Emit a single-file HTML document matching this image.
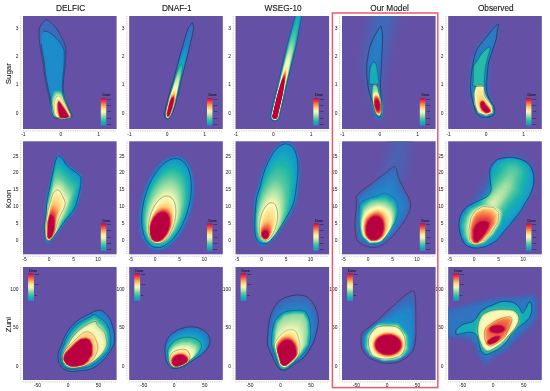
<!DOCTYPE html><html><head><meta charset="utf-8"><style>html,body{margin:0;padding:0;background:#fff;width:550px;height:391px;overflow:hidden}svg{display:block}.ax{stroke:#b4b4b4;stroke-width:0.8;stroke-dasharray:0.9 0.9}.tl{font-family:'Liberation Sans', Arial, Helvetica, sans-serif;font-size:4.9px;fill:#111}.lt{font-family:'Liberation Sans', Arial, Helvetica, sans-serif;font-size:2.5px;font-weight:bold;fill:#2a1a4a}.dose{font-family:'Liberation Sans', Arial, Helvetica, sans-serif;font-size:3.5px;fill:#000}.ti{font-family:'Liberation Sans', Arial, Helvetica, sans-serif;font-size:8.25px;fill:#111;stroke:#111;stroke-width:0.1px}.rl{font-family:'Liberation Sans', Arial, Helvetica, sans-serif;font-size:8.0px;fill:#111;stroke:#111;stroke-width:0.05px}</style></head><body><svg width="550" height="391" viewBox="0 0 550 391"><defs><linearGradient id="cb" x1="0" y1="0" x2="0" y2="1"><stop offset="0.00" stop-color="#be0a41"/><stop offset="0.10" stop-color="#de3646"/><stop offset="0.20" stop-color="#f57346"/><stop offset="0.30" stop-color="#fcb362"/><stop offset="0.40" stop-color="#fee594"/><stop offset="0.50" stop-color="#f3f8b9"/><stop offset="0.60" stop-color="#bde8a9"/><stop offset="0.70" stop-color="#73d2a2"/><stop offset="0.80" stop-color="#39bfa4"/><stop offset="0.90" stop-color="#18abb8"/><stop offset="1.00" stop-color="#1993ca"/></linearGradient><clipPath id="pc"><rect x="0" y="0" width="93.6" height="113.0"/></clipPath><filter id="bl" x="-5%" y="-5%" width="110%" height="110%"><feGaussianBlur stdDeviation="0.70"/></filter></defs><rect width="550" height="391" fill="#fff"/><text x="70.6" y="10.8" class="ti" text-anchor="middle">DELFIC</text><text x="176.8" y="10.8" class="ti" text-anchor="middle">DNAF-1</text><text x="283.1" y="10.8" class="ti" text-anchor="middle">WSEG-10</text><text x="389.6" y="10.8" class="ti" text-anchor="middle">Our Model</text><text x="495.8" y="10.8" class="ti" text-anchor="middle">Observed</text><text class="rl" text-anchor="middle" transform="translate(11.2,73.7) rotate(-90)">Sugar</text><text class="rl" text-anchor="middle" transform="translate(11.2,199.0) rotate(-90)">Koon</text><text class="rl" text-anchor="middle" transform="translate(11.2,324.7) rotate(-90)">Zuni</text><g transform="translate(23.0,16.0)"><rect width="93.6" height="113.0" fill="#6450a5"/><g clip-path="url(#pc)"><g filter="url(#bl)"><path fill="#5d55a9" d="M23.6,3.4 21.4,4.4 17.9,8.1 15.9,12.9 15.6,21.4 17.4,35.4 19.9,47.6 21.1,60.1 22.9,69.9 26.6,85.1 26.6,90.4 27.4,95.1 29.6,100.4 34.6,103.4 39.4,104.1 46.6,102.9 48.1,102.1 49.6,99.4 43.6,85.4 40.9,71.4 43.6,42.1 43.4,32.1 41.4,25.4 34.4,12.6 29.1,6.9 24.9,3.6Z"/><path fill="#5958ac" d="M23.6,3.6 21.4,4.6 19.4,6.6 16.9,10.9 16.1,12.9 15.9,21.9 17.9,37.1 20.1,47.9 21.1,58.9 23.4,71.1 26.9,85.4 26.6,88.9 27.6,95.4 29.9,100.4 34.6,103.1 37.4,103.9 40.1,103.9 45.9,102.9 48.1,101.9 49.4,99.1 43.6,86.1 40.6,70.9 43.4,42.6 43.1,31.9 41.4,25.9 34.1,12.6 29.1,7.1 24.9,3.9Z"/><path fill="#555bae" d="M23.4,3.9 21.6,4.6 19.1,7.1 16.6,11.9 16.1,13.9 16.1,22.9 17.6,34.6 20.1,46.9 21.6,60.9 26.9,84.6 26.9,89.9 27.6,94.9 29.6,99.9 30.9,101.1 33.9,102.6 37.6,103.9 46.6,102.6 48.4,101.4 49.1,98.9 43.4,85.6 40.6,72.9 41.1,61.6 43.4,41.1 42.9,31.6 41.1,25.6 34.1,12.9 28.9,7.1 24.6,3.9Z"/><path fill="#505eb1" d="M23.9,3.9 21.9,4.6 18.9,7.6 16.4,12.9 16.1,21.4 16.9,29.1 20.4,47.6 21.4,58.6 23.4,69.9 27.1,85.1 26.9,88.9 27.9,95.6 29.9,100.1 34.9,102.9 39.1,103.9 47.6,102.1 48.6,100.9 48.9,98.6 43.4,85.9 40.4,71.4 43.1,42.1 42.9,32.1 40.9,25.4 34.1,13.1 28.6,7.1Z"/><path fill="#4b62b3" d="M23.6,4.1 21.4,5.1 18.9,7.9 16.6,12.6 16.4,22.6 17.6,32.9 20.4,46.6 21.4,57.9 23.6,70.4 27.1,84.4 27.1,90.4 27.9,95.4 30.1,100.4 35.1,102.9 38.9,103.9 46.1,102.6 48.4,101.1 48.9,99.1 43.4,86.1 40.4,72.9 40.9,61.4 43.1,40.6 42.6,31.6 40.4,24.6 33.6,12.6 28.1,6.9 24.9,4.4Z"/><path fill="#4665b6" d="M23.4,4.4 21.6,5.1 18.9,8.1 16.9,12.4 16.4,20.9 17.1,28.9 20.6,47.4 22.1,61.4 27.1,83.9 27.1,89.6 27.9,95.1 29.9,99.9 33.6,102.1 37.4,103.6 45.9,102.6 48.4,101.1 48.6,98.6 43.4,86.4 40.4,74.1 40.1,71.1 42.9,41.9 42.6,32.4 40.6,25.6 33.6,12.9 27.9,6.9 24.6,4.4Z"/><path fill="#4168b8" d="M23.9,4.4 22.4,4.9 18.9,8.4 16.9,12.9 16.6,21.6 18.1,34.1 20.9,48.4 21.9,59.1 23.9,70.1 27.4,84.4 27.1,89.1 28.1,95.9 30.6,100.6 36.1,103.1 39.6,103.6 45.6,102.6 48.1,101.4 48.6,98.9 43.6,87.4 40.1,72.9 40.1,67.6 42.6,42.6 42.4,32.1 40.4,25.4 34.4,14.4 29.4,8.4Z"/><path fill="#3c6bba" d="M23.4,4.9 22.1,5.4 19.6,7.9 17.4,12.4 16.9,21.4 18.6,36.1 20.9,47.1 22.4,61.1 24.1,70.6 27.4,83.6 27.4,90.9 28.1,95.6 30.6,100.6 36.9,103.4 39.4,103.6 46.6,102.4 48.4,100.9 48.6,99.1 43.1,85.9 40.9,75.6 40.1,74.1 39.9,71.1 42.4,42.9 42.1,32.4 40.1,25.6 33.4,13.4 28.4,7.9 24.9,5.1Z"/><path fill="#376ebd" d="M21.1,14.6 19.9,15.6 17.6,19.4 17.6,27.4 21.1,47.9 22.9,63.1 27.4,83.1 27.4,90.4 28.1,95.4 30.4,100.4 36.4,103.1 39.1,103.6 46.4,102.4 48.4,100.9 48.6,99.1 43.4,86.9 39.9,72.9 39.9,67.9 42.1,42.6 41.6,33.4 38.9,27.6 32.9,20.6 26.1,15.6Z"/><path fill="#3272bf" d="M20.9,15.1 17.9,19.6 17.9,28.1 21.1,46.9 22.4,59.4 24.4,70.4 27.6,83.6 27.4,89.9 28.4,96.1 30.9,100.6 37.1,103.4 39.1,103.6 46.4,102.4 48.1,101.1 48.6,99.4 43.1,86.1 40.9,76.1 39.9,74.4 39.6,71.1 41.6,49.6 41.9,37.4 41.4,33.6 38.1,27.1 32.4,20.6 25.4,15.6Z"/><path fill="#2f76c1" d="M21.1,15.1 18.1,19.4 18.1,28.9 21.4,47.4 23.1,62.9 27.6,82.9 27.4,89.1 28.1,95.1 30.1,99.9 34.1,102.1 38.1,103.6 46.1,102.4 48.1,101.1 48.6,99.6 43.4,87.1 39.6,72.6 39.6,67.9 41.6,46.4 41.6,36.9 41.1,33.4 38.6,28.1 32.4,20.9 25.6,15.9Z"/><path fill="#2c79c3" d="M21.1,15.4 18.4,19.1 18.4,29.6 21.4,46.6 22.9,60.6 27.6,82.4 27.6,91.1 28.4,95.9 30.9,100.6 36.6,103.1 38.6,103.6 46.1,102.4 47.9,101.4 48.6,99.6 43.4,87.1 40.9,76.6 39.6,74.4 39.4,69.4 41.4,49.9 41.6,38.1 41.1,33.9 38.6,28.4 33.1,21.6 26.1,16.4Z"/><path fill="#297dc4" d="M21.4,15.4 18.4,19.6 18.4,28.6 21.6,47.4 22.9,59.9 24.6,69.6 27.9,82.9 27.6,90.6 28.4,95.6 30.6,100.4 36.6,103.1 39.9,103.4 46.9,102.1 48.4,100.6 48.4,98.9 43.6,87.9 39.4,72.6 39.4,67.9 41.4,45.9 40.9,33.4 38.1,27.9 32.6,21.4 25.9,16.4Z"/><path fill="#2681c6" d="M21.1,15.6 18.6,19.4 18.6,29.4 21.6,46.6 22.9,59.1 24.9,70.1 27.9,82.4 27.6,90.4 28.4,95.6 30.6,100.4 36.1,102.9 39.9,103.4 45.9,102.4 47.6,101.6 48.4,100.4 48.4,98.9 43.4,87.4 40.9,77.1 39.4,74.6 39.1,69.4 41.1,49.6 41.4,38.4 40.6,33.1 38.1,28.1 32.4,21.4 25.6,16.4Z"/><path fill="#2384c8" d="M21.1,15.9 18.6,19.9 18.6,28.1 21.9,47.1 23.1,59.6 27.9,81.6 27.6,89.6 28.6,96.4 30.1,99.6 31.1,100.6 37.6,103.4 46.6,102.1 48.4,100.4 48.1,98.1 43.4,87.4 40.9,77.4 39.4,74.9 39.1,73.1 39.4,64.4 40.9,50.9 41.1,37.6 40.6,33.6 38.1,28.4 32.1,21.4 26.1,16.9 24.4,16.1Z"/><path fill="#2088ca" d="M21.1,16.1 18.9,19.6 18.9,28.4 22.1,47.1 23.1,58.4 25.1,69.6 28.1,81.6 27.6,88.9 28.4,95.4 31.1,100.6 36.9,103.1 39.6,103.4 46.6,102.1 48.1,100.9 48.4,99.1 43.1,86.9 40.4,76.1 39.1,74.9 38.9,72.6 40.9,45.4 40.4,33.6 37.9,28.4 32.1,21.6 25.4,16.6Z"/><path fill="#1d8ccb" d="M22.4,17.9 20.4,20.9 20.4,27.6 23.4,44.9 24.6,57.4 26.6,68.4 28.9,77.1 27.9,84.4 27.9,91.4 28.6,96.1 30.9,100.4 36.4,102.9 39.4,103.4 46.4,102.1 47.9,101.1 48.4,99.1 43.4,87.6 40.4,76.4 37.6,74.1 37.4,67.6 39.4,48.4 39.4,37.9 38.9,34.9 36.4,29.9 31.4,23.6 23.6,17.9Z"/><path fill="#1b8fca" d="M30.6,74.6 28.9,78.6 27.9,85.1 28.4,94.9 30.4,99.9 37.9,103.4 47.1,101.9 48.4,100.1 48.1,98.4 43.4,87.6 40.1,76.1 37.1,74.1 31.6,74.1Z"/><path fill="#1a92ca" d="M30.1,75.4 28.9,78.9 27.9,86.1 28.4,94.9 30.1,99.4 30.9,100.4 37.9,103.4 47.4,101.6 48.4,99.4 43.1,87.1 40.1,76.4 36.9,74.1 31.9,74.1Z"/><path fill="#1796c9" d="M31.1,74.6 30.1,75.6 29.1,78.4 27.9,86.9 28.6,95.9 30.6,100.1 38.1,103.4 47.4,101.6 48.4,100.1 48.1,98.6 43.4,87.9 40.1,76.6 36.4,74.1 32.6,74.1Z"/><path fill="#159bc9" d="M31.1,74.9 29.1,78.9 28.1,84.9 28.4,94.1 30.4,99.6 33.6,101.6 38.1,103.4 46.9,101.9 48.1,100.6 48.1,98.9 43.1,87.4 40.1,76.9 36.9,74.4 32.1,74.4Z"/><path fill="#12a1c7" d="M31.9,74.6 30.6,75.6 29.1,79.4 28.1,86.1 28.6,95.4 30.4,99.6 33.1,101.4 38.4,103.4 47.1,101.6 48.1,100.4 48.1,98.9 43.1,87.4 39.9,76.9 37.1,74.6Z"/><path fill="#15a6c0" d="M31.9,74.9 30.4,76.4 29.1,79.9 28.1,87.4 28.6,95.1 30.6,99.9 37.6,103.1 41.9,102.9 47.1,101.6 48.1,100.4 48.1,99.1 43.1,87.6 40.1,77.6 37.1,74.9Z"/><path fill="#18acb8" d="M31.9,75.1 29.9,78.1 28.4,85.4 28.6,94.6 30.9,100.1 37.6,103.1 41.6,102.9 47.1,101.6 48.1,100.4 48.1,99.1 43.1,87.6 40.4,78.4 36.9,74.9Z"/><path fill="#1bb1b0" d="M32.1,75.1 30.9,76.4 29.1,80.9 28.4,86.6 28.9,95.6 30.6,99.6 37.6,103.1 47.1,101.6 48.1,99.4 42.9,87.1 39.9,77.9 37.1,75.1Z"/><path fill="#1eb6a9" d="M32.1,75.4 31.1,76.4 29.6,79.6 28.4,87.9 28.9,95.4 30.6,99.6 32.4,100.9 37.9,103.1 44.1,102.4 47.4,101.4 48.1,99.4 42.9,87.4 40.1,78.6 37.1,75.4Z"/><path fill="#28baa7" d="M32.1,75.6 31.1,76.6 29.6,80.1 28.6,86.4 28.9,95.1 30.4,99.1 31.1,100.1 37.9,103.1 46.9,101.6 47.9,100.6 47.9,98.6 42.9,87.4 39.9,78.6 36.9,75.4Z"/><path fill="#33bea5" d="M32.4,75.6 31.4,76.6 29.6,80.6 28.6,87.4 28.9,94.6 30.6,99.4 31.6,100.4 38.1,103.1 46.9,101.6 47.9,100.4 47.9,98.9 42.9,87.6 39.9,78.9 37.1,75.6Z"/><path fill="#3ec1a4" d="M32.4,75.9 29.9,80.4 28.9,86.1 28.9,93.9 30.6,99.4 38.1,103.1 47.1,101.4 47.9,100.4 47.9,98.9 42.6,87.1 40.1,79.6 37.1,75.9Z"/><path fill="#49c5a2" d="M32.4,76.1 29.9,80.9 28.9,87.4 29.1,95.1 30.9,99.6 38.4,103.1 47.1,101.4 47.9,100.4 47.4,97.6 42.9,87.9 39.6,79.1 37.1,76.1Z"/><path fill="#54c8a1" d="M32.4,76.4 29.9,81.6 29.1,86.4 29.1,94.4 30.6,99.1 31.9,100.4 37.4,102.9 42.1,102.6 47.1,101.4 47.9,100.1 47.6,98.4 42.6,87.4 40.1,80.4 37.6,76.6 36.4,76.1Z"/><path fill="#62cca1" d="M32.6,76.6 30.1,81.4 29.1,87.6 29.4,95.6 30.9,99.4 37.6,102.9 46.6,101.6 47.6,100.6 47.9,99.4 39.6,79.9 37.1,76.6Z"/><path fill="#73d2a2" d="M32.9,76.9 30.6,80.6 29.4,87.1 29.4,94.6 31.1,99.6 37.6,102.9 41.9,102.6 46.9,101.4 47.9,100.1 47.6,98.6 39.4,79.9 36.9,76.9Z"/><path fill="#84d6a3" d="M32.6,77.4 30.4,82.1 29.4,89.1 29.6,95.4 30.9,99.1 32.6,100.6 37.9,102.9 41.6,102.6 46.9,101.4 47.6,100.4 47.4,98.1 39.9,81.1 37.1,77.4Z"/><path fill="#94dca4" d="M33.1,77.6 30.6,82.1 29.6,88.4 29.9,96.1 31.1,99.4 37.9,102.9 46.9,101.4 47.6,100.4 47.1,97.6 39.6,81.1 37.1,77.9Z"/><path fill="#a5e0a5" d="M33.4,77.9 31.1,81.6 29.9,88.4 30.1,96.6 31.1,99.1 32.4,100.4 38.1,102.9 44.1,102.1 47.1,101.1 47.6,100.4 47.4,98.4 39.4,81.1 36.9,78.1Z"/><path fill="#b5e5a8" d="M33.4,78.4 31.1,82.4 30.1,88.1 30.4,96.9 31.4,99.4 38.1,102.9 46.6,101.4 47.6,100.1 47.1,97.9 39.1,81.1 37.9,79.4 36.4,78.4Z"/><path fill="#c4eaab" d="M33.4,78.9 31.1,83.4 30.4,88.1 30.4,94.6 31.4,99.1 32.6,100.4 38.4,102.9 46.6,101.4 47.6,100.1 47.1,98.1 39.9,82.9 37.1,79.1 35.4,78.6Z"/><path fill="#d4efaf" d="M33.6,79.1 31.6,82.6 30.6,88.1 30.6,94.9 31.9,99.6 37.4,102.6 42.4,102.4 46.9,101.1 47.4,98.9 39.6,82.9 36.9,79.4Z"/><path fill="#e3f4b2" d="M33.6,79.6 31.6,83.6 30.9,88.1 30.9,94.9 32.1,99.6 37.6,102.6 42.1,102.4 46.9,101.1 47.4,100.4 47.1,98.4 38.9,82.1 36.4,79.6Z"/><path fill="#eef7b6" d="M33.6,80.1 31.9,83.9 31.1,88.4 31.1,94.9 32.4,99.6 37.6,102.6 42.1,102.4 46.4,101.4 47.4,100.1 47.1,98.6 39.4,83.4 36.6,80.1Z"/><path fill="#f3f8b9" d="M34.1,80.4 32.1,84.1 31.4,88.9 31.6,96.6 32.6,99.6 37.9,102.6 41.9,102.4 46.6,101.1 47.4,99.9 46.6,97.6 39.6,84.4 36.9,80.9Z"/><path fill="#f9f9bc" d="M34.4,80.9 32.4,84.6 31.6,90.4 32.1,97.4 33.1,99.9 37.9,102.6 43.1,102.1 46.6,101.1 47.1,99.4 46.4,97.4 39.9,85.4 36.9,81.6Z"/><path fill="#fcf7b7" d="M34.4,81.6 32.9,84.6 32.1,89.6 32.4,96.4 33.6,100.1 38.1,102.6 46.1,101.4 47.1,99.6 43.4,91.6 38.1,83.6 36.4,82.1Z"/><path fill="#fdf0a9" d="M34.4,82.4 33.1,85.4 32.6,88.9 32.6,94.9 33.9,99.9 35.9,101.6 38.1,102.6 42.9,102.1 46.4,101.1 46.9,99.4 42.6,90.9 38.1,84.4 35.6,82.4Z"/><path fill="#fde99b" d="M34.6,82.9 33.6,85.1 33.1,88.4 33.1,95.1 34.6,100.4 36.4,101.9 38.6,102.6 46.4,101.1 46.9,99.9 43.1,92.1 37.9,84.9 35.9,83.1Z"/><path fill="#fee28d" d="M34.6,83.6 33.4,88.9 33.4,94.4 34.1,98.4 35.1,100.6 37.6,102.4 42.6,102.1 46.1,101.1 46.6,99.6 43.1,92.6 37.1,84.6 35.4,83.4Z"/><path fill="#fed682" d="M34.9,83.9 33.6,88.9 33.6,94.1 35.4,100.6 37.6,102.4 42.4,102.1 46.1,101.1 46.6,100.1 43.4,93.4 37.6,85.6 35.9,83.9Z"/><path fill="#fdca78" d="M35.1,84.1 34.4,85.4 33.9,88.4 33.9,94.1 34.6,98.1 35.9,101.1 37.9,102.4 45.6,101.4 46.4,100.9 46.4,99.9 42.9,92.9 35.9,84.1Z"/><path fill="#fdbe6d" d="M35.1,84.4 34.1,87.6 34.1,94.6 35.9,100.9 38.1,102.4 42.1,102.1 45.9,101.1 46.4,100.1 43.1,93.6 36.9,85.1Z"/><path fill="#fcb362" d="M35.4,84.4 34.4,86.9 34.1,93.1 34.9,97.9 36.1,101.1 38.4,102.4 45.9,101.1 46.1,99.9 43.1,93.9 37.1,85.6Z"/><path fill="#fba55b" d="M35.4,84.6 34.4,87.6 34.4,94.4 36.4,101.4 37.4,102.1 41.6,102.1 45.6,101.1 46.1,100.6 45.9,99.4 42.4,92.9 37.4,86.1Z"/><path fill="#f99755" d="M35.1,84.9 34.4,88.1 34.4,93.1 34.9,96.6 36.4,101.1 37.6,102.1 41.1,102.1 45.6,101.1 45.9,99.6 42.4,93.1 36.1,84.9Z"/><path fill="#f8884f" d="M35.4,84.9 34.4,89.1 34.6,94.4 36.6,101.4 37.9,102.1 40.1,102.1 45.4,101.1 45.9,99.9 42.4,93.4 37.1,86.1Z"/><path fill="#f67a49" d="M35.4,85.1 34.6,87.6 34.6,93.6 35.4,97.9 36.9,101.6 39.4,102.1 45.4,101.1 45.9,100.4 42.9,94.4 36.9,85.9Z"/><path fill="#f26c46" d="M35.4,85.1 34.6,88.4 34.6,92.1 35.4,97.4 36.6,101.1 37.6,101.9 42.1,101.9 45.1,101.1 45.6,99.6 42.1,93.4 36.6,85.6Z"/><path fill="#ed5f46" d="M35.4,85.4 34.6,89.1 34.9,94.1 36.9,101.4 37.9,101.9 41.9,101.9 45.1,101.1 45.6,99.9 42.6,94.4 36.9,86.1Z"/><path fill="#e85146" d="M35.6,85.4 34.9,87.6 34.9,93.1 35.6,97.6 36.9,101.1 38.4,101.9 44.9,101.1 45.4,99.6 43.1,95.4 37.4,86.9Z"/><path fill="#e34446" d="M35.6,85.4 34.9,88.1 34.9,91.9 35.6,97.1 37.1,101.4 42.9,101.6 45.1,100.9 45.4,99.6 42.9,95.1 37.6,87.4Z"/><path fill="#de3646" d="M35.6,85.6 34.9,90.6 35.4,95.1 36.9,100.9 37.9,101.6 42.6,101.6 44.6,101.1 45.4,99.9 43.4,96.1 37.4,87.1Z"/><path fill="#d72b45" d="M35.9,85.6 35.1,87.4 35.1,92.6 35.9,97.4 37.1,101.1 42.1,101.6 44.9,100.9 45.1,99.6 43.9,97.1Z"/><path fill="#d02244" d="M35.6,85.9 35.1,91.6 37.1,100.9 37.9,101.4 43.1,101.4 44.6,100.9 45.1,99.6 36.6,86.4Z"/><path fill="#c91843" d="M35.9,85.9 35.1,89.1 35.4,93.4 37.1,100.6 38.6,101.4 42.9,101.4 44.9,100.6 44.9,99.4 42.9,95.9Z"/><path fill="#c20f42" d="M35.9,86.1 35.4,87.6 35.4,92.1 36.4,98.1 37.4,100.9 40.4,101.4 44.4,100.9 44.9,99.6Z"/><path fill="#bd0841" d="M35.9,86.4 35.4,88.9 35.6,93.4 37.4,100.6 38.6,101.1 42.9,101.1 44.4,100.6 44.6,99.4 37.9,88.6Z"/><path fill="#bc0541" d="M35.9,86.6 35.6,91.9 37.4,100.4 41.1,101.1 44.1,100.6 44.6,100.1 44.1,98.6 37.4,88.1Z"/><path fill="#ba0241" d="M36.1,86.9 35.9,92.1 37.6,100.1 38.1,100.6 40.9,100.9 44.1,100.4 44.4,99.6Z"/><path fill="#b90041" d="M38.4,94.6 39.4,98.9 41.1,98.9Z"/></g></g><path fill="none" stroke="#1c1c30" stroke-width="0.55" stroke-opacity="0.75" stroke-linejoin="round" d="M24.10,3.80C25.38,4.28 27.60,6.20 29.20,7.70C30.80,9.20 32.32,10.88 33.70,12.80C35.08,14.72 36.33,17.07 37.50,19.20C38.67,21.33 39.85,23.47 40.70,25.60C41.55,27.73 42.22,29.60 42.60,32.00C42.98,34.40 43.10,37.00 43.00,40.00C42.90,43.00 42.33,46.67 42.00,50.00C41.67,53.33 41.30,56.67 41.00,60.00C40.70,63.33 40.25,67.17 40.20,70.00C40.15,72.83 40.43,74.83 40.70,77.00C40.97,79.17 41.25,81.17 41.80,83.00C42.35,84.83 43.22,86.17 44.00,88.00C44.78,89.83 45.67,92.08 46.50,94.00C47.33,95.92 49.00,98.25 49.00,99.50C49.00,100.75 48.00,100.92 46.50,101.50C45.00,102.08 41.92,102.78 40.00,103.00C38.08,103.22 36.58,103.22 35.00,102.80C33.42,102.38 31.53,101.97 30.50,100.50C29.47,99.03 29.47,97.02 28.80,94.00C28.13,90.98 27.13,85.40 26.50,82.40C25.87,79.40 25.52,78.13 25.00,76.00C24.48,73.87 24.03,72.77 23.40,69.60C22.77,66.43 21.73,60.77 21.20,57.00C20.67,53.23 20.65,50.10 20.20,47.00C19.75,43.90 19.07,41.57 18.50,38.40C17.93,35.23 17.20,31.07 16.80,28.00C16.40,24.93 16.17,22.53 16.10,20.00C16.03,17.47 16.00,14.80 16.40,12.80C16.80,10.80 17.65,9.33 18.50,8.00C19.35,6.67 20.57,5.50 21.50,4.80C22.43,4.10 22.82,3.32 24.10,3.80Z"/><path fill="none" stroke="#1c1c30" stroke-width="0.55" stroke-opacity="0.75" stroke-linejoin="round" d="M20.90,15.30C21.63,15.42 23.28,14.93 25.30,16.00C27.32,17.07 30.87,19.68 33.00,21.70C35.13,23.72 36.82,26.18 38.10,28.10C39.38,30.02 40.17,31.48 40.70,33.20C41.23,34.92 41.25,35.60 41.30,38.40C41.35,41.20 41.22,46.40 41.00,50.00C40.78,53.60 40.30,56.67 40.00,60.00C39.70,63.33 39.25,67.17 39.20,70.00C39.15,72.83 39.43,74.83 39.70,77.00C39.97,79.17 40.25,81.17 40.80,83.00C41.35,84.83 42.22,86.17 43.00,88.00C43.78,89.83 44.70,92.12 45.50,94.00C46.30,95.88 47.80,98.22 47.80,99.30C47.80,100.38 46.80,100.08 45.50,100.50C44.20,100.92 41.75,101.62 40.00,101.80C38.25,101.98 36.40,101.98 35.00,101.60C33.60,101.22 32.43,100.77 31.60,99.50C30.77,98.23 30.67,96.85 30.00,94.00C29.33,91.15 28.23,85.40 27.60,82.40C26.97,79.40 26.70,78.13 26.20,76.00C25.70,73.87 25.23,72.77 24.60,69.60C23.97,66.43 22.93,60.77 22.40,57.00C21.87,53.23 21.83,50.10 21.40,47.00C20.97,43.90 20.32,41.57 19.80,38.40C19.28,35.23 18.55,29.73 18.30,28.00"/><path fill="none" stroke="#6a6a50" stroke-width="0.50" stroke-opacity="0.70" stroke-linejoin="round" d="M44.8,93.3 45.0,93.7 45.2,94.1 45.4,94.5 45.6,94.9 45.8,95.4 46.0,95.9 46.3,96.5 46.6,97.1 46.9,97.9 47.3,98.7 47.8,99.6 47.8,100.4 47.4,100.9 47.0,101.4 46.6,101.9 45.9,102.1 45.2,102.2 44.6,102.3 43.9,102.4 43.3,102.6 42.8,102.7 42.2,102.8 41.7,102.9 41.1,103.0 40.6,103.0 40.1,103.1 39.6,103.2 39.1,103.3 38.5,103.4 38.0,103.3 37.5,103.3 37.0,103.2 36.5,103.1 35.9,103.1 35.4,103.0 34.9,102.9 34.4,102.8 33.8,102.8 33.5,102.2 33.3,101.6 33.0,101.0 32.8,100.5 32.6,100.0 32.4,99.5 32.2,99.1 32.0,98.7 31.9,98.3 31.7,97.9 31.6,97.5 31.5,97.1 31.4,96.7 31.4,96.3 31.4,95.9 31.3,95.5 31.3,95.1 31.3,94.7 31.3,94.4 31.2,94.0 31.2,93.7 31.2,93.3 31.2,93.0 31.2,92.6 31.1,92.2 31.1,91.9 31.1,91.5 31.1,91.1 31.1,90.7 31.1,90.2 31.1,89.8 31.1,89.3 31.2,88.9 31.3,88.4 31.3,87.9 31.4,87.4 31.5,86.8 31.6,86.2 31.7,85.5 31.8,84.8 31.9,83.9 32.2,83.2 32.5,82.5 32.9,81.8 33.3,81.0 33.7,80.1 34.4,80.0 35.2,80.1 35.9,80.2 36.6,80.4 37.4,81.0 38.0,81.9 38.6,82.7 39.1,83.4 39.5,84.1 39.8,84.7 40.2,85.3 40.4,85.8 40.7,86.3 41.0,86.7 41.2,87.1 41.4,87.5 41.6,87.8 41.8,88.1 41.9,88.5 42.1,88.8 42.3,89.0 42.5,89.3 42.6,89.6 42.8,89.8 43.0,90.1 43.1,90.4 43.3,90.6 43.4,90.9 43.6,91.2 43.8,91.5 43.9,91.7 44.1,92.0 44.2,92.3 44.4,92.6 44.6,93.0Z"/><rect x="77.8" y="82.0" width="5.4" height="27.5" fill="url(#cb)"/><text x="79.4" y="80.4" class="dose">Dose</text><text x="84.0" y="83.9" class="lt">600</text><text x="84.0" y="90.1" class="lt">500</text><text x="84.0" y="96.3" class="lt">400</text><text x="84.0" y="102.5" class="lt">300</text><text x="84.0" y="108.7" class="lt">200</text><line x1="-2.3" y1="0" x2="-2.3" y2="113.0" class="ax"/><line x1="0" y1="114.9" x2="93.6" y2="114.9" class="ax"/><text x="0.3" y="120.0" class="tl" text-anchor="middle">-1</text><text x="37.9" y="120.0" class="tl" text-anchor="middle">0</text><text x="75.5" y="120.0" class="tl" text-anchor="middle">1</text><text x="-4.6" y="13.6" class="tl" text-anchor="end">3</text><text x="-4.6" y="42.0" class="tl" text-anchor="end">2</text><text x="-4.6" y="70.4" class="tl" text-anchor="end">1</text><text x="-4.6" y="98.9" class="tl" text-anchor="end">0</text></g><g transform="translate(129.2,16.0)"><rect width="93.6" height="113.0" fill="#6450a5"/><g clip-path="url(#pc)"><g filter="url(#bl)"><path fill="#5d55a9" d="M63.6,5.9 62.4,6.4 60.6,8.4 57.1,15.4 49.1,41.9 43.9,62.6 38.1,81.9 34.9,96.9 35.1,101.9 37.4,104.1 38.6,104.1 40.9,102.9 43.1,99.9 45.6,93.9 48.1,85.4 60.6,35.1 64.6,16.9 65.1,9.4 64.4,6.4Z"/><path fill="#5958ac" d="M63.9,6.4 62.9,6.4 61.1,8.1 57.4,15.4 49.6,40.9 44.4,61.6 38.6,80.9 35.1,96.6 35.4,101.9 37.4,103.9 40.1,103.1 42.9,99.9 44.9,95.4 48.4,83.6 63.9,19.4 64.9,13.9 64.9,9.4Z"/><path fill="#555bae" d="M63.9,6.6 62.9,6.6 61.1,8.4 57.6,15.1 53.1,29.4 44.4,62.1 38.4,82.4 35.1,97.9 35.4,101.4 37.6,103.9 39.9,103.1 42.1,100.9 44.6,95.6 46.9,88.6 63.6,19.9 64.9,12.4 64.6,8.9Z"/><path fill="#505eb1" d="M63.4,6.6 61.1,8.6 59.9,10.6 55.9,20.9 38.6,81.9 35.4,96.6 35.4,100.9 37.4,103.6 38.6,103.6 40.4,102.6 42.9,99.4 44.9,94.6 48.1,83.6 52.4,64.9 60.4,33.9 64.1,16.6 64.6,9.9 64.1,7.4Z"/><path fill="#4b62b3" d="M63.4,6.9 61.9,7.9 59.9,10.9 57.1,17.4 38.9,81.4 35.4,97.6 35.6,101.4 36.1,102.4 37.9,103.6 40.6,102.4 42.6,99.6 44.9,94.4 47.9,84.1 63.9,17.4 64.4,9.1Z"/><path fill="#4665b6" d="M63.4,7.1 61.9,8.1 59.6,11.6 56.4,20.1 38.6,82.6 35.4,98.4 35.9,101.9 37.4,103.4 38.9,103.4 40.1,102.6 42.4,99.9 44.9,94.1 47.4,85.6 63.4,19.1 64.4,13.4 64.4,9.9Z"/><path fill="#4168b8" d="M63.4,7.4 61.9,8.4 59.6,11.9 55.6,22.9 39.1,81.1 35.6,96.6 35.6,100.9 36.1,102.1 37.6,103.4 40.4,102.4 42.1,100.1 43.9,96.6 46.6,88.1 62.1,24.6 64.1,14.1 64.1,9.4Z"/><path fill="#3c6bba" d="M63.4,7.6 62.9,7.6 60.9,10.1 57.6,17.1 50.1,41.9 44.4,63.9 39.1,81.4 35.6,97.4 35.9,101.4 37.9,103.4 39.9,102.6 42.4,99.6 44.6,94.4 47.6,84.1 61.9,25.1 64.1,13.1Z"/><path fill="#376ebd" d="M63.4,8.1 62.6,8.1 58.9,14.4 55.1,25.4 39.9,78.9 36.9,90.6 35.6,97.9 35.9,101.1 37.4,103.1 39.4,102.9 41.9,100.4 43.6,96.9 46.1,89.4 61.4,26.9 63.9,13.4Z"/><path fill="#3272bf" d="M62.6,10.4 60.9,11.6 58.9,15.1 55.1,25.9 39.1,81.9 36.9,90.9 35.6,98.6 35.9,101.1 37.6,103.1 40.4,102.1 42.1,99.9 44.1,95.4 47.6,83.6 61.6,24.9 63.4,14.6 63.4,12.1Z"/><path fill="#2f76c1" d="M61.6,14.4 60.4,14.9 59.1,16.4 54.6,28.1 39.1,82.1 35.9,96.6 35.9,100.9 37.9,103.1 39.6,102.6 41.4,100.9 43.4,97.1 47.6,83.4 60.4,29.9 62.4,18.6Z"/><path fill="#2c79c3" d="M60.4,18.6 57.9,20.9 55.1,27.4 39.4,81.4 35.9,97.1 35.9,100.6 36.4,101.9 37.9,103.1 39.9,102.4 42.1,99.6 44.4,94.4 47.4,84.1 60.4,28.6 61.1,24.1 61.1,20.1Z"/><path fill="#297dc4" d="M59.4,22.6 57.4,24.1 53.9,32.1 39.4,81.6 35.9,97.4 36.1,101.1 37.6,102.9 38.9,102.9 40.1,102.1 42.6,98.6 47.4,83.9 59.4,32.1 60.1,26.9 59.9,23.4Z"/><path fill="#2681c6" d="M58.1,26.9 56.6,27.9 55.4,29.9 52.6,36.4 39.6,80.9 35.9,97.9 36.1,101.1 37.6,102.9 38.9,102.9 40.1,102.1 41.9,99.9 44.6,93.4 47.1,84.6 58.1,37.6 58.9,32.9 58.9,28.1Z"/><path fill="#2384c8" d="M57.6,29.1 55.9,30.4 53.1,35.6 38.9,83.9 35.9,98.6 36.4,101.6 37.9,102.9 39.6,102.4 42.1,99.4 46.1,88.1 57.6,39.4 58.4,34.4 58.4,30.9Z"/><path fill="#2088ca" d="M57.4,30.6 56.6,30.6 54.9,32.6 52.6,37.6 39.4,82.1 36.1,96.4 36.1,100.9 37.9,102.9 39.6,102.4 41.6,100.1 43.6,95.9 45.9,88.9 57.4,39.9 57.9,36.1 57.9,31.6Z"/><path fill="#1d8ccb" d="M56.9,31.9 54.6,33.9 51.6,40.9 39.4,82.4 36.1,96.6 36.1,100.6 36.9,102.1 38.1,102.9 41.1,100.9 43.1,97.1 47.4,83.1 57.1,40.4 57.6,33.9Z"/><path fill="#1b8fca" d="M56.4,33.1 53.9,35.9 51.9,40.6 39.6,81.6 36.1,97.1 36.1,100.4 37.6,102.6 39.9,102.1 42.1,99.1 45.1,91.1 47.1,83.9 56.4,43.6 57.1,39.1 57.1,34.1Z"/><path fill="#1a92ca" d="M56.4,34.6 55.6,34.6 54.4,35.9 51.9,41.1 40.6,78.1 36.1,97.4 36.4,101.1 37.6,102.6 39.4,102.4 41.4,100.4 43.1,96.9 45.9,88.4 55.9,45.6 56.9,39.4Z"/><path fill="#1796c9" d="M55.9,35.9 54.9,36.1 53.6,37.9 51.4,42.9 39.6,81.9 36.1,97.9 36.4,101.1 37.9,102.6 39.4,102.4 41.6,99.9 45.6,89.1 55.4,47.6 56.6,39.1Z"/><path fill="#159bc9" d="M55.4,38.1 54.6,38.1 52.9,40.4 50.9,45.1 39.6,82.1 36.1,98.6 36.4,100.9 37.9,102.6 39.6,102.1 42.1,98.9 45.6,88.9 55.1,47.9 55.9,43.1 55.9,39.1Z"/><path fill="#12a1c7" d="M54.6,40.1 52.4,42.4 50.1,47.9 39.6,82.4 36.4,96.6 36.4,100.6 38.1,102.6 40.6,101.1 42.9,97.1 47.4,82.1 54.9,48.1 55.4,41.4Z"/><path fill="#15a6c0" d="M54.1,42.4 52.6,43.4 50.4,47.9 40.4,79.9 36.4,96.9 36.4,100.4 37.6,102.4 38.9,102.4 40.1,101.6 41.9,99.1 45.6,88.4 53.6,53.9 54.9,45.6Z"/><path fill="#18acb8" d="M53.6,44.6 51.4,46.6 48.4,53.9 39.9,81.9 36.4,97.4 36.6,101.1 37.9,102.4 39.4,102.1 41.4,99.9 44.9,90.9 48.9,75.4 54.1,49.6 54.1,45.4Z"/><path fill="#1bb1b0" d="M53.1,46.9 52.4,46.9 51.4,47.9 49.1,52.4 40.6,79.4 36.4,97.9 36.6,100.9 37.9,102.4 39.6,101.9 41.6,99.4 45.4,88.9 52.9,56.4 53.6,51.4 53.6,47.9Z"/><path fill="#1eb6a9" d="M52.6,48.6 51.9,48.6 50.9,49.6 48.6,54.1 40.1,81.4 36.6,96.4 36.6,100.6 38.1,102.4 39.9,101.6 42.1,98.4 45.1,89.6 53.1,54.1 53.1,49.4Z"/><path fill="#28baa7" d="M52.4,49.9 51.6,49.9 50.4,51.1 48.1,55.9 40.1,81.6 36.6,96.6 36.6,100.6 37.9,102.1 39.1,102.1 41.4,99.6 45.1,89.4 52.1,59.1 52.9,54.4 52.9,50.9Z"/><path fill="#33bea5" d="M51.9,50.9 49.9,52.6 47.6,57.6 40.4,80.9 36.6,96.9 36.6,100.4 37.9,102.1 39.4,101.9 41.6,99.1 44.9,90.1 48.1,77.6 52.1,58.6 52.6,52.4Z"/><path fill="#3ec1a4" d="M51.6,51.9 50.4,52.6 47.9,57.4 40.4,81.1 36.6,97.4 36.6,100.1 37.9,102.1 39.4,101.9 41.1,99.9 42.6,96.9 45.4,88.1 51.9,59.4 52.4,53.6Z"/><path fill="#49c5a2" d="M51.4,53.1 49.6,54.4 47.4,59.1 39.9,83.1 36.6,97.6 36.9,100.9 38.1,102.1 39.6,101.6 41.4,99.4 45.1,88.9 51.6,60.1 51.9,53.6Z"/><path fill="#54c8a1" d="M51.1,54.1 49.4,55.4 47.1,60.1 40.1,82.4 36.6,98.1 36.9,100.6 37.4,101.6 38.4,102.1 40.1,101.1 42.1,97.9 46.9,82.1 51.6,59.1 51.6,55.1Z"/><path fill="#62cca1" d="M50.6,55.1 49.1,56.4 47.4,59.9 40.9,79.9 36.9,96.6 36.9,100.6 37.9,101.9 39.1,101.9 41.1,99.6 44.9,89.4 50.9,63.1 51.4,56.1Z"/><path fill="#73d2a2" d="M50.6,56.4 49.1,57.1 47.4,60.4 40.4,81.9 36.9,96.9 36.9,100.4 37.9,101.9 39.4,101.6 41.4,99.1 44.6,90.1 50.6,63.9 51.1,57.4Z"/><path fill="#84d6a3" d="M50.1,57.4 49.1,57.9 47.1,61.4 40.6,81.1 36.9,97.1 36.9,100.1 38.1,101.9 39.4,101.6 41.6,98.6 45.1,88.1 50.6,63.1 50.9,58.9Z"/><path fill="#94dca4" d="M50.1,58.6 49.4,58.6 48.1,59.9 46.9,62.4 40.6,81.4 36.9,97.4 37.1,100.9 38.1,101.9 39.6,101.4 40.9,99.9 42.4,96.9 44.9,88.9 49.9,66.9 50.6,61.1Z"/><path fill="#a5e0a5" d="M49.6,59.6 48.1,60.6 46.6,63.4 40.1,83.4 36.9,97.6 37.1,100.6 38.4,101.9 39.9,101.1 42.1,97.4 45.4,86.9 49.9,66.1 50.1,60.4Z"/><path fill="#b5e5a8" d="M49.4,60.6 47.9,61.6 46.1,65.1 40.4,82.6 36.9,98.1 37.1,100.6 37.9,101.6 39.1,101.6 41.4,98.9 44.4,90.4 49.4,68.4 49.9,61.6Z"/><path fill="#c4eaab" d="M49.1,62.1 47.6,62.9 46.1,65.6 40.4,82.9 37.1,96.6 37.1,100.4 38.1,101.6 39.4,101.4 40.9,99.6 44.1,91.1 48.6,71.9 49.6,64.4Z"/><path fill="#d4efaf" d="M48.6,63.9 47.4,64.4 45.9,66.9 40.6,82.1 37.1,96.9 37.1,100.4 38.1,101.6 39.4,101.4 41.1,99.1 44.6,89.1 48.4,72.6 49.1,67.1Z"/><path fill="#e3f4b2" d="M48.1,65.9 46.6,66.6 45.1,69.4 40.1,84.1 37.1,97.1 37.1,100.1 38.4,101.6 39.6,101.1 41.4,98.6 44.4,89.9 48.1,73.4 48.6,69.1Z"/><path fill="#eef7b6" d="M47.4,67.6 45.9,68.9 44.4,71.6 39.1,88.1 37.1,97.1 37.1,99.9 38.4,101.6 40.4,100.1 42.1,96.9 45.1,86.9 48.1,72.1 48.1,68.9Z"/><path fill="#f3f8b9" d="M46.9,69.4 45.1,70.9 43.6,73.9 40.4,83.6 37.1,97.6 37.4,100.6 38.1,101.4 39.1,101.4 40.9,99.4 43.9,91.4 47.6,74.9 47.9,71.9Z"/><path fill="#f9f9bc" d="M46.9,70.6 46.1,70.6 45.1,71.6 43.4,74.9 40.4,83.9 37.1,97.9 37.4,100.4 38.1,101.4 39.4,101.1 41.1,98.9 43.6,92.1 47.4,75.6 47.4,71.6Z"/><path fill="#fcf7b7" d="M46.4,71.6 45.4,72.1 43.1,75.9 39.9,85.9 37.4,96.6 37.4,100.4 38.1,101.4 39.4,101.1 40.6,99.6 44.1,90.1 47.1,76.4 47.1,72.9Z"/><path fill="#fdf0a9" d="M46.4,72.9 45.6,72.9 43.9,74.9 40.1,85.1 37.4,96.9 37.4,100.1 38.4,101.4 39.6,100.9 40.9,99.1 43.9,90.9 46.9,77.1 46.9,74.1Z"/><path fill="#fde99b" d="M45.9,73.9 44.1,75.1 42.9,77.4 39.6,87.1 37.4,96.9 37.4,100.1 38.1,101.1 39.1,101.1 41.1,98.6 43.6,91.6 46.4,79.9 46.6,75.1Z"/><path fill="#fee28d" d="M45.6,74.9 43.4,76.9 40.4,84.6 37.4,97.1 37.4,99.9 38.1,101.1 39.1,101.1 40.6,99.4 43.4,92.4 46.1,80.9 46.4,76.4Z"/><path fill="#fed682" d="M45.6,76.1 44.6,76.1 43.6,77.1 41.1,82.4 37.4,97.4 37.4,99.6 38.1,101.1 39.4,100.9 40.6,99.4 43.4,92.1 45.9,81.9 46.1,77.6Z"/><path fill="#fdca78" d="M45.4,77.1 44.4,77.1 43.1,78.4 40.6,84.1 37.4,97.9 37.6,100.4 38.4,101.1 39.4,100.9 40.9,98.9 43.1,92.9 45.9,81.4 45.9,78.1Z"/><path fill="#fdbe6d" d="M44.9,77.6 43.6,78.1 42.6,79.4 39.6,87.9 37.6,96.6 37.6,100.1 38.4,101.1 40.4,99.6 43.4,91.9 45.6,82.4 45.6,78.6Z"/><path fill="#fcb362" d="M44.9,78.1 43.9,78.4 42.4,80.1 40.4,85.4 37.6,96.9 37.6,100.1 38.1,100.9 39.1,100.9 40.6,99.1 42.9,93.4 45.6,81.9 45.6,79.4Z"/><path fill="#fba55b" d="M44.6,78.4 42.4,80.4 40.4,85.6 37.6,97.1 37.6,99.9 38.1,100.9 39.1,100.9 40.9,98.6 43.1,92.4 45.4,83.1 45.4,79.4Z"/><path fill="#f99755" d="M44.9,78.9 43.9,78.9 42.9,79.9 40.6,84.9 37.6,97.4 37.6,99.6 38.4,100.9 39.4,100.6 40.4,99.4 43.4,91.4 45.4,82.6 45.4,79.9Z"/><path fill="#f8884f" d="M44.6,79.1 43.9,79.1 42.9,80.1 40.6,85.1 37.6,97.6 37.6,99.4 38.4,100.9 39.6,100.4 40.6,98.9 42.9,92.9 45.1,83.9 45.4,81.1Z"/><path fill="#f67a49" d="M44.4,79.4 42.6,80.6 40.4,86.1 37.9,96.4 37.6,98.9 38.1,100.6 39.1,100.6 40.9,98.4 43.1,91.9 45.1,83.4 45.1,80.4Z"/><path fill="#f26c46" d="M44.4,79.6 42.6,80.9 40.9,84.6 37.9,96.6 37.9,100.1 38.4,100.6 39.1,100.6 40.4,99.1 42.9,92.6 45.1,82.9 45.1,81.1Z"/><path fill="#ed5f46" d="M44.1,79.9 42.1,81.9 40.6,85.6 37.9,96.9 37.9,99.9 38.4,100.6 39.4,100.4 40.6,98.6 42.9,92.4 44.9,84.1 44.9,80.9Z"/><path fill="#e85146" d="M44.4,80.4 43.6,80.4 42.4,81.6 40.1,87.6 37.9,97.1 37.9,99.6 38.6,100.6 40.1,99.4 42.9,92.1 44.9,83.6Z"/><path fill="#e34446" d="M44.4,80.6 42.9,81.1 40.6,86.1 37.9,97.6 38.4,100.4 39.1,100.4 40.4,98.9 42.6,92.9 44.6,84.9 44.9,82.1Z"/><path fill="#de3646" d="M44.1,80.9 43.4,80.9 42.1,82.4 40.6,86.4 37.9,98.6 38.4,100.4 39.9,99.6 42.6,92.6 44.6,84.4 44.6,81.4Z"/><path fill="#d72b45" d="M43.9,80.9 42.1,82.6 40.1,88.4 38.1,96.9 38.1,99.9 38.6,100.4 39.6,99.9 40.9,97.6 43.4,89.6 44.6,83.9 44.6,81.9Z"/><path fill="#d02244" d="M43.9,81.1 42.4,82.4 40.9,85.9 38.1,97.1 38.4,100.1 39.9,99.4 42.6,92.1 44.6,83.1Z"/><path fill="#c91843" d="M43.9,81.4 42.4,82.6 40.6,87.1 38.1,97.6 38.6,100.1 39.6,99.6 40.9,97.4 44.4,84.6 44.4,81.9Z"/><path fill="#c20f42" d="M43.9,81.6 42.6,82.4 40.6,87.4 38.4,96.6 38.6,100.1 39.9,99.1 42.4,92.4 44.4,83.9Z"/><path fill="#bd0841" d="M43.9,81.9 42.6,82.6 40.9,86.9 38.4,97.1 38.6,99.9 39.9,98.9 42.1,92.9 44.1,84.9Z"/><path fill="#bc0541" d="M43.9,82.1 42.6,82.9 41.4,85.6 38.6,96.6 38.6,99.6 39.6,99.1 41.6,94.1 43.9,85.6Z"/><path fill="#ba0241" d="M43.6,82.4 42.9,82.9 41.1,87.1 38.6,97.6 38.9,99.4 40.6,96.6 43.6,85.9Z"/></g></g><path fill="none" stroke="#1c1c30" stroke-width="0.60" stroke-opacity="0.85" stroke-linejoin="round" d="M63.31,7.20C63.54,7.67 63.94,8.87 64.08,10.00C64.22,11.13 64.58,11.20 64.13,14.00C63.68,16.80 62.35,22.53 61.38,26.80C60.41,31.07 59.39,35.33 58.32,39.60C57.26,43.87 56.02,48.35 54.97,52.40C53.93,56.45 53.19,59.18 52.06,63.90C50.92,68.62 49.32,76.02 48.16,80.70C47.00,85.38 45.98,89.12 45.10,92.00C44.21,94.88 43.56,96.42 42.82,98.00C42.09,99.58 41.48,100.67 40.71,101.50C39.94,102.33 38.73,102.75 38.21,103.00C37.70,103.25 38.00,103.25 37.61,103.00C37.23,102.75 36.24,102.33 35.91,101.50C35.58,100.67 35.53,99.58 35.62,98.00C35.72,96.42 35.87,94.88 36.50,92.00C37.12,89.12 38.06,85.38 39.36,80.70C40.65,76.02 42.92,68.62 44.26,63.90C45.59,59.18 46.29,56.45 47.37,52.40C48.45,48.35 49.56,43.87 50.72,39.60C51.89,35.33 53.11,31.07 54.38,26.80C55.65,22.53 57.32,16.80 58.33,14.00C59.35,11.20 59.75,11.13 60.48,10.00C61.21,8.87 62.24,7.67 62.71,7.20C63.19,6.73 63.09,6.73 63.31,7.20Z"/><path fill="none" stroke="#3a4a48" stroke-width="0.50" stroke-opacity="0.70" stroke-linejoin="round" d="M52.65,47.90C52.88,48.25 53.39,48.65 53.40,50.00C53.41,51.35 53.12,53.68 52.73,56.00C52.34,58.32 51.99,59.78 51.06,63.90C50.13,68.02 48.32,76.02 47.16,80.70C46.00,85.38 44.95,89.12 44.10,92.00C43.24,94.88 42.67,96.50 42.02,98.00C41.38,99.50 40.84,100.30 40.24,101.00C39.64,101.70 38.83,102.00 38.42,102.20C38.02,102.40 38.12,102.40 37.82,102.20C37.53,102.00 36.87,101.70 36.64,101.00C36.40,100.30 36.28,99.50 36.42,98.00C36.57,96.50 36.84,94.88 37.50,92.00C38.15,89.12 39.06,85.38 40.36,80.70C41.65,76.02 44.03,68.02 45.26,63.90C46.49,59.78 46.90,58.32 47.73,56.00C48.55,53.68 49.48,51.35 50.20,50.00C50.92,48.65 51.64,48.25 52.05,47.90C52.46,47.55 52.43,47.55 52.65,47.90Z"/><rect x="77.8" y="82.0" width="5.4" height="27.5" fill="url(#cb)"/><text x="79.4" y="80.4" class="dose">Dose</text><text x="84.0" y="83.9" class="lt">600</text><text x="84.0" y="90.1" class="lt">500</text><text x="84.0" y="96.3" class="lt">400</text><text x="84.0" y="102.5" class="lt">300</text><text x="84.0" y="108.7" class="lt">200</text><line x1="-2.3" y1="0" x2="-2.3" y2="113.0" class="ax"/><line x1="0" y1="114.9" x2="93.6" y2="114.9" class="ax"/><text x="0.3" y="120.0" class="tl" text-anchor="middle">-1</text><text x="37.9" y="120.0" class="tl" text-anchor="middle">0</text><text x="75.5" y="120.0" class="tl" text-anchor="middle">1</text><text x="-4.6" y="13.6" class="tl" text-anchor="end">3</text><text x="-4.6" y="42.0" class="tl" text-anchor="end">2</text><text x="-4.6" y="70.4" class="tl" text-anchor="end">1</text><text x="-4.6" y="98.9" class="tl" text-anchor="end">0</text></g><g transform="translate(235.5,16.0)"><rect width="93.6" height="113.0" fill="#6450a5"/><g clip-path="url(#pc)"><g filter="url(#bl)"><path fill="#5d55a9" d="M67.1,0.1 58.6,0.1 54.4,14.1 50.4,29.4 46.1,49.9 44.4,53.9 33.6,98.9 33.6,102.1 34.1,103.4 35.9,105.4 38.1,106.4 40.6,106.4 42.9,105.4 44.4,103.9 45.4,101.4 55.9,55.9 55.6,53.4 61.6,30.6Z"/><path fill="#5958ac" d="M66.9,0.1 58.9,0.1 54.4,15.1 50.4,30.6 46.1,50.9 44.9,53.9 33.9,99.6 34.6,103.4 35.6,104.6 37.9,105.9 40.9,105.9 42.1,105.4 43.9,103.9 44.9,101.6 55.4,55.9 55.4,53.4 61.1,31.6Z"/><path fill="#555bae" d="M66.6,0.1 59.1,0.1 54.6,14.9 50.6,30.4 46.1,51.6 43.4,60.9 34.1,99.6 34.9,103.4 37.9,105.6 41.6,105.4 43.9,103.4 44.6,101.6 55.9,50.6 61.1,30.6Z"/><path fill="#505eb1" d="M66.6,0.1 59.1,0.4 55.1,13.6 34.4,99.4 34.4,101.6 35.1,103.4 37.9,105.4 39.9,105.6 42.1,104.9 44.4,101.9 55.6,51.1 61.4,28.9Z"/><path fill="#4b62b3" d="M66.4,0.1 59.4,0.1 54.4,16.9 50.9,30.4 46.1,52.6 34.6,98.9 34.6,101.9 35.1,103.1 36.6,104.6 38.4,105.4 40.4,105.4 42.1,104.6 44.1,102.1 54.9,53.9 60.9,30.6Z"/><path fill="#4665b6" d="M66.4,0.1 59.4,0.4 54.6,16.4 34.6,99.6 35.1,102.9 37.9,105.1 39.9,105.4 42.4,104.4 44.1,101.6 53.9,57.6 60.9,30.1Z"/><path fill="#4168b8" d="M66.1,0.1 59.6,0.1 54.1,18.6 34.6,100.1 35.6,103.4 38.4,105.1 40.6,105.1 42.1,104.4 43.9,102.1 53.1,60.4 60.6,30.9Z"/><path fill="#3c6bba" d="M66.1,0.1 59.6,0.1 52.4,25.6 45.1,58.1 34.9,99.4 35.4,102.9 36.9,104.4 38.6,105.1 41.6,104.6 43.9,101.9 52.9,60.9 60.6,30.4Z"/><path fill="#376ebd" d="M66.1,0.1 59.6,0.4 55.4,14.6 34.9,99.9 35.6,103.1 38.1,104.9 41.9,104.4 43.9,101.4 52.6,61.6 60.4,31.1Z"/><path fill="#3272bf" d="M65.9,0.1 59.9,0.1 51.9,28.1 44.6,60.9 39.9,78.6 34.9,100.4 36.1,103.6 38.4,104.9 41.6,104.4 43.6,102.1 52.1,63.4 60.4,30.9Z"/><path fill="#2f76c1" d="M65.9,0.1 59.9,0.1 51.6,29.4 44.6,61.1 35.1,99.4 35.4,102.4 36.9,104.1 38.6,104.9 41.9,104.1 43.6,101.9 51.9,64.1 60.1,31.6Z"/><path fill="#2c79c3" d="M65.9,0.1 59.9,0.4 52.6,25.9 44.6,61.4 35.1,99.6 35.6,102.6 36.6,103.9 39.6,104.9 41.4,104.4 42.9,103.1 43.6,101.6 51.9,63.9 60.1,31.4Z"/><path fill="#297dc4" d="M65.9,0.1 60.1,0.1 52.6,26.1 44.4,62.6 35.1,99.9 35.9,102.9 38.1,104.6 40.6,104.6 42.6,103.4 43.6,101.4 51.4,65.9 60.4,29.9Z"/><path fill="#2681c6" d="M65.6,0.1 60.1,0.1 52.6,26.4 44.4,62.9 35.4,99.1 35.4,101.9 35.9,102.9 38.4,104.6 41.6,104.1 43.6,101.1 51.1,66.6 60.1,30.6Z"/><path fill="#2384c8" d="M65.6,0.1 60.1,0.4 52.6,26.6 44.1,64.1 35.4,99.4 35.4,101.6 36.1,103.1 38.6,104.6 41.9,103.9 43.4,101.9 50.6,68.6 60.1,30.4Z"/><path fill="#2088ca" d="M65.6,0.1 60.4,0.1 52.6,26.9 44.1,64.4 35.4,99.6 35.9,102.6 38.1,104.4 39.9,104.6 41.4,104.1 43.4,101.6 50.6,68.4 60.1,30.1Z"/><path fill="#1d8ccb" d="M65.4,0.1 60.4,0.1 52.6,27.1 43.9,65.6 35.4,99.9 36.1,102.9 38.1,104.4 40.6,104.4 41.6,103.9 43.4,101.4 50.9,67.1 59.9,30.9Z"/><path fill="#1b8fca" d="M65.4,0.1 60.4,0.4 52.6,27.4 35.4,100.1 36.1,102.9 38.4,104.4 41.6,103.9 43.4,101.1 48.4,79.9 50.1,70.1 59.9,30.6Z"/><path fill="#1a92ca" d="M65.4,0.1 60.6,0.1 52.9,26.6 35.6,99.1 35.9,102.4 38.4,104.4 40.4,104.4 41.9,103.6 43.4,101.1 50.6,67.9 59.9,30.4Z"/><path fill="#1796c9" d="M65.1,0.1 60.6,0.1 52.9,26.9 35.6,99.4 36.1,102.6 38.6,104.4 40.1,104.4 42.1,103.4 43.4,100.9 48.1,80.6 49.9,70.9 59.9,30.1Z"/><path fill="#159bc9" d="M65.1,0.1 60.9,0.1 52.4,29.1 35.6,99.6 35.9,102.1 38.1,104.1 40.6,104.1 41.6,103.6 43.1,101.6 49.9,70.6 59.6,30.9Z"/><path fill="#12a1c7" d="M64.9,0.1 61.1,0.1 52.6,28.6 35.6,99.9 36.1,102.4 38.4,104.1 41.1,103.9 42.4,102.9 43.1,101.4 47.9,81.1 49.6,71.4 59.6,30.4Z"/><path fill="#15a6c0" d="M64.4,0.1 61.4,0.1 53.1,27.1 35.9,99.1 35.9,101.6 36.4,102.6 38.4,104.1 41.4,103.6 43.1,101.1 49.6,71.1 59.6,29.9 62.9,11.9Z"/><path fill="#18acb8" d="M63.9,0.1 61.9,0.1 60.4,3.6 51.1,35.4 35.9,99.4 36.4,102.6 38.6,104.1 41.4,103.6 43.1,100.9 49.6,70.9 59.4,30.6 62.9,10.6Z"/><path fill="#1bb1b0" d="M62.4,2.9 61.1,3.4 59.9,6.1 53.6,26.1 35.9,99.6 35.9,101.4 36.6,102.9 39.1,104.1 41.6,103.4 42.9,101.6 47.6,81.4 49.4,71.6 59.9,27.4 63.1,6.6 63.1,3.6Z"/><path fill="#1eb6a9" d="M61.1,6.4 60.1,7.1 58.6,10.6 53.1,28.4 36.4,97.6 35.9,101.1 36.4,102.4 38.4,103.9 41.1,103.6 42.9,101.4 46.9,84.4 49.4,71.4 59.6,28.1 62.4,9.9 62.4,7.4Z"/><path fill="#28baa7" d="M60.9,10.1 59.9,10.1 59.1,10.9 53.4,27.9 35.9,100.1 36.6,102.6 38.4,103.9 41.4,103.4 42.4,102.4 49.4,71.1 59.1,30.1 61.6,13.1 61.6,11.1Z"/><path fill="#33bea5" d="M59.9,13.6 58.9,13.6 57.4,16.1 53.9,26.6 36.1,99.4 36.6,102.6 38.6,103.9 40.9,103.6 42.1,102.6 43.4,98.9 59.1,29.4 60.9,17.6 60.9,14.6Z"/><path fill="#3ec1a4" d="M59.1,16.4 57.9,16.6 56.9,18.4 52.9,30.6 36.1,99.4 36.4,102.1 38.9,103.9 41.6,103.1 42.6,101.6 47.1,82.6 49.1,71.6 53.6,54.1 58.9,30.1 60.4,19.4 60.1,16.9Z"/><path fill="#49c5a2" d="M58.4,18.6 57.1,19.1 56.1,21.1 52.9,31.1 36.1,99.6 36.6,102.4 39.1,103.9 41.1,103.4 42.6,101.4 47.4,81.4 49.1,71.6 53.4,54.9 59.4,25.9 59.6,19.4Z"/><path fill="#54c8a1" d="M57.9,20.9 56.6,21.4 53.4,29.9 36.1,99.9 36.6,102.4 38.4,103.6 41.1,103.4 42.1,102.4 42.9,100.4 58.4,31.1 59.1,21.6Z"/><path fill="#62cca1" d="M57.1,23.1 56.1,23.6 54.9,26.1 52.4,33.9 36.4,98.9 36.4,101.6 36.9,102.6 38.4,103.6 40.4,103.6 42.4,101.9 46.9,83.1 48.9,72.1 53.4,54.4 57.9,32.9 58.6,23.9Z"/><path fill="#73d2a2" d="M56.6,25.4 55.6,25.9 54.4,28.4 51.1,38.9 36.4,99.1 36.4,101.6 38.6,103.6 40.9,103.4 42.4,101.6 47.1,81.9 48.9,71.9 53.1,55.1 57.6,33.4 58.1,26.4Z"/><path fill="#84d6a3" d="M55.9,27.6 54.6,28.9 53.4,31.9 50.6,41.1 36.9,97.1 36.4,101.6 38.6,103.6 40.9,103.4 42.4,101.6 47.1,81.6 48.9,71.6 53.1,54.9 57.4,33.6 57.6,28.6Z"/><path fill="#94dca4" d="M56.4,30.1 54.9,30.1 54.4,30.6 52.4,35.6 40.4,82.4 36.4,99.6 36.9,102.4 38.9,103.6 41.1,103.1 42.1,102.1 56.4,38.4 57.1,31.1Z"/><path fill="#a5e0a5" d="M55.6,32.1 54.6,32.1 53.9,32.9 51.6,38.6 37.1,96.4 36.4,101.4 37.4,102.9 39.1,103.6 41.1,103.1 42.4,101.4 46.9,82.4 48.9,71.4 52.9,55.4 56.6,35.1 56.6,33.4Z"/><path fill="#b5e5a8" d="M54.6,34.1 53.4,34.9 51.1,40.9 36.4,99.9 36.6,101.9 38.4,103.4 40.4,103.4 41.9,102.4 43.6,96.1 55.4,42.1 56.1,35.6 55.9,34.6Z"/><path fill="#c4eaab" d="M54.9,36.4 53.1,36.6 50.6,43.1 41.1,79.6 36.4,100.1 36.9,102.1 38.4,103.4 40.4,103.4 41.6,102.6 42.9,99.1 53.4,52.1 55.4,40.9 55.4,36.9Z"/><path fill="#d4efaf" d="M54.1,38.4 53.1,38.4 52.4,39.1 49.9,46.1 40.9,80.9 36.4,100.4 36.9,102.1 38.6,103.4 40.9,103.1 42.4,101.1 53.9,48.9 54.9,42.6 54.9,38.9Z"/><path fill="#e3f4b2" d="M53.1,40.4 52.1,40.9 48.4,51.9 36.9,98.1 36.6,101.6 38.6,103.4 40.1,103.4 42.1,101.6 47.1,80.6 54.1,46.4 54.4,41.1Z"/><path fill="#eef7b6" d="M53.4,42.6 51.6,43.1 49.4,48.9 41.1,80.1 36.6,99.4 37.1,102.4 38.9,103.4 40.1,103.4 41.9,102.1 52.6,54.4 53.9,46.6 53.9,43.1Z"/><path fill="#f3f8b9" d="M52.9,44.1 51.6,44.4 49.6,48.6 40.9,81.4 36.6,99.6 36.9,101.9 38.9,103.4 41.1,102.9 42.4,100.6 52.4,55.1 53.4,48.9 53.4,44.9Z"/><path fill="#f9f9bc" d="M52.4,46.6 50.6,47.1 48.6,52.4 41.4,79.4 36.6,99.6 36.9,101.9 39.1,103.4 40.6,103.1 42.1,101.4 46.6,82.4 52.6,52.9 52.9,47.1Z"/><path fill="#fcf7b7" d="M51.6,48.4 50.1,49.1 47.9,55.4 40.9,81.6 36.6,99.9 37.1,102.1 38.4,103.1 40.9,102.9 42.4,100.4 52.1,55.1 52.6,49.4Z"/><path fill="#fdf0a9" d="M50.9,50.1 49.6,51.1 47.9,55.9 41.4,79.6 36.6,100.1 37.1,102.1 38.4,103.1 40.9,102.9 41.9,101.9 46.9,80.9 51.9,55.6 52.1,50.9Z"/><path fill="#fde99b" d="M51.1,52.1 49.9,52.1 48.6,54.4 41.1,80.9 36.6,100.1 37.1,102.1 38.6,103.1 40.9,102.9 42.1,101.1 46.9,80.9 51.6,55.9 51.6,52.6Z"/><path fill="#fee28d" d="M50.6,53.9 49.6,53.9 48.9,54.6 47.9,57.1 40.6,83.1 36.9,99.1 36.9,101.6 38.6,103.1 40.1,103.1 41.6,102.1 46.9,80.6 50.6,60.9 51.4,55.1Z"/><path fill="#fed682" d="M50.4,54.4 49.4,54.9 47.9,57.9 41.1,81.1 36.9,99.4 36.9,101.4 38.6,103.1 41.1,102.6 42.1,100.9 46.6,81.6 50.4,61.4Z"/><path fill="#fdca78" d="M50.1,54.4 48.6,56.6 45.1,66.9 37.9,95.1 36.9,101.4 38.9,103.1 40.6,102.9 41.9,101.4 46.1,83.6 50.4,59.9 50.6,54.6Z"/><path fill="#fdbe6d" d="M50.4,54.6 49.4,55.4 47.6,59.4 41.1,81.4 36.9,99.6 37.1,101.9 38.9,103.1 40.6,102.9 41.6,101.9 47.9,74.9 50.4,59.4Z"/><path fill="#fcb362" d="M50.1,54.9 48.4,57.6 45.1,67.1 41.6,79.4 37.1,98.6 36.9,101.1 37.9,102.6 39.1,103.1 40.9,102.6 41.9,101.4 46.1,83.4 50.1,60.6Z"/><path fill="#fba55b" d="M49.9,55.4 46.6,62.6 41.4,80.6 36.9,99.9 36.9,101.1 38.4,102.9 40.4,102.9 41.6,101.9 46.6,81.1 48.9,68.6 50.4,57.4Z"/><path fill="#f99755" d="M49.9,55.9 47.1,61.4 40.9,82.9 36.9,100.1 37.1,101.6 38.4,102.9 40.9,102.6 42.4,99.1 47.4,77.1 50.1,59.6Z"/><path fill="#f8884f" d="M49.9,56.4 49.1,56.9 47.4,60.9 41.4,80.9 36.9,100.1 37.1,101.6 38.6,102.9 41.1,102.4 41.9,101.1 47.9,74.1 49.9,61.1Z"/><path fill="#f67a49" d="M49.6,56.9 48.1,59.1 46.6,63.1 40.9,83.1 36.9,100.4 37.4,101.9 38.6,102.9 40.1,102.9 41.6,101.6 47.6,75.4 49.9,60.6Z"/><path fill="#f26c46" d="M49.6,57.4 48.9,57.9 46.9,62.6 41.4,81.1 37.1,99.4 37.1,101.4 38.6,102.9 40.6,102.6 41.9,100.9 47.6,75.1 49.6,62.1Z"/><path fill="#ed5f46" d="M49.4,57.6 46.4,64.1 43.1,74.6 37.1,99.4 37.1,101.4 38.9,102.9 40.6,102.6 41.6,101.4 46.1,82.6 49.6,61.4Z"/><path fill="#e85146" d="M49.4,58.1 47.9,60.4 45.1,68.1 37.1,99.6 37.4,101.9 38.9,102.9 40.9,102.4 41.6,101.4 43.9,92.1 48.6,68.6 49.6,60.6Z"/><path fill="#e34446" d="M49.4,58.6 48.6,59.1 46.9,63.1 43.1,74.9 37.1,99.6 37.6,102.1 39.1,102.9 40.9,102.4 41.6,101.4 46.1,82.4 49.1,64.9Z"/><path fill="#de3646" d="M49.1,59.1 47.1,62.6 43.4,74.1 37.6,97.6 37.1,101.1 39.1,102.9 40.9,102.4 41.6,101.4 46.4,81.1 48.9,66.4Z"/><path fill="#d72b45" d="M49.1,59.6 48.4,60.1 46.6,64.1 41.9,79.6 37.1,99.9 37.1,101.1 38.4,102.6 40.4,102.6 41.6,101.1 47.1,77.1 49.1,63.9Z"/><path fill="#d02244" d="M48.9,59.9 46.1,65.6 41.4,81.9 37.1,100.1 37.4,101.6 38.6,102.6 40.6,102.4 41.9,100.1 46.9,78.4 48.9,65.6Z"/><path fill="#c91843" d="M48.9,60.4 46.4,65.1 41.6,80.9 37.1,100.1 37.6,101.9 38.6,102.6 40.1,102.6 41.4,101.6 46.9,78.1 48.9,65.1Z"/><path fill="#c20f42" d="M48.6,60.9 46.6,64.6 41.1,83.1 37.1,100.4 37.6,101.9 38.6,102.6 40.1,102.6 41.4,101.6 47.1,76.6 48.9,64.6Z"/><path fill="#bd0841" d="M48.6,61.4 46.1,66.1 41.6,81.1 37.4,99.4 37.4,101.4 38.9,102.6 40.6,102.4 41.6,100.9 46.9,77.9 48.6,66.4Z"/><path fill="#bc0541" d="M48.6,61.9 47.6,62.6 46.4,65.6 41.1,83.4 37.4,99.4 37.4,101.4 38.9,102.6 41.1,101.9 46.6,79.1 48.6,65.9Z"/><path fill="#ba0241" d="M48.4,62.1 47.1,63.9 44.4,71.6 37.4,99.6 37.4,101.1 38.9,102.6 39.9,102.6 41.4,101.4 47.6,72.9 48.6,65.4Z"/><path fill="#b90041" d="M48.4,62.6 47.6,63.1 46.4,65.9 43.1,75.9 37.4,99.6 37.6,101.6 39.1,102.6 40.4,102.4 41.4,101.4 45.9,82.4 48.4,67.1Z"/></g></g><path fill="none" stroke="#1c1c30" stroke-width="0.50" stroke-opacity="0.60" d="M66.1,0.1 60.4,30.9 52.4,63.3 43.8,101.6 42.1,104.1 39.4,105.0 37.4,104.6 35.9,103.4 35.0,101.6 34.9,99.6 51.7,28.9 59.7,0.1"/><rect x="77.8" y="82.0" width="5.4" height="27.5" fill="url(#cb)"/><text x="79.4" y="80.4" class="dose">Dose</text><text x="84.0" y="83.9" class="lt">600</text><text x="84.0" y="90.1" class="lt">500</text><text x="84.0" y="96.3" class="lt">400</text><text x="84.0" y="102.5" class="lt">300</text><text x="84.0" y="108.7" class="lt">200</text><line x1="-2.3" y1="0" x2="-2.3" y2="113.0" class="ax"/><line x1="0" y1="114.9" x2="93.6" y2="114.9" class="ax"/><text x="0.3" y="120.0" class="tl" text-anchor="middle">-1</text><text x="37.9" y="120.0" class="tl" text-anchor="middle">0</text><text x="75.5" y="120.0" class="tl" text-anchor="middle">1</text><text x="-4.6" y="13.6" class="tl" text-anchor="end">3</text><text x="-4.6" y="42.0" class="tl" text-anchor="end">2</text><text x="-4.6" y="70.4" class="tl" text-anchor="end">1</text><text x="-4.6" y="98.9" class="tl" text-anchor="end">0</text></g><g transform="translate(342.0,16.0)"><rect width="93.6" height="113.0" fill="#6450a5"/><g clip-path="url(#pc)"><g filter="url(#bl)"><path fill="#5d55a9" d="M60.4,0.1 23.4,0.1 17.9,20.9 14.9,47.4 15.1,53.9 16.6,57.6 21.6,79.6 23.4,82.6 31.4,103.6 33.1,105.6 35.9,107.1 37.4,107.4 40.4,106.4 42.6,103.9 43.6,101.1 44.4,80.9 47.1,61.4 53.6,30.4 58.9,9.1Z"/><path fill="#5958ac" d="M56.9,0.1 26.9,0.1 20.9,22.9 17.9,49.1 18.1,52.6 19.6,57.4 23.6,77.1 26.6,84.4 30.4,98.1 32.6,103.1 35.4,105.6 37.4,106.1 39.6,105.4 41.1,103.9 42.4,100.9 42.9,91.1 42.1,83.9 42.1,77.4 45.1,54.9 50.6,28.6 55.6,8.1Z"/><path fill="#555bae" d="M54.4,0.1 29.4,0.1 23.1,23.4 20.1,49.4 20.4,52.4 21.9,57.6 25.6,76.9 27.4,81.6 29.9,95.1 32.6,101.9 36.1,105.1 39.4,104.6 40.9,102.9 41.9,100.1 42.4,91.1 40.4,77.1 43.1,53.6 48.4,28.1 53.4,7.4Z"/><path fill="#505eb1" d="M52.4,0.1 31.4,0.1 25.1,23.1 22.1,51.6 23.6,57.4 26.4,75.9 28.1,81.9 28.6,87.9 30.1,94.9 33.1,101.9 34.6,103.6 36.6,104.6 38.1,104.6 40.1,103.1 41.4,100.4 41.9,97.6 41.9,88.9 39.6,76.4 40.4,61.1 41.4,52.9 46.6,27.1 51.4,7.1Z"/><path fill="#4b62b3" d="M50.4,0.1 33.4,0.1 26.9,23.4 23.6,49.1 24.6,63.1 26.6,75.1 28.4,81.4 29.1,89.4 30.4,94.9 33.4,101.6 36.4,104.1 38.1,104.1 39.4,103.4 40.9,100.9 41.6,97.4 41.6,88.6 39.6,79.1 39.1,72.4 40.1,53.1 41.4,44.1 49.1,8.6Z"/><path fill="#4665b6" d="M48.4,0.1 35.4,0.1 28.6,23.6 24.4,47.9 24.9,62.9 26.9,75.1 28.6,81.4 29.4,89.6 32.1,98.9 34.1,102.1 36.1,103.6 38.1,103.6 39.9,102.1 41.4,97.6 41.4,88.4 39.6,80.4 38.9,73.9 39.9,50.6 41.9,32.9 47.6,6.6Z"/><path fill="#4168b8" d="M45.9,0.1 37.9,0.1 33.6,14.1 27.6,30.6 24.6,48.6 25.1,62.6 26.9,73.6 28.9,81.9 29.9,91.4 32.9,99.9 33.9,101.4 36.4,103.4 37.9,103.4 39.4,102.4 40.4,100.6 41.4,96.4 41.4,89.6 38.6,73.9 38.9,61.6 41.6,25.6 45.6,5.4Z"/><path fill="#3c6bba" d="M41.1,5.1 40.1,5.9 38.6,9.1 35.4,13.6 30.4,23.6 27.6,31.9 24.9,48.9 25.4,62.6 28.9,80.9 30.1,91.9 31.6,96.9 33.1,99.9 35.1,102.4 36.9,103.1 38.6,102.6 40.4,100.1 41.4,94.6 40.9,86.9 38.4,74.4 38.9,57.1 41.4,23.6Z"/><path fill="#376ebd" d="M39.4,10.6 38.1,10.9 35.6,14.1 30.1,25.1 27.9,31.9 25.1,49.1 25.6,61.9 28.9,79.6 30.1,91.4 31.4,95.9 33.1,99.6 34.9,101.9 36.9,102.9 38.6,102.4 39.6,101.1 41.1,96.1 40.9,87.6 38.1,74.6 38.4,60.6 41.1,20.6 40.1,11.6Z"/><path fill="#3272bf" d="M39.4,11.1 38.1,11.4 36.9,12.9 30.9,23.9 28.1,32.1 25.4,49.6 26.6,67.9 28.1,70.1 28.6,72.6 28.6,77.9 30.1,90.9 32.9,98.9 34.9,101.6 36.9,102.6 38.1,102.4 39.4,101.1 40.6,98.1 41.1,95.1 40.9,88.4 37.4,71.4 40.6,26.6 40.6,18.1Z"/><path fill="#2f76c1" d="M38.9,11.4 37.6,12.4 35.1,16.1 30.4,26.1 28.4,32.9 26.1,47.9 26.9,68.1 29.4,69.6 28.9,79.1 30.1,90.4 32.9,98.6 34.9,101.4 36.9,102.4 38.1,102.1 39.4,100.9 40.9,96.4 40.4,85.9 37.1,71.1 36.4,69.6 37.6,67.6 37.4,56.4 39.1,43.1 40.4,25.9 40.4,18.4 39.6,12.6Z"/><path fill="#2c79c3" d="M38.9,11.9 37.6,12.9 33.9,19.1 30.4,27.9 28.1,47.1 26.9,52.4 26.6,59.9 27.1,68.1 27.9,68.9 29.9,69.4 29.4,71.4 29.1,80.9 30.4,91.1 32.9,98.4 34.4,100.6 36.6,102.1 37.6,102.1 39.1,100.9 40.9,95.9 40.4,86.4 36.9,71.1 35.9,69.4 37.4,67.9 36.4,49.6 38.9,37.9 39.9,28.1 40.1,19.1Z"/><path fill="#297dc4" d="M38.6,13.1 36.9,15.1 33.1,23.9 31.6,44.1 29.1,47.1 27.6,50.6 26.9,58.1 27.1,67.9 27.9,68.6 30.1,69.1 29.1,79.4 30.6,91.9 33.1,98.6 34.1,100.1 36.4,101.9 37.9,101.9 39.1,100.6 40.9,95.1 40.1,85.4 36.9,71.6 35.6,69.4 37.1,68.1 37.1,60.9 35.6,49.4 34.1,45.9 39.1,24.6 39.4,17.9Z"/><path fill="#2681c6" d="M31.6,45.4 29.1,47.6 27.4,52.1 26.9,60.9 27.1,67.4 27.6,68.4 29.9,68.6 30.4,69.1 29.6,71.6 29.4,82.1 30.1,89.1 31.4,94.4 34.1,99.9 35.6,101.4 37.4,101.9 39.1,100.4 40.6,96.6 40.6,89.1 36.9,71.9 35.4,69.4 37.1,67.6 36.9,59.9 35.4,49.4 34.6,47.4 32.9,45.6Z"/><path fill="#2384c8" d="M31.6,45.6 29.4,47.6 27.6,51.9 27.1,66.6 27.9,68.4 30.1,68.6 30.6,69.1 29.9,70.6 29.4,80.9 30.1,88.6 31.4,94.1 32.9,97.9 34.6,100.4 36.6,101.6 37.6,101.6 38.9,100.6 40.4,97.1 40.6,89.6 36.6,71.4 35.1,69.1 36.9,67.9 36.9,61.1 35.1,49.1 34.4,47.4 32.9,45.9Z"/><path fill="#2088ca" d="M31.4,45.9 29.4,47.9 27.6,52.4 27.1,60.1 27.4,67.6 28.1,68.4 30.6,68.9 29.9,71.1 29.4,79.6 30.1,88.4 31.4,93.9 34.4,99.9 36.4,101.4 37.9,101.4 39.4,99.6 40.6,95.9 40.6,90.1 36.6,71.6 35.1,68.9 36.9,67.6 36.9,62.4 34.9,48.6 32.6,45.9Z"/><path fill="#1d8ccb" d="M31.9,45.9 29.9,47.4 27.9,51.6 27.4,67.1 27.9,68.1 30.4,68.4 30.9,68.9 29.9,71.6 29.6,82.9 30.1,88.1 32.4,96.6 34.1,99.4 35.6,100.9 37.6,101.4 39.1,99.9 40.4,96.9 40.4,88.6 36.6,71.9 34.9,69.1 36.4,68.1 36.9,67.1 35.9,54.1 34.6,48.4Z"/><path fill="#1b8fca" d="M31.6,46.1 29.6,47.9 27.9,52.1 27.4,66.1 28.1,68.1 30.9,68.6 29.9,72.4 29.6,82.1 30.1,87.6 32.4,96.4 34.4,99.6 36.4,101.1 37.9,101.1 38.9,100.1 40.4,96.6 40.4,88.9 36.6,72.1 34.9,69.4 34.9,68.6 36.6,67.6 36.6,61.6 34.9,49.6 34.1,47.6 32.9,46.4Z"/><path fill="#1a92ca" d="M31.9,46.1 29.9,47.6 27.9,52.6 27.4,60.6 27.6,67.4 28.4,68.1 30.4,68.1 30.9,68.6 30.1,70.9 29.6,81.1 30.1,87.4 31.6,94.1 34.1,99.1 35.6,100.6 37.6,101.1 39.4,99.1 40.4,96.4 40.4,89.4 36.4,71.4 34.6,68.9 36.6,67.4 35.6,53.9 34.4,48.4Z"/><path fill="#1796c9" d="M31.6,46.4 29.9,47.9 28.1,51.9 27.6,67.1 28.1,67.9 30.6,68.1 31.1,68.6 30.1,71.1 29.6,77.1 30.1,87.1 31.1,92.1 33.4,98.1 35.4,100.4 37.1,101.1 38.9,99.9 40.1,97.1 40.4,89.6 36.4,71.6 34.6,69.1 34.9,68.1 36.4,67.6 36.4,60.9 34.6,49.4 33.9,47.6 32.9,46.6Z"/><path fill="#159bc9" d="M31.4,46.6 29.9,48.1 28.1,52.6 27.6,60.9 27.9,67.4 31.1,68.4 30.1,71.9 29.9,83.4 31.6,93.6 32.6,96.6 35.6,100.4 37.6,100.9 38.9,99.6 40.1,96.9 40.1,88.4 36.1,71.1 34.4,68.9 34.6,68.1 36.4,67.4 35.9,57.6 34.6,50.1 33.9,47.9 32.6,46.6Z"/><path fill="#12a1c7" d="M31.9,46.6 30.1,48.1 28.4,52.1 27.9,65.4 28.4,67.6 30.1,67.6 31.4,68.4 30.1,72.9 29.9,82.4 30.4,87.9 31.6,93.4 33.6,98.1 35.9,100.4 37.6,100.6 38.6,99.9 40.1,96.6 40.1,88.9 36.1,71.4 34.1,68.6 34.6,67.9 36.1,67.4 35.6,56.9 34.1,48.9 33.6,47.9Z"/><path fill="#15a6c0" d="M31.6,46.9 30.1,48.4 28.6,52.1 28.1,59.1 28.4,67.1 31.4,68.1 30.4,71.1 29.9,76.9 30.4,87.6 33.1,97.4 35.4,99.9 37.4,100.6 38.9,99.4 40.1,96.4 40.1,89.4 36.1,71.6 34.1,68.9 34.1,68.1 35.9,67.1 35.1,54.6 33.9,48.6 32.6,47.1Z"/><path fill="#18acb8" d="M31.6,47.1 30.6,48.1 29.1,51.4 28.6,54.9 29.1,66.9 30.9,67.1 31.6,68.1 30.4,71.6 29.9,77.9 30.4,87.1 31.6,92.9 33.4,97.6 35.6,99.9 37.6,100.4 38.6,99.6 40.1,96.1 40.1,89.9 36.1,71.9 33.9,68.6 33.9,67.9 35.4,66.9 35.1,56.9 33.6,48.6 32.6,47.4Z"/><path fill="#1bb1b0" d="M32.4,66.6 31.6,67.4 31.6,69.1 30.9,70.1 30.4,72.6 30.1,83.6 30.6,88.4 33.1,97.1 35.1,99.4 37.4,100.4 39.1,98.6 40.1,95.9 39.9,88.4 35.9,71.4 33.9,68.9 33.6,67.1ZM31.6,47.6 30.1,50.1 29.6,53.6 30.9,56.9 31.9,58.1 32.6,58.1 33.9,56.1 33.9,52.4 33.4,49.1Z"/><path fill="#1eb6a9" d="M32.4,67.1 30.6,71.1 30.1,76.6 30.6,88.1 33.4,97.4 35.6,99.6 37.9,100.1 39.6,97.4 40.1,95.4 39.9,88.6 35.9,71.6 33.9,69.1 33.6,67.6Z"/><path fill="#28baa7" d="M32.4,67.4 30.6,71.6 30.1,77.4 30.6,87.9 33.1,96.9 35.4,99.4 37.6,100.1 39.9,96.4 39.6,87.4 35.9,71.9 33.6,68.9 33.4,67.6Z"/><path fill="#33bea5" d="M32.4,67.6 30.9,70.9 30.4,75.4 30.6,87.6 33.4,97.1 34.6,98.6 37.4,100.1 38.6,99.1 39.9,96.4 39.6,87.6 35.6,71.6 33.4,67.9Z"/><path fill="#3ec1a4" d="M32.6,67.6 30.9,71.1 30.4,76.1 30.9,88.9 33.4,97.1 36.1,99.6 37.9,99.9 39.9,96.1 39.6,88.1 35.4,71.1Z"/><path fill="#49c5a2" d="M32.4,67.9 31.1,70.6 30.4,77.1 30.9,88.6 33.6,97.4 35.9,99.4 37.6,99.9 38.6,98.9 39.9,95.9 39.6,88.4 35.4,71.4 33.1,68.1Z"/><path fill="#54c8a1" d="M32.4,68.1 31.1,71.1 30.4,77.9 30.9,88.4 33.4,96.9 34.9,98.6 37.4,99.9 38.4,99.1 39.6,96.6 39.6,88.6 35.4,71.6 33.1,68.4Z"/><path fill="#62cca1" d="M32.6,68.4 31.4,70.9 30.6,76.4 30.9,88.1 33.6,97.1 36.1,99.4 37.9,99.6 39.6,96.4 39.9,92.1 39.4,87.4 35.4,72.1Z"/><path fill="#73d2a2" d="M32.6,68.6 31.4,71.6 30.6,77.1 30.9,87.9 33.6,97.1 35.9,99.1 37.6,99.6 39.6,96.4 39.6,89.1 38.1,81.9 35.1,72.1Z"/><path fill="#84d6a3" d="M32.6,70.1 31.9,71.4 30.6,77.9 31.1,88.9 33.4,96.6 35.9,99.1 37.6,99.6 39.6,96.1 39.1,86.4 35.6,74.4 34.4,71.6Z"/><path fill="#94dca4" d="M33.4,73.1 31.9,73.9 30.9,77.1 30.9,87.1 33.6,96.9 35.6,98.9 37.4,99.6 38.6,98.4 39.6,95.9 39.4,88.1 36.1,76.1 35.1,74.1Z"/><path fill="#a5e0a5" d="M32.9,74.4 31.6,75.4 30.9,77.9 31.1,88.4 33.6,96.9 36.1,99.1 37.6,99.4 39.6,95.6 39.1,86.9 36.4,77.1 34.6,74.6Z"/><path fill="#b5e5a8" d="M32.9,75.1 31.6,76.1 30.9,78.6 31.1,88.4 33.9,97.1 35.9,98.9 37.6,99.4 39.1,97.1 39.6,94.9 39.1,87.1 36.1,76.9 34.9,75.4Z"/><path fill="#c4eaab" d="M33.1,75.6 31.6,76.9 30.9,79.6 31.1,88.1 33.9,97.1 37.4,99.4 39.4,96.4 39.6,92.4 39.1,87.4 37.9,81.9 35.9,76.9 34.4,75.6Z"/><path fill="#d4efaf" d="M33.1,76.1 31.6,77.4 31.1,78.9 30.9,84.6 31.4,89.1 33.6,96.6 35.6,98.6 37.6,99.1 39.4,96.1 39.1,87.6 37.9,82.1 36.1,77.6 35.4,76.6Z"/><path fill="#e3f4b2" d="M32.9,76.6 31.1,79.4 31.4,88.9 33.9,96.9 35.4,98.4 37.6,99.1 39.4,95.9 39.4,89.6 38.6,85.4 36.1,77.9 34.6,76.6Z"/><path fill="#eef7b6" d="M33.4,76.9 31.9,78.1 31.1,80.1 31.4,88.6 33.9,96.9 35.9,98.6 37.4,99.1 38.4,98.1 39.4,95.6 39.1,88.1 37.6,81.6 36.1,78.1 34.4,76.9Z"/><path fill="#f3f8b9" d="M33.6,77.1 32.1,78.1 31.4,79.6 31.4,88.4 34.1,97.1 37.1,99.1 38.1,98.4 39.4,95.1 39.1,88.4 37.1,80.4 35.6,77.9Z"/><path fill="#f9f9bc" d="M33.1,77.6 31.6,79.4 31.1,81.9 31.6,89.4 33.9,96.6 36.1,98.6 37.6,98.9 38.9,96.9 39.4,94.1 38.6,85.9 36.4,79.1 34.6,77.6Z"/><path fill="#fcf7b7" d="M33.4,77.9 32.1,78.9 31.4,80.9 31.4,87.9 34.1,96.9 35.9,98.4 37.4,98.9 39.1,95.9 38.9,87.4 36.4,79.4 35.1,78.1Z"/><path fill="#fdf0a9" d="M33.4,78.1 32.1,79.4 31.4,81.4 31.6,89.1 33.9,96.4 36.4,98.6 37.6,98.6 39.1,95.6 38.6,86.4 36.4,79.6 35.1,78.4Z"/><path fill="#fde99b" d="M33.6,78.4 31.9,80.1 31.4,82.1 31.6,88.9 34.1,96.6 36.1,98.4 37.4,98.6 39.1,95.4 38.9,87.9 37.6,82.6 36.4,79.9 35.1,78.6Z"/><path fill="#fee28d" d="M33.6,78.6 32.4,79.6 31.6,81.4 31.6,88.6 34.1,96.6 37.1,98.6 38.9,96.1 38.9,88.1 37.9,83.6 36.4,80.1 35.1,78.9Z"/><path fill="#fed682" d="M33.9,78.9 32.6,79.6 31.6,81.9 31.6,88.4 34.1,96.4 35.6,97.9 37.4,98.4 38.6,96.6 39.1,93.9 38.6,87.1 36.9,81.1 35.1,79.1Z"/><path fill="#fdca78" d="M33.9,79.1 32.4,80.4 31.9,81.6 31.6,87.9 33.9,95.9 35.4,97.6 36.9,98.4 38.1,97.4 38.9,95.4 38.9,88.9 36.9,81.4 35.1,79.4Z"/><path fill="#fdbe6d" d="M33.9,79.4 32.6,80.4 31.9,82.1 31.9,89.1 34.1,96.1 35.1,97.4 37.1,98.1 38.1,97.1 38.9,95.1 38.6,87.6 36.9,81.6 35.1,79.6Z"/><path fill="#fcb362" d="M33.9,79.6 32.6,80.6 31.9,82.6 31.9,88.6 34.4,96.4 36.1,97.9 37.1,97.9 38.1,96.9 38.9,94.4 38.6,87.9 36.9,81.9 35.1,79.9Z"/><path fill="#fba55b" d="M34.1,79.9 32.9,80.6 32.1,82.1 31.9,88.4 32.9,92.6 34.6,96.6 36.1,97.6 37.4,97.6 38.4,96.1 38.9,93.6 38.4,86.9 36.6,81.6 35.1,80.1Z"/><path fill="#f99755" d="M34.1,80.1 33.1,80.6 32.1,82.6 31.9,87.9 34.1,95.6 35.4,97.1 36.9,97.6 38.1,96.4 38.6,94.9 38.6,88.6 36.6,81.9 35.1,80.4Z"/><path fill="#f8884f" d="M34.1,80.4 32.9,81.4 32.1,83.1 32.1,89.1 34.4,95.9 35.6,97.1 36.9,97.4 37.9,96.4 38.6,94.4 38.6,89.1 36.6,82.1 35.1,80.6Z"/><path fill="#f67a49" d="M34.1,80.6 32.9,81.6 32.1,83.6 32.1,88.6 34.4,95.6 35.6,96.9 36.9,97.1 37.9,96.1 38.6,93.6 38.4,87.9 36.6,82.4 35.1,80.9Z"/><path fill="#f26c46" d="M34.1,80.9 33.1,81.6 32.4,83.4 32.1,88.1 34.4,95.4 36.6,96.9 37.9,95.9 38.4,94.4 38.4,88.4 36.6,82.6 35.1,81.1Z"/><path fill="#ed5f46" d="M34.4,81.1 33.6,81.4 32.6,82.9 32.1,85.6 32.4,89.1 34.4,95.1 35.1,96.1 36.6,96.6 37.6,95.9 38.4,93.9 38.4,88.9 36.9,83.4Z"/><path fill="#e85146" d="M33.9,81.6 32.4,84.6 32.6,90.1 34.4,94.9 35.1,95.9 36.6,96.4 37.4,95.9 38.4,93.1 38.1,87.9 36.4,82.9 35.1,81.6Z"/><path fill="#e34446" d="M33.9,81.9 33.1,82.6 32.4,85.6 32.6,89.6 34.4,94.6 36.4,96.1 37.6,95.1 38.1,93.6 38.1,88.4 36.4,83.1 35.1,81.9Z"/><path fill="#de3646" d="M34.1,82.1 33.4,82.6 32.6,84.6 32.9,90.4 34.4,94.4 35.6,95.6 36.9,95.6 38.1,93.1 37.9,87.4 36.4,83.4 35.1,82.1Z"/><path fill="#d72b45" d="M34.1,82.4 33.1,83.6 32.6,85.6 32.9,89.9 34.6,94.4 35.6,95.4 36.6,95.4 37.9,93.4 37.9,88.1 36.6,84.1 35.4,82.6Z"/><path fill="#d02244" d="M34.4,82.6 33.6,83.1 32.9,85.1 32.9,89.1 34.6,94.1 36.6,95.1 37.9,92.6 37.9,88.6 36.1,83.6Z"/><path fill="#c91843" d="M34.1,83.1 32.9,86.4 33.1,89.9 34.4,93.4 36.1,94.9 37.1,94.1 37.6,92.9 37.6,88.1 36.4,84.4 35.6,83.4Z"/><path fill="#c20f42" d="M34.4,83.4 33.1,85.6 33.1,88.9 34.6,93.4 35.6,94.4 36.4,94.4 37.6,92.1 37.6,88.9 36.1,84.4Z"/><path fill="#bd0841" d="M34.4,83.9 33.4,85.6 33.4,89.4 35.1,93.6 36.4,93.9 37.4,92.1 37.4,88.4 36.1,84.9 35.1,83.9Z"/><path fill="#bc0541" d="M34.4,84.4 33.6,85.6 33.6,89.6 34.9,92.9 36.4,93.4 37.1,92.1 37.1,88.1 35.6,84.6Z"/><path fill="#ba0241" d="M34.6,84.9 33.9,85.9 33.9,89.6 34.6,91.9 36.1,92.9 36.9,91.9 36.9,88.1 36.1,85.9Z"/><path fill="#b90041" d="M34.9,85.6 34.1,86.6 34.1,89.4 34.9,91.4 35.9,92.1 36.6,90.9 36.6,88.4 35.9,86.4Z"/></g></g><path fill="none" stroke="#1c1c30" stroke-width="0.60" stroke-opacity="0.85" stroke-linejoin="round" d="M39.20,10.70C39.62,12.12 40.32,16.67 40.50,20.00C40.68,23.33 40.47,26.37 40.30,30.70C40.13,35.03 39.75,41.15 39.50,46.00C39.25,50.85 38.97,55.80 38.80,59.80C38.63,63.80 38.47,66.63 38.50,70.00C38.53,73.37 38.83,76.67 39.00,80.00C39.17,83.33 39.50,87.00 39.50,90.00C39.50,93.00 39.33,96.10 39.00,98.00C38.67,99.90 38.17,101.07 37.50,101.40C36.83,101.73 35.75,101.07 35.00,100.00C34.25,98.93 33.83,97.50 33.00,95.00C32.17,92.50 31.00,88.33 30.00,85.00C29.00,81.67 27.83,78.83 27.00,75.00C26.17,71.17 25.37,66.17 25.00,62.00C24.63,57.83 24.68,53.33 24.80,50.00C24.92,46.67 25.17,45.22 25.70,42.00C26.23,38.78 27.03,34.03 28.00,30.70C28.97,27.37 30.25,24.62 31.50,22.00C32.75,19.38 34.42,16.75 35.50,15.00C36.58,13.25 37.38,12.22 38.00,11.50C38.62,10.78 38.78,9.28 39.20,10.70Z"/><path fill="none" stroke="#1c1c30" stroke-width="0.50" stroke-opacity="0.70" stroke-linejoin="round" d="M31.90,46.00C32.57,46.08 33.40,46.50 34.00,48.00C34.60,49.50 35.12,52.67 35.50,55.00C35.88,57.33 36.13,59.83 36.30,62.00C36.47,64.17 37.97,67.00 36.50,68.00C35.03,69.00 29.03,69.00 27.50,68.00C25.97,67.00 27.22,64.67 27.30,62.00C27.38,59.33 27.55,54.42 28.00,52.00C28.45,49.58 29.35,48.50 30.00,47.50C30.65,46.50 31.23,45.92 31.90,46.00Z"/><path fill="none" stroke="#4a4a30" stroke-width="0.55" stroke-opacity="0.80" stroke-linejoin="round" d="M32.50,67.50C33.37,67.58 34.87,68.92 35.70,71.00C36.53,73.08 36.90,76.83 37.50,80.00C38.10,83.17 38.95,87.33 39.30,90.00C39.65,92.67 39.90,94.37 39.60,96.00C39.30,97.63 38.52,99.63 37.50,99.80C36.48,99.97 34.58,98.97 33.50,97.00C32.42,95.03 31.58,91.17 31.00,88.00C30.42,84.83 30.08,80.92 30.00,78.00C29.92,75.08 30.08,72.25 30.50,70.50C30.92,68.75 31.63,67.42 32.50,67.50Z"/><rect x="77.8" y="82.0" width="5.4" height="27.5" fill="url(#cb)"/><text x="79.4" y="80.4" class="dose">Dose</text><text x="84.0" y="83.9" class="lt">600</text><text x="84.0" y="90.1" class="lt">500</text><text x="84.0" y="96.3" class="lt">400</text><text x="84.0" y="102.5" class="lt">300</text><text x="84.0" y="108.7" class="lt">200</text><line x1="-2.3" y1="0" x2="-2.3" y2="113.0" class="ax"/><line x1="0" y1="114.9" x2="93.6" y2="114.9" class="ax"/><text x="0.3" y="120.0" class="tl" text-anchor="middle">-1</text><text x="37.9" y="120.0" class="tl" text-anchor="middle">0</text><text x="75.5" y="120.0" class="tl" text-anchor="middle">1</text><text x="-4.6" y="13.6" class="tl" text-anchor="end">3</text><text x="-4.6" y="42.0" class="tl" text-anchor="end">2</text><text x="-4.6" y="70.4" class="tl" text-anchor="end">1</text><text x="-4.6" y="98.9" class="tl" text-anchor="end">0</text></g><g transform="translate(448.2,16.0)"><rect width="93.6" height="113.0" fill="#6450a5"/><g clip-path="url(#pc)"><g filter="url(#bl)"><path fill="#5d55a9" d="M50.4,5.1 46.9,5.9 42.4,9.9 30.9,23.4 27.1,28.6 22.6,38.4 18.4,56.4 17.9,63.1 18.1,74.6 22.4,92.1 26.9,101.4 29.6,103.9 36.4,106.1 40.6,105.9 46.4,103.6 48.6,100.6 49.4,97.1 48.9,91.9 42.6,72.9 42.6,69.6 44.1,61.4 43.9,50.4 44.4,44.9 51.4,22.9 53.1,11.6 52.9,7.4 51.6,5.6Z"/><path fill="#5958ac" d="M50.1,6.4 48.6,6.4 46.1,7.6 41.9,11.9 28.9,27.6 24.9,34.9 23.6,38.4 19.4,56.4 18.9,62.1 19.1,74.9 23.1,91.4 28.1,101.4 31.9,103.9 36.4,105.1 40.6,104.9 44.9,103.4 47.1,101.4 48.4,97.4 48.1,92.9 41.9,74.1 41.6,69.9 43.1,61.6 42.9,51.6 43.4,44.9 50.4,22.9 51.4,17.4 52.1,8.9 51.4,7.1Z"/><path fill="#555bae" d="M49.9,7.4 47.1,7.9 42.4,12.4 28.6,29.4 25.9,34.4 24.4,38.4 20.1,55.9 19.6,72.4 20.4,77.9 23.1,89.1 25.6,95.4 28.6,100.9 31.9,103.1 36.1,104.4 40.9,104.1 45.1,102.4 46.4,101.1 47.6,97.6 47.4,92.6 41.4,74.9 40.9,70.4 42.4,62.1 42.6,45.1 50.4,19.6 51.4,8.9 50.9,7.9Z"/><path fill="#505eb1" d="M50.1,8.1 47.6,8.4 43.6,11.9 29.6,28.9 25.1,37.9 20.6,56.6 20.1,63.9 20.4,74.4 24.6,91.6 28.6,99.9 31.6,102.4 36.9,103.9 40.4,103.6 44.4,102.1 46.1,100.4 47.1,96.6 46.6,91.1 44.9,87.4 40.6,74.4 40.4,69.4 41.9,60.9 41.9,46.4 43.4,40.1 49.1,23.1 50.9,11.6 50.9,8.6Z"/><path fill="#4b62b3" d="M50.4,8.6 47.1,9.4 44.1,12.1 30.1,29.1 25.9,37.4 21.4,55.4 20.9,59.6 20.9,73.9 24.4,89.4 29.1,99.6 31.4,101.6 35.9,103.1 39.9,103.1 43.6,101.9 46.1,99.4 46.6,97.1 46.4,91.4 44.1,86.6 40.4,75.6 39.9,69.1 41.4,59.9 41.1,49.9 41.6,45.1 48.9,22.9 50.6,10.9Z"/><path fill="#4665b6" d="M50.1,8.9 47.4,9.6 42.9,14.1 30.4,29.6 25.9,38.9 21.9,55.9 21.4,60.4 21.4,73.6 24.6,88.6 29.6,99.6 32.1,101.4 36.1,102.6 39.6,102.6 42.9,101.6 45.1,100.1 46.1,98.4 46.4,92.4 41.1,79.6 39.4,73.4 39.4,69.6 40.6,62.4 41.1,46.1 48.6,22.9 50.4,10.9Z"/><path fill="#4168b8" d="M49.9,9.1 47.9,9.6 44.6,12.6 30.1,30.6 26.1,39.1 22.4,56.1 21.9,61.1 21.9,74.6 24.9,88.4 29.6,99.1 32.9,101.1 37.4,102.4 42.6,101.1 44.9,99.9 45.9,98.4 46.1,92.1 40.9,80.1 39.1,73.6 39.1,68.9 40.1,62.1 40.9,46.1 48.4,22.9 50.1,11.1Z"/><path fill="#3c6bba" d="M49.9,9.6 48.6,9.6 46.4,11.1 30.9,29.9 26.4,39.1 22.9,55.4 22.1,65.1 22.1,74.4 25.1,88.4 30.1,99.4 36.6,101.9 41.6,101.1 45.1,99.4 45.6,98.4 45.9,91.9 40.9,81.1 38.9,73.6 38.9,68.9 40.6,46.4 48.1,23.1Z"/><path fill="#376ebd" d="M49.4,9.9 47.6,10.4 43.9,14.1 30.4,31.1 26.6,39.1 23.4,53.9 22.6,60.4 22.4,74.4 25.1,87.6 29.9,98.6 32.6,100.4 36.6,101.6 38.9,101.6 43.4,100.1 45.4,98.6 45.6,91.9 40.6,81.1 38.6,73.6 38.6,69.4 40.4,46.6 48.1,22.1 49.6,11.1Z"/><path fill="#3272bf" d="M48.6,10.4 47.1,11.1 44.4,13.9 30.6,31.1 26.9,38.9 23.6,53.9 22.9,60.4 22.6,74.4 25.6,88.6 30.1,98.6 32.6,100.1 36.6,101.4 38.9,101.4 43.4,99.9 44.9,98.9 45.6,96.9 45.4,92.4 44.6,89.6 40.9,82.6 38.9,75.6 38.4,69.9 40.4,45.4 47.9,21.9 49.1,10.9Z"/><path fill="#2f76c1" d="M48.1,11.4 46.9,11.9 43.6,15.1 31.4,30.4 27.1,39.1 23.9,53.6 22.9,65.1 22.9,74.6 25.6,88.4 28.9,96.4 30.1,98.1 32.1,99.6 36.6,101.1 38.9,101.1 43.4,99.6 45.6,96.9 44.6,89.9 42.4,86.4 40.1,81.1 38.1,73.4 39.9,46.6 41.4,40.4 47.6,21.1 48.6,12.9Z"/><path fill="#2c79c3" d="M47.1,12.9 45.4,13.9 33.6,27.9 30.6,32.4 27.4,39.4 24.1,53.4 23.4,60.6 23.1,74.1 25.4,83.9 25.6,88.4 29.4,97.1 31.4,98.9 36.6,100.9 38.9,100.9 42.6,99.6 45.6,96.6 44.6,89.9 40.4,82.9 37.9,74.1 37.9,68.4 38.6,63.1 39.4,47.9 43.4,31.9 46.9,21.6 47.6,17.1 47.6,13.4Z"/><path fill="#297dc4" d="M46.1,15.4 43.4,17.4 34.1,28.4 31.6,32.1 28.6,38.1 26.6,46.1 24.9,49.6 24.4,52.9 23.6,72.1 25.4,80.9 25.9,89.1 29.4,97.1 33.6,99.4 37.1,100.4 41.1,99.6 45.6,96.6 44.4,89.4 39.6,82.4 37.1,74.4 36.9,71.1 38.1,63.1 38.6,50.4 40.6,41.1 42.9,33.9 42.9,30.4 46.1,20.4Z"/><path fill="#2681c6" d="M41.6,29.9 40.1,29.9 37.1,31.6 31.9,37.4 24.9,49.9 24.4,55.1 24.1,69.9 24.9,71.1 26.9,71.9 25.1,76.9 25.9,88.9 29.6,97.4 37.6,100.4 44.6,97.6 45.6,96.4 44.4,89.4 38.4,80.6 36.6,76.4 36.1,72.6 37.1,67.6 38.4,50.1 42.6,34.4 42.6,31.6Z"/><path fill="#2384c8" d="M41.6,30.4 40.6,30.4 37.6,32.4 32.4,37.6 24.9,50.1 24.4,69.9 25.1,70.9 27.1,71.1 25.1,77.1 25.9,88.9 28.4,94.9 30.1,97.6 37.6,100.4 44.9,97.4 45.6,96.4 44.4,89.6 37.9,79.6 36.6,76.6 36.1,72.9 38.1,50.6 42.6,33.9 42.6,32.4Z"/><path fill="#2088ca" d="M41.6,30.6 40.6,30.6 37.6,32.6 32.6,37.6 24.9,50.6 24.6,70.1 27.1,71.1 25.1,77.4 25.9,88.6 28.9,95.9 30.1,97.6 37.9,100.4 45.4,96.9 44.4,89.6 37.4,78.6 36.6,76.6 35.9,70.9 36.6,69.6 38.1,50.1 42.6,33.1Z"/><path fill="#1d8ccb" d="M41.4,30.6 38.1,32.4 32.6,37.9 28.4,45.4 25.4,49.4 24.9,51.6 24.6,69.9 25.4,70.6 27.4,70.9 25.4,76.4 25.9,88.6 29.4,96.9 31.4,98.1 37.1,100.1 38.9,100.1 45.4,96.9 44.4,89.6 38.4,80.9 36.6,76.6 35.9,71.1 36.6,68.6 37.9,50.9 42.4,34.1 42.4,32.4Z"/><path fill="#1b8fca" d="M41.6,30.9 40.6,30.9 38.6,32.1 32.4,38.4 28.6,45.1 25.6,49.1 24.9,53.4 24.6,69.4 25.1,70.4 27.4,70.9 25.4,76.4 25.9,88.6 29.4,96.9 37.1,100.1 39.4,99.9 45.4,96.9 44.4,89.6 38.1,80.4 36.6,76.9 35.9,71.1 36.6,67.1 37.9,50.4 42.4,33.6Z"/><path fill="#1a92ca" d="M41.4,30.9 40.6,30.9 38.1,32.6 32.9,37.9 25.1,50.4 24.9,69.9 27.4,70.6 25.4,76.6 25.9,88.4 29.6,97.1 37.4,100.1 38.6,100.1 41.6,98.9 45.4,96.6 44.4,89.9 37.6,79.4 36.4,75.9 35.9,71.4 37.9,49.9 42.4,33.4Z"/><path fill="#1796c9" d="M41.1,30.9 38.6,32.4 33.6,37.1 28.4,45.9 25.6,49.4 25.1,50.9 24.9,69.6 25.6,70.4 27.4,70.6 25.4,76.6 25.9,88.4 29.6,97.1 37.4,100.1 38.6,100.1 42.1,98.6 45.4,96.6 44.4,89.9 37.4,78.9 36.4,75.9 35.9,71.6 37.6,50.9 42.1,34.1 42.1,32.4Z"/><path fill="#159bc9" d="M41.4,31.1 40.6,31.1 38.1,32.9 33.1,37.9 28.6,45.6 25.6,49.6 25.1,53.9 25.1,69.9 27.6,70.6 25.4,76.9 25.9,88.1 29.4,96.6 31.1,97.9 37.6,100.1 42.6,98.4 45.4,96.6 44.1,89.4 38.6,81.6 36.6,77.1 35.6,70.4 36.1,69.6 37.6,50.4 42.1,33.6Z"/><path fill="#12a1c7" d="M41.4,31.4 38.6,32.6 32.9,38.4 25.4,50.6 25.1,69.6 27.6,70.4 25.4,77.1 25.9,87.9 29.6,96.9 37.6,100.1 44.9,97.1 45.4,96.4 44.4,90.1 38.6,81.6 36.9,77.9 35.6,70.4 36.1,68.9 37.4,51.1 41.9,34.1Z"/><path fill="#15a6c0" d="M41.1,31.4 38.9,32.6 32.9,38.6 28.6,46.1 25.9,49.6 25.4,53.1 25.1,69.1 25.4,69.9 27.6,70.4 25.4,77.4 26.1,88.6 29.6,96.9 37.1,99.9 38.9,99.9 45.1,96.9 44.1,89.6 38.4,81.4 36.4,76.6 35.6,70.6 36.9,53.9 37.6,49.1 41.9,33.6Z"/><path fill="#18acb8" d="M41.1,31.6 38.1,33.4 33.4,38.1 25.6,50.6 25.4,69.6 27.9,70.1 25.6,76.4 26.1,88.6 29.4,96.4 30.9,97.6 37.1,99.9 39.4,99.6 45.1,96.6 44.1,89.6 37.9,80.4 36.4,76.6 35.6,70.9 36.9,52.9 39.1,42.4 41.6,34.1Z"/><path fill="#1bb1b0" d="M41.1,31.9 38.6,33.1 33.4,38.4 25.9,50.4 25.6,69.6 28.1,69.9 25.6,76.6 26.1,88.4 29.6,96.6 30.4,97.4 37.4,99.9 38.6,99.9 45.1,96.6 44.1,89.9 38.6,81.9 36.4,76.9 35.4,69.6 37.1,50.1 41.6,33.6Z"/><path fill="#1eb6a9" d="M41.1,32.1 38.4,33.6 33.6,38.4 28.9,46.6 26.4,49.9 25.9,52.9 25.6,69.1 28.1,69.9 25.6,76.6 26.1,88.1 29.6,96.6 37.4,99.9 39.1,99.6 45.1,96.6 44.1,89.9 38.4,81.6 36.6,77.6 35.4,69.9 36.9,50.4 41.4,33.6Z"/><path fill="#28baa7" d="M40.6,32.9 39.1,33.6 33.6,39.1 26.9,50.4 26.4,53.9 26.1,68.9 28.4,69.4 25.6,76.9 26.1,87.9 29.9,96.9 37.6,99.9 41.9,98.4 45.1,96.4 43.9,89.4 37.6,80.1 36.1,76.1 35.6,70.4 34.6,69.1 36.4,50.1 37.9,42.1Z"/><path fill="#33bea5" d="M28.6,69.4 27.6,70.9 25.6,77.1 26.4,88.6 29.1,95.4 30.4,97.1 38.1,99.9 44.9,96.6 44.1,90.4 37.1,79.1 36.1,76.4 35.4,69.6Z"/><path fill="#3ec1a4" d="M28.6,69.4 25.9,76.4 25.6,78.9 26.4,88.6 29.6,96.4 30.9,97.4 37.1,99.6 39.4,99.4 44.9,96.6 44.1,90.4 37.6,80.4 36.1,76.4 35.1,69.4Z"/><path fill="#49c5a2" d="M28.9,69.4 28.1,69.9 25.9,76.4 26.4,88.4 30.4,97.1 37.1,99.6 38.6,99.6 44.9,96.6 44.1,90.6 38.4,81.9 36.6,78.1 35.4,69.9 34.9,69.4Z"/><path fill="#54c8a1" d="M28.9,69.4 27.9,70.6 25.9,76.6 26.4,88.1 30.1,96.9 38.4,99.6 44.9,96.4 43.9,89.9 38.1,81.6 36.1,76.9 35.1,69.6Z"/><path fill="#62cca1" d="M29.4,69.4 28.1,70.1 25.9,76.9 26.6,88.9 29.6,96.1 30.6,97.1 38.1,99.6 44.9,96.4 43.9,90.1 38.4,82.1 36.6,78.4 35.1,69.6Z"/><path fill="#73d2a2" d="M28.6,69.6 26.1,76.1 25.9,80.1 26.6,88.6 29.9,96.4 37.9,99.6 44.4,96.9 44.9,95.9 43.9,90.1 37.6,80.9 36.1,77.1 35.1,69.9Z"/><path fill="#84d6a3" d="M28.9,69.6 27.6,71.6 25.9,77.4 26.6,88.4 30.1,96.6 37.1,99.4 38.6,99.4 44.6,96.6 43.9,90.4 38.4,82.4 36.6,78.6 35.1,69.9Z"/><path fill="#94dca4" d="M28.9,69.6 27.9,71.1 26.1,76.6 26.6,88.1 29.4,95.1 30.6,96.9 38.4,99.4 44.6,96.4 43.9,90.6 42.1,87.4 38.1,82.1 35.9,76.4 35.1,70.1 34.6,69.6Z"/><path fill="#a5e0a5" d="M29.4,69.6 28.1,70.6 26.1,76.9 26.9,88.9 30.4,96.6 38.1,99.4 44.6,96.4 43.6,89.9 37.1,80.1 35.9,76.6 35.1,70.1 34.4,69.6Z"/><path fill="#b5e5a8" d="M28.9,69.9 26.1,77.1 26.9,88.6 30.1,96.4 36.9,99.1 38.6,99.1 44.6,96.1 43.6,90.1 37.4,80.9 35.9,76.9 34.9,69.9Z"/><path fill="#c4eaab" d="M28.9,69.9 26.4,76.4 26.1,78.9 26.9,88.1 30.1,96.1 37.1,99.1 39.1,98.9 44.1,96.6 44.4,94.6 43.4,89.6 37.4,81.1 35.9,77.1 35.1,70.4 34.6,69.9Z"/><path fill="#d4efaf" d="M29.6,69.9 28.1,71.1 26.4,76.6 26.9,87.9 30.1,96.1 38.1,99.1 44.4,96.1 43.4,89.9 37.6,81.9 35.9,77.1 34.9,70.1Z"/><path fill="#e3f4b2" d="M28.9,70.1 26.4,77.1 26.9,86.9 27.6,89.9 30.6,96.4 37.1,98.9 38.6,98.9 44.1,96.4 44.4,95.4 43.4,90.1 37.6,82.1 35.6,76.4 34.9,70.4Z"/><path fill="#eef7b6" d="M29.4,70.1 28.4,71.1 26.4,77.6 27.1,87.9 30.1,95.6 31.4,96.6 38.1,98.9 44.1,96.1 43.4,90.6 42.1,88.1 37.4,81.9 35.6,76.6 34.9,70.6 34.1,70.1Z"/><path fill="#f3f8b9" d="M29.1,70.4 28.4,71.4 26.6,77.1 27.4,88.1 30.1,95.4 31.9,96.6 36.9,98.6 38.4,98.6 43.6,96.4 44.1,94.9 43.1,90.1 37.1,81.6 35.6,77.1 34.9,70.9 34.4,70.4Z"/><path fill="#f9f9bc" d="M29.1,70.6 26.9,76.9 27.9,89.1 29.9,94.4 31.1,96.1 37.4,98.6 39.4,98.1 43.9,95.9 42.9,89.9 37.1,81.9 35.6,77.4 34.9,71.1 34.4,70.6Z"/><path fill="#fcf7b7" d="M29.4,70.9 28.6,71.9 27.1,77.1 27.9,88.1 30.9,95.6 37.1,98.4 38.4,98.4 43.6,95.9 43.9,95.1 42.9,90.6 41.6,88.1 36.9,81.9 35.4,76.9 34.6,71.1Z"/><path fill="#fdf0a9" d="M29.6,71.6 28.4,74.4 27.4,79.9 28.4,88.1 30.4,94.1 31.6,95.6 36.9,98.1 39.4,97.9 43.1,96.1 43.6,95.4 42.4,89.9 37.1,83.1 34.4,71.9Z"/><path fill="#fde99b" d="M30.4,74.4 28.4,78.9 28.1,81.6 28.9,87.9 31.4,94.9 37.4,98.1 42.9,96.1 43.4,94.1 42.1,90.1 37.6,84.6 36.6,82.6 34.6,74.9Z"/><path fill="#fee28d" d="M31.1,77.1 29.1,81.1 29.1,85.1 29.9,89.6 31.9,94.6 33.1,95.9 37.1,97.9 38.6,97.9 41.9,96.6 43.1,95.6 42.4,91.6 37.4,84.9 34.9,77.9 33.6,77.1Z"/><path fill="#fed682" d="M31.6,79.9 29.9,83.4 29.9,86.4 30.6,90.9 32.4,94.6 34.4,96.4 37.4,97.9 42.1,96.4 43.1,95.4 42.6,92.9 41.1,90.1 37.4,85.6 35.4,80.9 33.4,79.6Z"/><path fill="#fdca78" d="M32.6,82.4 30.6,85.4 30.6,89.4 32.9,94.9 37.1,97.6 38.9,97.6 42.9,95.6 42.9,94.1 41.6,91.4 37.4,86.4 35.9,83.6 34.9,82.6Z"/><path fill="#fdbe6d" d="M32.6,83.9 30.9,86.4 31.4,91.6 33.4,95.1 37.4,97.6 41.9,96.4 42.9,95.4 42.9,94.6 41.4,91.4 37.4,86.9 35.9,84.4 33.9,83.6Z"/><path fill="#fcb362" d="M32.9,84.1 31.1,86.6 31.4,91.1 33.4,94.9 37.6,97.6 42.1,96.1 42.6,95.6 42.6,94.1 40.4,90.4 35.4,84.4Z"/><path fill="#fba55b" d="M32.9,84.4 31.4,86.4 31.4,90.4 33.6,94.9 37.4,97.4 41.6,96.4 42.6,95.4 42.6,94.4 41.1,91.6 35.4,84.6Z"/><path fill="#f99755" d="M33.1,84.4 31.4,86.9 31.9,91.6 33.6,94.6 37.4,97.4 41.9,96.1 42.6,94.9 40.6,91.1 38.1,88.6 35.9,85.1Z"/><path fill="#f8884f" d="M33.1,84.6 31.6,86.6 31.6,90.1 34.1,95.1 37.9,97.4 41.4,96.4 42.4,95.4 42.4,94.4 40.9,91.6 37.4,87.9 35.6,85.1Z"/><path fill="#f67a49" d="M32.9,84.9 31.6,86.9 32.1,91.6 34.1,94.9 37.4,97.1 39.1,97.1 41.6,96.1 42.4,94.6 40.1,90.9 37.4,88.1 35.4,85.1 34.1,84.6Z"/><path fill="#f26c46" d="M33.1,84.9 31.9,86.6 31.9,90.4 33.9,94.4 37.6,97.1 38.9,97.1 41.9,95.9 42.1,94.4 41.1,92.4 37.6,88.6 36.1,85.9 34.6,84.9Z"/><path fill="#ed5f46" d="M33.4,84.9 31.9,86.9 31.9,89.4 32.4,91.6 34.4,94.9 37.9,97.1 41.4,96.1 42.1,95.4 42.1,94.4 40.6,91.9 35.4,85.4Z"/><path fill="#e85146" d="M33.1,85.1 31.9,87.4 32.1,90.4 34.4,94.6 37.6,96.9 39.1,96.9 41.6,95.9 42.1,95.1 41.6,93.6 37.4,88.6 35.9,85.9 34.6,85.1Z"/><path fill="#e34446" d="M33.4,85.1 32.1,86.9 32.1,89.6 32.6,91.6 34.1,94.1 37.6,96.9 41.1,96.1 41.9,95.4 41.9,94.4 40.4,91.9 37.6,89.1 35.1,85.4Z"/><path fill="#de3646" d="M32.1,87.1 32.4,90.6 34.6,94.6 38.1,96.9 41.4,95.9 41.9,94.6 39.9,91.4 37.1,88.6 35.6,85.9 33.9,85.1Z"/><path fill="#d72b45" d="M33.6,85.4 32.4,86.9 32.4,89.9 34.6,94.4 37.6,96.6 40.9,96.1 41.6,95.4 41.6,94.1 40.4,92.1 37.4,89.1 36.1,86.6 35.1,85.6Z"/><path fill="#d02244" d="M33.4,85.6 32.4,87.1 32.9,91.4 34.6,94.1 37.9,96.6 41.1,95.9 41.6,95.1 41.4,93.9 37.6,89.6 35.9,86.4 34.1,85.4Z"/><path fill="#c91843" d="M33.6,85.6 32.4,88.1 32.9,91.1 34.4,93.6 37.6,96.4 40.9,95.9 41.4,94.1 40.6,92.9 37.9,90.1 35.9,86.6 34.6,85.6Z"/><path fill="#c20f42" d="M33.6,85.9 32.6,87.4 32.9,90.6 34.9,94.1 37.9,96.4 40.9,95.9 41.4,94.4 40.1,92.4 37.1,89.4 35.6,86.4Z"/><path fill="#bd0841" d="M33.9,85.9 32.6,88.1 33.1,90.9 34.9,93.9 37.6,96.1 40.6,95.9 41.1,94.1 40.1,92.6 37.1,89.6 35.6,86.6Z"/><path fill="#bc0541" d="M33.9,86.1 32.9,87.6 33.4,90.9 35.1,93.9 38.4,96.1 40.6,95.6 41.1,94.6 40.1,92.9 36.9,89.6 35.6,86.9Z"/><path fill="#ba0241" d="M33.9,86.4 33.1,87.6 33.4,90.1 35.1,93.4 37.6,95.6 40.6,95.4 40.9,94.6 39.9,92.9 37.1,90.4 35.4,86.9Z"/></g></g><path fill="none" stroke="#1c1c30" stroke-width="0.60" stroke-opacity="0.85" stroke-linejoin="round" d="M50.40,8.40C50.65,9.23 49.38,12.57 49.00,15.00C48.62,17.43 48.68,20.33 48.10,23.00C47.52,25.67 46.35,28.45 45.50,31.00C44.65,33.55 43.83,35.80 43.00,38.30C42.17,40.80 41.15,42.77 40.50,46.00C39.85,49.23 39.45,53.20 39.10,57.70C38.75,62.20 38.13,68.92 38.40,73.00C38.67,77.08 39.43,79.13 40.70,82.20C41.97,85.27 45.23,88.60 46.00,91.40C46.77,94.20 46.70,97.33 45.30,99.00C43.90,100.67 40.15,101.40 37.60,101.40C35.05,101.40 32.05,101.18 30.00,99.00C27.95,96.82 26.58,92.63 25.30,88.30C24.02,83.97 22.68,77.72 22.30,73.00C21.92,68.28 22.77,63.22 23.00,60.00C23.23,56.78 23.07,57.32 23.70,53.70C24.33,50.08 25.58,42.25 26.80,38.30C28.02,34.35 29.37,32.55 31.00,30.00C32.63,27.45 34.60,25.50 36.60,23.00C38.60,20.50 41.18,17.17 43.00,15.00C44.82,12.83 46.27,11.10 47.50,10.00C48.73,8.90 50.15,7.57 50.40,8.40Z"/><path fill="none" stroke="#1c1c30" stroke-width="0.50" stroke-opacity="0.70" stroke-linejoin="round" d="M41.20,30.70C41.87,30.70 42.28,31.12 42.00,33.00C41.72,34.88 40.25,39.17 39.50,42.00C38.75,44.83 37.95,47.83 37.50,50.00C37.05,52.17 37.03,52.45 36.80,55.00C36.57,57.55 36.27,62.80 36.10,65.30C35.93,67.80 37.65,69.22 35.80,70.00C33.95,70.78 26.80,70.78 25.00,70.00C23.20,69.22 24.95,68.63 25.00,65.30C25.05,61.97 24.75,53.22 25.30,50.00C25.85,46.78 27.02,48.00 28.30,46.00C29.58,44.00 31.38,40.17 33.00,38.00C34.62,35.83 36.63,34.22 38.00,33.00C39.37,31.78 40.53,30.70 41.20,30.70Z"/><path fill="none" stroke="#4a4a30" stroke-width="0.55" stroke-opacity="0.80" stroke-linejoin="round" d="M28.40,70.00C29.93,68.73 34.03,68.73 35.30,70.00C36.57,71.27 35.62,75.57 36.00,77.60C36.38,79.63 36.43,80.30 37.60,82.20C38.77,84.10 41.85,86.70 43.00,89.00C44.15,91.30 45.40,94.33 44.50,96.00C43.60,97.67 40.02,99.00 37.60,99.00C35.18,99.00 31.77,97.83 30.00,96.00C28.23,94.17 27.65,91.07 27.00,88.00C26.35,84.93 25.87,80.60 26.10,77.60C26.33,74.60 26.87,71.27 28.40,70.00Z"/><rect x="77.8" y="82.0" width="5.4" height="27.5" fill="url(#cb)"/><text x="79.4" y="80.4" class="dose">Dose</text><text x="84.0" y="83.9" class="lt">600</text><text x="84.0" y="90.1" class="lt">500</text><text x="84.0" y="96.3" class="lt">400</text><text x="84.0" y="102.5" class="lt">300</text><text x="84.0" y="108.7" class="lt">200</text><line x1="-2.3" y1="0" x2="-2.3" y2="113.0" class="ax"/><line x1="0" y1="114.9" x2="93.6" y2="114.9" class="ax"/><text x="0.3" y="120.0" class="tl" text-anchor="middle">-1</text><text x="37.9" y="120.0" class="tl" text-anchor="middle">0</text><text x="75.5" y="120.0" class="tl" text-anchor="middle">1</text><text x="-4.6" y="13.6" class="tl" text-anchor="end">3</text><text x="-4.6" y="42.0" class="tl" text-anchor="end">2</text><text x="-4.6" y="70.4" class="tl" text-anchor="end">1</text><text x="-4.6" y="98.9" class="tl" text-anchor="end">0</text></g><g transform="translate(23.0,141.3)"><rect width="93.6" height="113.0" fill="#6450a5"/><g clip-path="url(#pc)"><g filter="url(#bl)"><path fill="#5d55a9" d="M35.4,11.1 34.1,11.6 31.6,16.4 27.6,33.4 22.9,50.4 20.9,62.9 21.1,73.1 19.6,84.4 19.6,89.4 20.6,98.6 22.1,101.4 24.1,103.4 27.1,102.4 29.6,100.1 41.9,83.6 52.6,71.4 56.6,62.9 60.4,44.4 60.4,34.6 59.4,32.9 55.4,29.1 48.6,24.9 43.4,19.9 41.1,15.6Z"/><path fill="#5958ac" d="M35.9,11.6 34.1,12.1 31.9,16.4 28.4,31.6 23.1,50.6 21.1,63.1 21.4,73.4 19.9,84.4 20.1,92.4 20.9,98.6 22.9,101.9 24.6,103.1 27.4,101.9 29.1,100.4 42.9,81.9 52.4,71.1 56.4,62.6 60.1,44.1 60.1,34.9 59.6,33.6 55.9,29.9 49.1,25.6 43.1,19.9 41.1,16.1Z"/><path fill="#555bae" d="M35.9,11.9 34.4,12.1 31.6,17.9 28.6,31.4 23.9,48.4 21.6,60.9 21.6,72.6 19.9,87.6 20.9,97.9 22.4,100.9 24.4,102.9 26.6,102.1 28.9,100.4 42.6,81.9 52.1,71.1 56.4,61.9 59.9,44.4 59.9,34.6 59.1,33.4 55.1,29.6 48.4,25.4 43.4,20.6 40.9,16.1Z"/><path fill="#505eb1" d="M35.4,11.9 33.9,13.1 31.6,18.4 28.1,33.9 24.1,48.1 21.6,62.4 21.9,71.9 20.1,84.6 20.1,88.9 21.1,98.1 23.1,101.6 24.4,102.6 27.1,101.6 29.1,99.9 42.6,81.6 52.4,70.4 56.4,61.1 59.9,43.1 59.9,35.6 58.6,33.1 55.1,29.9 48.1,25.4 43.4,20.9 40.9,16.4Z"/><path fill="#4b62b3" d="M35.6,12.1 34.9,12.1 33.9,13.4 31.9,17.9 29.1,30.4 24.1,48.9 21.9,61.6 21.9,72.9 20.1,87.6 21.1,97.6 22.1,99.9 24.1,102.4 26.9,101.6 29.4,99.4 42.6,81.4 51.9,70.9 55.9,62.4 59.6,43.9 59.6,35.1 58.6,33.4 54.9,29.9 48.9,26.1 42.9,20.4 41.1,16.9Z"/><path fill="#4665b6" d="M35.6,12.4 34.1,13.1 32.1,17.4 23.9,50.6 21.9,62.6 22.1,71.9 20.4,84.1 20.4,89.1 21.4,98.1 23.1,101.1 24.6,102.4 28.6,100.1 41.9,82.1 51.9,70.6 55.6,62.6 59.4,44.6 59.6,40.1 59.4,34.9 58.9,33.9 54.6,29.9 47.6,25.4 42.9,20.6 40.1,15.9Z"/><path fill="#4168b8" d="M35.4,12.4 34.1,13.4 31.9,18.6 28.9,32.4 24.4,49.1 22.1,61.9 22.1,72.6 20.4,84.9 20.4,88.1 21.4,97.9 24.4,102.1 26.4,101.6 29.1,99.4 42.1,81.6 51.9,70.4 55.6,62.1 59.4,43.9 59.4,35.1 58.9,34.1 55.4,30.6 47.1,25.1 42.9,20.9 40.6,16.6Z"/><path fill="#3c6bba" d="M35.6,12.6 34.6,12.9 32.4,17.1 24.6,48.6 22.1,62.9 22.4,71.4 20.4,86.9 21.4,97.4 24.1,101.9 26.6,101.4 29.6,98.6 42.4,81.1 51.4,70.9 55.4,62.4 59.1,44.6 59.4,36.4 58.9,34.4 55.1,30.6 48.1,26.1 43.1,21.4 40.9,17.1Z"/><path fill="#376ebd" d="M35.9,12.9 34.4,13.4 32.1,18.4 24.4,50.4 22.4,61.9 22.4,72.1 20.6,84.1 20.6,89.1 21.4,97.1 23.4,100.9 24.6,101.9 26.4,101.4 29.1,99.1 42.6,80.6 51.4,70.6 55.4,61.9 59.1,43.9 58.9,34.6 54.9,30.6 47.9,26.1 44.1,22.6 39.9,16.1Z"/><path fill="#3272bf" d="M35.4,12.9 33.9,14.4 32.4,17.9 24.6,49.9 22.4,62.9 22.6,70.4 20.6,84.6 20.6,88.4 21.6,97.6 24.4,101.6 26.6,101.1 29.6,98.4 42.9,80.1 51.4,70.4 54.9,63.1 58.9,44.6 59.1,35.9 58.6,34.6 54.6,30.6 47.4,25.9 42.9,21.4 40.6,17.1Z"/><path fill="#2f76c1" d="M35.6,13.1 34.9,13.1 32.4,18.1 24.9,49.4 22.6,61.9 22.6,71.4 20.6,87.4 21.6,97.4 23.6,100.9 24.6,101.6 26.9,100.9 29.4,98.6 42.1,80.9 51.4,70.1 54.9,62.6 58.9,43.9 58.9,35.4 58.1,34.1 54.4,30.6 46.6,25.4 42.9,21.6 40.6,17.4Z"/><path fill="#2c79c3" d="M35.4,13.1 34.4,13.9 32.4,18.4 25.1,48.9 22.6,62.9 22.6,72.1 20.9,83.9 20.9,89.6 21.6,97.1 24.4,101.4 25.6,101.4 28.9,99.1 42.4,80.4 51.4,69.9 54.9,62.1 58.6,44.6 58.9,35.9 58.1,34.4 55.1,31.4 47.9,26.6 43.1,22.1 40.1,16.9Z"/><path fill="#297dc4" d="M35.6,13.4 34.4,14.1 32.6,17.9 24.9,50.6 22.9,61.9 22.9,70.1 20.9,84.1 20.9,88.9 21.6,96.9 22.6,99.1 24.6,101.4 26.9,100.6 29.4,98.4 42.6,79.9 50.9,70.4 54.6,62.4 58.6,43.9 58.4,34.9 54.9,31.4 47.6,26.6 42.6,21.6 40.4,17.4Z"/><path fill="#2681c6" d="M35.6,13.6 34.9,13.6 32.6,18.1 25.1,50.1 22.9,62.6 22.9,71.1 20.9,84.6 21.6,96.6 22.9,99.4 24.4,101.1 27.1,100.4 29.1,98.6 42.9,79.4 50.9,70.1 54.6,61.9 58.4,44.6 58.6,35.9 58.1,34.9 54.6,31.4 47.1,26.4 42.6,21.9 40.6,17.9Z"/><path fill="#2384c8" d="M35.4,13.6 34.6,14.1 32.9,17.6 25.4,49.6 22.9,63.9 22.9,71.6 20.9,87.4 21.6,96.4 23.4,99.9 24.9,101.1 27.4,100.1 29.6,97.9 42.4,79.9 50.9,69.9 54.1,63.1 58.4,43.9 58.1,35.1 54.4,31.4 46.6,26.1 42.9,22.4 40.6,18.1Z"/><path fill="#2088ca" d="M35.6,13.9 34.6,14.4 32.6,18.9 25.4,50.1 23.1,62.4 23.1,69.1 21.1,83.6 21.1,90.1 21.6,96.1 22.6,98.6 24.6,100.9 26.9,100.4 29.4,98.1 41.1,81.4 51.1,69.1 54.1,62.6 58.1,44.6 58.1,35.4 54.1,31.4 47.9,27.4 42.9,22.6 40.1,17.6Z"/><path fill="#1d8ccb" d="M35.6,14.1 34.6,14.6 32.9,18.4 25.6,49.6 23.1,63.1 23.1,70.4 21.1,84.1 21.1,89.4 21.9,96.9 23.1,99.4 24.6,100.9 27.1,100.1 28.9,98.6 41.4,80.9 50.6,69.6 54.1,61.9 58.1,43.4 57.9,35.4 54.1,31.6 47.9,27.6 44.1,24.1 41.9,21.4 40.1,17.9Z"/><path fill="#1b8fca" d="M35.6,14.4 34.4,15.4 32.6,19.6 25.6,50.1 23.4,62.1 23.1,70.9 21.1,84.4 21.1,88.6 21.9,96.6 23.6,99.9 25.1,100.9 27.4,99.9 29.6,97.6 42.1,79.6 50.6,69.4 53.9,62.1 57.9,44.1 58.1,37.1 57.6,35.4 54.1,31.9 47.9,27.9 42.1,22.1 40.1,18.1Z"/><path fill="#1a92ca" d="M35.6,14.6 34.6,15.4 32.9,19.1 25.6,50.6 23.4,62.9 23.1,71.6 21.1,84.9 21.9,96.4 23.1,99.1 24.6,100.6 26.9,100.1 29.4,97.9 42.4,79.1 50.1,69.9 53.6,62.4 57.6,44.6 57.9,36.6 57.1,35.1 53.4,31.6 46.9,27.4 42.6,23.1 40.4,18.9Z"/><path fill="#1796c9" d="M35.6,15.1 34.6,15.9 33.4,18.1 26.1,48.9 23.4,63.6 23.1,72.1 21.1,87.1 21.9,96.4 23.4,99.4 24.9,100.6 27.1,99.9 28.9,98.4 41.9,79.6 50.4,69.1 53.4,62.4 57.4,44.9 57.4,36.1 53.4,32.1 45.9,26.9 42.1,22.9 39.9,18.6Z"/><path fill="#159bc9" d="M35.6,16.6 34.1,17.6 32.1,23.1 23.6,62.9 23.1,72.9 21.4,83.9 21.4,90.1 22.1,96.9 24.6,100.4 27.4,99.6 29.6,97.4 41.6,79.6 49.6,69.6 53.1,61.6 56.9,45.1 57.1,38.1 56.6,36.9 52.6,32.9 47.1,29.1 42.1,24.1 40.1,20.4Z"/><path fill="#12a1c7" d="M35.1,18.4 34.1,18.9 32.4,23.1 26.4,49.4 23.6,63.9 23.4,71.1 21.4,84.6 21.4,88.9 22.1,96.6 23.4,99.1 24.9,100.4 27.6,99.4 30.1,96.6 42.1,78.6 49.4,69.4 52.1,63.1 56.1,46.6 56.4,38.9 53.1,34.9 46.9,30.4 41.6,25.1 38.6,20.6Z"/><path fill="#15a6c0" d="M35.1,20.1 33.9,20.6 31.9,25.9 23.9,63.1 23.4,71.9 21.4,87.9 22.1,96.4 24.6,100.1 27.1,99.6 30.6,95.9 41.9,78.6 48.4,70.4 51.4,63.9 55.4,47.6 55.6,39.9 54.9,38.6 42.4,27.6 38.4,22.1Z"/><path fill="#18acb8" d="M34.9,21.9 34.1,21.9 33.4,22.9 31.9,26.9 23.9,63.9 23.4,72.6 21.6,83.9 21.6,90.9 22.4,96.9 23.6,99.1 24.9,100.1 27.4,99.4 30.1,96.4 41.6,78.6 47.6,70.9 50.6,64.4 54.6,48.6 54.6,40.4 41.1,27.6 38.1,23.6Z"/><path fill="#1bb1b0" d="M34.9,23.6 33.9,23.6 33.1,24.6 31.6,28.9 23.9,64.9 23.4,73.4 21.6,84.4 22.1,95.9 23.4,98.6 24.6,99.9 27.1,99.4 29.9,96.6 36.4,87.1 41.4,78.6 47.6,70.1 50.1,64.1 53.9,49.6 54.4,43.6 53.6,41.1 40.6,28.6 37.9,25.1Z"/><path fill="#1eb6a9" d="M34.1,25.1 33.4,25.6 31.6,29.9 26.1,53.6 23.9,65.9 23.4,73.9 21.6,84.9 22.1,95.6 23.4,98.6 24.9,99.9 27.4,99.1 30.4,95.9 35.6,88.1 40.1,80.1 46.6,71.1 49.1,65.6 53.4,48.9 53.6,44.1 51.6,40.6 46.6,36.1 37.6,26.6Z"/><path fill="#28baa7" d="M34.6,27.1 33.6,27.1 32.9,27.9 31.4,31.9 24.1,64.9 21.6,87.6 22.4,96.1 23.6,98.9 25.1,99.9 27.6,98.9 30.1,96.1 36.1,87.1 39.9,80.1 45.6,72.1 48.6,65.4 52.6,49.9 52.9,44.9 51.9,42.9 37.4,28.1Z"/><path fill="#33bea5" d="M34.9,28.9 33.4,28.9 32.6,29.6 31.4,32.9 24.4,63.9 23.6,73.1 21.9,84.1 21.9,91.1 22.4,96.1 23.4,98.4 24.6,99.6 27.1,99.1 29.9,96.4 35.4,88.1 39.6,80.1 44.9,72.6 48.1,65.1 51.9,51.1 52.1,45.9 50.9,43.6 37.9,30.1Z"/><path fill="#3ec1a4" d="M34.1,30.4 32.6,31.1 30.6,36.6 24.1,66.4 23.6,73.6 21.9,84.9 22.4,95.9 23.6,98.6 24.9,99.6 27.4,98.9 30.4,95.6 35.1,88.4 38.9,80.9 44.6,72.4 47.1,66.6 50.1,56.6 51.4,50.4 51.4,46.9 49.1,43.4 37.4,31.4Z"/><path fill="#49c5a2" d="M35.1,32.1 33.1,32.1 32.4,32.9 30.6,37.6 24.4,65.4 23.6,74.4 21.9,85.4 22.4,95.6 23.9,98.9 25.1,99.6 27.6,98.6 31.4,94.1 35.1,88.1 38.6,80.9 43.9,72.9 46.9,65.6 50.6,51.9 50.6,47.9 49.4,45.6 38.6,34.1Z"/><path fill="#54c8a1" d="M34.9,33.6 33.6,33.6 32.4,34.4 30.9,37.9 24.4,66.1 21.9,87.6 22.4,95.1 23.6,98.4 24.6,99.4 27.1,98.9 31.1,94.4 34.9,88.4 38.4,80.9 43.1,73.4 45.6,67.9 49.9,53.1 49.9,48.9 47.9,45.6 37.1,34.4Z"/><path fill="#62cca1" d="M35.9,35.4 33.4,35.4 31.4,37.6 24.9,63.9 22.1,84.6 22.4,94.9 23.9,98.6 24.9,99.4 27.1,98.9 29.4,96.6 34.9,88.1 38.4,80.4 44.1,70.4 48.1,58.6 49.1,54.1 49.4,50.9 48.4,48.4 41.4,39.6Z"/><path fill="#73d2a2" d="M35.9,36.9 32.4,37.4 30.9,40.1 24.9,64.6 22.1,85.1 22.1,90.4 22.6,95.6 23.6,98.1 25.1,99.4 26.9,98.9 28.9,97.1 33.6,90.1 38.6,79.4 43.6,70.4 48.4,55.4 48.6,51.9 47.1,48.6 41.1,40.9Z"/><path fill="#84d6a3" d="M36.1,38.4 32.6,38.9 30.9,41.4 24.9,65.4 22.1,85.9 22.6,95.4 24.6,99.1 26.9,98.9 29.6,96.1 33.4,90.4 37.4,81.1 42.4,72.1 46.9,59.6 47.9,55.1 47.9,52.6 45.9,48.9 41.1,42.6Z"/><path fill="#94dca4" d="M35.4,39.6 32.1,40.6 30.9,42.6 24.9,66.1 22.4,84.4 22.6,95.1 23.6,97.9 24.9,99.1 27.1,98.6 29.4,96.4 33.1,90.6 36.6,82.1 41.9,72.1 45.1,63.6 47.1,56.4 47.1,53.6 45.1,49.9 40.1,42.9 37.1,40.4Z"/><path fill="#a5e0a5" d="M35.9,41.1 32.9,41.6 30.9,43.9 27.9,53.9 24.9,66.9 22.4,85.1 22.4,91.6 23.1,96.6 23.9,98.1 25.4,99.1 26.9,98.6 29.1,96.6 32.9,90.9 36.9,80.9 41.4,72.1 44.9,63.1 46.4,57.6 46.4,54.6 45.1,51.9 39.9,44.1Z"/><path fill="#b5e5a8" d="M36.1,42.6 33.1,42.9 31.4,44.4 30.4,46.4 25.1,66.1 22.4,85.9 22.6,94.4 23.1,96.4 24.9,98.9 26.9,98.6 29.6,95.9 32.6,91.1 36.6,80.6 40.9,72.1 45.6,58.9 45.6,55.4 39.4,45.1Z"/><path fill="#c4eaab" d="M35.9,43.9 32.9,44.4 30.6,46.9 27.6,56.6 24.9,68.4 22.4,88.6 22.9,95.4 23.9,97.9 25.1,98.9 27.1,98.4 29.4,96.1 32.4,91.4 36.4,80.4 43.1,65.6 44.9,60.1 45.1,57.9 44.1,54.6 39.1,46.4Z"/><path fill="#d4efaf" d="M35.6,45.1 32.9,45.6 31.1,47.4 30.1,49.4 24.9,69.1 22.6,85.1 22.6,92.6 23.4,96.6 24.1,98.1 25.4,98.9 26.6,98.6 29.1,96.4 32.6,90.6 37.1,77.6 43.1,64.6 44.4,59.9 43.9,56.6 39.1,48.1Z"/><path fill="#e3f4b2" d="M35.4,46.4 32.9,46.9 31.1,48.6 29.9,51.1 25.4,67.4 22.6,86.1 22.9,94.4 23.4,96.4 24.9,98.6 26.4,98.6 28.4,97.1 31.4,92.9 35.9,79.6 41.6,67.4 43.4,62.4 43.6,59.4 43.1,57.6 38.1,48.4Z"/><path fill="#eef7b6" d="M35.4,47.6 33.9,47.6 32.1,48.6 29.9,52.1 25.4,68.4 22.6,87.4 23.1,95.4 23.9,97.4 25.4,98.6 27.1,98.1 29.4,95.9 32.1,91.1 35.6,79.1 41.4,67.1 42.9,62.6 42.4,58.4 38.4,50.4Z"/><path fill="#f3f8b9" d="M35.1,48.6 33.6,48.6 32.4,49.4 29.6,53.6 25.6,68.4 22.9,85.6 23.1,94.9 23.9,97.1 25.1,98.4 26.6,98.4 29.1,96.1 32.1,90.9 35.6,77.9 40.6,68.1 42.4,63.1 42.1,60.1 37.6,50.6Z"/><path fill="#f9f9bc" d="M34.6,49.1 32.6,49.9 29.9,53.9 25.6,69.9 22.9,86.6 23.4,95.6 24.1,97.4 25.4,98.4 26.9,98.1 28.9,96.4 31.9,91.1 35.4,77.4 40.4,67.9 41.9,63.6 41.6,60.4 37.1,50.9Z"/><path fill="#fcf7b7" d="M34.9,49.9 33.1,50.1 31.4,51.9 29.6,55.4 26.9,65.1 24.4,77.1 23.1,85.4 23.1,93.6 24.1,97.1 25.9,98.4 27.1,97.9 29.4,95.6 31.4,92.1 35.4,76.1 39.4,69.1 41.4,64.1 41.1,60.6 36.9,51.4Z"/><path fill="#fdf0a9" d="M34.4,50.4 31.9,51.9 29.9,55.6 26.9,66.1 24.1,79.1 23.1,86.4 23.1,92.6 23.9,96.6 25.4,98.1 26.6,98.1 29.1,95.9 31.6,91.4 35.4,75.1 38.1,70.6 40.9,64.4 40.6,61.1 37.4,53.1Z"/><path fill="#fde99b" d="M34.1,52.1 33.1,52.1 31.9,53.1 29.6,57.4 26.9,66.9 26.1,72.1 24.1,79.6 23.1,87.9 23.4,94.4 24.1,96.9 25.6,98.1 26.9,97.9 28.9,96.1 31.6,91.1 34.9,75.6 38.6,68.9 39.9,65.1 39.6,61.6 36.9,54.4Z"/><path fill="#fee28d" d="M33.1,54.9 30.9,56.1 29.4,59.1 27.6,64.6 24.1,80.1 23.4,86.1 23.4,93.4 23.9,96.1 25.4,97.9 26.6,97.9 28.4,96.6 31.1,92.1 32.6,87.1 34.6,75.6 38.4,67.4 37.6,60.4 36.1,57.1Z"/><path fill="#fed682" d="M32.1,57.6 30.1,58.9 28.6,62.1 23.9,82.4 23.4,87.4 23.6,94.9 24.1,96.6 25.6,97.9 26.6,97.9 29.1,95.6 31.1,91.9 32.6,86.6 34.4,75.6 36.9,69.4 37.1,64.9 36.6,62.4 35.1,59.4Z"/><path fill="#fdca78" d="M31.6,60.6 30.4,60.6 29.4,61.6 27.9,65.1 24.1,81.4 23.6,94.1 24.4,96.9 25.6,97.9 26.9,97.6 28.9,95.9 31.1,91.6 32.6,86.1 33.9,76.6 35.9,69.9 36.1,67.1 35.6,64.4 34.1,61.9Z"/><path fill="#fdbe6d" d="M30.6,62.6 29.4,62.9 28.1,65.1 24.1,81.9 23.6,86.6 23.9,95.4 24.4,96.6 26.1,97.9 27.9,96.9 29.6,94.6 31.9,89.1 33.4,78.1 35.4,69.6 35.4,67.4 33.9,64.4Z"/><path fill="#fcb362" d="M30.4,63.6 28.9,64.4 27.9,66.4 24.1,82.4 23.9,94.9 24.1,96.1 25.6,97.6 27.1,97.4 29.1,95.4 31.4,90.6 34.9,70.6 34.9,68.1 34.1,66.4 32.6,64.6Z"/><path fill="#fba55b" d="M30.4,64.6 29.1,64.9 28.1,66.4 24.4,81.1 23.9,94.1 24.1,95.9 25.6,97.6 26.6,97.6 28.9,95.6 31.1,91.1 34.4,72.1 34.4,68.6 33.4,66.6Z"/><path fill="#f99755" d="M30.1,65.6 28.9,65.9 27.9,67.6 24.4,81.6 23.9,87.4 24.1,95.6 25.9,97.6 28.6,95.9 31.1,90.9 34.1,71.9 34.1,70.1 32.9,67.4Z"/><path fill="#f8884f" d="M30.1,66.6 29.1,66.6 27.6,68.9 24.6,80.4 24.1,95.1 25.6,97.4 27.1,97.1 29.4,94.6 31.1,90.6 32.1,86.1 33.6,70.6 32.6,68.4Z"/><path fill="#f67a49" d="M30.1,67.6 28.9,67.6 27.9,68.9 24.6,80.9 24.1,94.4 24.4,95.9 25.6,97.4 27.1,97.1 28.9,95.4 30.6,91.9 31.9,87.1 33.4,72.1 32.4,69.4Z"/><path fill="#f26c46" d="M28.9,68.4 27.6,70.1 25.4,77.1 24.6,81.4 24.1,88.1 24.4,95.6 25.9,97.4 27.4,96.9 29.1,94.9 31.1,90.1 31.9,86.4 32.9,72.4 31.6,69.6Z"/><path fill="#ed5f46" d="M29.4,69.4 28.6,69.4 27.6,70.6 25.4,77.4 24.6,82.1 24.4,95.4 25.1,96.9 26.1,97.4 28.4,95.9 29.9,93.4 31.9,85.6 32.6,73.6 31.4,70.6Z"/><path fill="#e85146" d="M29.4,70.4 28.4,70.4 27.4,71.9 24.9,80.6 24.4,94.6 25.6,97.1 27.1,96.9 29.1,94.6 30.9,90.4 31.6,86.9 32.4,75.4 31.1,71.6Z"/><path fill="#e34446" d="M28.6,71.1 27.6,71.9 26.4,74.6 24.9,81.4 24.6,95.6 25.9,97.1 26.6,97.1 28.6,95.4 30.9,90.1 31.6,85.9 31.9,75.1 30.9,72.6Z"/><path fill="#de3646" d="M28.9,72.1 28.1,72.1 26.9,73.6 24.9,81.9 24.6,95.4 25.9,97.1 27.9,96.1 29.1,94.4 31.4,87.1 31.6,76.4 30.6,73.4Z"/><path fill="#d72b45" d="M28.6,72.9 27.6,72.9 26.9,73.9 25.1,80.6 24.6,94.6 25.6,96.9 27.1,96.6 28.9,94.6 31.1,88.1 31.6,78.4 30.6,74.4Z"/><path fill="#d02244" d="M28.1,73.1 27.4,73.4 26.4,75.4 25.1,81.4 24.9,95.6 25.9,96.9 27.4,96.4 29.4,93.6 31.1,87.4 31.1,76.9 30.4,74.6Z"/><path fill="#c91843" d="M28.6,73.6 27.4,73.6 25.4,80.1 24.9,95.4 25.9,96.9 26.9,96.6 29.1,93.9 30.9,88.4 31.4,79.6 30.4,75.1Z"/><path fill="#c20f42" d="M28.4,73.9 27.4,73.9 26.6,75.4 25.4,81.1 25.1,95.9 25.9,96.6 27.4,96.1 28.9,94.1 30.9,87.4 31.1,79.1 30.1,75.1Z"/><path fill="#bd0841" d="M28.4,74.1 27.6,74.1 26.9,75.1 25.6,79.9 25.1,95.4 26.1,96.6 28.6,94.4 30.6,88.1 30.9,78.9 29.9,75.1Z"/><path fill="#bc0541" d="M28.4,74.4 27.4,74.6 25.9,79.1 25.4,87.1 25.4,95.6 25.9,96.4 26.6,96.4 28.9,93.6 30.4,88.4 30.9,80.4 29.9,75.6Z"/><path fill="#ba0241" d="M28.1,74.6 27.1,75.6 26.1,79.1 25.6,87.6 25.9,96.1 26.6,96.1 28.4,94.1 30.1,88.1 30.4,79.1 29.6,75.9Z"/></g></g><path fill="none" stroke="#1c1c30" stroke-width="0.60" stroke-opacity="0.85" stroke-linejoin="round" d="M55.1,56.1 54.8,57.0 54.6,57.8 54.4,58.7 54.2,59.5 54.0,60.4 53.8,61.2 53.6,62.1 53.3,62.9 52.9,63.7 52.6,64.5 52.2,65.3 51.8,66.1 51.4,66.9 51.0,67.8 50.6,68.7 50.1,69.5 49.5,70.3 48.9,71.0 48.2,71.8 47.6,72.6 46.9,73.5 46.1,74.3 45.4,75.3 44.6,76.3 43.7,77.3 42.8,78.4 41.8,79.8 40.7,81.4 39.4,83.1 38.0,85.1 36.4,87.4 34.4,90.1 32.1,93.4 29.2,97.5 26.3,99.9 23.9,99.4 22.3,97.0 21.7,92.6 21.5,88.6 21.2,85.1 21.7,81.2 22.2,77.8 22.6,75.1 23.0,72.8 23.3,70.8 23.5,69.2 23.5,67.8 23.5,66.6 23.5,65.5 23.5,64.5 23.5,63.5 23.5,62.5 23.7,61.6 23.9,60.7 24.0,59.8 24.2,59.0 24.3,58.3 24.5,57.5 24.6,56.8 24.7,56.1 24.9,55.4 25.0,54.7 25.1,54.0 25.2,53.4 25.4,52.7 25.5,52.0 25.6,51.3 25.8,50.6 25.9,49.9 26.1,49.2 26.2,48.4 26.4,47.7 26.6,46.8 26.8,46.0 27.0,45.0 27.2,44.1 27.4,43.0 27.6,41.8 27.9,40.6 28.2,39.1 28.6,37.6 28.9,35.8 29.4,33.7 29.9,31.2 30.6,28.3 31.3,24.7 32.3,20.1 33.8,16.0 35.8,14.3 38.0,16.2 40.0,17.9 41.7,20.8 43.2,23.3 44.7,24.8 46.0,26.1 47.3,27.4 48.7,28.3 50.0,29.2 51.3,30.0 52.5,30.9 53.8,31.7 55.0,32.8 56.0,33.8 57.1,34.9 58.0,36.1 57.9,38.2 57.9,40.0 57.8,41.7 57.7,43.3 57.6,44.8 57.3,46.3 57.0,47.6 56.7,48.9 56.4,50.1 56.2,51.2 56.0,52.3 55.7,53.3 55.5,54.3 55.3,55.2Z"/><path fill="none" stroke="#4a4a30" stroke-width="0.55" stroke-opacity="0.80" stroke-linejoin="round" d="M38.0,72.5 37.9,72.9 37.7,73.2 37.6,73.5 37.4,73.8 37.3,74.1 37.2,74.4 37.0,74.7 36.9,75.0 36.7,75.3 36.6,75.6 36.5,75.9 36.3,76.2 36.2,76.5 36.0,76.8 35.9,77.2 35.7,77.5 35.6,77.8 35.4,78.3 35.3,78.7 35.1,79.2 35.0,79.8 34.8,80.4 34.6,81.1 34.3,82.0 34.0,82.9 33.7,84.0 33.3,85.4 32.8,87.3 32.1,89.6 31.3,92.5 30.1,94.6 28.7,97.2 27.2,98.4 25.5,99.5 24.3,98.6 23.3,97.1 22.7,94.8 22.4,92.3 22.4,90.0 22.3,88.0 22.6,85.9 22.8,84.2 23.0,82.8 23.1,81.6 23.2,80.5 23.4,79.6 23.5,78.8 23.6,78.1 23.7,77.4 23.8,76.8 23.9,76.3 24.0,75.7 24.1,75.3 24.1,74.8 24.2,74.4 24.3,74.0 24.3,73.6 24.4,73.2 24.4,72.9 24.5,72.5 24.5,72.2 24.6,71.8 24.7,71.5 24.7,71.1 24.8,70.8 24.8,70.4 24.9,70.1 24.9,69.7 25.0,69.3 25.1,69.0 25.2,68.6 25.3,68.2 25.4,67.8 25.5,67.4 25.7,66.9 25.8,66.4 25.9,65.9 26.1,65.4 26.2,64.8 26.4,64.2 26.6,63.4 26.9,62.6 27.1,61.7 27.4,60.7 27.8,59.5 28.2,58.1 28.7,56.4 29.3,54.3 30.2,52.4 31.3,50.5 32.5,49.3 33.8,48.4 35.0,48.7 36.1,49.5 37.2,50.3 38.0,51.6 38.7,53.1 39.3,54.4 39.9,55.6 40.4,56.7 40.9,57.7 41.3,58.7 41.7,59.6 42.0,60.6 42.1,61.6 42.2,62.6 42.0,63.8 41.6,65.0 41.2,66.0 40.9,67.0 40.6,67.8 40.2,68.5 39.8,69.2 39.5,69.8 39.2,70.4 38.9,70.9 38.7,71.3 38.5,71.8 38.2,72.1Z"/><rect x="77.8" y="82.0" width="5.4" height="27.5" fill="url(#cb)"/><text x="79.4" y="80.4" class="dose">Dose</text><text x="84.0" y="83.9" class="lt">600</text><text x="84.0" y="90.1" class="lt">500</text><text x="84.0" y="96.3" class="lt">400</text><text x="84.0" y="102.5" class="lt">300</text><text x="84.0" y="108.7" class="lt">200</text><line x1="-2.3" y1="0" x2="-2.3" y2="113.0" class="ax"/><line x1="0" y1="114.9" x2="93.6" y2="114.9" class="ax"/><text x="1.5" y="120.0" class="tl" text-anchor="middle">-5</text><text x="26.0" y="120.0" class="tl" text-anchor="middle">0</text><text x="50.5" y="120.0" class="tl" text-anchor="middle">5</text><text x="75.0" y="120.0" class="tl" text-anchor="middle">10</text><text x="-4.6" y="16.4" class="tl" text-anchor="end">25</text><text x="-4.6" y="33.2" class="tl" text-anchor="end">20</text><text x="-4.6" y="50.1" class="tl" text-anchor="end">15</text><text x="-4.6" y="66.9" class="tl" text-anchor="end">10</text><text x="-4.6" y="83.8" class="tl" text-anchor="end">5</text><text x="-4.6" y="100.6" class="tl" text-anchor="end">0</text></g><g transform="translate(129.2,141.3)"><rect width="93.6" height="113.0" fill="#6450a5"/><g clip-path="url(#pc)"><g filter="url(#bl)"><path fill="#5d55a9" d="M50.4,13.6 46.1,13.1 40.1,14.4 32.1,19.1 28.1,22.9 22.4,30.1 18.9,35.9 14.6,44.9 11.4,54.6 9.1,65.4 8.4,72.9 8.4,81.9 9.9,91.9 11.9,97.9 15.6,104.1 19.1,107.6 24.1,110.1 30.1,110.6 35.6,109.1 40.9,106.1 48.4,99.1 53.1,92.6 56.9,86.1 61.1,76.4 63.4,69.4 65.4,60.4 66.4,52.4 66.4,40.6 65.1,32.6 62.9,25.9 59.4,19.9 54.9,15.6Z"/><path fill="#5958ac" d="M50.9,14.1 44.6,13.6 38.1,15.6 32.1,19.6 27.1,24.6 23.4,29.4 18.9,36.6 14.4,46.6 11.6,55.1 9.6,64.6 8.6,74.9 8.9,83.6 9.9,90.1 12.4,98.1 15.1,102.9 19.1,107.1 23.6,109.6 28.4,110.4 35.4,108.9 40.9,105.6 47.9,99.1 55.1,88.6 59.1,80.4 63.1,68.9 64.9,61.1 66.1,51.1 66.1,42.4 64.6,32.1 62.1,25.1 59.1,20.1 54.6,15.9Z"/><path fill="#555bae" d="M49.9,14.1 44.6,13.9 38.9,15.6 32.9,19.4 27.9,24.1 23.4,29.9 19.6,35.9 15.9,43.6 12.1,54.4 9.9,64.9 8.9,75.6 9.1,83.4 10.4,91.1 12.4,97.4 15.6,103.1 19.9,107.4 24.6,109.6 30.9,109.9 33.9,109.1 39.4,106.4 45.1,101.6 50.1,95.9 54.4,89.4 58.6,80.9 62.6,69.6 64.6,60.9 65.9,50.6 65.9,42.6 64.6,33.4 62.4,26.4 58.4,19.6 53.6,15.6Z"/><path fill="#505eb1" d="M49.9,14.4 44.6,14.1 38.4,16.1 32.4,20.1 27.4,25.1 23.1,30.6 19.6,36.4 15.1,46.1 12.1,55.4 10.1,64.9 9.1,75.6 9.4,83.4 10.6,91.1 12.6,97.4 16.1,103.4 19.6,106.9 24.6,109.4 30.9,109.6 35.1,108.4 41.4,104.6 47.6,98.6 54.4,88.9 58.9,79.6 62.6,68.6 64.4,60.9 65.6,50.6 65.6,42.6 64.4,33.4 62.1,26.4 58.9,20.6 55.1,16.9Z"/><path fill="#4b62b3" d="M49.9,14.6 44.4,14.4 38.9,16.1 32.4,20.4 27.9,24.9 24.1,29.6 19.6,36.9 15.4,46.1 12.4,55.4 10.1,66.4 9.4,75.4 9.6,83.6 10.6,90.1 12.9,97.4 16.4,103.4 20.4,107.1 24.6,109.1 28.6,109.6 34.6,108.4 40.4,105.1 46.9,99.1 54.4,88.4 58.6,79.6 62.4,68.6 64.1,60.9 65.4,50.6 65.4,42.4 64.1,33.4 61.9,26.4 58.4,20.4 54.4,16.6Z"/><path fill="#4665b6" d="M50.9,15.1 44.4,14.6 40.6,15.6 34.4,19.1 28.4,24.6 23.9,30.4 19.9,36.9 16.6,43.6 12.9,54.4 10.6,64.6 9.6,74.9 9.9,83.9 11.1,91.4 13.1,97.4 16.9,103.6 20.4,106.9 24.6,108.9 29.4,109.4 34.6,108.1 40.4,104.9 45.4,100.4 49.6,95.4 54.1,88.4 58.4,79.6 61.9,69.6 63.9,61.1 65.1,50.9 65.1,41.9 63.9,33.1 61.9,26.9 58.9,21.4 55.4,17.6Z"/><path fill="#4168b8" d="M50.1,15.1 44.1,14.9 39.4,16.4 34.4,19.4 28.6,24.6 24.1,30.4 20.1,36.9 16.9,43.6 13.1,54.4 10.6,66.1 9.9,74.1 9.9,80.9 11.1,90.4 13.1,96.9 17.1,103.6 21.1,107.1 25.4,108.9 29.9,109.1 34.6,107.9 40.6,104.4 47.4,97.9 52.4,90.9 57.4,81.4 62.1,67.9 63.6,61.1 64.9,51.4 64.9,41.4 63.6,33.1 61.6,26.9 59.1,22.1 55.4,17.9Z"/><path fill="#3c6bba" d="M50.1,15.4 45.9,14.9 39.9,16.4 34.4,19.6 27.9,25.9 23.4,31.9 18.1,41.4 12.9,56.1 10.9,65.9 10.1,73.6 10.1,81.6 11.1,89.4 13.4,96.9 16.6,102.6 20.4,106.4 24.4,108.4 30.1,108.9 34.1,107.9 40.6,104.1 46.9,98.1 52.1,90.9 57.1,81.4 61.9,67.9 63.6,59.9 64.6,51.6 64.6,40.9 63.4,32.9 60.9,25.6 58.1,21.1 54.6,17.6Z"/><path fill="#376ebd" d="M49.4,15.4 45.4,15.1 39.9,16.6 35.4,19.1 28.1,25.9 20.6,36.9 15.9,47.4 13.4,55.1 11.6,62.9 10.4,72.9 10.4,81.9 11.6,90.6 13.4,96.4 16.9,102.6 21.1,106.6 25.1,108.4 30.4,108.6 35.4,107.1 40.6,103.9 46.4,98.4 53.6,87.9 57.9,79.1 61.4,68.9 63.1,61.4 64.4,52.1 64.4,40.6 63.4,33.9 60.9,26.1 57.9,21.1 54.6,17.9Z"/><path fill="#3272bf" d="M50.4,15.9 45.1,15.4 38.6,17.4 32.9,21.4 28.6,25.6 20.9,36.9 16.1,47.4 13.6,55.1 11.6,64.1 10.6,72.4 10.6,82.4 11.9,90.9 14.1,97.6 17.1,102.6 21.1,106.4 25.1,108.1 30.6,108.4 34.9,107.1 40.6,103.6 45.6,98.9 49.6,93.9 53.4,87.9 58.1,77.9 61.6,67.1 63.4,58.6 64.4,48.1 64.1,40.1 63.4,34.9 61.4,27.9 58.4,22.1 54.6,18.1Z"/><path fill="#2f76c1" d="M49.6,15.9 44.9,15.6 39.1,17.4 35.6,19.4 28.9,25.6 21.1,36.9 17.1,45.4 14.1,54.1 12.1,62.6 10.9,72.1 10.9,82.9 11.6,88.6 13.6,95.9 16.6,101.6 20.1,105.4 24.9,107.9 30.9,108.1 34.9,106.9 40.6,103.4 44.9,99.4 48.6,94.9 53.1,87.9 57.4,79.1 61.1,68.1 63.4,57.1 64.1,48.9 63.9,39.9 62.9,33.6 60.6,26.6 58.1,22.1 54.6,18.4Z"/><path fill="#2c79c3" d="M49.6,16.1 44.6,15.9 39.1,17.6 35.6,19.6 29.9,24.9 25.6,30.1 21.4,36.9 16.9,46.6 13.9,55.9 11.1,71.6 11.1,83.4 12.1,90.1 14.1,96.6 16.9,101.6 20.1,105.1 24.9,107.6 29.1,108.1 34.4,106.9 40.6,103.1 44.1,99.9 48.4,94.9 52.9,87.9 57.1,79.1 60.9,68.1 62.9,58.9 63.9,49.4 63.6,39.4 62.6,33.4 60.6,27.1 57.9,22.1 54.6,18.6Z"/><path fill="#297dc4" d="M49.9,16.4 44.4,16.1 41.4,16.9 35.6,19.9 30.6,24.4 26.6,29.1 21.6,36.9 17.1,46.6 14.1,55.9 12.1,65.1 11.4,71.4 11.1,79.6 12.1,89.1 13.9,95.4 16.6,100.9 20.1,104.9 25.6,107.6 29.6,107.9 34.4,106.6 40.6,102.9 46.1,97.4 51.6,89.6 56.1,80.9 61.1,66.4 62.9,57.4 63.6,50.1 63.6,42.1 62.6,34.4 60.1,26.4 57.6,22.1 53.9,18.4Z"/><path fill="#2681c6" d="M49.9,16.6 46.6,16.1 44.1,16.4 40.1,17.6 35.4,20.4 28.6,26.9 21.9,36.9 18.4,44.1 14.6,54.9 12.6,63.6 11.6,71.1 11.4,80.6 12.1,87.9 14.4,96.1 16.4,100.1 19.9,104.4 24.6,107.1 29.9,107.6 33.9,106.6 39.9,103.1 45.6,97.6 51.4,89.6 56.1,80.4 60.6,67.4 62.6,57.6 63.4,50.6 63.4,41.6 62.6,35.4 60.9,28.9 57.4,22.1 53.9,18.6Z"/><path fill="#2384c8" d="M49.9,16.9 45.9,16.4 40.1,17.9 36.4,19.9 29.1,26.6 23.1,35.1 19.4,42.4 14.4,56.6 12.6,64.9 11.6,74.1 11.6,81.4 12.9,90.6 15.1,97.4 17.9,101.9 20.9,104.9 25.4,107.1 30.1,107.4 33.9,106.4 39.9,102.9 45.1,97.9 49.9,91.6 54.4,83.6 57.9,75.4 61.6,62.1 63.1,50.9 63.1,41.1 61.9,32.9 59.9,26.9 57.6,22.9 53.9,18.9Z"/><path fill="#2088ca" d="M49.1,16.9 45.4,16.6 40.6,17.9 36.4,20.1 29.6,26.4 22.1,37.4 17.4,47.9 14.9,55.6 13.1,63.4 11.9,73.6 11.9,82.1 12.9,89.6 14.6,95.6 17.4,100.9 20.9,104.6 25.4,106.9 30.4,107.1 33.4,106.4 39.9,102.6 44.6,98.1 50.4,90.4 54.1,83.6 56.9,77.4 59.9,68.4 61.6,60.9 62.9,51.4 62.9,40.6 61.9,33.9 59.6,26.9 57.4,22.9 53.1,18.6Z"/><path fill="#1d8ccb" d="M49.1,17.1 45.4,16.9 40.6,18.1 36.1,20.6 30.6,25.6 26.6,30.6 22.4,37.4 17.6,47.9 15.1,55.6 13.1,64.6 12.1,72.9 12.1,82.6 12.9,88.6 15.1,96.4 17.6,100.9 20.9,104.4 25.1,106.6 30.6,106.9 34.6,105.6 39.9,102.4 44.1,98.4 50.1,90.4 53.9,83.6 57.1,76.1 60.1,66.6 62.6,51.6 62.6,40.6 61.6,33.9 59.4,26.9 56.9,22.6 53.4,19.1Z"/><path fill="#1b8fca" d="M49.9,17.6 45.4,17.1 40.6,18.4 35.9,21.1 29.6,27.1 24.4,34.4 20.4,41.9 15.1,56.4 13.4,64.4 12.4,72.4 12.4,83.4 13.1,88.9 14.9,95.1 17.9,100.9 20.6,103.9 25.1,106.4 30.9,106.6 34.1,105.6 39.1,102.6 42.9,99.4 47.9,93.4 51.4,87.9 55.9,78.6 59.1,69.4 61.1,60.9 62.4,51.6 62.4,40.6 61.9,36.4 59.6,28.1 57.6,24.1 53.6,19.6Z"/><path fill="#1a92ca" d="M49.6,17.9 44.1,17.6 40.9,18.6 36.4,21.1 31.1,25.9 26.9,31.1 22.4,38.4 17.6,49.1 15.4,56.4 13.4,65.6 12.6,71.9 12.4,80.1 13.4,89.1 14.9,94.6 17.6,100.1 20.4,103.4 25.1,106.1 30.9,106.4 34.1,105.4 40.1,101.6 44.9,96.9 49.6,90.4 53.6,83.1 58.9,69.4 60.9,60.9 62.1,51.4 62.1,40.9 61.6,36.6 59.9,29.6 57.4,24.4 54.6,20.9Z"/><path fill="#1796c9" d="M49.6,18.4 43.9,18.1 40.1,19.4 35.4,22.4 31.1,26.4 26.9,31.6 22.1,39.4 18.4,47.9 15.9,55.4 13.6,65.4 12.6,74.6 12.6,81.4 13.6,89.4 15.4,95.4 17.9,100.1 21.6,104.1 25.9,106.1 30.9,106.1 34.1,105.1 39.1,102.1 44.4,97.1 50.9,87.9 55.4,78.6 58.9,68.4 60.6,60.9 61.9,50.9 61.4,37.1 60.1,31.6 57.4,25.1 53.4,20.4Z"/><path fill="#159bc9" d="M48.9,19.6 43.9,19.4 39.9,20.6 36.1,22.9 30.4,28.1 23.1,38.6 19.1,47.1 16.1,55.9 14.1,64.6 13.1,72.1 12.9,80.1 13.9,89.1 15.6,95.1 18.1,99.9 21.6,103.6 25.6,105.6 30.1,105.9 34.9,104.4 40.4,100.6 44.1,96.9 48.6,90.9 53.9,81.1 58.6,67.6 60.6,57.9 61.4,49.9 61.4,43.4 60.1,34.6 59.1,31.1 56.6,25.9 53.1,21.9Z"/><path fill="#12a1c7" d="M48.6,21.1 43.4,20.9 40.6,21.6 35.4,24.6 29.9,29.9 22.9,40.1 18.9,48.9 16.4,56.4 14.4,65.1 13.4,72.9 13.4,83.6 15.4,93.6 17.9,98.9 21.9,103.4 25.4,105.1 30.6,105.4 34.4,104.1 38.9,101.4 43.9,96.6 47.9,91.4 51.1,85.9 54.6,78.4 57.6,69.6 59.4,62.1 60.6,52.6 60.6,43.1 59.9,37.6 58.1,31.4 55.1,25.9 52.4,23.1Z"/><path fill="#15a6c0" d="M48.1,22.6 42.9,22.4 39.6,23.4 34.1,26.9 29.4,31.6 23.4,40.4 19.9,47.6 16.6,56.9 14.9,64.1 13.6,73.4 13.6,83.1 15.4,92.6 17.6,97.9 21.9,102.9 25.4,104.6 30.9,104.9 33.9,103.9 38.9,100.9 43.4,96.6 50.1,86.9 53.9,79.1 57.1,69.6 59.9,54.6 60.1,48.1 59.4,39.6 58.6,36.1 56.1,29.6 52.6,25.1Z"/><path fill="#18acb8" d="M47.1,23.9 43.9,23.6 39.9,24.6 35.4,27.1 30.6,31.4 27.1,35.6 22.4,43.4 19.6,49.4 16.9,57.4 14.9,65.9 13.9,74.1 13.9,82.6 14.6,88.4 16.1,93.9 18.9,99.1 21.9,102.4 25.9,104.4 29.9,104.6 34.6,103.1 37.6,101.4 42.9,96.6 47.1,91.1 50.4,85.6 54.1,77.4 56.9,68.9 58.4,61.9 59.4,52.9 59.4,46.6 58.6,40.1 56.9,33.9 54.1,28.9 50.9,25.6Z"/><path fill="#1bb1b0" d="M47.6,25.6 43.1,25.1 39.4,26.1 34.4,29.1 29.6,33.6 23.4,42.6 20.1,49.4 17.1,57.9 14.4,71.9 14.1,82.1 14.6,86.9 15.6,91.4 18.1,97.4 21.6,101.6 25.6,103.9 30.1,104.1 33.6,103.1 37.6,100.9 42.4,96.6 49.4,86.6 52.9,79.4 55.6,71.6 57.6,63.1 58.6,55.1 58.6,46.4 57.9,40.9 56.6,36.1 53.9,30.6 51.1,27.6Z"/><path fill="#1eb6a9" d="M47.4,27.1 42.6,26.6 38.4,27.9 33.4,31.1 28.9,35.6 23.9,42.9 20.6,49.4 17.4,58.4 14.6,72.4 14.4,81.6 14.9,86.6 16.1,92.1 18.6,97.6 21.6,101.1 25.6,103.4 30.4,103.6 33.1,102.9 37.6,100.4 41.4,97.1 45.9,91.6 49.6,85.4 53.1,77.6 55.6,69.9 57.9,57.1 57.6,44.1 56.6,39.4 53.9,32.9 50.1,28.6Z"/><path fill="#28baa7" d="M46.1,28.4 41.9,28.1 38.6,29.1 34.6,31.4 30.4,35.1 26.9,39.4 22.9,45.9 19.9,52.4 16.9,61.6 15.4,68.9 14.6,76.6 14.9,84.4 15.9,90.1 17.6,95.1 20.1,99.1 21.9,100.9 26.1,103.1 29.4,103.4 33.4,102.4 38.6,99.1 43.1,94.6 47.4,88.6 51.1,81.4 54.9,70.9 56.6,62.6 57.4,55.4 57.4,49.6 56.6,43.4 55.1,38.1 53.1,33.9 50.6,30.9Z"/><path fill="#33bea5" d="M45.9,29.9 41.6,29.6 38.6,30.4 34.6,32.6 29.9,36.9 23.6,45.6 20.4,52.4 17.4,61.1 15.1,73.4 15.1,84.1 15.9,88.9 17.6,94.4 19.6,97.9 22.1,100.6 25.9,102.6 29.9,102.9 33.6,101.9 38.4,98.9 42.6,94.6 48.6,85.6 51.1,80.4 54.1,71.9 55.9,64.1 56.6,57.6 56.1,45.4 54.6,39.6 52.1,34.6 49.9,32.1Z"/><path fill="#3ec1a4" d="M45.6,31.4 40.9,31.1 37.6,32.1 32.6,35.4 28.6,39.4 22.6,48.6 18.1,59.9 16.1,68.4 15.4,74.1 15.4,83.9 17.1,92.4 19.1,96.6 22.6,100.6 25.4,102.1 29.1,102.6 33.4,101.6 36.9,99.6 40.4,96.6 44.9,91.1 47.4,87.1 50.4,81.1 53.1,73.6 55.1,65.4 55.9,59.6 55.9,49.4 55.4,45.9 53.6,39.9 51.1,35.4 48.1,32.6Z"/><path fill="#49c5a2" d="M45.1,32.9 40.4,32.6 37.9,33.4 33.9,35.6 28.6,40.6 23.4,48.4 18.6,59.6 17.1,65.1 15.6,74.6 15.9,85.9 16.9,90.6 19.1,96.1 22.4,100.1 25.4,101.9 28.9,102.4 33.9,101.1 37.1,99.1 41.1,95.4 47.4,86.4 50.9,78.9 52.9,72.9 54.4,66.6 55.4,57.9 55.4,52.4 54.6,46.6 53.4,42.1 51.6,38.4 48.1,34.4Z"/><path fill="#54c8a1" d="M44.9,34.4 39.9,34.1 38.1,34.6 33.9,36.9 29.6,40.6 23.9,48.6 21.4,53.6 18.4,61.9 16.9,68.1 15.9,75.6 15.9,83.1 16.6,88.6 18.4,94.1 20.9,98.4 22.6,100.1 25.9,101.9 29.9,102.1 32.9,101.4 36.1,99.6 40.1,96.1 44.1,91.1 46.9,86.6 50.6,78.4 52.6,72.1 54.6,60.1 54.6,52.6 53.9,47.4 52.4,42.4 50.6,39.1 47.4,35.6Z"/><path fill="#62cca1" d="M44.1,35.9 39.9,35.6 36.9,36.6 32.4,39.4 28.4,43.4 25.1,47.9 22.1,53.4 18.4,63.6 16.9,70.4 16.1,77.6 16.9,88.6 18.4,93.6 20.9,98.1 23.1,100.4 25.6,101.6 30.6,101.9 32.4,101.4 36.1,99.4 39.6,96.4 46.1,87.4 49.4,80.6 51.9,73.1 53.9,61.9 53.9,52.9 53.1,48.1 51.4,43.1 49.6,40.1 47.1,37.4Z"/><path fill="#73d2a2" d="M43.1,37.6 39.4,37.6 36.9,38.4 33.4,40.4 29.9,43.4 26.4,47.6 23.6,52.1 18.6,64.6 16.6,75.1 16.4,81.1 17.1,88.6 18.9,94.4 20.9,97.9 22.4,99.6 25.9,101.6 29.9,101.9 32.6,101.1 36.6,98.9 39.9,95.9 46.4,86.4 49.4,79.6 51.4,73.4 52.9,65.6 53.4,58.9 52.4,49.6 50.9,45.1 48.9,41.6 46.4,39.1Z"/><path fill="#84d6a3" d="M42.9,39.6 40.1,39.4 36.4,40.4 33.4,42.1 29.9,45.1 23.9,53.4 20.9,59.9 18.9,65.9 16.9,77.1 17.4,88.6 18.9,93.9 20.4,96.9 23.1,100.1 25.4,101.4 30.6,101.6 35.4,99.6 39.9,95.6 45.1,88.1 48.4,81.4 50.4,75.4 52.1,67.1 52.6,61.4 51.6,50.9 50.4,47.1 47.6,42.6 45.6,40.9Z"/><path fill="#94dca4" d="M42.9,41.6 39.1,41.4 36.6,42.1 32.6,44.4 29.1,47.6 23.6,55.6 19.6,65.4 17.4,76.1 17.4,87.1 18.1,91.1 20.6,97.1 22.6,99.6 25.6,101.4 30.4,101.6 33.4,100.6 36.9,98.4 40.1,95.1 44.9,88.1 49.6,76.6 51.6,66.4 51.9,59.4 51.4,54.6 48.9,47.1 45.6,43.1Z"/><path fill="#a5e0a5" d="M42.6,43.6 38.6,43.4 36.1,44.1 31.4,47.1 28.9,49.6 23.4,57.9 19.9,66.6 17.6,77.6 17.4,82.4 18.1,90.1 19.4,94.4 21.6,98.4 23.4,100.1 25.9,101.4 29.6,101.6 31.9,101.1 35.4,99.4 38.1,97.1 44.4,88.6 48.6,78.6 50.4,71.4 51.1,65.1 50.6,56.1 49.4,51.4 47.6,47.9 45.9,45.6Z"/><path fill="#b5e5a8" d="M42.4,45.6 37.9,45.4 35.1,46.4 31.4,48.9 27.4,53.1 24.6,57.4 20.1,67.9 17.9,79.6 18.4,90.4 19.6,94.6 21.9,98.6 23.9,100.4 26.1,101.4 28.1,101.6 32.4,100.9 35.9,98.9 39.1,95.9 44.1,88.6 48.4,78.1 50.4,66.6 49.9,57.4 48.9,53.6 47.1,49.9 45.1,47.4Z"/><path fill="#c4eaab" d="M41.1,47.4 35.9,47.9 32.6,49.6 28.6,53.4 24.9,58.6 22.6,63.1 19.9,70.9 18.1,81.6 18.6,90.4 21.1,97.4 23.6,100.1 25.4,101.1 30.4,101.4 36.4,98.4 40.4,94.1 43.6,89.1 47.6,79.4 49.6,68.4 49.1,58.6 46.4,51.4 44.1,48.9Z"/><path fill="#d4efaf" d="M41.1,49.4 38.1,49.1 35.9,49.6 32.6,51.4 28.4,55.4 24.4,61.4 20.6,70.4 18.6,80.1 18.9,90.6 21.4,97.6 23.4,99.9 25.6,101.1 30.1,101.4 31.9,100.9 37.9,96.9 43.4,89.1 47.1,79.6 48.9,69.9 48.4,59.9 47.1,55.9 45.1,52.4 43.1,50.4Z"/><path fill="#e3f4b2" d="M40.1,51.1 37.4,51.1 33.9,52.4 28.4,57.1 23.1,65.6 20.4,73.4 18.9,82.1 19.1,90.9 19.9,94.1 21.6,97.9 23.1,99.6 25.9,101.1 30.9,101.1 33.9,99.9 36.6,97.9 39.6,94.6 42.1,90.9 46.4,80.9 48.1,71.1 47.6,61.4 46.4,57.4 44.9,54.6 42.4,52.1Z"/><path fill="#eef7b6" d="M39.9,53.1 36.6,53.1 34.4,53.9 31.6,55.6 28.4,58.9 24.4,64.9 21.1,72.9 19.1,83.4 19.6,92.6 21.9,98.1 23.9,100.1 26.1,101.1 28.6,101.4 32.1,100.6 35.9,98.4 38.6,95.6 41.9,90.9 45.9,81.1 47.4,72.6 46.9,62.6 44.4,56.6 42.4,54.4Z"/><path fill="#f3f8b9" d="M39.4,54.9 36.4,54.9 33.6,55.9 28.6,60.1 25.1,65.1 21.4,73.9 19.4,84.6 19.6,91.6 21.6,97.6 23.6,99.9 25.4,100.9 30.4,101.1 35.4,98.6 38.4,95.6 41.1,91.6 45.1,82.1 46.6,74.6 46.9,69.9 46.4,64.6 45.1,60.6 43.6,57.9 41.6,55.9Z"/><path fill="#f9f9bc" d="M39.4,56.1 35.1,56.4 31.6,58.4 28.4,61.6 24.9,66.9 21.9,73.9 19.9,82.4 19.6,90.9 21.4,97.1 23.4,99.6 25.6,100.9 31.1,100.9 36.4,97.6 40.9,91.6 44.6,82.4 46.1,73.9 45.9,66.1 43.9,60.1 41.4,57.1Z"/><path fill="#fcf7b7" d="M38.6,57.1 36.4,57.1 34.1,57.9 31.4,59.6 28.9,62.1 24.9,68.1 21.4,76.6 19.6,86.6 20.1,93.1 20.9,95.9 22.6,98.9 25.6,100.9 30.9,100.9 35.4,98.4 39.9,92.9 43.9,83.6 45.6,72.9 45.1,65.9 42.6,59.9 40.9,58.1Z"/><path fill="#fdf0a9" d="M38.9,58.4 34.9,58.6 32.1,60.1 29.1,62.9 24.9,69.1 21.6,76.6 19.9,85.1 20.1,92.6 22.1,98.1 23.9,99.9 25.9,100.9 30.6,100.9 34.9,98.6 37.4,96.1 40.4,91.6 43.4,84.4 44.9,76.6 44.6,67.1 42.9,61.9 41.1,59.6Z"/><path fill="#fde99b" d="M38.1,59.6 34.9,59.9 29.6,63.4 25.4,69.1 21.4,78.1 19.9,86.4 20.4,93.4 22.4,98.4 26.1,100.9 30.4,100.9 34.4,98.9 37.6,95.6 39.6,92.6 43.4,83.6 44.6,75.1 44.1,67.9 41.9,62.4 40.6,60.9Z"/><path fill="#fee28d" d="M38.9,61.6 35.9,61.1 30.9,63.4 26.4,68.4 22.1,76.4 20.1,84.9 20.1,91.4 20.9,95.1 22.1,97.9 25.4,100.6 30.1,100.9 34.9,98.4 39.1,93.1 41.9,87.6 43.9,80.1 44.1,71.9 43.4,67.9 41.9,64.4Z"/><path fill="#fed682" d="M37.4,62.9 34.6,62.9 31.1,64.4 27.1,68.1 23.6,73.4 21.4,79.1 20.1,85.6 20.4,92.6 21.9,97.4 24.1,99.9 25.6,100.6 29.9,100.9 34.1,98.9 37.1,95.9 39.9,91.6 42.9,84.1 43.9,78.4 43.9,73.4 43.1,69.6 41.4,65.9 39.1,63.6Z"/><path fill="#fdca78" d="M38.1,64.9 36.4,64.4 33.4,64.6 28.9,67.1 25.6,70.6 22.1,77.1 20.4,84.4 20.4,92.4 22.4,98.1 25.6,100.6 30.6,100.6 32.9,99.6 35.4,97.6 39.9,91.4 42.1,86.1 43.6,78.9 43.4,72.9 41.6,68.1Z"/><path fill="#fdbe6d" d="M36.9,65.6 33.1,65.6 30.6,66.6 27.9,68.6 24.4,72.9 21.4,79.9 20.4,84.9 20.6,93.4 22.6,98.4 25.9,100.6 30.4,100.6 34.1,98.6 38.9,92.9 42.1,85.6 43.4,79.1 42.9,72.6 40.9,68.4 39.4,66.9Z"/><path fill="#fcb362" d="M36.6,66.1 33.1,66.1 28.1,68.9 24.6,72.9 21.6,79.4 20.4,85.4 20.9,94.1 22.9,98.6 26.1,100.6 30.1,100.6 33.6,98.9 36.9,95.6 38.9,92.6 42.1,85.1 43.1,79.9 42.6,73.1 40.6,68.9 39.1,67.4Z"/><path fill="#fba55b" d="M36.6,66.6 32.9,66.6 28.6,68.9 24.9,72.9 21.9,78.9 20.4,86.1 20.6,92.6 22.1,97.4 25.4,100.4 29.6,100.6 32.4,99.6 34.4,98.1 38.1,93.6 41.1,87.6 42.9,80.4 42.4,73.4 39.9,68.6Z"/><path fill="#f99755" d="M36.9,67.1 32.6,67.1 29.1,68.9 25.1,72.9 22.4,77.9 20.6,84.9 20.6,92.1 22.6,98.1 25.6,100.4 29.4,100.6 33.6,98.6 36.4,95.9 38.6,92.6 41.4,86.6 42.6,80.9 42.1,73.6 40.4,69.9Z"/><path fill="#f8884f" d="M36.1,67.4 32.1,67.6 28.6,69.6 23.9,75.1 21.6,80.4 20.6,85.1 20.9,93.4 22.9,98.4 25.9,100.4 30.1,100.4 33.1,98.9 37.9,93.6 41.4,86.1 42.4,81.1 41.9,73.9 40.1,70.1 38.4,68.4Z"/><path fill="#f67a49" d="M36.4,67.9 32.6,67.9 28.4,70.1 24.4,74.6 21.9,79.9 20.6,85.6 20.9,92.9 22.6,97.9 25.9,100.4 29.9,100.4 33.9,98.1 37.9,93.4 41.1,86.4 42.1,81.6 41.6,74.1 39.6,70.1Z"/><path fill="#f26c46" d="M35.6,68.1 32.1,68.4 27.6,71.1 24.1,75.4 21.6,81.1 20.6,86.1 21.1,93.9 22.9,98.1 26.1,100.4 29.4,100.4 33.1,98.6 37.9,93.1 40.9,86.6 41.9,81.9 41.4,74.4 39.1,70.1Z"/><path fill="#ed5f46" d="M35.9,68.6 32.6,68.6 28.6,70.6 23.9,76.1 21.6,81.4 20.6,87.9 21.1,93.6 23.1,98.4 26.4,100.4 30.1,100.1 34.4,97.4 38.6,91.6 40.6,86.9 41.6,82.1 41.1,74.6 39.6,71.4 37.9,69.6Z"/><path fill="#e85146" d="M36.1,69.1 33.4,68.9 29.1,70.6 24.9,74.9 22.4,79.4 20.9,85.4 20.9,91.6 22.4,97.1 23.4,98.6 25.1,99.9 26.9,100.4 29.6,100.1 33.6,97.9 37.9,92.6 40.4,87.1 41.4,82.6 41.1,75.6 39.4,71.6Z"/><path fill="#e34446" d="M35.4,69.4 31.9,69.6 27.9,71.9 24.4,75.9 21.9,81.1 20.9,85.9 21.4,94.1 22.9,97.9 25.9,100.1 29.4,100.1 33.1,98.1 37.1,93.6 40.4,86.4 41.1,82.9 41.1,77.1 40.6,74.9 39.1,71.9Z"/><path fill="#de3646" d="M35.6,69.9 32.1,69.9 28.6,71.6 24.6,75.9 22.4,80.1 20.9,86.6 21.1,92.6 22.4,96.9 24.9,99.6 28.9,100.1 32.6,98.4 35.9,95.1 39.4,88.9 40.9,83.4 40.9,77.1 38.9,72.1Z"/><path fill="#d72b45" d="M36.1,70.4 34.1,69.9 32.4,70.1 28.6,71.9 24.6,76.1 22.4,80.4 21.1,85.1 21.1,92.1 22.9,97.6 25.6,99.9 28.4,100.1 32.4,98.4 35.9,94.9 39.1,89.1 40.9,81.6 40.6,76.9 38.9,72.6Z"/><path fill="#d02244" d="M35.4,70.4 31.4,70.6 28.6,72.1 25.4,75.4 22.1,81.4 21.1,85.6 21.4,93.1 23.1,97.9 25.9,99.9 28.9,99.9 33.1,97.6 37.4,92.4 39.9,86.4 40.6,82.4 40.1,75.9 38.4,72.4Z"/><path fill="#c91843" d="M35.4,70.6 32.1,70.6 28.6,72.4 24.4,77.1 21.9,82.6 21.1,86.6 21.1,90.9 21.9,94.9 23.6,98.4 26.4,99.9 29.4,99.6 32.9,97.6 36.9,92.9 39.6,86.6 40.4,82.9 39.9,75.6 38.6,73.1Z"/><path fill="#c20f42" d="M35.4,70.9 32.1,70.9 28.6,72.6 24.1,77.9 21.9,83.1 21.1,89.1 21.9,94.6 23.4,97.9 25.9,99.6 28.9,99.6 32.6,97.6 37.1,92.1 39.1,87.6 40.1,83.4 39.9,76.4 38.4,73.1Z"/><path fill="#bd0841" d="M35.4,71.1 32.1,71.1 28.4,73.1 25.1,76.6 22.6,81.4 21.4,86.4 21.6,92.9 22.9,96.9 25.6,99.4 29.1,99.4 32.6,97.4 35.6,94.1 38.4,89.1 39.9,83.6 39.9,77.4 38.1,73.1Z"/><path fill="#bc0541" d="M35.4,71.4 32.1,71.4 28.1,73.6 25.6,76.4 22.6,81.9 21.6,85.6 21.6,92.1 22.9,96.6 25.4,99.1 28.1,99.4 31.6,97.9 35.9,93.4 38.1,89.1 39.6,83.6 39.6,77.4 37.6,72.9Z"/><path fill="#ba0241" d="M35.1,71.6 32.4,71.6 28.6,73.6 25.6,76.9 22.9,82.1 21.6,88.1 21.9,92.4 23.1,96.6 25.6,98.9 28.9,98.9 32.4,96.9 35.1,93.9 37.9,88.9 39.4,83.4 39.4,77.9 38.1,74.1 36.9,72.6Z"/><path fill="#b90041" d="M33.9,74.4 31.6,75.4 28.9,77.9 26.1,82.1 24.4,86.6 23.6,90.4 25.4,94.9 27.1,96.4 30.4,94.4 32.9,91.6 36.4,84.4 37.1,79.9 36.4,77.4Z"/></g></g><path fill="none" stroke="#1c1c30" stroke-width="0.60" stroke-opacity="0.85" stroke-linejoin="round" d="M60.4,61.8 60.2,63.0 59.9,64.2 59.6,65.3 59.3,66.5 59.0,67.6 58.7,68.8 58.4,69.9 58.0,71.0 57.7,72.2 57.3,73.3 56.9,74.5 56.4,75.7 56.0,76.9 55.5,78.2 54.9,79.4 54.4,80.8 53.7,82.1 53.1,83.5 52.3,85.0 51.5,86.5 50.7,88.0 49.7,89.6 48.6,91.3 47.4,93.0 46.1,94.8 44.7,96.6 43.1,98.4 41.3,100.1 39.4,101.8 37.3,103.3 35.1,104.6 32.7,105.6 30.3,106.2 27.8,106.3 25.5,106.0 23.2,105.1 21.2,103.8 19.3,102.1 17.8,100.1 16.5,97.9 15.4,95.5 14.5,93.1 13.9,90.7 13.4,88.4 13.0,86.1 12.8,83.9 12.6,81.8 12.5,79.8 12.5,77.9 12.5,76.1 12.6,74.4 12.7,72.8 12.8,71.2 13.0,69.7 13.1,68.3 13.3,66.9 13.5,65.6 13.7,64.3 14.0,63.0 14.2,61.8 14.4,60.6 14.7,59.4 15.0,58.3 15.3,57.1 15.6,56.0 15.9,54.8 16.2,53.7 16.6,52.6 16.9,51.4 17.3,50.3 17.7,49.1 18.2,47.9 18.6,46.7 19.1,45.4 19.7,44.2 20.2,42.8 20.9,41.5 21.5,40.1 22.3,38.6 23.1,37.1 23.9,35.6 24.9,34.0 26.0,32.3 27.2,30.6 28.5,28.8 29.9,27.0 31.5,25.2 33.3,23.5 35.2,21.8 37.3,20.3 39.5,19.0 41.9,18.0 44.3,17.4 46.8,17.3 49.1,17.6 51.4,18.5 53.4,19.8 55.3,21.5 56.8,23.5 58.1,25.7 59.2,28.1 60.1,30.5 60.7,32.9 61.2,35.2 61.6,37.5 61.8,39.7 62.0,41.8 62.1,43.8 62.1,45.7 62.1,47.5 62.0,49.2 61.9,50.8 61.8,52.4 61.6,53.9 61.5,55.3 61.3,56.7 61.1,58.0 60.9,59.3 60.6,60.6Z"/><path fill="none" stroke="#4a4a30" stroke-width="0.55" stroke-opacity="0.80" stroke-linejoin="round" d="M45.8,78.5 45.7,79.2 45.5,79.8 45.4,80.5 45.2,81.1 45.1,81.7 44.9,82.4 44.7,83.0 44.5,83.6 44.3,84.3 44.1,84.9 43.9,85.6 43.6,86.2 43.4,86.9 43.1,87.6 42.8,88.3 42.5,89.0 42.1,89.7 41.7,90.5 41.3,91.3 40.9,92.1 40.4,92.9 39.8,93.8 39.2,94.7 38.6,95.6 37.8,96.5 37.0,97.5 36.2,98.4 35.2,99.3 34.1,100.1 33.0,100.9 31.8,101.5 30.5,102.0 29.2,102.3 27.9,102.4 26.7,102.2 25.5,101.7 24.3,101.0 23.4,100.2 22.5,99.1 21.8,98.0 21.1,96.8 20.6,95.5 20.3,94.2 19.9,93.0 19.7,91.8 19.6,90.6 19.4,89.5 19.4,88.4 19.3,87.4 19.3,86.4 19.4,85.5 19.4,84.6 19.5,83.7 19.5,82.9 19.6,82.1 19.7,81.3 19.8,80.6 19.9,79.9 20.0,79.2 20.2,78.5 20.3,77.8 20.5,77.2 20.6,76.5 20.8,75.9 20.9,75.3 21.1,74.6 21.3,74.0 21.5,73.4 21.7,72.7 21.9,72.1 22.1,71.4 22.4,70.8 22.6,70.1 22.9,69.4 23.2,68.7 23.5,68.0 23.9,67.3 24.3,66.5 24.7,65.7 25.1,64.9 25.6,64.1 26.2,63.2 26.8,62.3 27.4,61.4 28.2,60.5 29.0,59.5 29.8,58.6 30.8,57.7 31.9,56.9 33.0,56.1 34.2,55.5 35.5,55.0 36.8,54.7 38.1,54.6 39.3,54.8 40.5,55.3 41.7,56.0 42.6,56.8 43.5,57.9 44.2,59.0 44.9,60.2 45.4,61.5 45.7,62.8 46.1,64.0 46.3,65.2 46.4,66.4 46.6,67.5 46.6,68.6 46.7,69.6 46.7,70.6 46.6,71.5 46.6,72.4 46.5,73.3 46.5,74.1 46.4,74.9 46.3,75.7 46.2,76.4 46.1,77.1 46.0,77.8Z"/><rect x="77.8" y="82.0" width="5.4" height="27.5" fill="url(#cb)"/><text x="79.4" y="80.4" class="dose">Dose</text><text x="84.0" y="83.9" class="lt">600</text><text x="84.0" y="90.1" class="lt">500</text><text x="84.0" y="96.3" class="lt">400</text><text x="84.0" y="102.5" class="lt">300</text><text x="84.0" y="108.7" class="lt">200</text><line x1="-2.3" y1="0" x2="-2.3" y2="113.0" class="ax"/><line x1="0" y1="114.9" x2="93.6" y2="114.9" class="ax"/><text x="1.5" y="120.0" class="tl" text-anchor="middle">-5</text><text x="26.0" y="120.0" class="tl" text-anchor="middle">0</text><text x="50.5" y="120.0" class="tl" text-anchor="middle">5</text><text x="75.0" y="120.0" class="tl" text-anchor="middle">10</text><text x="-4.6" y="16.4" class="tl" text-anchor="end">25</text><text x="-4.6" y="33.2" class="tl" text-anchor="end">20</text><text x="-4.6" y="50.1" class="tl" text-anchor="end">15</text><text x="-4.6" y="66.9" class="tl" text-anchor="end">10</text><text x="-4.6" y="83.8" class="tl" text-anchor="end">5</text><text x="-4.6" y="100.6" class="tl" text-anchor="end">0</text></g><g transform="translate(235.5,141.3)"><rect width="93.6" height="113.0" fill="#6450a5"/><g clip-path="url(#pc)"><g filter="url(#bl)"><path fill="#5d55a9" d="M55.6,0.1 45.6,0.1 41.9,2.9 37.6,7.1 31.1,17.6 25.4,30.1 17.6,55.6 16.9,66.6 16.9,88.1 18.1,98.1 21.1,103.6 26.6,106.1 29.1,106.1 33.6,104.4 41.6,95.9 57.9,71.6 62.4,61.4 64.9,45.1 65.4,34.4 64.9,20.9 63.9,13.4 60.1,4.1Z"/><path fill="#5958ac" d="M54.9,0.1 46.4,0.1 42.4,2.9 37.9,7.4 31.6,17.4 25.6,30.4 18.4,53.9 17.1,67.9 17.1,87.6 18.1,97.1 21.9,103.9 27.1,105.9 28.6,105.9 33.9,103.9 41.6,95.4 57.6,71.4 62.1,61.1 64.4,46.6 65.1,26.6 63.6,13.6 60.1,4.6Z"/><path fill="#555bae" d="M54.4,0.1 46.6,0.1 42.1,3.4 38.1,7.4 31.9,17.4 25.9,30.4 18.4,54.9 17.4,67.6 17.4,87.9 18.1,95.9 18.6,97.9 21.1,102.6 22.4,103.9 27.1,105.6 28.6,105.6 33.4,103.9 41.1,95.6 57.6,70.9 61.9,60.9 64.1,46.6 64.9,33.4 64.9,26.4 63.4,13.6 60.1,5.1Z"/><path fill="#505eb1" d="M53.6,0.1 47.1,0.1 41.9,3.9 37.6,8.4 31.4,18.6 26.1,30.4 18.9,53.9 17.6,66.9 17.6,88.6 18.4,96.4 21.4,102.6 22.9,103.9 27.1,105.4 28.6,105.4 33.1,103.9 41.1,95.4 51.6,80.1 57.6,70.4 61.6,60.9 63.9,46.6 64.9,29.9 63.6,15.6 59.9,5.1 57.1,2.4Z"/><path fill="#4b62b3" d="M53.1,0.1 47.6,0.1 42.1,3.9 38.4,7.6 31.9,18.1 26.1,30.9 18.9,54.6 17.6,70.1 17.6,87.1 18.6,96.9 22.4,103.4 27.1,105.1 28.9,105.1 33.9,103.1 41.1,95.1 57.1,70.9 61.6,60.1 63.6,47.1 64.6,31.1 63.4,15.1 59.6,5.1 55.9,1.6Z"/><path fill="#4665b6" d="M52.6,0.1 48.4,0.1 42.4,3.9 38.4,7.9 31.9,18.4 26.1,31.4 18.9,55.6 17.9,68.6 17.9,88.1 18.6,96.1 21.6,102.4 23.4,103.6 26.9,104.9 29.1,104.9 33.6,103.1 41.1,94.9 56.9,70.9 61.4,60.1 63.6,45.4 64.4,26.6 63.4,16.1 59.6,5.4 55.9,1.9Z"/><path fill="#4168b8" d="M51.9,0.1 49.4,0.1 46.9,1.1 42.6,3.9 38.4,8.1 31.6,19.1 26.1,31.9 19.1,55.4 17.9,77.1 17.9,86.6 19.1,97.4 21.9,102.4 26.9,104.6 30.1,104.4 33.6,102.9 41.1,94.6 56.4,71.4 61.1,60.4 63.4,45.9 64.4,30.1 63.1,15.4 59.4,5.4 55.9,2.1Z"/><path fill="#3c6bba" d="M50.9,0.1 47.4,1.1 42.6,4.1 38.4,8.4 32.4,18.1 26.4,31.6 19.4,55.1 18.1,69.6 18.1,88.1 18.9,96.1 22.4,102.6 27.6,104.6 33.4,102.9 41.4,94.1 56.9,70.1 60.9,60.6 63.1,46.4 64.1,31.9 63.1,16.4 59.4,5.6 55.1,1.9Z"/><path fill="#376ebd" d="M51.1,0.6 46.6,1.6 42.9,4.1 38.4,8.6 32.4,18.4 26.4,32.1 19.6,54.9 18.4,68.1 18.1,86.6 18.9,95.1 19.4,97.1 22.1,102.1 27.4,104.4 28.9,104.4 33.1,102.9 40.6,94.9 50.6,80.1 56.4,70.6 60.6,60.9 62.9,46.9 63.9,33.4 63.9,26.4 62.9,15.6 59.1,5.6 55.1,2.1Z"/><path fill="#3272bf" d="M51.1,0.9 47.1,1.6 43.1,4.1 38.4,8.9 32.1,19.1 26.4,32.6 19.9,54.6 18.4,71.4 18.4,88.1 19.1,95.9 22.1,101.9 27.4,104.1 29.1,104.1 33.6,102.4 40.9,94.4 55.9,71.1 60.6,59.9 62.9,45.4 63.9,31.1 62.9,16.4 59.1,5.9 55.6,2.6Z"/><path fill="#2f76c1" d="M51.1,1.1 46.9,1.9 42.1,5.1 37.6,10.1 32.1,19.4 26.6,32.4 19.9,55.4 18.6,68.9 18.4,86.6 19.1,95.4 22.1,101.6 27.1,103.9 29.4,103.9 33.4,102.4 41.1,93.9 50.1,80.4 56.4,69.9 60.4,60.1 62.6,45.9 63.6,32.9 62.6,15.6 58.9,5.9 55.6,2.9Z"/><path fill="#2c79c3" d="M51.4,1.4 47.4,1.9 42.6,4.9 37.6,10.4 32.9,18.4 26.6,32.9 23.4,45.4 20.1,55.1 18.6,73.9 18.6,88.1 19.4,95.9 22.6,101.9 27.9,103.9 33.4,102.1 41.4,93.4 55.9,70.4 60.1,60.4 62.4,46.4 63.6,30.9 62.6,16.4 58.9,6.1 55.6,3.1Z"/><path fill="#297dc4" d="M51.6,1.6 48.1,1.9 43.9,4.1 37.1,11.4 31.4,21.6 27.4,31.4 20.4,54.9 18.9,69.6 18.6,86.6 19.4,95.4 22.4,101.4 27.6,103.6 29.9,103.4 33.9,101.6 40.9,93.9 56.4,69.1 59.9,60.6 62.1,46.9 63.4,32.1 62.6,17.6 61.1,12.1 58.6,6.1 54.9,2.9Z"/><path fill="#2681c6" d="M51.6,1.9 47.1,2.4 43.1,4.9 38.1,10.1 31.6,21.4 27.4,31.9 23.6,45.9 20.6,54.6 18.9,74.4 18.6,84.6 19.4,94.4 19.9,96.4 22.4,101.1 27.6,103.4 30.1,103.1 33.6,101.6 41.4,93.1 55.6,70.1 59.9,59.6 62.1,45.4 63.1,33.4 62.4,16.6 59.1,7.1 55.6,3.6Z"/><path fill="#2384c8" d="M51.9,2.1 47.9,2.4 44.1,4.4 39.6,8.6 36.1,13.6 32.1,20.6 27.6,31.6 23.6,46.6 20.6,55.6 19.4,67.1 18.9,86.9 19.6,95.1 22.6,101.1 27.4,103.1 29.4,103.1 34.1,101.1 41.6,92.6 55.1,70.6 59.6,59.9 61.9,45.9 63.1,31.4 62.1,16.1 58.9,7.1 55.6,3.9Z"/><path fill="#2088ca" d="M50.9,2.1 46.9,2.9 43.4,5.1 38.1,10.6 32.9,19.6 27.6,32.1 24.1,45.6 20.9,55.4 19.1,74.6 18.9,84.9 19.6,94.4 22.6,100.9 28.1,103.1 33.6,101.4 41.4,92.9 48.6,81.6 55.6,69.4 59.4,60.1 61.6,46.1 62.9,32.6 62.1,17.1 58.9,7.4 54.9,3.6Z"/><path fill="#1d8ccb" d="M51.1,2.4 46.9,3.1 43.4,5.4 38.1,10.9 32.6,20.4 27.1,34.1 24.4,45.4 21.1,55.1 19.4,71.1 19.1,86.9 20.1,95.9 22.9,100.9 27.9,102.9 30.1,102.6 33.4,101.4 41.1,93.1 49.1,80.6 54.9,70.4 59.1,60.1 61.4,46.4 62.6,33.4 61.9,16.6 58.6,7.4 55.6,4.4Z"/><path fill="#1b8fca" d="M50.9,2.6 46.9,3.4 43.4,5.6 38.4,10.9 34.1,18.1 28.1,31.9 24.4,46.1 21.4,54.9 19.4,74.4 19.1,85.1 19.9,94.4 22.9,100.6 27.6,102.6 29.4,102.6 33.6,101.1 41.4,92.6 48.9,80.9 56.1,67.4 59.1,59.1 61.1,46.6 62.6,31.1 61.6,16.6 58.1,7.1 54.4,3.9Z"/><path fill="#1a92ca" d="M51.4,3.1 46.6,3.9 43.6,5.9 39.1,10.4 32.1,22.4 27.9,33.1 24.6,45.9 21.4,55.9 19.9,67.6 19.4,86.9 20.1,94.9 23.1,100.6 28.4,102.6 32.4,101.6 34.4,100.4 41.1,92.9 48.6,81.1 53.9,71.6 58.9,59.1 60.9,46.6 62.4,31.1 61.6,18.1 58.1,7.6 54.9,4.6Z"/><path fill="#1796c9" d="M51.1,3.9 47.1,4.4 43.4,6.6 38.6,11.6 32.6,21.9 28.4,32.4 21.6,55.6 19.6,74.1 19.4,85.1 20.1,94.1 23.1,100.4 27.9,102.4 30.4,102.1 33.6,100.9 40.9,93.1 46.9,83.9 55.6,67.6 58.4,60.1 60.6,46.4 61.9,33.9 61.1,17.6 57.6,8.1 54.6,5.4Z"/><path fill="#159bc9" d="M50.4,6.6 45.6,7.4 42.6,9.4 38.4,13.6 33.6,21.4 28.4,33.6 21.6,57.1 19.9,72.6 19.6,85.9 20.4,94.1 23.1,99.9 27.9,102.1 29.6,102.1 33.4,100.9 41.1,92.6 51.6,75.1 54.9,68.6 57.9,60.1 59.9,47.6 61.1,35.1 60.4,20.6 57.4,11.6 54.1,8.4Z"/><path fill="#12a1c7" d="M49.6,9.6 46.1,9.9 42.1,12.1 37.6,16.6 31.1,28.1 28.1,35.6 21.9,57.4 20.4,68.4 19.9,77.1 19.9,86.4 20.6,93.9 23.1,99.4 27.9,101.9 29.9,101.9 33.9,100.4 40.9,92.9 49.9,78.1 54.9,67.9 57.1,60.9 58.9,50.1 60.1,37.1 59.4,23.4 56.4,14.4 53.4,11.4Z"/><path fill="#15a6c0" d="M49.4,12.6 45.9,12.6 41.6,14.9 38.1,18.1 33.6,24.9 27.9,37.6 21.9,58.9 20.1,74.9 20.1,86.9 20.9,93.9 23.4,99.1 24.4,100.1 27.6,101.6 30.4,101.6 33.4,100.6 41.1,92.4 51.4,74.9 54.6,67.6 56.1,62.9 58.1,50.6 59.1,39.6 58.4,26.1 55.6,17.6 52.4,14.1Z"/><path fill="#18acb8" d="M48.1,15.4 44.6,15.6 41.4,17.4 37.4,21.1 34.9,24.6 28.4,37.6 22.1,59.1 20.4,73.1 20.4,87.4 21.1,93.6 23.9,99.4 28.4,101.6 31.9,101.1 33.9,100.1 40.6,92.9 48.1,80.9 53.1,70.6 55.4,63.6 56.9,54.9 58.1,42.4 57.4,28.9 56.1,24.1 53.9,19.1 50.6,16.4Z"/><path fill="#1bb1b0" d="M47.6,18.4 43.9,18.6 40.9,20.1 36.4,24.4 30.6,33.9 27.9,40.4 22.1,60.6 20.4,76.9 20.4,84.4 21.4,93.4 23.9,98.9 28.4,101.4 31.6,101.1 33.4,100.4 40.4,93.1 48.1,80.6 51.9,72.9 54.4,65.6 56.1,55.4 57.1,43.6 56.4,31.4 55.4,27.4 53.4,22.6 50.4,19.6Z"/><path fill="#1eb6a9" d="M46.6,21.1 42.6,21.6 39.4,23.6 35.6,27.4 32.4,32.4 27.4,43.1 22.6,59.6 20.6,74.6 20.9,88.4 21.9,94.4 23.6,97.9 24.9,99.4 28.1,101.1 31.1,101.1 33.9,99.9 40.6,92.6 48.9,78.9 51.9,72.1 53.6,66.6 55.4,55.9 56.1,46.4 55.4,34.1 54.1,29.4 52.1,25.1 49.4,22.4Z"/><path fill="#28baa7" d="M46.1,24.1 43.1,24.1 39.4,25.9 35.9,29.1 30.4,37.6 26.9,45.9 22.6,60.9 20.9,73.1 20.9,86.4 22.4,94.9 24.1,98.1 26.1,99.9 28.9,101.1 31.6,100.9 33.4,100.1 40.4,92.9 46.6,82.9 49.4,77.4 52.9,67.4 55.1,49.9 55.1,43.4 54.4,36.6 51.9,28.9 49.4,25.9Z"/><path fill="#33bea5" d="M44.6,26.9 41.9,27.1 37.9,29.4 35.1,32.1 31.6,37.1 26.6,47.9 22.1,64.4 20.9,75.9 20.9,83.6 21.6,90.6 22.4,94.1 24.6,98.4 28.6,100.9 31.4,100.9 33.6,99.9 40.6,92.4 48.4,79.1 51.9,69.4 53.6,58.6 54.1,46.1 53.1,37.9 50.4,30.9 47.6,28.1Z"/><path fill="#3ec1a4" d="M44.4,29.9 40.9,30.1 37.6,31.9 32.1,38.1 28.9,43.9 26.1,50.6 22.4,64.4 21.1,74.6 21.1,85.1 21.9,90.9 22.9,94.6 24.6,97.9 26.9,99.9 29.4,100.9 33.1,100.1 40.4,92.6 48.4,78.6 51.4,69.1 53.1,54.9 53.1,48.1 52.4,41.9 50.1,34.9 46.6,30.9Z"/><path fill="#49c5a2" d="M43.4,32.6 40.6,32.9 37.1,34.6 33.4,38.4 30.9,41.9 26.6,50.6 22.6,64.6 21.6,70.9 21.1,79.4 21.9,89.9 23.1,94.6 24.9,97.9 28.9,100.6 31.6,100.6 33.6,99.6 40.6,92.1 47.4,80.4 50.4,71.1 52.1,58.6 51.6,45.9 50.9,42.1 48.9,37.1 46.4,34.1Z"/><path fill="#54c8a1" d="M42.6,35.6 40.6,35.6 37.4,36.9 35.6,38.1 31.6,42.6 27.1,50.9 23.1,63.6 21.4,76.4 21.9,88.9 23.1,94.1 24.6,97.1 27.1,99.6 29.6,100.6 32.1,100.4 34.1,99.1 40.4,92.4 46.1,82.6 49.4,73.1 51.1,60.6 51.1,52.4 49.4,43.1 47.1,38.9 45.6,37.1Z"/><path fill="#62cca1" d="M42.1,38.4 39.6,38.4 36.6,39.6 34.4,41.4 31.1,45.1 27.1,52.4 23.1,65.1 21.6,75.6 22.1,89.4 23.6,94.9 26.4,98.9 29.1,100.4 31.6,100.4 33.4,99.6 39.9,92.9 45.9,82.6 48.9,72.9 50.4,60.4 49.6,50.1 48.4,45.6 46.6,41.9 43.9,39.1Z"/><path fill="#73d2a2" d="M41.1,40.6 38.6,40.9 35.6,42.4 32.4,45.4 30.4,48.1 26.1,56.6 22.6,69.6 21.9,75.6 21.9,85.9 22.6,90.9 23.6,94.4 25.4,97.6 27.6,99.6 29.6,100.4 32.1,100.1 33.9,99.1 40.1,92.4 45.4,83.1 48.4,72.6 49.6,60.6 48.4,49.9 47.4,46.9 45.1,43.1 43.6,41.6Z"/><path fill="#84d6a3" d="M41.4,43.1 38.4,43.1 36.1,44.1 31.4,48.6 26.9,56.6 23.1,68.9 21.9,80.6 22.6,90.1 24.6,96.1 27.1,99.1 29.1,100.1 31.9,100.1 33.4,99.4 39.6,92.9 44.4,84.6 47.1,75.9 48.6,65.6 48.1,54.4 46.9,49.6 45.1,46.1 43.6,44.4Z"/><path fill="#94dca4" d="M40.6,45.4 38.1,45.4 34.1,47.6 31.1,50.9 28.9,54.4 26.1,60.4 23.1,71.1 22.1,80.4 22.9,90.6 25.4,97.1 27.4,99.1 29.9,100.1 32.1,99.9 33.9,98.9 37.6,95.1 40.6,91.1 44.9,82.4 46.9,74.4 47.9,66.4 47.9,60.6 46.9,53.9 44.1,47.9Z"/><path fill="#a5e0a5" d="M39.6,47.6 37.4,47.9 34.9,49.1 31.6,52.1 29.6,54.9 25.9,62.9 23.4,72.1 22.4,80.9 23.1,90.9 25.4,96.9 26.6,98.4 29.4,99.9 31.6,99.9 33.4,99.1 39.6,92.4 43.6,84.6 46.1,75.4 47.1,66.6 46.4,57.1 43.9,50.6 41.6,48.4Z"/><path fill="#b5e5a8" d="M39.6,50.1 37.4,50.1 35.4,50.9 30.6,55.4 26.1,64.1 23.4,74.4 22.6,85.4 23.6,92.4 25.9,97.4 27.9,99.1 29.9,99.9 32.1,99.6 34.1,98.4 39.9,91.6 43.6,83.4 45.4,76.4 46.1,70.6 45.6,59.1 43.1,52.9 41.4,50.9Z"/><path fill="#c4eaab" d="M38.9,52.4 37.1,52.4 33.9,53.9 31.1,56.6 27.6,62.4 24.1,72.9 22.9,82.1 23.4,90.4 25.4,96.4 27.4,98.6 29.4,99.6 31.6,99.6 33.6,98.6 38.1,93.9 41.6,87.6 44.4,78.6 45.4,71.4 44.9,61.1 42.6,55.1 40.6,53.1Z"/><path fill="#d4efaf" d="M38.4,54.6 35.4,55.1 30.6,59.1 27.1,65.4 24.1,74.9 23.1,82.9 23.9,92.1 25.9,96.9 27.9,98.9 29.1,99.4 31.9,99.4 35.1,97.1 37.9,93.9 40.9,88.4 43.6,79.6 44.6,71.9 44.6,66.9 43.9,62.1 41.9,57.4 40.6,55.9Z"/><path fill="#e3f4b2" d="M38.1,57.1 36.1,57.1 33.4,58.4 30.6,61.1 26.6,68.4 24.4,75.9 23.4,83.6 23.9,91.4 24.9,94.9 26.4,97.4 28.1,98.9 31.1,99.4 33.4,98.4 37.4,94.1 40.4,88.6 42.6,81.6 43.6,75.9 43.4,65.4 41.6,60.1 39.4,57.6Z"/><path fill="#eef7b6" d="M37.4,59.4 33.9,60.1 30.4,63.4 26.9,69.6 24.6,76.9 23.6,84.6 24.4,92.9 26.1,96.9 29.1,99.1 31.1,99.1 32.9,98.4 36.1,95.4 39.6,89.4 41.9,82.6 42.9,76.6 42.6,67.4 40.6,61.9 39.4,60.4Z"/><path fill="#f3f8b9" d="M36.4,61.4 33.6,62.1 30.1,65.4 27.1,70.6 24.6,78.9 23.9,86.4 24.6,93.4 26.9,97.6 28.9,98.9 31.4,98.9 35.4,95.9 39.4,88.9 41.4,82.4 42.1,77.9 41.9,68.6 39.9,63.6 38.4,62.1Z"/><path fill="#f9f9bc" d="M36.4,62.6 33.1,63.6 30.1,66.6 26.6,73.4 24.9,79.9 24.1,86.4 24.6,92.9 26.4,96.9 29.4,98.9 32.1,98.4 35.4,95.4 38.6,89.6 40.9,82.4 41.6,76.9 41.1,68.9 39.1,64.4Z"/><path fill="#fcf7b7" d="M36.6,63.9 33.6,64.4 29.9,68.1 27.4,72.9 25.4,79.4 24.4,86.1 24.6,92.1 26.1,96.4 28.9,98.6 31.1,98.6 32.6,97.9 34.9,95.6 38.4,89.1 40.1,83.4 40.9,78.9 40.6,69.9 39.4,66.4Z"/><path fill="#fdf0a9" d="M35.9,64.9 32.9,65.9 29.9,69.4 26.9,75.6 25.4,81.1 24.6,85.9 24.9,92.9 26.6,96.9 29.1,98.6 32.4,97.9 34.6,95.6 37.1,91.1 39.6,83.4 40.4,78.1 39.9,70.1 37.9,65.9Z"/><path fill="#fde99b" d="M35.4,67.1 32.9,67.9 29.4,71.9 27.1,76.6 25.1,83.9 24.6,87.9 25.1,93.6 26.4,96.4 28.1,98.1 29.6,98.6 32.1,97.9 35.4,94.1 37.1,90.4 39.1,83.4 39.6,79.6 39.1,71.6 38.1,69.1Z"/><path fill="#fee28d" d="M34.4,70.4 31.9,71.4 29.1,74.4 26.9,78.9 25.1,85.4 25.1,93.4 26.6,96.6 28.9,98.4 31.9,97.9 34.4,95.4 36.9,90.4 38.4,84.9 38.9,80.9 38.4,74.9 37.4,72.4 35.9,70.9Z"/><path fill="#fed682" d="M33.9,73.6 30.9,74.9 28.6,77.4 26.6,81.1 25.1,86.4 24.9,90.6 25.4,93.9 26.9,96.9 29.1,98.4 32.1,97.6 33.9,95.9 35.9,92.4 37.6,86.6 37.6,78.1 36.4,75.4Z"/><path fill="#fdca78" d="M33.9,77.4 31.1,77.6 28.4,79.9 26.4,83.1 25.4,86.1 25.1,92.4 25.9,95.1 28.1,97.9 29.6,98.4 32.4,97.4 34.1,95.4 36.9,88.6 36.9,81.1 35.9,78.9Z"/><path fill="#fdbe6d" d="M33.1,79.6 31.6,79.6 29.4,80.6 26.6,83.6 25.4,86.9 25.1,91.6 25.6,94.4 26.9,96.6 28.9,98.1 31.4,97.9 33.6,95.9 35.1,93.4 36.4,89.6 36.6,83.9 35.6,81.4Z"/><path fill="#fcb362" d="M33.4,80.6 31.1,80.6 28.9,81.9 26.6,84.4 25.4,87.6 25.1,89.9 25.9,94.9 27.4,97.1 29.1,98.1 31.1,97.9 33.1,96.4 35.9,90.9 36.4,88.1 36.1,84.4 34.9,81.6Z"/><path fill="#fba55b" d="M33.1,81.4 31.1,81.4 29.1,82.4 26.6,85.1 25.4,88.4 25.9,94.6 26.9,96.4 29.4,98.1 31.9,97.4 33.4,95.9 35.1,92.6 35.9,89.9 35.9,85.1 35.1,83.1Z"/><path fill="#f99755" d="M32.6,82.1 30.9,82.1 28.6,83.4 26.4,86.1 25.6,88.1 25.6,93.6 27.1,96.6 28.9,97.9 30.9,97.9 33.1,96.1 35.4,91.1 35.4,85.1 34.6,83.6Z"/><path fill="#f8884f" d="M32.4,82.9 30.9,82.9 28.9,83.9 26.9,85.9 25.6,88.6 25.9,94.4 26.6,95.9 28.9,97.9 30.6,97.9 32.6,96.6 35.1,91.4 35.1,85.9 34.4,84.4Z"/><path fill="#f67a49" d="M32.1,83.6 30.9,83.6 28.4,84.9 26.6,86.9 25.6,89.4 26.1,94.9 26.9,96.1 29.1,97.9 31.1,97.6 33.1,95.9 34.9,91.6 35.1,88.1 34.1,85.1Z"/><path fill="#f26c46" d="M31.9,84.4 28.9,85.1 26.9,87.1 25.9,89.1 25.6,92.6 26.1,94.6 27.1,96.4 29.4,97.9 30.9,97.6 32.6,96.4 34.6,91.9 34.9,89.6 33.9,85.9Z"/><path fill="#ed5f46" d="M31.4,85.1 28.4,86.1 25.9,89.9 25.9,93.6 26.4,95.1 28.4,97.4 29.6,97.9 31.6,97.1 32.9,95.9 34.4,92.1 34.1,87.6 32.4,85.4Z"/><path fill="#e85146" d="M31.9,86.1 28.6,86.6 26.1,89.6 25.9,93.4 26.4,94.9 28.9,97.6 31.6,97.1 33.9,93.6 33.9,88.4Z"/><path fill="#e34446" d="M30.6,86.6 28.1,87.6 26.4,89.6 25.9,91.4 26.1,94.1 26.9,95.6 29.1,97.6 30.4,97.6 32.1,96.6 33.9,92.9 33.9,90.1 33.1,88.1Z"/><path fill="#de3646" d="M31.4,87.6 29.4,87.6 27.9,88.4 26.1,90.9 26.4,94.6 27.1,95.9 29.4,97.6 30.9,97.4 32.4,96.1 33.6,93.1 33.4,89.9Z"/><path fill="#d72b45" d="M29.6,88.1 26.6,90.1 26.1,93.4 26.9,95.4 28.4,97.1 30.6,97.4 31.9,96.6 32.9,95.1 33.4,90.9 31.6,88.4Z"/><path fill="#d02244" d="M29.1,88.6 27.1,89.9 26.1,91.9 26.1,93.1 27.6,96.4 29.1,97.4 30.4,97.4 31.4,96.9 32.9,94.9 33.1,90.9 31.6,88.9Z"/><path fill="#c91843" d="M30.9,88.9 28.1,89.4 26.4,91.4 26.6,94.6 27.4,95.9 29.4,97.4 31.9,96.4 33.1,93.1 32.6,90.4Z"/><path fill="#c20f42" d="M29.4,89.1 26.9,90.9 26.4,93.4 28.1,96.6 30.6,97.1 31.9,96.1 32.6,94.6 32.9,91.9 31.4,89.4Z"/><path fill="#bd0841" d="M30.9,89.4 28.6,89.6 26.6,91.6 26.9,94.6 29.1,97.1 30.9,96.9 31.9,95.9 32.6,93.9 32.4,90.9Z"/><path fill="#bc0541" d="M29.4,89.6 26.9,91.6 26.6,93.4 27.1,94.9 28.6,96.6 30.4,96.9 32.1,94.9 32.4,91.6 31.1,89.9Z"/><path fill="#ba0241" d="M30.4,89.9 28.1,90.6 26.9,92.4 27.4,94.9 29.6,96.9 31.4,95.9 32.1,93.6 31.9,91.4Z"/></g></g><path fill="none" stroke="#1c1c30" stroke-width="0.60" stroke-opacity="0.85" stroke-linejoin="round" d="M50.50,2.60C51.88,2.73 53.47,3.35 54.80,4.20C56.13,5.05 57.37,5.58 58.50,7.70C59.63,9.82 60.95,13.07 61.60,16.90C62.25,20.73 62.53,25.85 62.40,30.70C62.27,35.55 61.45,41.12 60.80,46.00C60.15,50.88 59.43,56.28 58.50,60.00C57.57,63.72 56.77,65.12 55.20,68.30C53.63,71.48 51.40,75.27 49.10,79.10C46.80,82.93 43.97,87.73 41.40,91.30C38.83,94.87 35.87,98.65 33.70,100.50C31.53,102.35 30.18,102.40 28.40,102.40C26.62,102.40 24.42,101.83 23.00,100.50C21.58,99.17 20.53,97.20 19.90,94.40C19.27,91.60 19.20,88.05 19.20,83.70C19.20,79.35 19.52,73.08 19.90,68.30C20.28,63.52 20.73,58.72 21.50,55.00C22.27,51.28 23.48,49.55 24.50,46.00C25.52,42.45 26.32,37.78 27.60,33.70C28.88,29.62 30.42,25.33 32.20,21.50C33.98,17.67 36.58,13.25 38.30,10.70C40.02,8.15 41.13,7.42 42.50,6.20C43.87,4.98 45.17,4.00 46.50,3.40C47.83,2.80 49.12,2.47 50.50,2.60Z"/><path fill="none" stroke="#4a4a30" stroke-width="0.55" stroke-opacity="0.80" stroke-linejoin="round" d="M41.6,80.2 41.5,80.6 41.4,81.1 41.3,81.5 41.3,82.0 41.2,82.4 41.1,82.8 41.0,83.3 40.9,83.7 40.7,84.2 40.6,84.6 40.5,85.1 40.4,85.6 40.2,86.1 40.0,86.6 39.9,87.1 39.7,87.7 39.5,88.2 39.2,88.8 39.0,89.5 38.7,90.1 38.4,90.8 38.0,91.5 37.6,92.3 37.1,93.1 36.6,93.9 36.1,94.8 35.4,95.6 34.7,96.5 33.8,97.3 33.0,98.0 32.0,98.5 31.0,98.9 30.0,99.1 29.0,99.0 28.0,98.6 27.2,98.0 26.4,97.2 25.8,96.3 25.3,95.3 24.9,94.2 24.5,93.1 24.3,92.1 24.1,91.1 24.0,90.2 23.9,89.3 23.8,88.4 23.8,87.6 23.8,86.9 23.8,86.2 23.8,85.5 23.8,84.9 23.8,84.3 23.9,83.7 23.9,83.1 24.0,82.6 24.0,82.1 24.1,81.6 24.2,81.1 24.2,80.7 24.3,80.2 24.4,79.8 24.5,79.3 24.6,78.9 24.6,78.4 24.7,78.0 24.8,77.6 24.9,77.1 25.0,76.7 25.2,76.2 25.3,75.8 25.4,75.3 25.5,74.8 25.7,74.3 25.9,73.8 26.0,73.3 26.2,72.7 26.4,72.2 26.7,71.6 26.9,70.9 27.2,70.3 27.5,69.6 27.9,68.9 28.3,68.1 28.8,67.3 29.3,66.5 29.8,65.6 30.5,64.8 31.2,63.9 32.1,63.1 33.0,62.4 33.9,61.9 34.9,61.5 35.9,61.3 36.9,61.4 37.9,61.8 38.7,62.4 39.5,63.2 40.1,64.1 40.6,65.1 41.0,66.2 41.4,67.3 41.6,68.3 41.8,69.3 41.9,70.2 42.0,71.1 42.1,72.0 42.1,72.8 42.1,73.5 42.1,74.2 42.1,74.9 42.1,75.5 42.1,76.1 42.0,76.7 42.0,77.3 41.9,77.8 41.9,78.3 41.8,78.8 41.7,79.3 41.7,79.7Z"/><rect x="77.8" y="82.0" width="5.4" height="27.5" fill="url(#cb)"/><text x="79.4" y="80.4" class="dose">Dose</text><text x="84.0" y="83.9" class="lt">600</text><text x="84.0" y="90.1" class="lt">500</text><text x="84.0" y="96.3" class="lt">400</text><text x="84.0" y="102.5" class="lt">300</text><text x="84.0" y="108.7" class="lt">200</text><line x1="-2.3" y1="0" x2="-2.3" y2="113.0" class="ax"/><line x1="0" y1="114.9" x2="93.6" y2="114.9" class="ax"/><text x="1.5" y="120.0" class="tl" text-anchor="middle">-5</text><text x="26.0" y="120.0" class="tl" text-anchor="middle">0</text><text x="50.5" y="120.0" class="tl" text-anchor="middle">5</text><text x="75.0" y="120.0" class="tl" text-anchor="middle">10</text><text x="-4.6" y="16.4" class="tl" text-anchor="end">25</text><text x="-4.6" y="33.2" class="tl" text-anchor="end">20</text><text x="-4.6" y="50.1" class="tl" text-anchor="end">15</text><text x="-4.6" y="66.9" class="tl" text-anchor="end">10</text><text x="-4.6" y="83.8" class="tl" text-anchor="end">5</text><text x="-4.6" y="100.6" class="tl" text-anchor="end">0</text></g><g transform="translate(342.0,141.3)"><rect width="93.6" height="113.0" fill="#6450a5"/><g clip-path="url(#pc)"><g filter="url(#bl)"><path fill="#5d55a9" d="M72.4,0.1 43.6,0.1 41.6,5.1 31.6,40.1 16.9,51.9 14.9,54.1 12.6,84.9 14.6,98.1 16.9,100.6 27.4,106.4 36.9,105.9 45.1,101.1 53.6,92.6 59.1,85.6 64.9,77.1 69.1,66.6 68.1,58.6 62.9,47.6 68.4,34.6 72.9,12.9 73.1,9.4 72.4,4.6Z"/><path fill="#5958ac" d="M68.4,0.1 47.6,0.1 35.9,37.4 15.4,54.1 13.1,80.6 13.1,85.4 14.9,97.4 16.1,99.6 27.4,105.9 37.1,105.4 46.1,99.6 52.4,93.4 58.9,85.1 64.6,76.6 68.1,68.6 68.6,65.4 67.9,59.4 60.6,44.4 64.9,33.4 68.9,12.6 69.1,8.9Z"/><path fill="#555bae" d="M65.1,0.1 50.9,0.4 39.1,35.4 16.6,53.1 15.6,54.6 13.4,81.6 15.1,96.9 16.4,99.4 27.1,105.4 36.6,105.1 45.1,100.1 52.4,92.9 58.6,84.9 64.4,76.4 67.9,68.4 68.1,63.9 67.4,58.9 59.1,42.4 59.1,41.1 62.4,32.1 65.9,11.9Z"/><path fill="#505eb1" d="M61.4,0.1 54.9,0.1 50.4,10.6 42.4,32.9 17.4,52.9 15.9,54.6 13.6,81.9 15.4,96.9 16.6,99.1 27.9,105.4 37.4,104.6 44.4,100.4 52.6,92.1 58.6,84.4 63.9,76.6 67.9,67.4 67.1,59.1 57.4,39.1 59.9,31.9 62.9,11.1Z"/><path fill="#4b62b3" d="M57.1,10.1 55.1,11.1 52.9,14.6 45.9,30.9 17.9,52.9 16.1,54.9 13.9,82.1 15.6,96.9 17.1,99.1 28.1,105.1 37.1,104.4 44.6,99.9 51.6,92.9 58.1,84.6 64.1,75.6 67.4,68.1 67.6,64.9 66.6,58.6 58.6,42.6 55.9,35.6 57.4,30.6 58.4,19.9 58.4,13.6 57.9,11.1Z"/><path fill="#4665b6" d="M52.1,27.1 50.1,27.9 41.4,34.4 17.4,53.6 16.4,55.1 14.1,81.9 15.9,96.9 16.4,98.1 28.1,104.9 37.1,104.1 42.4,101.1 45.9,98.4 52.1,91.9 58.1,84.1 63.6,75.9 67.4,67.1 66.6,59.4 57.6,41.1 54.6,31.4Z"/><path fill="#4168b8" d="M51.9,27.4 50.9,27.6 42.1,34.1 18.1,53.4 16.6,55.1 14.4,81.9 16.1,96.9 17.4,98.6 28.1,104.6 37.1,103.9 44.1,99.6 51.1,92.6 58.1,83.6 63.1,76.1 67.1,66.9 66.4,59.6 56.6,39.6 54.6,32.1 52.6,27.9Z"/><path fill="#3c6bba" d="M52.1,27.9 51.1,27.9 42.6,34.1 18.6,53.4 16.9,55.4 14.6,81.9 16.4,96.6 17.9,98.6 28.1,104.4 36.4,103.9 44.4,99.1 51.6,91.6 57.4,84.1 63.4,75.1 66.6,67.4 65.9,59.4 56.6,40.4 54.1,31.6Z"/><path fill="#376ebd" d="M51.9,28.4 50.4,28.9 42.6,34.6 18.6,53.9 17.1,55.9 14.9,82.4 16.6,96.4 17.4,97.9 28.1,104.1 37.4,103.4 43.4,99.6 50.1,92.9 56.6,84.6 62.6,75.6 66.1,67.6 66.4,65.9 65.6,59.9 56.6,41.4 53.9,32.1Z"/><path fill="#3272bf" d="M51.4,29.9 49.6,30.4 42.1,35.9 19.1,54.1 17.4,56.6 15.4,79.4 15.4,85.9 16.9,96.1 17.6,97.6 25.6,102.9 28.1,103.9 36.6,103.4 43.6,99.1 50.4,92.1 57.4,82.9 62.1,75.6 65.4,68.1 65.6,65.6 64.9,59.9 56.4,42.6 53.6,33.9Z"/><path fill="#2f76c1" d="M50.1,32.6 46.6,34.4 19.9,54.4 18.1,56.1 17.6,57.4 15.6,79.6 15.6,85.6 16.6,93.4 17.4,96.4 18.6,97.9 25.1,102.4 27.9,103.6 36.9,103.1 42.9,99.4 50.1,91.9 56.6,83.1 60.9,76.6 64.1,69.1 64.4,65.1 63.6,60.4 60.1,52.4 54.6,42.4 53.1,37.4 51.1,33.4Z"/><path fill="#2c79c3" d="M49.1,35.6 47.4,36.1 19.9,55.4 17.9,58.1 17.1,62.1 15.9,79.6 15.9,85.1 16.9,93.1 17.6,95.9 18.6,97.4 25.4,102.4 27.6,103.4 37.1,102.9 43.1,98.9 48.1,93.6 53.9,86.1 60.4,76.1 62.6,70.4 62.9,63.6 62.1,60.6 57.6,50.4 54.1,45.1 51.1,38.1Z"/><path fill="#297dc4" d="M48.4,38.9 45.9,39.4 30.4,49.1 20.4,56.1 18.1,58.9 17.1,64.4 16.1,77.9 16.1,84.6 17.1,92.9 18.4,96.4 26.6,102.9 28.4,103.4 36.6,102.9 41.6,99.9 46.4,95.1 52.9,86.6 58.1,78.6 60.4,73.9 61.6,68.6 61.6,65.1 60.9,61.4 57.4,52.9 52.1,45.4 50.6,41.9Z"/><path fill="#2681c6" d="M47.1,41.9 44.4,42.6 33.6,49.1 29.4,51.1 20.1,57.4 18.6,59.1 17.9,61.1 16.4,75.1 16.4,84.1 17.4,92.9 19.4,96.9 25.9,102.4 27.9,103.1 36.9,102.6 41.4,99.9 46.6,94.4 56.9,79.4 59.9,72.1 60.4,67.6 60.1,63.9 57.4,55.9 49.1,43.9Z"/><path fill="#2384c8" d="M46.1,44.9 44.4,45.1 27.1,53.9 20.6,58.1 18.9,59.9 17.9,62.4 16.6,74.1 16.6,84.1 17.6,92.9 18.9,95.6 25.4,101.9 27.4,102.9 36.4,102.6 40.9,100.1 44.9,96.1 48.4,91.6 55.6,80.1 57.9,75.1 58.9,70.4 59.1,65.9 56.4,56.9 54.1,53.4Z"/><path fill="#2088ca" d="M45.1,47.9 41.6,48.9 27.1,55.1 20.1,59.6 18.1,62.4 16.6,77.1 16.9,84.9 17.9,93.1 19.6,96.1 26.4,102.4 28.1,102.9 35.6,102.6 37.6,102.1 40.4,100.4 44.9,95.9 48.1,91.6 55.9,78.1 57.1,73.9 57.9,66.1 55.6,58.4 52.4,53.9Z"/><path fill="#1d8ccb" d="M44.4,50.9 41.9,51.1 27.6,55.9 19.9,60.6 18.4,62.4 16.9,74.6 16.9,82.4 17.9,92.1 20.1,96.4 26.6,102.4 36.4,102.4 39.9,100.6 43.6,97.1 46.9,93.1 54.9,79.4 57.1,69.1 55.1,59.9 53.9,57.6 51.6,55.4Z"/><path fill="#1b8fca" d="M44.4,52.4 42.6,52.1 28.4,56.1 19.6,61.4 18.4,63.1 17.1,73.6 17.1,83.9 18.1,92.6 20.4,96.4 26.9,102.4 35.6,102.4 37.6,101.9 40.4,100.1 46.9,92.9 54.4,79.9 56.6,69.6 56.4,66.6 54.4,59.6 50.9,55.9Z"/><path fill="#1a92ca" d="M44.9,53.1 42.6,52.6 28.1,56.6 19.9,61.6 18.6,63.1 17.1,75.1 17.1,82.4 18.1,91.9 20.1,95.9 26.6,102.1 36.6,102.1 39.6,100.6 47.1,92.4 54.4,79.4 56.1,70.9 56.1,67.1 54.1,60.1 50.9,56.4Z"/><path fill="#1796c9" d="M43.9,53.1 41.9,53.1 28.1,56.9 19.6,62.1 18.6,63.6 17.4,73.9 17.4,83.9 18.4,92.4 19.9,95.4 26.9,102.1 35.9,102.1 40.1,100.1 46.6,92.9 53.9,80.1 55.9,70.9 55.9,67.1 53.9,60.4 50.9,56.9Z"/><path fill="#159bc9" d="M44.9,54.1 42.1,53.6 27.9,57.4 20.4,62.1 18.9,63.9 17.4,76.1 17.4,81.9 18.6,92.6 20.1,95.4 26.6,101.9 28.6,102.4 36.4,101.9 39.6,100.4 46.6,92.6 53.6,80.1 55.6,70.4 55.6,67.9 53.6,60.9 50.4,57.1Z"/><path fill="#12a1c7" d="M44.1,54.4 41.9,54.1 28.6,57.4 20.6,62.4 19.1,64.1 17.6,75.6 17.6,83.1 18.9,92.9 22.4,97.6 26.1,101.4 27.6,102.1 36.9,101.6 40.4,99.6 47.4,91.4 53.6,79.6 55.4,68.1 53.4,61.4 52.4,59.6 49.9,57.4Z"/><path fill="#15a6c0" d="M44.1,54.9 41.9,54.6 28.1,57.9 20.9,62.6 19.4,64.4 17.9,75.1 17.9,84.4 18.9,92.1 19.6,94.1 21.6,96.6 27.4,101.9 36.1,101.6 39.9,99.9 46.4,92.6 53.1,80.4 55.1,70.4 54.9,67.4 53.4,62.4 52.4,60.4 50.4,58.4Z"/><path fill="#18acb8" d="M44.1,55.4 40.1,55.4 28.1,58.1 21.4,62.6 19.6,64.4 17.9,77.1 17.9,82.9 19.1,92.6 20.9,95.6 27.6,101.9 36.6,101.4 39.4,100.1 46.6,92.1 52.9,80.6 54.9,70.4 54.9,68.6 52.9,62.1 51.9,60.4 49.6,58.4Z"/><path fill="#1bb1b0" d="M44.1,55.9 39.6,55.9 28.4,58.4 22.6,62.1 19.9,64.6 18.1,76.4 18.1,84.4 19.1,91.9 20.4,94.9 27.4,101.6 36.1,101.4 39.6,99.9 46.1,92.6 48.9,88.4 52.9,80.1 54.6,70.6 54.4,67.6 52.1,61.4 49.9,59.1Z"/><path fill="#1eb6a9" d="M44.1,56.4 40.9,56.1 36.9,56.6 28.4,58.6 21.1,63.6 19.9,65.4 18.1,78.6 18.1,83.1 19.4,92.4 21.4,95.9 27.6,101.6 36.6,101.1 39.1,100.1 44.1,95.1 47.9,89.9 52.6,80.4 54.4,70.9 53.4,65.6 51.6,61.4 49.4,59.4Z"/><path fill="#28baa7" d="M44.1,56.9 40.4,56.6 35.9,57.1 28.4,58.9 21.4,63.9 20.1,65.6 18.4,77.4 18.4,84.6 19.6,92.9 20.9,95.1 27.9,101.6 36.1,101.1 39.6,99.6 46.1,92.4 52.4,80.6 54.1,71.1 53.4,66.6 51.1,61.4Z"/><path fill="#33bea5" d="M44.1,57.4 36.4,57.4 27.9,59.4 21.9,63.9 20.4,65.6 18.4,79.6 18.4,83.4 19.6,92.4 21.6,95.9 27.6,101.4 29.9,101.6 36.9,100.9 40.1,99.1 44.1,94.9 47.4,90.4 52.1,80.9 53.9,71.1 53.1,66.9 51.1,62.1 49.6,60.6Z"/><path fill="#3ec1a4" d="M44.6,58.1 42.9,57.6 35.4,57.9 28.6,59.4 22.1,64.1 20.6,65.9 18.6,78.4 18.6,84.9 19.9,92.9 21.1,95.1 27.9,101.4 36.4,100.9 39.4,99.6 43.6,95.4 47.1,90.6 52.4,79.9 53.6,71.4 53.1,67.9 50.6,62.1Z"/><path fill="#49c5a2" d="M44.6,58.6 42.9,58.1 36.1,58.1 28.9,59.6 22.6,64.1 20.9,66.1 18.6,80.1 19.6,90.9 20.9,94.6 27.4,101.1 30.9,101.4 35.6,100.9 39.6,99.4 45.9,92.4 48.1,88.9 51.6,81.4 53.1,73.6 53.1,68.9 50.6,62.9Z"/><path fill="#54c8a1" d="M44.4,59.1 42.4,58.6 35.4,58.6 29.4,59.9 26.6,61.4 21.1,66.4 18.9,78.9 18.9,85.4 19.9,91.6 21.1,94.9 27.6,101.1 35.1,100.9 39.1,99.6 46.1,91.9 51.4,81.6 52.9,73.9 52.9,69.4 50.4,63.4 48.9,61.9Z"/><path fill="#62cca1" d="M44.1,59.6 35.1,59.1 29.1,60.4 25.4,62.9 21.4,66.6 18.9,80.4 18.9,84.4 20.1,92.4 21.9,95.6 27.9,101.1 36.1,100.6 39.4,99.4 43.4,95.4 46.4,91.4 48.9,87.1 51.4,81.1 52.6,73.9 52.6,70.1 49.9,63.6Z"/><path fill="#73d2a2" d="M43.9,60.4 35.6,59.6 29.6,60.9 27.1,62.1 21.6,67.1 19.1,79.4 19.1,85.9 19.9,90.4 21.4,94.9 28.1,101.1 35.6,100.6 38.9,99.6 42.9,95.9 46.1,91.6 50.4,83.4 51.9,78.4 52.1,70.1 49.9,64.6 48.4,63.1Z"/><path fill="#84d6a3" d="M43.6,61.1 35.1,60.4 29.6,61.6 24.9,64.6 21.6,68.1 19.4,78.6 19.4,87.1 21.1,94.4 27.6,100.9 35.1,100.6 39.1,99.4 44.4,93.9 49.1,86.1 51.4,79.9 51.9,71.1 49.4,65.1Z"/><path fill="#94dca4" d="M43.4,61.9 38.9,61.1 34.9,61.1 29.6,62.4 24.9,65.4 21.9,68.6 19.4,79.9 19.6,87.9 21.1,94.1 27.9,100.9 36.1,100.4 39.6,98.9 44.9,93.1 47.4,89.4 49.9,83.9 51.4,77.9 51.4,71.4 48.9,65.6Z"/><path fill="#a5e0a5" d="M43.6,62.9 37.4,61.6 30.6,62.9 27.6,64.1 24.9,66.1 21.9,69.6 19.6,79.1 19.6,87.4 21.4,94.4 28.1,100.9 33.9,100.6 38.4,99.6 43.6,94.6 48.4,87.4 50.9,79.9 51.1,72.6 48.9,66.9Z"/><path fill="#b5e5a8" d="M42.6,63.4 35.6,62.4 28.1,64.6 24.6,67.1 22.1,70.1 20.4,75.9 19.6,80.6 19.6,86.6 20.6,91.9 21.6,94.6 23.1,96.4 28.4,100.9 35.1,100.4 39.4,98.9 44.9,92.9 48.9,85.9 50.6,79.4 50.6,72.9 48.6,67.6Z"/><path fill="#c4eaab" d="M42.9,64.4 37.6,63.1 35.4,63.1 27.9,65.6 24.6,67.9 22.1,71.1 19.9,79.9 19.9,87.4 21.6,94.4 27.9,100.6 34.6,100.4 38.9,99.1 43.6,94.4 48.4,86.9 50.1,80.9 50.4,74.1 48.1,68.1Z"/><path fill="#d4efaf" d="M41.9,64.9 37.6,63.9 35.1,63.9 29.4,65.6 24.6,68.6 22.9,70.6 20.6,76.6 19.9,81.4 19.9,86.9 20.9,91.9 22.9,95.9 28.1,100.6 35.6,100.1 39.4,98.6 43.4,94.6 48.1,87.1 49.9,80.6 49.9,74.4 48.1,69.4 46.4,67.6Z"/><path fill="#e3f4b2" d="M42.1,65.9 37.6,64.6 34.9,64.6 30.1,66.1 23.6,70.4 21.4,75.1 19.9,83.6 21.1,92.4 22.4,95.1 28.4,100.6 35.4,100.1 38.9,98.9 44.4,93.1 48.4,86.1 49.6,79.9 49.6,75.9 47.6,69.9 46.4,68.6Z"/><path fill="#eef7b6" d="M41.9,66.6 36.9,65.1 30.6,66.6 24.6,70.1 23.6,71.1 21.6,75.4 20.1,82.6 20.1,86.6 21.6,93.6 22.9,95.6 28.1,100.4 33.1,100.4 38.4,99.1 43.1,94.6 47.6,87.6 49.4,79.1 48.9,74.9 47.4,70.6Z"/><path fill="#f3f8b9" d="M41.4,67.1 36.1,65.6 30.4,67.4 25.1,70.4 23.9,71.6 21.4,76.9 20.4,82.4 20.4,87.4 21.6,93.1 22.6,95.1 28.4,100.4 34.4,100.1 38.9,98.6 42.9,94.9 47.6,87.1 48.9,80.6 48.9,76.9 47.9,73.1 46.4,70.4Z"/><path fill="#f9f9bc" d="M37.4,66.4 34.9,66.4 31.1,67.6 24.6,71.4 21.1,78.6 20.4,86.1 22.1,94.1 26.9,99.4 28.6,100.4 34.1,100.1 39.1,98.4 43.1,94.4 47.6,86.6 48.6,78.1 46.6,71.4 42.6,68.4Z"/><path fill="#fcf7b7" d="M36.4,66.6 31.1,68.1 25.4,71.4 23.6,73.6 21.4,78.9 20.6,86.9 22.1,93.9 27.6,99.9 29.1,100.4 35.1,99.9 38.9,98.4 43.4,93.9 47.4,86.4 48.1,77.9 46.4,71.9 42.1,68.6Z"/><path fill="#fdf0a9" d="M37.6,67.4 35.4,67.1 31.6,68.4 26.1,71.4 24.4,73.1 21.6,78.9 20.9,87.4 22.1,93.4 23.4,95.6 28.4,100.1 34.6,99.9 38.4,98.6 42.9,94.4 46.9,86.9 47.6,77.9 46.4,73.1 45.1,71.4 42.4,69.4Z"/><path fill="#fde99b" d="M36.9,67.6 35.1,67.6 30.9,69.1 25.9,72.1 23.1,75.9 21.9,78.9 21.1,87.9 22.6,94.4 24.9,97.1 28.6,100.1 34.4,99.9 38.1,98.6 42.4,94.9 46.4,87.1 47.1,78.9 45.4,72.6 42.1,69.9Z"/><path fill="#fee28d" d="M36.9,68.1 34.9,68.1 31.9,69.1 25.9,72.6 23.1,76.4 22.1,78.9 21.4,83.6 21.4,88.1 22.4,93.4 23.6,95.6 28.4,99.9 33.9,99.9 38.6,98.1 42.6,94.4 45.9,87.1 46.4,79.4 45.1,73.9 44.4,72.6 41.1,69.9Z"/><path fill="#fed682" d="M36.9,68.6 34.6,68.6 32.4,69.4 27.6,71.9 24.6,74.6 22.4,78.9 21.4,86.9 22.6,93.6 24.9,96.9 28.6,99.9 34.9,99.6 38.4,98.1 42.6,94.1 45.1,87.9 45.6,80.6 44.4,74.4 41.1,70.6Z"/><path fill="#fdca78" d="M36.9,69.1 34.4,69.1 32.1,69.9 26.9,72.9 24.1,75.9 22.6,78.9 21.6,84.6 21.6,87.6 22.6,93.1 23.9,95.6 27.4,99.1 28.9,99.9 34.4,99.6 38.1,98.1 42.1,94.6 44.6,88.1 45.1,83.1 43.9,75.1 40.1,70.6Z"/><path fill="#fdbe6d" d="M36.1,69.4 32.4,70.1 27.1,73.1 23.9,76.6 22.9,78.9 21.9,84.1 21.9,88.1 22.9,93.6 25.1,96.9 28.4,99.6 34.1,99.6 37.9,98.1 42.1,94.4 44.4,87.6 44.6,82.9 43.4,75.6 39.9,71.1Z"/><path fill="#fcb362" d="M36.4,69.9 32.1,70.6 27.4,73.4 24.6,76.1 23.1,78.9 21.9,85.9 22.9,93.1 24.4,95.9 28.6,99.6 34.9,99.4 38.4,97.6 41.9,94.4 43.9,88.4 44.4,83.9 42.9,75.6 40.1,71.9Z"/><path fill="#fba55b" d="M36.4,70.4 31.9,71.1 27.6,73.6 24.4,76.9 23.1,79.6 22.1,84.9 23.1,93.4 25.4,96.9 29.1,99.6 32.9,99.6 36.1,98.9 40.6,95.6 42.1,93.4 43.9,87.1 43.9,82.4 42.6,76.1 39.4,71.9Z"/><path fill="#f99755" d="M36.4,70.9 32.9,71.1 28.1,73.6 24.4,77.4 23.4,79.6 22.4,84.4 22.4,88.4 23.4,93.9 24.6,95.9 28.6,99.4 32.1,99.6 36.4,98.6 41.1,94.9 42.6,91.1 43.6,87.1 43.6,82.6 42.6,77.1 40.4,73.4Z"/><path fill="#f8884f" d="M36.6,71.4 33.4,71.4 29.9,72.9 25.4,76.6 23.6,79.6 22.6,84.1 22.6,89.4 23.4,93.4 25.6,96.9 28.9,99.4 33.6,99.4 37.6,97.6 40.9,94.9 42.9,89.4 43.4,82.6 42.1,76.6 38.9,72.6Z"/><path fill="#f67a49" d="M35.9,71.6 32.1,72.1 28.1,74.4 24.6,78.1 23.1,82.6 22.6,87.9 23.9,94.4 27.6,98.6 29.4,99.4 34.4,99.1 38.1,97.1 41.1,94.1 42.9,88.4 43.1,82.6 41.6,76.4 38.9,73.1Z"/><path fill="#f26c46" d="M36.1,72.1 32.4,72.4 28.6,74.4 25.1,77.9 23.6,81.4 22.9,84.9 22.9,89.1 23.6,93.4 25.9,96.9 28.9,99.1 34.1,99.1 36.9,97.9 40.9,94.1 42.4,89.6 42.9,82.6 41.9,77.9 40.1,74.9Z"/><path fill="#ed5f46" d="M35.1,72.4 31.4,73.1 28.1,75.1 24.9,78.9 23.4,83.4 23.1,89.9 23.9,93.6 25.6,96.4 27.6,98.4 29.4,99.1 33.6,99.1 37.4,97.4 40.6,94.1 42.4,88.9 42.9,85.1 41.6,78.1 38.9,74.1Z"/><path fill="#e85146" d="M35.4,72.9 32.4,73.1 28.9,74.9 24.9,79.4 23.6,83.1 23.1,88.4 24.1,93.9 27.9,98.4 29.9,99.1 34.4,98.9 38.4,96.4 40.6,93.6 42.4,87.9 42.4,82.4 41.1,77.6 39.1,74.9Z"/><path fill="#e34446" d="M35.6,73.4 32.6,73.4 28.6,75.4 25.4,79.1 23.9,82.9 23.4,85.4 23.9,92.6 25.9,96.4 29.1,98.9 32.4,99.1 35.9,98.1 39.4,95.1 41.4,91.1 42.4,86.6 41.6,79.9 40.1,76.6 37.9,74.4Z"/><path fill="#de3646" d="M35.1,73.6 31.4,74.1 28.1,76.1 25.6,79.1 23.6,84.9 23.6,90.4 24.4,93.6 25.9,96.1 27.9,98.1 29.6,98.9 34.4,98.6 37.4,96.9 39.9,94.1 41.9,88.4 42.1,83.6 41.1,79.1 38.6,75.4Z"/><path fill="#d72b45" d="M34.6,73.9 32.1,74.1 29.1,75.6 25.6,79.6 23.9,84.6 23.6,88.9 24.6,93.9 26.9,97.1 30.4,98.9 34.1,98.6 37.1,96.9 39.6,94.1 41.9,87.4 41.6,81.6 40.1,77.6 38.1,75.4Z"/><path fill="#d02244" d="M35.6,74.4 32.1,74.4 28.9,76.1 25.9,79.6 24.1,84.4 23.9,89.9 24.6,93.4 26.4,96.4 29.6,98.6 33.6,98.6 36.9,96.9 39.4,94.1 41.4,88.9 41.6,82.9 40.6,79.1 37.6,75.4Z"/><path fill="#c91843" d="M35.4,74.6 32.4,74.6 28.6,76.6 25.9,80.1 24.4,84.1 24.1,90.6 24.9,93.6 27.9,97.6 30.4,98.6 33.9,98.4 36.6,96.9 39.1,94.1 41.1,89.1 41.4,82.6 40.4,79.1 37.9,75.9Z"/><path fill="#c20f42" d="M35.4,74.9 32.4,74.9 29.6,76.1 26.1,80.1 24.6,84.1 24.4,90.9 25.1,93.6 26.6,96.1 29.9,98.4 33.4,98.4 36.4,96.9 39.4,93.4 41.1,88.1 41.4,84.9 40.4,79.9 39.4,77.9 37.1,75.6Z"/><path fill="#bd0841" d="M35.1,75.1 32.4,75.1 29.4,76.6 26.9,79.4 24.6,85.1 24.4,88.9 25.4,93.6 26.9,96.1 29.6,98.1 33.6,98.1 36.4,96.6 38.6,94.1 40.6,89.4 41.1,84.6 40.1,79.9 37.4,76.1Z"/><path fill="#bc0541" d="M34.9,75.4 32.6,75.4 29.9,76.6 26.6,80.4 24.9,85.4 24.9,91.1 25.6,93.6 26.6,95.4 29.6,97.9 32.6,98.1 35.6,96.9 38.6,93.6 40.4,89.1 40.6,82.6 38.9,78.1 37.1,76.4Z"/><path fill="#ba0241" d="M35.1,75.9 32.4,75.9 29.9,77.1 27.4,79.9 25.4,84.9 25.1,90.1 25.9,93.1 26.9,95.1 28.9,97.1 30.1,97.6 33.4,97.6 35.4,96.6 38.1,93.6 39.9,89.6 40.4,83.9 39.4,79.9 37.1,76.9Z"/><path fill="#b90041" d="M33.9,79.4 30.1,82.9 28.1,88.1 29.1,91.4 31.6,94.1 33.1,93.4 35.4,90.6 37.4,85.4 36.1,81.9Z"/></g></g><path fill="none" stroke="#2a2a3a" stroke-width="0.55" stroke-opacity="0.90" stroke-linejoin="round" d="M15.30,53.70C17.98,50.23 25.97,45.12 30.70,41.40C35.43,37.68 40.08,34.12 43.70,31.40C47.32,28.68 50.48,25.22 52.40,25.10C54.32,24.98 54.43,28.65 55.20,30.70C55.97,32.75 55.68,34.23 57.00,37.40C58.32,40.57 61.32,46.08 63.10,49.70C64.88,53.32 66.80,56.25 67.70,59.10C68.60,61.95 69.00,63.98 68.50,66.80C68.00,69.62 66.37,72.93 64.70,76.00C63.03,79.07 60.55,82.38 58.50,85.20C56.45,88.02 54.70,90.35 52.40,92.90C50.10,95.45 47.25,98.47 44.70,100.50C42.15,102.53 39.95,104.20 37.10,105.10C34.25,106.00 31.23,106.92 27.60,105.90C23.97,104.88 17.73,102.70 15.30,99.00C12.87,95.30 13.12,89.83 13.00,83.70C12.88,77.57 14.22,67.20 14.60,62.20C14.98,57.20 12.62,57.17 15.30,53.70Z"/><path fill="none" stroke="#404050" stroke-width="0.50" stroke-opacity="0.75" stroke-linejoin="round" d="M18.40,62.20C20.18,58.98 25.00,57.90 27.60,56.70C30.20,55.50 31.40,55.78 34.00,55.00C36.60,54.22 40.38,51.82 43.20,52.00C46.02,52.18 49.12,54.92 50.90,56.10C52.68,57.28 53.02,57.07 53.90,59.10C54.78,61.13 56.20,64.97 56.20,68.30C56.20,71.63 55.05,76.03 53.90,79.10C52.75,82.17 51.08,83.88 49.30,86.70C47.52,89.52 45.23,93.43 43.20,96.00C41.17,98.57 39.97,101.10 37.10,102.10C34.23,103.10 29.12,103.53 26.00,102.00C22.88,100.47 19.92,97.23 18.40,92.90C16.88,88.57 16.90,81.12 16.90,76.00C16.90,70.88 16.62,65.42 18.40,62.20Z"/><rect x="77.8" y="82.0" width="5.4" height="27.5" fill="url(#cb)"/><text x="79.4" y="80.4" class="dose">Dose</text><text x="84.0" y="83.9" class="lt">600</text><text x="84.0" y="90.1" class="lt">500</text><text x="84.0" y="96.3" class="lt">400</text><text x="84.0" y="102.5" class="lt">300</text><text x="84.0" y="108.7" class="lt">200</text><line x1="-2.3" y1="0" x2="-2.3" y2="113.0" class="ax"/><line x1="0" y1="114.9" x2="93.6" y2="114.9" class="ax"/><text x="1.5" y="120.0" class="tl" text-anchor="middle">-5</text><text x="26.0" y="120.0" class="tl" text-anchor="middle">0</text><text x="50.5" y="120.0" class="tl" text-anchor="middle">5</text><text x="75.0" y="120.0" class="tl" text-anchor="middle">10</text><text x="-4.6" y="16.4" class="tl" text-anchor="end">25</text><text x="-4.6" y="33.2" class="tl" text-anchor="end">20</text><text x="-4.6" y="50.1" class="tl" text-anchor="end">15</text><text x="-4.6" y="66.9" class="tl" text-anchor="end">10</text><text x="-4.6" y="83.8" class="tl" text-anchor="end">5</text><text x="-4.6" y="100.6" class="tl" text-anchor="end">0</text></g><g transform="translate(448.2,141.3)"><rect width="93.6" height="113.0" fill="#6450a5"/><g clip-path="url(#pc)"><g filter="url(#bl)"><path fill="#5d55a9" d="M73.4,10.9 68.1,9.1 60.4,9.4 53.6,11.4 46.6,15.4 43.6,18.4 39.9,23.6 34.9,34.6 24.6,50.4 21.1,58.9 15.6,64.9 11.6,70.4 9.9,74.4 8.6,79.9 8.4,86.9 9.6,93.4 11.1,97.9 14.1,103.1 17.1,106.1 24.9,109.1 31.9,109.1 39.9,107.1 48.9,102.1 53.1,98.1 73.6,73.6 83.1,58.9 85.6,53.6 88.4,44.9 89.1,38.6 88.6,30.4 86.6,24.1 84.4,20.1 79.1,14.6Z"/><path fill="#5958ac" d="M72.9,13.1 67.6,11.4 59.9,11.9 51.1,14.6 46.6,17.4 41.4,23.9 35.9,38.1 27.1,51.1 23.9,58.1 16.4,65.9 12.4,71.4 10.1,78.1 9.4,85.6 10.9,93.6 12.1,97.4 14.6,101.9 17.1,104.9 25.4,108.1 30.6,108.1 39.4,106.1 49.4,100.4 71.1,74.9 80.1,61.4 83.6,55.1 86.9,45.9 87.9,37.1 87.6,32.6 86.1,27.1 83.1,21.4 79.1,17.4Z"/><path fill="#555bae" d="M73.9,15.1 70.1,13.4 66.6,12.6 57.4,13.6 51.4,15.6 48.1,17.4 42.1,24.1 39.9,29.6 38.1,36.9 35.9,41.4 28.9,51.4 24.9,58.9 22.4,61.6 17.4,65.6 11.9,73.4 9.9,82.4 10.1,87.1 12.1,96.1 15.1,101.6 17.9,104.9 26.4,107.9 30.4,107.6 38.1,106.1 47.4,101.1 50.9,98.1 64.9,81.6 74.6,68.9 81.6,57.4 84.1,51.9 86.6,44.1 86.9,33.1 85.1,27.1 82.6,22.4 78.6,18.4Z"/><path fill="#505eb1" d="M76.6,17.9 70.9,14.6 68.4,13.9 62.4,13.6 59.1,14.1 48.6,17.6 42.6,24.1 40.1,31.1 38.4,39.1 36.1,43.4 29.4,52.9 25.4,59.6 17.1,66.4 12.1,73.4 10.1,82.4 10.1,85.6 12.4,96.1 15.9,102.4 17.9,104.6 25.4,107.4 28.4,107.6 38.1,105.9 48.1,100.4 63.6,82.6 73.1,70.6 82.6,54.6 86.4,43.6 86.4,32.6 85.1,28.9 82.6,23.4Z"/><path fill="#4b62b3" d="M75.1,17.6 70.1,15.1 66.9,14.4 58.6,14.9 48.4,18.1 42.6,24.6 40.6,30.6 39.6,37.9 36.9,44.1 26.9,58.9 24.1,61.6 19.4,64.4 12.4,73.1 10.1,83.4 12.4,95.6 16.4,102.9 17.9,104.4 26.1,107.4 28.9,107.4 37.6,105.9 47.4,100.6 49.9,98.6 73.4,69.9 82.6,54.1 86.1,43.9 86.1,32.6 83.9,26.6 81.9,22.9Z"/><path fill="#4665b6" d="M74.9,17.9 70.4,15.9 65.9,14.9 61.4,14.9 57.1,15.6 49.1,17.9 42.6,24.9 40.9,30.6 40.1,38.6 37.6,44.6 27.6,58.9 24.6,61.6 18.9,64.9 12.4,73.6 10.4,82.6 10.6,86.6 12.6,95.9 17.6,104.1 25.6,107.1 27.9,107.4 37.9,105.6 48.4,99.9 64.6,80.9 73.4,69.6 82.1,54.9 85.9,44.4 86.1,33.6 82.9,24.9 80.4,21.9Z"/><path fill="#4168b8" d="M75.6,18.6 68.6,15.9 63.1,15.1 59.6,15.4 48.6,18.4 43.1,24.4 40.9,31.4 40.4,39.9 37.6,46.1 28.1,59.1 25.4,61.4 19.1,64.9 13.6,71.6 12.4,74.1 10.4,83.4 12.6,95.6 16.4,102.4 17.9,104.1 26.1,107.1 28.9,107.1 37.6,105.6 48.1,99.9 63.9,81.6 72.4,70.9 81.1,56.4 85.9,43.9 85.9,32.9 82.1,23.9Z"/><path fill="#3c6bba" d="M77.1,19.9 73.4,17.6 65.4,15.6 60.6,15.4 48.9,18.4 43.1,24.6 41.1,30.9 40.6,40.9 38.1,46.6 29.1,58.6 25.6,61.4 19.6,64.6 13.4,72.1 12.4,74.4 10.6,82.6 10.6,85.4 12.9,95.9 17.6,103.9 25.6,106.9 28.1,107.1 37.9,105.4 47.1,100.4 49.6,98.4 72.6,70.4 82.4,53.6 85.6,44.4 85.9,41.9 85.6,32.4 81.9,23.6Z"/><path fill="#376ebd" d="M76.9,19.9 72.1,17.4 65.6,15.9 60.1,15.6 48.6,18.6 42.9,25.1 41.1,31.4 40.9,41.6 38.4,47.4 29.9,58.4 25.9,61.4 19.1,65.1 12.6,73.9 10.6,83.1 10.9,86.1 12.9,95.6 17.9,103.9 25.9,106.9 29.1,106.9 37.6,105.4 47.4,100.1 50.1,97.6 72.1,70.9 81.6,55.1 85.6,43.9 85.6,32.9 81.9,23.9Z"/><path fill="#3272bf" d="M74.9,18.6 66.1,16.1 62.6,15.6 59.4,15.9 49.1,18.4 43.1,24.9 41.4,30.6 41.1,42.4 38.9,47.6 35.6,52.1 29.1,59.4 19.6,64.9 12.9,73.4 10.9,82.4 10.9,85.6 13.1,96.1 17.6,103.6 25.4,106.6 28.6,106.9 38.1,105.1 47.6,99.9 62.6,82.6 72.4,70.4 81.9,54.4 85.6,43.4 85.6,33.4 82.9,26.1 81.1,23.1Z"/><path fill="#2f76c1" d="M74.6,18.6 71.1,17.4 63.6,15.9 60.1,15.9 49.4,18.4 43.1,25.1 41.4,31.1 41.4,42.6 38.9,48.6 30.4,58.6 19.1,65.4 12.9,73.6 10.9,82.9 10.9,85.1 13.1,95.9 17.9,103.6 26.6,106.9 37.9,105.1 47.4,99.9 49.9,97.6 72.6,69.9 81.9,54.1 85.4,44.1 85.6,38.9 85.4,32.6 82.1,24.6 80.6,22.9Z"/><path fill="#2c79c3" d="M81.1,23.4 73.4,18.1 64.6,16.1 60.6,15.9 49.1,18.6 43.4,24.9 41.4,31.9 41.4,44.4 39.9,47.9 36.9,52.1 31.6,57.9 27.4,60.9 19.6,65.1 14.4,71.4 12.9,74.1 10.9,84.6 13.1,95.6 17.6,103.4 26.1,106.6 29.1,106.6 36.6,105.4 39.6,104.1 48.4,99.1 66.9,77.1 72.6,69.6 80.9,55.9 85.4,43.9 85.4,32.9Z"/><path fill="#297dc4" d="M77.6,20.9 73.1,18.1 61.1,15.9 49.9,18.4 48.6,19.1 43.9,24.4 42.9,26.1 41.6,30.9 41.6,44.6 39.6,49.1 36.1,53.6 31.6,58.1 19.4,65.4 14.1,71.9 12.9,74.4 11.1,82.4 11.4,86.9 13.1,95.4 18.1,103.6 26.4,106.6 28.4,106.6 37.9,104.9 47.9,99.4 71.9,70.6 81.9,53.6 85.4,43.1 85.1,32.4 81.6,24.1Z"/><path fill="#2681c6" d="M77.1,20.6 72.9,18.1 63.4,16.1 60.1,16.1 49.1,18.9 43.6,24.9 41.6,31.4 41.9,44.4 41.4,46.6 39.6,49.9 36.9,53.4 31.9,58.1 19.9,65.1 15.4,70.4 13.1,73.9 11.1,82.9 11.4,86.4 13.4,95.6 16.4,101.1 18.4,103.6 27.6,106.6 37.6,104.9 46.9,99.9 50.4,96.6 72.1,70.1 81.4,54.6 85.1,44.1 85.1,32.6 81.6,24.4Z"/><path fill="#2384c8" d="M76.6,20.4 73.4,18.4 64.4,16.4 60.6,16.1 49.6,18.6 43.4,25.4 41.6,31.9 41.9,45.9 40.4,49.4 37.4,53.4 33.4,57.1 29.1,60.1 19.4,65.6 13.1,74.1 11.1,83.6 13.4,95.4 18.1,103.4 25.4,106.1 28.9,106.4 37.4,104.9 47.1,99.6 49.4,97.6 71.6,70.6 81.1,54.9 85.1,43.6 85.1,33.1 81.4,24.1Z"/><path fill="#2088ca" d="M74.6,19.1 65.4,16.6 62.1,16.1 49.4,18.9 43.6,25.1 41.9,30.9 42.1,45.1 41.9,47.1 40.6,49.6 37.6,53.6 34.6,56.4 28.9,60.4 19.9,65.4 14.1,72.4 13.1,74.6 11.4,82.9 11.9,87.9 13.4,95.1 18.4,103.4 26.6,106.4 37.6,104.6 46.9,99.6 49.9,96.9 71.9,70.1 81.4,54.1 84.9,44.4 85.1,33.6 81.9,25.1 80.9,23.6Z"/><path fill="#1d8ccb" d="M74.9,19.4 68.6,17.4 63.4,16.4 60.1,16.4 49.6,18.9 43.6,25.4 41.9,31.4 42.1,46.9 40.9,49.9 39.1,52.4 33.9,57.1 20.1,65.4 16.4,69.6 13.4,74.1 11.4,83.6 13.6,95.4 17.4,102.1 18.6,103.4 25.4,105.9 28.9,106.1 37.4,104.6 46.6,99.6 48.9,97.9 71.4,70.6 80.6,55.4 84.9,43.9 84.9,32.9 81.4,24.4Z"/><path fill="#1b8fca" d="M73.9,18.9 62.6,16.4 53.6,17.9 49.4,19.1 43.6,25.6 42.1,30.6 42.1,47.9 40.4,51.1 37.1,54.9 33.4,57.6 19.6,65.9 13.6,73.9 11.6,82.9 11.9,86.4 13.9,95.6 18.6,103.1 25.9,105.9 29.6,105.9 37.6,104.4 46.4,99.6 49.1,97.4 63.9,79.9 72.4,68.9 81.1,54.1 84.9,42.9 84.9,33.4 81.9,25.6 79.6,22.9Z"/><path fill="#1a92ca" d="M74.1,19.1 61.9,16.4 57.4,17.1 49.6,19.1 43.9,25.4 42.1,31.1 42.4,47.4 40.6,51.1 37.1,55.1 19.6,66.1 14.9,72.1 13.6,74.6 11.9,82.6 11.9,85.4 13.9,95.1 16.9,100.6 18.9,103.1 25.9,105.6 28.1,105.9 37.6,104.1 46.4,99.4 48.9,97.4 62.6,81.1 72.4,68.6 80.9,54.4 84.6,43.6 84.6,32.9 81.9,25.9 80.4,23.6Z"/><path fill="#1796c9" d="M76.9,21.1 72.6,18.6 63.1,16.6 60.4,16.6 49.9,19.1 44.1,25.4 42.1,32.1 42.4,48.1 40.4,51.9 37.4,55.1 20.4,65.9 15.6,71.6 13.9,74.9 12.1,83.1 12.6,87.9 14.1,95.4 18.6,102.9 26.1,105.4 29.6,105.4 37.4,103.9 46.6,98.9 49.1,96.6 62.4,81.1 71.1,70.1 80.1,55.4 84.4,43.9 84.4,32.6 81.1,24.6Z"/><path fill="#159bc9" d="M74.4,19.6 66.6,17.4 60.1,16.9 50.1,19.4 44.4,25.6 42.4,32.1 42.6,47.9 40.6,51.9 38.1,54.9 20.9,66.4 16.6,71.9 14.6,75.4 12.6,83.4 12.9,88.1 14.4,95.6 18.9,102.9 25.9,105.1 27.4,105.1 36.1,103.4 44.1,98.9 49.6,94.1 61.1,81.4 70.6,69.6 80.1,54.4 83.1,46.1 84.1,40.6 84.1,33.1 80.9,24.9 78.9,22.9Z"/><path fill="#12a1c7" d="M73.9,19.6 65.6,17.4 59.9,17.1 50.6,19.9 47.6,22.6 45.4,25.6 43.9,28.6 42.6,33.9 42.6,48.4 40.4,52.6 38.4,54.9 28.6,61.1 24.4,64.9 21.1,66.4 15.1,74.6 12.6,85.1 14.6,95.6 18.9,102.6 25.6,104.9 27.9,104.9 35.6,103.4 37.4,102.4 46.9,94.1 51.6,86.9 55.4,84.4 61.1,78.9 69.4,68.9 76.9,57.9 79.9,52.1 81.9,45.9 83.1,39.4 83.4,34.1 82.1,28.9 80.1,24.6Z"/><path fill="#15a6c0" d="M73.4,19.9 69.4,18.4 64.1,17.4 60.6,17.4 57.1,18.1 50.9,20.9 45.9,27.1 43.1,34.4 42.9,48.1 40.1,53.4 38.6,54.9 29.1,61.1 26.6,63.9 20.9,66.9 15.1,75.1 12.9,85.4 14.6,95.1 19.4,102.6 25.6,104.6 28.4,104.6 35.6,103.1 40.1,99.9 46.6,94.1 53.6,82.9 54.1,80.9 57.9,78.4 60.9,75.4 70.1,64.4 76.1,56.1 78.1,52.1 80.6,43.4 81.9,37.4 81.9,32.1 80.6,27.6 79.1,24.9 77.1,22.6Z"/><path fill="#18acb8" d="M73.1,20.6 68.9,18.6 62.4,17.9 55.9,19.4 51.6,21.9 47.1,27.9 44.4,33.4 43.1,38.1 42.9,48.6 40.1,53.6 29.9,60.9 27.9,63.6 21.4,66.9 15.6,74.6 13.1,85.1 15.1,95.6 19.4,102.4 25.6,104.4 28.4,104.4 34.6,103.1 36.6,102.4 43.9,96.4 46.6,93.6 53.9,81.6 54.6,77.6 58.9,74.1 74.4,55.1 76.4,50.9 79.9,37.4 80.4,31.9 78.6,26.1 77.6,24.6Z"/><path fill="#1bb1b0" d="M70.6,20.1 67.6,18.9 63.4,18.6 58.9,19.4 54.1,21.6 51.6,24.1 44.9,35.1 43.1,41.6 43.1,48.1 40.1,53.9 31.9,59.6 30.1,61.4 29.1,63.4 21.9,66.9 16.1,74.4 13.4,84.6 15.1,94.9 19.6,102.1 26.6,104.4 35.4,102.6 45.1,94.9 52.9,83.1 54.9,75.4 57.9,72.6 72.9,53.9 74.6,49.9 77.1,38.6 78.1,36.4 78.6,30.9 77.6,27.1 76.1,24.6 73.6,22.1Z"/><path fill="#1eb6a9" d="M68.9,20.4 66.4,19.6 60.1,20.1 56.6,21.6 53.9,23.9 45.1,37.1 43.6,41.1 43.1,48.6 40.1,54.1 32.9,59.1 31.4,60.6 29.9,63.4 21.4,67.6 16.4,74.6 13.9,83.4 13.9,85.9 15.4,94.6 19.9,101.9 26.4,104.1 33.6,102.9 37.1,101.4 44.4,95.1 46.6,92.6 53.1,81.9 55.1,73.4 71.4,53.1 73.1,49.1 73.4,46.6 76.9,34.1 76.9,30.1 75.9,26.9 74.6,24.9 72.4,22.6Z"/><path fill="#28baa7" d="M70.6,22.9 66.9,21.1 62.6,20.9 58.9,21.9 56.9,23.1 54.9,25.1 45.4,38.9 43.6,43.6 43.4,48.4 40.6,53.6 38.9,55.4 33.9,58.6 32.1,60.6 31.1,63.1 21.6,67.9 16.6,74.9 14.1,83.6 15.6,94.4 19.9,101.6 26.1,103.9 30.6,103.4 35.9,101.9 45.9,93.1 52.6,82.4 55.1,71.9 68.6,54.6 71.4,49.9 74.1,37.1 75.1,34.6 75.4,30.6 73.6,25.9Z"/><path fill="#33bea5" d="M68.9,23.4 66.1,22.4 63.1,22.1 60.1,22.9 57.9,24.1 46.4,39.1 43.9,44.6 43.4,48.9 40.6,53.9 33.6,59.4 32.1,62.9 21.9,68.1 17.4,74.4 14.6,83.1 14.6,86.1 16.1,94.6 20.1,101.4 26.9,103.9 35.4,101.9 45.4,93.4 52.4,82.1 55.1,70.1 68.1,53.1 70.4,48.9 72.9,36.1 73.9,33.6 73.9,30.4 71.9,25.9Z"/><path fill="#3ec1a4" d="M68.6,24.9 65.4,23.6 62.4,23.6 58.6,25.4 46.6,40.6 44.1,45.6 43.6,48.6 40.6,54.1 34.6,58.9 32.6,63.1 22.9,67.9 17.4,75.1 14.9,85.1 16.4,94.4 19.4,100.1 20.9,101.6 26.1,103.6 28.1,103.6 32.9,102.6 36.4,101.1 45.4,92.9 52.1,82.1 54.9,70.9 54.9,68.9 67.9,51.4 69.4,47.9 71.6,35.4 72.4,33.6 72.4,30.4 70.6,26.6Z"/><path fill="#49c5a2" d="M67.9,26.1 65.4,25.1 62.6,25.1 60.1,26.1 47.1,41.6 41.1,53.6 35.6,58.4 34.4,60.6 34.1,62.6 23.1,68.1 17.9,75.1 15.4,83.6 15.4,85.9 16.6,94.1 19.6,100.1 20.9,101.4 24.9,103.1 27.6,103.6 33.4,102.4 36.1,101.1 45.1,92.9 50.9,83.9 52.6,79.6 54.4,72.1 54.1,68.4 65.6,52.6 68.1,48.1 70.1,35.4 70.9,33.4 70.9,30.6 69.9,28.1Z"/><path fill="#54c8a1" d="M67.1,27.6 64.1,26.6 60.9,27.6 47.6,42.6 40.9,54.4 36.1,58.6 34.9,61.4 34.9,62.6 23.1,68.6 18.9,74.4 15.9,83.6 15.9,86.1 16.9,93.6 19.9,100.1 20.9,101.1 25.9,103.4 28.4,103.4 32.9,102.4 36.1,100.9 44.9,92.9 51.6,81.9 54.1,71.9 53.4,67.9 66.4,49.4 67.1,47.4 68.6,34.6 69.4,32.1 69.1,30.4Z"/><path fill="#62cca1" d="M65.4,29.1 63.4,28.9 61.9,29.6 49.9,41.6 46.6,45.6 41.4,54.1 37.4,57.9 36.1,59.9 35.4,63.1 32.4,63.9 23.1,69.1 19.9,73.6 18.4,76.4 16.4,83.9 16.4,86.6 17.4,93.9 20.1,100.1 21.1,101.1 26.4,103.4 28.1,103.4 34.6,101.6 36.6,100.4 44.6,92.9 50.4,83.9 52.4,78.9 53.9,71.6 52.9,67.1 58.9,58.9 65.9,47.6 66.9,39.9 67.1,31.4Z"/><path fill="#73d2a2" d="M63.6,33.6 61.6,33.4 58.4,35.1 48.9,44.4 41.9,54.1 38.1,57.9 36.9,59.9 36.1,63.1 31.9,64.4 25.9,67.6 22.4,70.6 18.9,76.4 17.1,82.9 16.9,87.4 17.6,93.4 19.9,99.4 21.4,101.1 26.6,103.4 34.9,101.4 44.4,92.9 51.1,81.9 52.4,77.9 53.4,70.4 52.1,66.9 59.6,55.9 64.9,46.6 65.1,36.9Z"/><path fill="#84d6a3" d="M62.1,37.4 60.6,36.9 57.4,38.4 54.6,40.4 47.9,47.1 43.6,52.9 38.4,58.6 37.4,60.6 37.4,62.9 36.9,63.4 33.1,64.1 26.4,67.6 22.9,70.6 21.1,73.1 19.1,77.1 17.4,84.1 17.4,87.6 18.4,94.6 20.4,99.9 22.1,101.4 25.9,103.1 28.4,103.1 34.6,101.4 44.1,92.9 51.1,81.4 53.1,72.9 52.9,69.6 51.4,66.4 57.6,57.1 63.6,46.1 63.4,40.4Z"/><path fill="#94dca4" d="M59.9,40.6 55.6,41.6 46.9,49.9 39.4,58.4 38.1,60.9 37.9,63.4 34.4,63.9 27.4,67.4 24.4,69.6 21.6,73.1 19.6,77.1 18.1,83.1 17.9,88.9 18.4,93.1 20.6,99.9 23.1,101.9 26.1,103.1 28.1,103.1 34.9,101.1 43.9,92.9 48.9,85.1 51.6,79.4 52.9,72.4 52.4,69.1 50.6,66.1 58.9,52.6 62.1,45.4 61.9,43.6Z"/><path fill="#a5e0a5" d="M58.9,43.6 57.1,43.6 50.4,48.1 40.1,58.6 39.1,60.6 38.9,63.6 34.4,64.1 27.1,67.9 23.9,70.6 21.6,73.9 19.9,77.9 18.4,84.4 18.4,89.9 20.4,99.1 22.9,101.6 26.4,103.1 27.9,103.1 34.6,101.1 43.9,92.6 49.1,84.4 51.4,79.4 52.4,73.9 52.1,69.6 49.6,65.9 53.6,59.6 57.4,52.4 59.6,45.4Z"/><path fill="#b5e5a8" d="M55.1,48.9 53.6,48.6 51.9,49.4 46.6,53.4 40.6,59.4 39.9,61.4 39.9,63.9 34.4,64.4 28.1,67.6 24.9,70.1 22.1,73.9 20.4,77.9 18.9,84.6 18.9,90.6 20.6,99.1 23.1,101.6 27.4,103.1 32.1,102.1 35.6,100.4 43.6,92.6 48.9,84.4 51.4,78.6 52.1,71.1 51.6,69.4 48.6,65.6 52.1,59.9 54.6,54.4 55.6,50.6Z"/><path fill="#c4eaab" d="M51.6,53.6 50.4,53.4 48.1,54.4 43.6,57.9 41.1,60.9 41.4,63.9 40.9,64.4 34.4,64.6 26.6,68.9 22.1,74.6 20.1,81.1 19.1,88.6 20.6,98.6 21.1,99.6 24.1,102.1 25.9,102.9 29.6,102.6 33.4,101.6 36.4,99.6 43.4,92.6 49.4,83.1 50.9,79.9 51.9,71.9 50.6,68.6 47.4,65.4 48.9,63.4 51.9,55.9Z"/><path fill="#d4efaf" d="M47.6,58.1 46.1,58.4 42.9,60.4 42.4,62.6 42.9,63.6 44.4,64.6 34.4,64.9 27.1,68.9 22.9,74.1 20.6,81.1 19.6,86.9 19.6,90.4 20.9,98.9 21.9,100.4 23.9,101.9 26.1,102.9 28.1,102.9 33.1,101.6 35.9,99.9 43.4,92.4 49.9,81.9 51.4,75.4 51.4,70.9 48.4,66.9 45.1,64.9 46.6,64.1 48.1,60.6 48.1,58.6Z"/><path fill="#e3f4b2" d="M45.9,65.6 43.9,65.1 34.4,65.1 26.9,69.4 22.9,74.9 20.4,84.9 20.1,91.4 21.1,98.9 23.6,101.6 25.6,102.6 27.6,102.9 34.4,100.9 43.1,92.4 47.9,84.9 50.4,80.1 51.1,71.1 49.6,68.9Z"/><path fill="#eef7b6" d="M45.6,65.9 42.9,65.4 34.4,65.4 27.4,69.4 23.1,75.1 20.6,85.9 20.4,90.4 21.1,98.1 22.1,100.1 24.1,101.9 27.1,102.9 32.9,101.6 34.9,100.4 42.9,92.4 48.9,82.9 50.4,79.1 50.9,71.4Z"/><path fill="#f3f8b9" d="M45.4,66.1 34.4,65.6 27.1,69.9 23.4,75.4 20.9,86.4 20.6,89.6 21.4,98.4 22.1,99.9 24.4,101.9 25.9,102.6 28.4,102.6 33.1,101.4 35.6,99.6 42.6,92.4 49.4,81.6 50.4,77.4 50.6,71.4Z"/><path fill="#f9f9bc" d="M45.6,66.6 40.9,65.9 34.4,65.9 27.9,69.6 24.1,74.6 22.9,77.6 20.9,89.4 21.6,98.6 24.9,102.1 26.1,102.6 29.4,102.4 32.9,101.4 35.1,99.9 42.4,92.4 48.9,82.1 49.9,79.6 50.4,71.6Z"/><path fill="#fcf7b7" d="M45.1,66.6 34.4,66.1 27.6,70.1 24.1,75.1 23.1,77.6 21.1,87.6 21.6,98.1 22.4,99.6 24.6,101.9 27.6,102.6 31.1,101.9 34.4,100.4 42.1,92.4 49.1,81.4 50.1,75.4 50.1,71.6Z"/><path fill="#fdf0a9" d="M45.4,67.1 44.1,66.6 34.4,66.4 27.6,70.4 24.1,75.6 21.4,87.4 21.9,98.4 23.1,100.4 25.1,102.1 28.6,102.4 33.9,100.6 41.9,92.4 48.9,81.4 49.6,77.9 49.9,71.9Z"/><path fill="#fde99b" d="M44.9,67.1 34.4,66.6 27.4,70.9 24.4,75.6 21.6,86.9 21.6,95.9 22.1,98.6 24.9,101.9 28.4,102.4 33.6,100.6 41.6,92.4 48.6,81.4 49.4,77.9 49.6,71.9Z"/><path fill="#fee28d" d="M44.9,67.6 43.4,67.1 34.6,66.9 28.1,70.6 25.6,73.9 23.9,77.1 21.6,87.6 22.1,98.1 24.6,101.6 27.9,102.4 33.4,100.6 41.4,92.4 48.1,81.9 48.9,79.9 49.4,72.4Z"/><path fill="#fed682" d="M44.4,67.9 37.1,67.1 34.1,67.4 28.1,70.9 25.1,75.1 23.9,77.9 21.9,86.9 22.1,97.6 23.4,100.1 25.1,101.9 28.9,102.1 33.1,100.6 40.9,92.6 48.1,81.4 49.1,72.9Z"/><path fill="#fdca78" d="M44.4,68.6 43.1,68.1 34.6,67.6 28.1,71.1 25.4,75.1 23.9,78.4 21.9,87.9 22.1,96.9 23.4,99.9 25.4,101.9 28.6,102.1 32.9,100.6 41.1,91.9 47.1,82.6 48.1,80.4 48.6,73.4Z"/><path fill="#fdbe6d" d="M43.6,69.1 37.4,68.1 33.9,68.4 28.6,71.1 27.1,72.6 24.6,76.9 22.1,86.9 22.1,95.9 23.4,99.6 25.1,101.6 28.1,102.1 32.9,100.4 40.6,92.1 47.1,82.1 47.9,78.4 47.9,73.4Z"/><path fill="#fcb362" d="M43.4,69.9 40.6,69.1 34.6,68.6 28.6,71.4 25.9,75.1 24.1,78.9 22.1,88.1 22.4,96.9 24.9,101.4 25.9,101.9 29.1,101.9 32.9,100.1 40.1,92.4 46.4,82.9 47.4,79.4 47.4,74.1Z"/><path fill="#fba55b" d="M43.1,70.6 36.6,69.1 33.9,69.4 28.9,71.6 25.9,75.6 24.1,79.6 22.4,87.1 22.6,97.4 25.1,101.4 26.1,101.9 28.9,101.9 32.9,99.9 40.6,91.4 46.6,81.6 46.9,74.9Z"/><path fill="#f99755" d="M42.4,71.1 35.6,69.6 34.1,69.9 29.1,71.9 25.6,76.6 22.6,86.6 22.6,96.6 24.1,100.1 25.6,101.6 29.4,101.6 32.9,99.6 39.9,91.9 45.1,83.9 46.1,81.6 46.1,75.1Z"/><path fill="#f8884f" d="M41.6,71.9 36.1,70.6 33.6,70.9 28.4,73.1 25.6,77.4 23.4,84.1 22.6,88.1 22.9,96.9 25.1,101.1 26.1,101.6 29.1,101.6 33.1,99.1 39.4,92.1 44.1,84.9 45.6,81.4 45.6,76.1Z"/><path fill="#f67a49" d="M41.1,72.9 34.1,71.9 28.6,74.1 26.1,77.6 24.6,80.9 22.9,87.6 22.9,95.9 23.4,97.9 25.6,101.4 29.6,101.4 33.1,98.9 38.6,92.6 43.9,84.6 44.9,81.9 44.9,76.6Z"/><path fill="#f26c46" d="M40.9,74.1 38.4,73.4 33.6,73.1 28.6,75.4 26.1,78.9 24.1,83.6 23.1,87.9 23.1,95.9 24.1,99.1 25.6,101.1 29.4,101.4 33.4,98.4 39.6,90.9 42.9,85.6 44.1,82.6 44.4,78.4 44.1,77.1Z"/><path fill="#ed5f46" d="M40.4,75.1 36.9,74.4 33.4,74.4 29.4,76.1 26.6,79.4 23.9,85.9 23.4,92.4 23.6,96.9 24.9,100.1 25.9,101.1 29.6,101.1 33.4,98.1 38.9,91.4 41.9,86.6 43.4,83.1 43.6,78.6 43.1,77.4Z"/><path fill="#e85146" d="M40.1,76.4 38.1,75.6 33.1,75.6 29.4,77.4 26.6,80.6 23.9,87.6 23.9,96.6 24.9,99.6 26.1,101.1 29.4,101.1 31.4,99.6 35.6,95.1 41.1,87.1 42.6,83.6 42.9,78.9Z"/><path fill="#e34446" d="M39.6,77.4 35.6,76.6 32.9,76.9 29.4,78.6 27.1,81.1 24.6,86.4 24.1,88.9 24.1,96.1 25.1,99.6 26.1,100.9 29.1,101.1 34.4,96.4 39.1,89.9 41.6,85.1 42.4,81.1 42.1,79.4Z"/><path fill="#de3646" d="M39.1,78.4 37.9,77.9 32.4,78.1 29.4,79.9 27.1,82.4 24.6,87.9 24.4,93.6 24.6,97.1 25.4,99.6 26.4,100.9 28.6,101.1 30.1,100.4 33.9,96.6 39.6,88.4 41.1,85.4 41.6,80.6Z"/><path fill="#d72b45" d="M37.6,78.9 32.4,79.1 28.9,81.4 27.1,83.4 24.9,88.1 24.6,95.9 25.6,99.6 26.4,100.6 29.1,100.9 33.6,96.6 38.1,90.4 40.4,86.4 41.1,83.6 41.1,81.1Z"/><path fill="#d02244" d="M39.9,80.6 37.4,79.4 32.6,79.6 29.6,81.4 27.4,83.6 25.1,88.1 24.9,96.1 26.4,100.4 29.4,100.6 33.4,96.6 36.9,91.9 40.4,85.6 40.9,81.6Z"/><path fill="#c91843" d="M39.6,80.9 37.1,79.6 33.1,79.9 31.6,80.4 27.9,83.4 25.4,88.1 25.1,96.1 26.6,100.4 29.4,100.4 33.4,96.4 36.6,91.9 40.4,84.9 40.6,81.9Z"/><path fill="#c20f42" d="M37.1,79.9 32.1,80.4 27.9,83.9 25.6,88.1 25.4,96.4 26.6,100.1 29.1,100.4 33.1,96.4 37.4,90.4 39.6,86.4 40.4,83.6 40.4,81.9Z"/><path fill="#bd0841" d="M38.6,80.9 36.9,80.1 32.1,80.6 28.1,83.9 25.9,88.1 25.6,96.6 26.6,99.9 29.1,100.1 32.9,96.4 37.1,90.4 39.6,85.9 40.1,82.1Z"/><path fill="#bc0541" d="M36.9,80.4 33.4,80.6 31.4,81.4 28.6,83.6 26.1,88.1 25.9,96.6 27.1,99.9 29.1,99.9 32.4,96.6 36.4,91.1 39.6,85.1 39.9,82.1Z"/><path fill="#ba0241" d="M39.1,81.9 36.4,80.6 32.6,81.1 28.4,84.6 26.4,88.4 26.1,96.4 27.4,99.6 28.9,99.6 30.4,98.4 36.6,90.1 39.1,85.6 39.6,83.4Z"/><path fill="#b90041" d="M35.9,83.6 34.6,83.4 30.9,86.4 28.6,90.6 28.6,95.6 36.4,84.4Z"/></g></g><path fill="none" stroke="#1c1c30" stroke-width="0.60" stroke-opacity="0.85" stroke-linejoin="round" d="M13.00,95.50C11.85,92.18 10.70,87.47 10.70,83.70C10.70,79.93 11.60,75.97 13.00,72.90C14.40,69.83 16.03,67.60 19.10,65.30C22.17,63.00 27.95,60.90 31.40,59.10C34.85,57.30 37.87,56.30 39.80,54.50C41.73,52.70 42.60,50.60 43.00,48.30C43.40,46.00 42.45,43.50 42.20,40.70C41.95,37.90 41.37,34.07 41.50,31.50C41.63,28.93 41.73,27.48 43.00,25.30C44.27,23.12 46.03,19.93 49.10,18.40C52.17,16.87 57.30,16.10 61.40,16.10C65.50,16.10 70.38,17.12 73.70,18.40C77.02,19.68 79.38,21.37 81.30,23.80C83.22,26.23 84.55,29.68 85.20,33.00C85.85,36.32 85.85,40.12 85.20,43.70C84.55,47.28 82.72,51.43 81.30,54.50C79.88,57.57 78.23,59.52 76.70,62.10C75.17,64.68 74.25,66.92 72.10,70.00C69.95,73.08 66.50,77.30 63.80,80.60C61.10,83.90 58.48,86.73 55.90,89.80C53.32,92.87 51.37,96.45 48.30,99.00C45.23,101.55 41.08,103.82 37.50,105.10C33.92,106.38 30.12,106.95 26.80,106.70C23.48,106.45 19.90,105.47 17.60,103.60C15.30,101.73 14.15,98.82 13.00,95.50Z"/><path fill="none" stroke="#4a4a30" stroke-width="0.55" stroke-opacity="0.80" stroke-linejoin="round" d="M48.3,83.0 47.8,83.7 47.4,84.4 47.0,85.0 46.7,85.6 46.3,86.2 45.9,86.8 45.6,87.3 45.3,87.8 44.9,88.4 44.6,88.9 44.3,89.4 44.0,89.9 43.6,90.4 43.3,91.0 43.0,91.5 42.6,92.1 42.3,92.6 41.9,93.2 41.4,93.6 40.9,94.1 40.4,94.6 39.9,95.1 39.4,95.7 38.8,96.2 38.2,96.8 37.6,97.5 36.9,98.2 36.2,98.9 35.4,99.7 34.5,100.6 33.5,101.6 32.5,102.2 31.4,102.4 30.3,102.6 29.2,102.8 28.0,103.1 26.7,103.3 25.3,103.6 24.5,102.7 23.7,101.7 22.9,100.8 22.2,100.0 21.5,99.1 21.3,97.7 21.2,96.3 21.1,95.1 21.1,93.9 21.0,92.8 20.9,91.8 20.9,90.9 20.8,90.0 20.8,89.2 20.7,88.3 20.9,87.5 21.0,86.7 21.2,85.9 21.3,85.1 21.4,84.4 21.6,83.7 21.7,83.0 21.8,82.4 21.9,81.7 22.1,81.1 22.2,80.4 22.3,79.8 22.4,79.1 22.5,78.4 22.7,77.8 22.8,77.1 22.9,76.4 23.2,75.7 23.6,75.1 23.9,74.5 24.3,73.9 24.7,73.2 25.1,72.6 25.5,71.9 25.9,71.3 26.4,70.6 26.9,69.8 27.6,69.4 28.3,69.0 29.0,68.6 29.7,68.2 30.4,67.7 31.2,67.3 31.9,66.8 32.7,66.3 33.6,65.8 34.5,65.3 35.4,65.4 36.4,65.4 37.3,65.5 38.2,65.5 39.2,65.6 40.1,65.7 41.1,65.7 42.2,65.8 43.2,65.9 44.4,65.9 45.4,66.2 46.2,67.0 46.9,67.7 47.6,68.4 48.4,69.2 49.1,69.9 49.8,70.6 50.6,71.4 50.5,72.7 50.4,73.9 50.3,75.0 50.2,76.0 50.1,77.0 50.0,78.0 49.9,78.9 49.9,79.8 49.8,80.6 49.2,81.5 48.7,82.3Z"/><rect x="77.8" y="82.0" width="5.4" height="27.5" fill="url(#cb)"/><text x="79.4" y="80.4" class="dose">Dose</text><text x="84.0" y="83.9" class="lt">600</text><text x="84.0" y="90.1" class="lt">500</text><text x="84.0" y="96.3" class="lt">400</text><text x="84.0" y="102.5" class="lt">300</text><text x="84.0" y="108.7" class="lt">200</text><line x1="-2.3" y1="0" x2="-2.3" y2="113.0" class="ax"/><line x1="0" y1="114.9" x2="93.6" y2="114.9" class="ax"/><text x="1.5" y="120.0" class="tl" text-anchor="middle">-5</text><text x="26.0" y="120.0" class="tl" text-anchor="middle">0</text><text x="50.5" y="120.0" class="tl" text-anchor="middle">5</text><text x="75.0" y="120.0" class="tl" text-anchor="middle">10</text><text x="-4.6" y="16.4" class="tl" text-anchor="end">25</text><text x="-4.6" y="33.2" class="tl" text-anchor="end">20</text><text x="-4.6" y="50.1" class="tl" text-anchor="end">15</text><text x="-4.6" y="66.9" class="tl" text-anchor="end">10</text><text x="-4.6" y="83.8" class="tl" text-anchor="end">5</text><text x="-4.6" y="100.6" class="tl" text-anchor="end">0</text></g><g transform="translate(23.0,267.0)"><rect width="93.6" height="113.0" fill="#6450a5"/><g clip-path="url(#pc)"><g filter="url(#bl)"><path fill="#5d55a9" d="M81.9,43.9 77.4,42.1 75.1,42.1 71.4,43.1 59.1,49.1 53.1,53.1 46.1,59.9 42.4,65.4 39.1,71.9 37.4,77.9 34.4,85.1 33.9,91.1 34.9,96.6 38.9,102.4 46.9,105.9 57.9,105.4 67.9,103.6 76.4,98.9 85.1,89.9 89.1,84.1 91.6,79.4 93.1,74.1 92.9,66.9 91.1,58.9 87.1,49.6Z"/><path fill="#5958ac" d="M81.6,44.1 77.1,42.4 74.1,42.6 69.9,44.1 58.9,49.6 53.6,53.1 46.1,60.4 42.1,66.4 39.4,72.1 37.6,78.1 34.9,84.1 34.1,88.4 35.4,97.1 39.4,102.4 47.1,105.6 57.1,105.1 67.6,103.4 75.9,98.9 85.1,89.4 88.6,84.4 91.6,78.6 92.6,75.1 92.6,68.4 90.6,58.1 88.1,52.1 86.1,48.9Z"/><path fill="#555bae" d="M81.6,44.4 77.1,42.6 71.4,43.6 58.9,49.9 53.6,53.4 46.4,60.4 42.4,66.4 39.4,72.6 38.1,77.4 34.9,85.1 34.4,90.9 35.4,96.6 39.4,102.1 46.9,105.4 57.6,104.9 67.9,103.1 75.9,98.6 84.1,90.4 88.4,84.4 91.4,78.6 92.4,75.1 92.4,67.6 90.6,58.9 86.9,50.1Z"/><path fill="#505eb1" d="M81.6,44.6 77.4,42.9 71.9,43.6 58.9,50.1 52.1,54.9 46.6,60.4 42.9,65.9 39.9,71.9 38.1,77.9 35.4,83.6 34.9,86.1 34.6,91.4 35.4,95.9 39.4,101.9 46.6,105.1 58.4,104.6 67.1,103.1 75.9,98.4 84.6,89.4 88.6,83.6 91.4,78.1 92.4,74.1 92.1,66.6 90.6,59.6 86.6,50.1Z"/><path fill="#4b62b3" d="M81.4,44.6 76.6,42.9 71.1,44.1 59.1,50.1 53.9,53.6 46.6,60.6 42.6,66.6 39.9,72.4 38.4,77.6 35.6,83.4 34.6,90.4 35.6,96.1 39.6,101.9 46.4,104.9 56.6,104.6 67.4,102.9 75.6,98.4 83.9,90.1 88.1,84.1 91.1,78.4 92.1,74.6 92.1,69.6 90.4,59.4 87.4,51.9Z"/><path fill="#4665b6" d="M81.4,44.9 76.9,43.1 72.1,43.9 59.9,49.9 52.9,54.6 46.6,60.9 43.1,66.1 40.1,72.1 38.4,78.1 35.9,83.1 34.9,87.9 34.9,90.9 35.9,96.4 39.9,101.9 46.9,104.9 57.6,104.4 67.6,102.6 75.6,98.1 83.9,89.9 88.4,83.4 90.9,78.4 91.9,74.9 91.9,68.1 90.1,59.1 86.4,50.4Z"/><path fill="#4168b8" d="M81.4,45.1 77.1,43.4 71.9,44.1 59.4,50.4 54.1,53.9 46.9,60.9 43.1,66.4 39.9,73.1 38.6,77.9 35.9,83.6 34.9,89.6 35.9,96.1 40.1,101.9 46.6,104.6 58.6,104.1 67.1,102.6 75.4,98.1 83.9,89.6 88.4,83.1 90.9,78.1 91.9,74.1 91.6,66.6 89.9,58.9 87.1,52.1Z"/><path fill="#3c6bba" d="M81.4,45.4 76.4,43.4 71.1,44.6 60.1,50.1 54.4,53.9 46.9,61.1 43.4,66.4 40.1,72.9 38.9,77.6 35.9,84.1 35.1,88.1 36.1,96.1 40.1,101.6 47.1,104.6 57.1,104.1 67.4,102.4 75.1,98.1 83.1,90.4 87.9,83.6 90.4,78.9 91.6,74.4 91.6,70.6 90.9,63.9 88.6,56.1 86.1,50.6Z"/><path fill="#376ebd" d="M81.6,45.9 76.4,43.6 72.1,44.4 59.6,50.6 53.6,54.6 46.9,61.4 43.4,66.6 40.6,72.1 38.6,78.6 36.4,83.1 35.4,87.6 36.1,95.9 40.4,101.6 46.9,104.4 58.1,103.9 66.6,102.4 75.1,97.9 84.4,88.4 87.9,83.4 90.4,78.4 91.4,74.9 91.4,68.6 89.6,59.4 87.1,53.1 85.6,50.4Z"/><path fill="#3272bf" d="M81.1,45.9 76.1,43.9 72.9,44.4 60.9,50.1 54.6,54.1 47.1,61.4 43.1,67.4 40.4,73.1 38.9,78.4 36.6,82.9 35.4,89.9 36.4,96.1 40.4,101.4 46.6,104.1 56.4,103.9 66.9,102.1 75.1,97.6 83.6,89.1 87.4,83.9 90.1,78.6 91.1,74.9 91.1,68.4 89.4,59.4 86.6,52.6Z"/><path fill="#2f76c1" d="M80.6,46.1 76.6,44.4 74.1,44.4 70.9,45.4 60.9,50.4 54.6,54.4 46.6,62.4 43.6,66.9 40.9,72.4 39.4,77.6 36.6,83.4 35.6,88.1 36.6,96.1 40.6,101.4 47.1,104.1 57.4,103.6 67.1,101.9 75.1,97.4 82.6,90.1 86.4,85.1 90.4,77.1 90.9,74.9 90.6,66.4 89.4,60.4 86.9,54.1 85.1,50.9Z"/><path fill="#2c79c3" d="M79.9,46.4 75.4,44.6 72.1,45.1 60.9,50.6 54.6,54.6 46.9,62.4 43.9,66.9 40.9,72.9 39.4,78.1 36.9,83.1 35.9,87.9 36.6,95.6 40.6,101.1 46.9,103.9 57.9,103.4 67.1,101.6 75.1,97.1 82.4,90.1 86.4,84.9 89.6,78.6 90.4,75.9 90.6,71.4 90.1,65.6 88.9,59.9 85.4,52.1Z"/><path fill="#297dc4" d="M80.1,47.4 75.1,45.1 71.6,45.6 60.1,51.4 54.4,55.1 47.4,62.1 41.4,72.1 36.4,86.1 36.1,91.4 36.6,94.9 40.6,100.9 46.9,103.6 56.1,103.4 67.1,101.4 75.9,96.1 82.1,90.1 86.1,84.9 89.6,77.9 90.1,75.4 89.9,66.6 88.6,60.6 85.4,53.1Z"/><path fill="#2681c6" d="M79.6,47.9 75.1,45.6 72.9,45.6 61.1,51.1 55.1,54.9 47.6,62.1 43.6,68.1 41.4,72.6 36.6,85.9 36.4,91.6 36.9,95.1 40.6,100.6 46.6,103.4 56.6,103.1 67.1,101.1 74.9,96.6 81.6,90.4 86.1,84.6 89.1,78.6 89.6,76.4 89.9,71.1 89.1,64.6 88.1,60.4 84.9,53.4Z"/><path fill="#2384c8" d="M79.1,48.4 74.6,46.1 70.9,46.6 60.4,51.9 54.9,55.4 47.4,62.9 43.9,68.1 41.4,73.1 39.9,78.4 37.6,82.9 36.4,89.6 37.4,95.9 41.4,100.9 47.6,103.4 57.1,102.9 66.4,101.1 75.6,95.6 82.1,89.4 85.9,84.6 89.1,77.4 89.4,69.4 87.6,60.4 84.4,53.6Z"/><path fill="#2088ca" d="M78.6,48.9 74.4,46.6 72.9,46.4 71.1,46.9 61.4,51.6 54.6,55.9 47.9,62.6 44.1,68.1 41.6,73.1 37.1,85.6 36.6,90.1 37.4,95.1 41.4,100.6 47.4,103.1 57.6,102.6 66.9,100.6 74.6,96.1 81.9,89.4 85.9,84.4 88.4,79.1 89.1,71.9 87.9,62.6 83.9,53.9Z"/><path fill="#1d8ccb" d="M78.9,49.9 73.4,46.9 70.6,47.4 60.6,52.4 55.4,55.6 47.6,63.4 42.1,72.4 40.4,78.1 37.9,83.4 37.1,86.9 36.9,90.4 37.6,95.4 41.4,100.4 47.1,102.9 57.9,102.4 66.9,100.4 75.1,95.4 81.4,89.6 85.6,84.4 88.1,79.1 88.6,75.9 88.6,69.9 87.6,63.4 83.9,54.9Z"/><path fill="#1b8fca" d="M78.1,50.1 73.4,47.4 71.4,47.4 61.1,52.4 55.1,56.1 48.1,63.1 42.1,72.9 40.6,78.1 38.4,82.6 37.6,85.4 37.1,90.6 37.9,95.4 41.4,100.1 46.9,102.6 58.1,102.1 66.1,100.4 74.4,95.6 82.1,88.4 85.4,84.4 88.1,77.6 88.4,71.1 87.1,62.6 83.4,55.1Z"/><path fill="#1a92ca" d="M78.1,50.9 72.9,47.6 70.9,47.9 61.6,52.4 54.9,56.6 47.9,63.9 42.4,72.9 41.1,77.4 38.6,82.6 37.4,87.9 38.1,95.4 41.9,100.1 46.9,102.4 56.4,102.1 66.1,100.1 74.6,95.1 81.6,88.6 85.1,84.4 87.4,79.6 87.9,77.1 87.9,69.9 86.9,63.1 82.6,54.9Z"/><path fill="#1796c9" d="M76.4,50.1 72.6,47.9 71.6,47.9 60.9,53.1 54.6,57.1 49.1,62.6 46.4,66.4 42.4,73.4 40.9,78.6 38.4,83.9 37.6,87.9 38.1,94.6 41.9,99.9 46.6,102.1 56.6,101.9 66.1,99.9 75.1,94.4 81.1,88.9 84.9,84.4 87.1,79.6 87.6,76.6 87.6,70.1 86.6,63.4 82.9,55.9Z"/><path fill="#159bc9" d="M76.9,51.1 72.6,48.4 70.1,48.9 61.6,53.1 55.6,56.9 49.4,62.9 42.9,73.1 41.6,77.6 38.9,83.4 37.9,88.4 38.6,94.9 42.1,99.6 47.1,101.9 53.4,101.9 57.9,101.4 66.4,99.4 73.9,94.9 78.9,90.6 84.1,84.9 86.6,79.9 87.1,77.6 87.1,69.9 86.1,63.1 81.9,55.4Z"/><path fill="#12a1c7" d="M73.1,49.1 70.4,49.1 61.9,53.4 55.9,57.1 50.1,62.6 45.6,68.9 43.1,73.6 42.1,77.4 39.6,82.4 38.4,87.4 38.9,94.6 41.6,98.6 42.9,99.6 47.6,101.6 52.6,101.6 58.6,100.9 65.9,99.1 73.9,94.4 78.9,90.1 83.9,84.6 86.6,78.6 86.9,71.4 85.6,62.9 82.1,56.4 78.1,52.6Z"/><path fill="#15a6c0" d="M75.9,51.4 71.4,49.1 62.6,53.4 55.9,57.6 49.6,63.9 46.4,68.4 43.6,73.4 41.9,78.9 39.9,82.6 38.6,87.6 39.1,94.4 42.4,98.9 47.9,101.4 56.6,100.9 65.6,98.9 73.9,93.9 78.6,89.9 83.4,84.6 86.1,79.1 86.4,70.4 85.4,63.4 81.6,56.4Z"/><path fill="#18acb8" d="M72.4,49.6 70.9,49.6 61.6,54.4 56.1,57.9 50.1,63.9 46.4,69.1 40.1,82.6 38.9,87.6 39.4,94.4 43.1,99.1 47.6,101.1 53.4,101.1 65.4,98.6 73.4,93.9 78.1,89.9 83.6,83.6 85.9,78.6 86.1,71.4 85.1,63.9 81.4,56.6Z"/><path fill="#1bb1b0" d="M71.9,49.9 69.9,50.4 56.1,58.4 50.4,64.1 47.1,68.6 40.6,82.1 39.1,87.6 39.4,93.9 43.1,98.9 47.4,100.9 53.9,100.9 65.4,98.4 73.9,93.1 77.1,90.4 83.1,83.9 85.4,79.1 85.6,70.4 84.6,63.6 81.4,57.4 76.9,53.1Z"/><path fill="#1eb6a9" d="M72.6,50.6 70.6,50.4 63.4,54.1 56.4,58.6 50.6,64.4 47.4,68.9 40.4,83.4 39.1,88.4 39.6,94.1 43.4,98.9 47.9,100.9 53.4,100.9 65.6,98.1 72.4,94.1 77.1,90.1 82.6,84.1 85.1,78.9 85.4,70.6 84.4,63.9 81.1,57.6 76.9,53.6Z"/><path fill="#28baa7" d="M73.1,51.4 71.6,50.6 70.4,50.9 63.6,54.4 56.6,58.9 50.6,64.9 47.1,69.9 40.9,82.6 39.4,87.6 39.6,93.9 43.1,98.6 47.4,100.6 52.1,100.9 58.9,99.9 65.9,97.9 73.4,93.1 76.9,90.1 82.4,84.1 84.9,78.9 85.1,70.9 84.1,64.4 80.6,57.6Z"/><path fill="#33bea5" d="M73.6,52.1 71.9,51.1 70.6,51.1 60.9,56.4 55.4,60.4 50.6,65.4 47.9,69.1 40.6,83.6 39.4,88.4 39.6,93.6 41.6,96.9 43.4,98.6 47.6,100.6 53.6,100.6 59.6,99.6 65.6,97.9 71.9,94.1 76.1,90.6 82.6,83.4 84.1,80.4 84.9,76.6 84.9,70.6 83.9,64.4 80.6,58.4Z"/><path fill="#3ec1a4" d="M73.4,52.4 71.9,51.6 70.4,51.6 58.9,58.1 56.1,60.1 51.4,64.9 47.4,70.4 40.9,83.4 39.4,89.4 39.9,94.1 42.1,97.4 43.9,98.9 47.9,100.6 53.4,100.6 65.4,97.9 72.4,93.6 77.6,89.1 82.1,83.9 84.1,79.9 84.6,77.6 84.9,72.1 83.6,64.6 80.1,58.4Z"/><path fill="#49c5a2" d="M73.1,52.6 70.4,52.1 60.1,57.6 53.4,63.1 47.6,70.4 41.1,83.1 39.6,87.9 39.9,93.9 43.6,98.6 48.1,100.6 52.9,100.6 65.1,97.9 73.1,92.9 78.9,87.6 82.1,83.6 84.1,79.4 84.6,75.6 84.6,71.6 83.6,65.6 80.4,59.4Z"/><path fill="#54c8a1" d="M73.4,53.1 71.4,52.4 70.1,52.6 59.6,58.4 56.1,60.9 51.9,65.1 47.9,70.4 43.9,78.9 41.1,83.4 39.6,88.4 39.9,93.9 43.6,98.6 47.6,100.4 49.9,100.6 58.6,99.6 65.4,97.6 71.4,94.1 75.6,90.6 82.1,83.4 83.6,80.4 84.4,76.9 84.4,71.4 83.1,64.9 79.9,59.4Z"/><path fill="#62cca1" d="M73.1,53.4 72.1,52.9 69.9,53.1 60.1,58.4 54.9,62.4 48.1,70.4 41.1,83.6 39.6,88.9 39.9,93.6 43.4,98.4 47.6,100.4 53.9,100.4 58.4,99.6 65.9,97.4 72.9,92.9 78.4,87.9 81.6,83.9 83.9,79.1 84.4,72.4 83.1,65.9 80.1,60.4Z"/><path fill="#73d2a2" d="M72.6,53.4 70.4,53.4 64.9,55.9 57.9,60.4 52.4,65.4 47.9,71.1 41.1,83.9 39.9,87.9 39.6,91.6 40.1,94.1 43.9,98.6 47.9,100.4 53.4,100.4 58.1,99.6 65.1,97.6 72.4,93.1 75.6,90.4 81.4,84.1 83.6,79.6 84.1,76.1 84.1,71.9 82.9,65.9 79.6,60.4Z"/><path fill="#84d6a3" d="M72.4,53.6 70.9,53.6 66.1,55.6 57.4,61.1 53.6,64.4 48.1,71.1 40.9,84.6 39.9,88.1 39.9,93.4 41.9,96.6 43.6,98.4 48.1,100.4 53.1,100.4 64.9,97.6 72.9,92.6 77.6,88.4 81.4,83.9 83.4,79.9 84.1,73.1 82.9,66.9 81.9,64.1 79.9,61.4Z"/><path fill="#94dca4" d="M72.9,54.4 69.9,54.4 63.4,57.4 55.6,62.9 48.4,71.1 40.9,84.9 39.9,88.4 40.1,93.9 43.6,98.4 48.4,100.4 52.9,100.4 58.9,99.4 65.4,97.4 72.1,93.1 75.9,89.9 80.9,84.4 83.1,80.1 83.9,75.4 83.9,72.6 82.4,66.1 80.4,62.6Z"/><path fill="#a5e0a5" d="M72.6,54.6 71.1,54.4 60.9,59.4 54.9,63.9 48.1,71.9 40.9,85.1 39.9,88.6 40.1,93.9 44.1,98.6 48.6,100.4 52.4,100.4 58.6,99.4 65.1,97.4 72.6,92.6 80.9,84.1 83.1,79.6 83.6,76.1 83.6,72.6 82.1,66.4 81.1,64.1Z"/><path fill="#b5e5a8" d="M72.1,54.9 70.1,55.1 64.4,57.6 55.4,63.9 48.4,71.9 41.1,84.6 39.9,89.1 40.1,93.6 43.4,98.1 47.6,100.1 53.9,100.1 60.4,98.9 65.6,97.1 71.9,93.1 77.6,87.9 80.6,84.1 82.6,80.4 83.4,76.4 83.4,72.9 81.9,66.9 80.4,63.9 74.6,58.1Z"/><path fill="#c4eaab" d="M72.1,55.6 70.4,55.6 61.4,59.9 55.4,64.4 47.9,73.1 41.1,84.9 39.9,89.6 40.1,93.6 43.9,98.4 47.9,100.1 53.6,100.1 64.9,97.4 72.6,92.4 77.6,87.6 80.4,84.1 82.6,79.4 83.1,73.6 80.6,65.1 73.6,57.9Z"/><path fill="#d4efaf" d="M71.6,56.6 70.4,56.4 66.9,57.6 60.4,61.1 54.6,65.6 48.6,72.4 42.1,83.1 40.1,88.1 40.1,93.4 43.6,98.1 47.9,100.1 53.4,100.1 59.1,99.1 64.6,97.4 71.9,92.9 79.4,85.1 82.1,79.4 82.4,73.9 79.9,65.9Z"/><path fill="#e3f4b2" d="M70.6,57.6 66.1,58.6 60.1,61.9 55.4,65.6 48.6,72.9 41.4,84.6 40.1,88.4 40.1,93.4 43.6,98.1 48.1,100.1 53.4,100.1 59.9,98.9 65.1,97.1 71.4,93.1 78.6,85.6 80.9,81.4 81.6,75.1 80.4,70.4 78.4,65.9Z"/><path fill="#eef7b6" d="M70.1,58.9 68.6,58.6 66.6,59.1 60.6,62.1 54.6,66.9 48.4,73.6 41.9,83.9 40.4,87.6 40.1,93.1 43.4,97.9 48.1,100.1 53.1,100.1 59.6,98.9 64.9,97.1 67.6,95.6 72.4,92.1 77.1,87.1 80.1,81.4 80.6,75.1 78.4,67.9Z"/><path fill="#f3f8b9" d="M69.4,59.9 66.9,59.9 64.6,60.6 59.4,63.6 54.1,67.9 48.1,74.4 42.1,83.6 40.4,87.9 40.1,92.9 43.4,97.9 48.4,100.1 52.6,100.1 59.6,98.9 67.1,95.9 71.9,92.4 76.6,87.1 79.4,80.9 79.6,75.6 76.6,67.4 72.4,62.4Z"/><path fill="#f9f9bc" d="M68.4,60.9 65.1,61.1 61.1,63.1 54.9,67.9 47.4,75.9 41.4,85.1 40.1,89.4 40.4,93.6 43.9,98.1 49.1,100.1 54.1,99.9 59.4,98.9 65.1,96.9 71.6,92.4 75.4,88.1 78.1,82.9 78.6,75.9 76.1,68.6 71.9,63.4Z"/><path fill="#fcf7b7" d="M70.9,63.9 67.1,61.9 63.1,62.6 56.1,67.4 47.9,75.6 41.6,84.9 40.4,88.4 40.4,93.6 43.9,98.1 47.6,99.9 53.9,99.9 60.1,98.6 66.4,96.1 69.9,93.6 73.6,89.9 77.4,82.6 77.9,76.9 74.9,68.6Z"/><path fill="#fdf0a9" d="M70.1,64.6 67.1,63.1 63.6,63.1 55.9,68.1 47.6,76.4 41.9,84.6 40.4,88.6 40.4,93.4 43.6,97.9 47.9,99.9 53.6,99.9 59.1,98.9 66.1,96.1 69.9,93.4 73.1,89.9 76.4,83.4 76.9,77.1 74.1,69.6Z"/><path fill="#fde99b" d="M69.4,65.4 65.9,64.1 62.9,64.1 55.4,69.1 46.6,78.1 41.4,85.6 40.4,88.9 40.4,93.4 43.6,97.9 47.9,99.9 53.4,99.9 58.9,98.9 66.4,95.9 71.6,91.1 75.4,84.4 75.9,77.4 73.1,70.1Z"/><path fill="#fee28d" d="M68.4,66.1 64.4,65.1 62.4,65.1 55.9,69.4 45.4,80.1 41.6,85.4 40.4,89.1 40.6,93.9 43.4,97.6 48.1,99.9 53.4,99.9 58.6,98.9 66.1,95.9 70.6,91.6 74.1,85.4 75.1,79.1 72.4,71.1Z"/><path fill="#fed682" d="M67.6,67.9 65.6,67.1 61.6,66.9 59.1,68.1 51.9,73.9 43.9,82.4 41.9,85.1 40.6,88.1 40.4,93.1 42.4,96.4 44.1,98.1 48.4,99.9 53.1,99.9 58.6,98.9 65.4,96.1 69.4,92.1 72.9,85.6 73.4,79.1 70.6,71.4Z"/><path fill="#fdca78" d="M67.9,70.9 63.9,68.9 60.4,69.1 58.4,69.9 52.6,73.9 46.1,80.1 41.9,85.4 40.4,89.6 40.6,93.6 43.9,97.9 48.4,99.9 52.9,99.9 62.1,97.6 65.1,96.1 66.9,94.4 70.9,88.1 71.6,81.9 70.9,76.4 68.9,71.9Z"/><path fill="#fdbe6d" d="M67.4,71.6 63.9,69.9 57.9,70.6 51.4,75.4 44.6,82.1 41.6,85.9 40.4,89.9 40.6,93.6 43.9,97.9 48.9,99.9 54.1,99.6 61.9,97.6 66.4,94.6 67.9,91.4 69.6,89.6 70.6,86.1 70.4,77.4 68.4,72.6Z"/><path fill="#fcb362" d="M67.1,71.9 63.6,70.1 58.1,70.9 52.6,74.6 44.9,82.1 41.9,85.6 40.4,90.4 40.6,93.6 43.6,97.6 47.9,99.6 53.9,99.6 59.9,98.4 64.1,96.4 65.9,94.9 67.4,91.6 69.9,88.6 70.4,85.4 70.1,77.6 68.1,72.9Z"/><path fill="#fba55b" d="M67.1,72.1 63.6,70.4 57.9,71.1 50.9,76.4 41.9,85.9 40.4,90.6 40.6,93.4 43.4,97.4 47.9,99.6 53.6,99.6 61.6,97.6 65.9,94.6 67.6,90.9 69.9,88.1 70.1,85.9 69.9,77.6Z"/><path fill="#f99755" d="M66.9,72.1 63.9,70.6 61.1,70.6 56.9,71.9 51.6,75.9 42.1,85.6 40.6,89.4 40.6,93.4 44.1,97.9 48.1,99.6 53.4,99.6 60.9,97.9 65.9,94.4 67.1,91.4 69.4,88.9 69.9,86.6 69.9,78.1 68.1,73.6Z"/><path fill="#f8884f" d="M66.6,72.1 63.4,70.6 57.1,71.9 52.1,75.6 41.9,86.1 40.9,88.6 40.6,93.1 43.9,97.6 48.1,99.6 53.1,99.6 60.1,98.1 64.1,95.9 65.6,94.4 67.1,91.1 69.4,88.6 69.9,85.1 69.6,77.9 67.9,73.4Z"/><path fill="#f67a49" d="M67.1,72.6 63.6,70.9 61.4,70.9 57.4,71.9 52.6,75.4 42.4,85.6 40.6,89.9 40.6,93.1 43.9,97.6 48.4,99.6 52.9,99.6 60.6,97.9 65.1,94.9 67.1,90.9 69.1,88.9 69.6,86.4 69.6,78.4Z"/><path fill="#f26c46" d="M66.9,72.6 63.4,70.9 58.1,71.6 51.4,76.6 42.1,86.1 40.6,90.4 40.9,93.6 43.6,97.4 47.6,99.4 52.6,99.6 59.9,98.1 62.4,96.9 65.4,94.4 66.6,91.4 69.1,88.4 69.6,84.9 69.4,77.9Z"/><path fill="#ed5f46" d="M66.6,72.6 63.6,71.1 61.1,71.1 57.4,72.1 52.4,75.9 42.9,85.4 41.4,87.9 40.6,92.1 41.4,94.4 44.1,97.6 47.9,99.4 53.9,99.4 60.9,97.6 65.4,94.1 66.6,91.1 68.6,89.1 69.4,86.4 69.4,78.4 67.9,74.4Z"/><path fill="#e85146" d="M66.9,72.9 63.4,71.1 57.6,72.1 52.9,75.6 42.4,86.1 40.9,89.6 40.9,93.4 44.1,97.6 47.9,99.4 53.6,99.4 60.1,97.9 64.9,94.6 66.4,91.4 68.9,88.4 69.4,85.1 69.1,77.9Z"/><path fill="#e34446" d="M66.6,72.9 63.6,71.4 61.1,71.4 57.4,72.4 51.9,76.6 42.1,86.6 40.9,89.9 40.9,93.1 43.9,97.4 48.1,99.4 53.4,99.4 59.9,97.9 65.1,94.1 66.4,91.1 68.4,89.1 69.1,86.6 69.1,78.4Z"/><path fill="#de3646" d="M66.4,72.9 63.1,71.4 57.6,72.4 52.6,76.1 42.6,86.1 41.1,89.4 40.9,93.1 43.9,97.4 48.1,99.4 53.1,99.4 60.4,97.6 65.1,93.9 66.4,90.9 68.6,88.4 69.1,85.4 68.9,77.9Z"/><path fill="#d72b45" d="M66.1,72.9 62.6,71.4 57.4,72.6 53.1,75.9 42.4,86.6 40.9,90.6 40.9,92.9 44.4,97.6 48.6,99.4 54.1,99.1 60.1,97.6 65.1,93.6 66.1,91.1 68.4,88.6 68.9,86.6 68.9,78.4 67.6,74.9Z"/><path fill="#d02244" d="M66.4,73.1 63.1,71.6 57.6,72.6 52.4,76.6 43.1,85.9 41.4,89.1 40.9,91.9 41.4,93.9 44.1,97.4 47.9,99.1 53.9,99.1 59.9,97.6 64.6,94.1 66.1,90.9 68.4,88.4 68.9,85.4 68.9,78.9Z"/><path fill="#c91843" d="M66.1,73.1 63.4,71.9 57.9,72.6 52.9,76.4 42.9,86.4 41.1,90.4 41.1,93.1 43.9,97.1 48.1,99.1 53.4,99.1 59.6,97.6 64.6,93.9 66.1,90.6 68.1,88.6 68.6,86.4 68.6,78.4 67.1,74.4Z"/><path fill="#c20f42" d="M66.1,73.4 63.1,71.9 58.1,72.6 53.4,76.1 42.9,86.6 41.4,89.9 41.1,92.9 44.4,97.4 48.4,99.1 53.1,99.1 59.9,97.4 64.6,93.6 65.6,91.1 68.1,88.4 68.6,84.6 68.4,78.1 66.9,74.1Z"/><path fill="#bd0841" d="M65.9,73.4 63.1,72.1 61.1,72.1 57.6,73.1 53.4,76.4 42.9,86.9 41.1,91.9 41.4,93.4 43.9,96.9 47.9,98.9 53.9,98.9 59.4,97.4 64.4,93.6 65.9,90.4 67.9,88.4 68.4,85.9 68.4,78.6 66.9,74.6Z"/><path fill="#bc0541" d="M65.9,73.6 63.4,72.4 60.9,72.4 57.1,73.6 53.4,76.6 43.1,86.9 41.4,90.9 41.4,93.1 44.4,97.1 48.1,98.9 53.1,98.9 58.9,97.4 64.4,93.4 65.6,90.4 67.6,88.4 68.1,86.1 68.1,78.4Z"/><path fill="#ba0241" d="M63.1,72.6 61.1,72.6 57.6,73.6 54.1,76.4 43.6,86.6 41.6,90.9 41.6,93.1 44.4,96.9 48.1,98.6 53.4,98.6 59.9,96.6 64.1,93.1 65.1,90.6 67.4,88.4 67.9,85.6 67.9,78.6 66.4,74.6Z"/><path fill="#b90041" d="M63.9,76.4 61.9,75.4 59.6,75.9 54.9,79.9 45.6,89.1 44.1,92.9 46.1,95.4 50.9,97.1 57.6,94.4 61.9,90.9 63.1,87.9 65.4,85.9 65.6,80.9Z"/></g></g><path fill="none" stroke="#1c1c30" stroke-width="0.60" stroke-opacity="0.85" stroke-linejoin="round" d="M72.00,44.10C73.73,43.43 74.57,43.03 76.10,43.20C77.63,43.37 79.50,43.82 81.20,45.10C82.90,46.38 84.92,48.65 86.30,50.90C87.68,53.15 88.68,56.05 89.50,58.60C90.32,61.15 90.87,63.63 91.20,66.20C91.53,68.77 91.62,72.03 91.50,74.00C91.38,75.97 91.12,76.47 90.50,78.00C89.88,79.53 89.10,81.13 87.80,83.20C86.50,85.27 84.75,88.02 82.70,90.40C80.65,92.78 78.07,95.55 75.50,97.50C72.93,99.45 70.20,101.07 67.30,102.10C64.40,103.13 60.65,103.35 58.10,103.70C55.55,104.05 53.87,104.08 52.00,104.20C50.13,104.32 48.90,104.85 46.90,104.40C44.90,103.95 41.82,102.90 40.00,101.50C38.18,100.10 36.83,98.08 36.00,96.00C35.17,93.92 35.00,91.08 35.00,89.00C35.00,86.92 35.40,85.33 36.00,83.50C36.60,81.67 37.90,79.78 38.60,78.00C39.30,76.22 39.43,74.70 40.20,72.80C40.97,70.90 42.02,68.65 43.20,66.60C44.38,64.55 45.58,62.53 47.30,60.50C49.02,58.47 51.45,56.10 53.50,54.40C55.55,52.70 57.57,51.50 59.60,50.30C61.63,49.10 63.63,48.23 65.70,47.20C67.77,46.17 70.27,44.77 72.00,44.10Z"/><path fill="none" stroke="#1c1c30" stroke-width="0.50" stroke-opacity="0.70" stroke-linejoin="round" d="M72.00,47.50C73.77,47.65 75.55,49.58 77.30,50.90C79.05,52.22 81.00,53.48 82.50,55.40C84.00,57.32 85.45,59.73 86.30,62.40C87.15,65.07 87.43,68.63 87.60,71.40C87.77,74.17 87.77,76.82 87.30,79.00C86.83,81.18 86.02,82.67 84.80,84.50C83.58,86.33 81.88,88.17 80.00,90.00C78.12,91.83 75.83,93.87 73.50,95.50C71.17,97.13 68.58,98.78 66.00,99.80C63.42,100.82 60.33,101.20 58.00,101.60C55.67,102.00 53.92,102.10 52.00,102.20C50.08,102.30 48.25,102.60 46.50,102.20C44.75,101.80 42.92,101.00 41.50,99.80C40.08,98.60 38.70,96.80 38.00,95.00C37.30,93.20 37.25,90.92 37.30,89.00C37.35,87.08 37.72,85.33 38.30,83.50C38.88,81.67 40.13,79.75 40.80,78.00C41.47,76.25 41.55,74.75 42.30,73.00C43.05,71.25 44.13,69.33 45.30,67.50C46.47,65.67 47.68,63.83 49.30,62.00C50.92,60.17 53.05,58.03 55.00,56.50C56.95,54.97 59.05,53.88 61.00,52.80C62.95,51.72 64.87,50.88 66.70,50.00C68.53,49.12 70.23,47.35 72.00,47.50Z"/><path fill="none" stroke="#4a4a30" stroke-width="0.55" stroke-opacity="0.75" stroke-linejoin="round" d="M72.00,54.40C74.02,54.43 73.27,56.83 74.80,58.60C76.33,60.37 79.72,62.43 81.20,65.00C82.68,67.57 83.40,71.50 83.70,74.00C84.00,76.50 83.62,78.08 83.00,80.00C82.38,81.92 81.33,83.67 80.00,85.50C78.67,87.33 76.83,89.33 75.00,91.00C73.17,92.67 71.25,94.17 69.00,95.50C66.75,96.83 64.17,98.08 61.50,99.00C58.83,99.92 55.58,100.58 53.00,101.00C50.42,101.42 47.87,101.58 46.00,101.50C44.13,101.42 42.83,101.25 41.80,100.50C40.77,99.75 40.18,98.58 39.80,97.00C39.42,95.42 39.30,93.00 39.50,91.00C39.70,89.00 40.03,87.17 41.00,85.00C41.97,82.83 44.07,80.22 45.30,78.00C46.53,75.78 46.87,73.93 48.40,71.70C49.93,69.47 52.12,66.82 54.50,64.60C56.88,62.38 59.78,60.10 62.70,58.40C65.62,56.70 69.98,54.37 72.00,54.40Z"/><path fill="none" stroke="#6a4a3a" stroke-width="0.50" stroke-opacity="0.70" stroke-linejoin="round" d="M62.00,65.00C64.15,64.45 66.70,65.13 68.40,66.20C70.10,67.27 71.13,69.27 72.20,71.40C73.27,73.53 74.50,76.73 74.80,79.00C75.10,81.27 74.63,83.00 74.00,85.00C73.37,87.00 72.33,89.08 71.00,91.00C69.67,92.92 67.83,95.03 66.00,96.50C64.17,97.97 62.33,98.88 60.00,99.80C57.67,100.72 54.58,101.58 52.00,102.00C49.42,102.42 46.42,102.47 44.50,102.30C42.58,102.13 41.47,101.80 40.50,101.00C39.53,100.20 39.05,99.00 38.70,97.50C38.35,96.00 38.10,94.00 38.40,92.00C38.70,90.00 39.32,87.58 40.50,85.50C41.68,83.42 43.83,81.33 45.50,79.50C47.17,77.67 48.83,76.17 50.50,74.50C52.17,72.83 53.58,71.08 55.50,69.50C57.42,67.92 59.85,65.55 62.00,65.00Z"/><rect x="5.1" y="6.3" width="5.8" height="27.5" fill="url(#cb)"/><text x="6.0" y="4.9" class="dose">Dose</text><text x="11.7" y="8.1" class="lt">150</text><text x="11.7" y="17.8" class="lt">100</text><text x="11.7" y="28.5" class="lt">50</text><line x1="-2.3" y1="0" x2="-2.3" y2="113.0" class="ax"/><line x1="0" y1="114.9" x2="93.6" y2="114.9" class="ax"/><text x="14.5" y="120.0" class="tl" text-anchor="middle">-50</text><text x="45.0" y="120.0" class="tl" text-anchor="middle">0</text><text x="75.5" y="120.0" class="tl" text-anchor="middle">50</text><text x="-4.6" y="23.6" class="tl" text-anchor="end">100</text><text x="-4.6" y="62.1" class="tl" text-anchor="end">50</text><text x="-4.6" y="100.6" class="tl" text-anchor="end">0</text></g><g transform="translate(129.2,267.0)"><rect width="93.6" height="113.0" fill="#6450a5"/><g clip-path="url(#pc)"><g filter="url(#bl)"><path fill="#5d55a9" d="M77.6,64.1 69.6,59.4 58.4,58.6 48.6,61.4 40.4,66.9 39.1,68.1 35.1,76.1 34.4,82.1 34.4,87.4 35.6,94.1 39.1,100.1 44.9,103.1 51.9,101.9 62.6,96.1 72.6,89.6 79.9,82.1 82.1,74.1 81.9,71.1 79.1,65.6Z"/><path fill="#5958ac" d="M78.1,64.9 69.4,59.6 58.6,58.9 48.9,61.6 40.6,67.1 38.9,69.1 35.4,76.4 34.6,82.9 34.6,86.9 35.9,93.9 39.1,99.6 40.9,101.1 44.1,102.6 51.6,101.6 62.9,95.6 72.1,89.6 79.6,81.9 80.6,79.4 81.9,72.1Z"/><path fill="#555bae" d="M77.1,64.4 69.4,59.9 58.6,59.1 48.9,61.9 39.6,68.4 35.6,76.4 34.9,82.6 34.9,86.9 36.1,94.1 39.6,99.9 44.1,102.4 46.9,102.4 51.9,101.4 61.1,96.4 72.4,89.1 79.4,81.9 81.6,73.9 81.4,71.4 78.9,66.4Z"/><path fill="#505eb1" d="M77.1,64.6 69.4,60.1 58.4,59.4 48.9,62.1 40.6,67.6 39.4,69.1 35.6,76.9 35.1,81.9 35.1,87.4 36.4,94.1 39.9,99.9 44.6,102.4 51.1,101.4 61.6,95.9 72.1,89.1 79.6,81.1 81.1,75.4 81.4,71.9 78.4,65.9Z"/><path fill="#4b62b3" d="M77.1,64.9 68.9,60.1 58.1,59.6 49.4,62.1 40.6,67.9 36.1,76.1 35.1,84.1 36.4,93.6 39.9,99.6 44.4,102.1 51.4,101.1 60.9,96.1 72.1,88.9 79.1,81.6 81.4,73.4 81.1,71.9 78.1,65.9Z"/><path fill="#4665b6" d="M77.1,65.1 69.1,60.4 59.1,59.6 49.9,62.1 40.9,67.9 36.1,76.6 35.4,82.9 35.4,86.9 36.6,93.9 39.9,99.4 45.4,102.1 51.9,100.9 61.9,95.4 71.9,88.9 78.9,81.6 80.9,74.9 81.1,72.4Z"/><path fill="#4168b8" d="M76.9,65.1 69.1,60.6 58.6,59.9 49.1,62.6 40.9,68.1 36.1,77.1 35.4,85.4 36.6,93.4 39.9,99.1 40.9,100.1 44.6,101.9 51.4,100.9 61.6,95.4 71.6,88.9 78.9,81.4 80.6,75.1 80.6,71.6Z"/><path fill="#3c6bba" d="M76.9,65.4 69.1,60.9 58.6,60.1 49.6,62.6 40.9,68.4 36.4,76.9 35.6,83.9 36.9,93.9 39.9,98.9 41.1,100.1 45.4,101.9 51.9,100.6 62.6,94.6 71.4,88.9 78.6,81.4 80.6,74.4 80.6,72.1Z"/><path fill="#376ebd" d="M76.4,65.4 68.4,60.9 58.4,60.4 49.6,62.9 41.9,67.9 40.4,69.4 36.6,76.6 35.9,82.4 35.9,87.1 37.1,94.1 40.4,99.4 44.6,101.6 46.9,101.6 52.1,100.4 63.6,93.9 71.1,88.9 77.9,82.1 78.9,80.4 80.1,75.6 80.4,72.1 77.6,66.6Z"/><path fill="#3272bf" d="M76.6,65.9 68.9,61.4 58.6,60.6 49.1,63.4 41.6,68.4 39.9,70.6 36.6,77.1 35.9,84.4 37.1,93.6 40.1,98.9 41.1,99.9 45.1,101.6 51.9,100.4 61.4,95.1 71.9,88.1 78.1,81.4 80.1,74.6 80.1,72.4Z"/><path fill="#2f76c1" d="M75.9,65.9 68.4,61.6 58.1,61.1 49.4,63.6 42.1,68.4 40.6,69.9 36.9,77.1 36.1,83.1 36.1,87.1 37.4,94.1 40.1,98.6 41.4,99.9 44.6,101.4 47.4,101.4 51.6,100.4 62.4,94.4 71.6,88.1 77.9,81.4 79.9,74.4 79.6,72.1 77.1,67.1Z"/><path fill="#2c79c3" d="M75.4,66.1 68.1,62.1 57.6,61.6 49.9,63.9 41.6,69.1 36.9,77.6 36.1,85.1 37.4,93.6 40.4,98.9 41.9,100.1 44.9,101.4 51.4,100.4 62.6,94.1 71.1,88.4 77.6,81.4 79.4,75.4 79.4,72.9 76.9,67.6Z"/><path fill="#297dc4" d="M75.1,66.6 67.9,62.6 57.6,62.1 49.1,64.6 41.6,69.6 37.4,76.9 36.4,83.9 36.4,86.9 37.6,94.1 40.4,98.6 41.6,99.9 45.4,101.4 51.9,100.1 61.6,94.6 70.9,88.4 76.9,82.1 79.1,75.1 78.9,72.9 76.4,67.9Z"/><path fill="#2681c6" d="M74.9,67.1 67.6,63.1 57.4,62.6 49.6,64.9 41.9,69.9 37.4,77.4 36.6,82.6 36.6,87.9 37.6,93.6 40.6,98.9 44.9,101.1 47.9,101.1 51.6,100.1 61.9,94.4 70.6,88.4 76.4,82.4 78.6,75.6 78.6,73.6 76.1,68.4Z"/><path fill="#2384c8" d="M75.6,68.6 67.4,63.6 57.4,63.1 48.9,65.6 41.9,70.4 37.6,77.4 36.6,84.4 37.6,93.4 40.4,98.4 41.9,99.9 45.1,101.1 47.6,101.1 51.4,100.1 60.1,95.4 70.1,88.6 76.4,81.9 78.1,76.4 78.1,73.9Z"/><path fill="#2088ca" d="M75.4,69.1 67.1,64.1 57.4,63.6 48.9,66.1 42.1,70.6 37.9,77.4 36.9,83.1 36.9,87.9 37.9,93.9 40.9,98.9 45.4,101.1 47.4,101.1 51.9,99.9 58.4,96.4 69.6,88.9 75.6,82.6 77.1,78.6 77.9,74.6Z"/><path fill="#1d8ccb" d="M74.1,68.6 66.9,64.6 57.4,64.1 49.4,66.4 42.1,71.1 37.9,77.9 36.9,85.1 37.9,93.4 40.6,98.4 42.1,99.9 45.9,101.1 50.9,100.1 57.9,96.6 69.4,88.9 75.1,82.9 77.4,76.6 77.1,74.1Z"/><path fill="#1b8fca" d="M73.9,69.1 66.6,65.1 57.4,64.6 49.4,66.9 42.4,71.4 38.1,77.9 37.1,83.9 37.1,87.9 38.1,93.9 40.9,98.6 41.9,99.6 44.9,100.9 48.1,100.9 52.1,99.6 60.1,95.1 70.9,87.4 75.1,82.4 77.1,75.9 75.4,71.4Z"/><path fill="#1a92ca" d="M74.1,70.1 66.4,65.6 57.1,65.1 49.9,67.1 42.6,71.6 37.9,79.1 37.1,85.9 38.1,93.4 41.1,98.9 45.1,100.9 47.9,100.9 51.4,99.9 59.6,95.4 70.1,87.9 74.4,83.1 76.6,76.9 76.4,74.9Z"/><path fill="#1796c9" d="M73.6,70.4 66.1,66.1 57.1,65.6 48.6,68.1 42.9,71.9 38.1,79.1 37.4,84.4 38.1,92.9 40.9,98.4 42.1,99.6 45.4,100.9 47.6,100.9 51.9,99.6 57.6,96.6 69.6,88.1 73.9,83.4 76.1,77.4 76.1,75.6Z"/><path fill="#159bc9" d="M73.1,71.1 67.1,67.6 64.4,66.6 54.6,66.9 49.4,68.6 44.6,71.1 41.9,73.9 38.9,78.4 37.9,81.9 37.6,88.1 38.4,93.1 41.1,98.6 42.6,99.9 45.9,100.9 52.4,99.4 57.9,96.4 68.1,89.1 73.4,83.4 75.4,78.1 75.4,76.1Z"/><path fill="#12a1c7" d="M72.9,72.4 71.6,71.1 64.9,67.6 54.6,67.6 48.9,69.6 44.6,71.9 42.1,74.4 38.9,79.1 38.1,82.1 37.9,88.6 38.6,93.6 41.1,98.4 42.4,99.6 46.9,100.9 49.1,100.4 54.9,98.1 66.9,89.9 72.1,84.6 74.4,79.6 74.9,77.6Z"/><path fill="#15a6c0" d="M72.1,72.9 71.1,71.9 64.1,68.4 53.6,68.6 44.6,72.6 39.4,79.1 38.4,82.1 38.1,89.1 39.1,94.6 41.4,98.6 45.4,100.6 47.9,100.6 51.4,99.6 56.9,96.9 66.9,89.6 71.6,84.6 74.1,78.6Z"/><path fill="#18acb8" d="M71.6,73.6 70.6,72.6 63.1,69.1 53.6,69.4 44.6,73.4 39.4,79.9 38.4,84.4 38.9,93.4 41.9,99.1 45.6,100.6 47.9,100.6 51.9,99.4 56.4,97.1 66.6,89.6 71.1,84.6 73.4,79.4 73.4,78.1Z"/><path fill="#1bb1b0" d="M70.1,73.4 63.6,70.1 53.6,70.1 44.9,73.9 39.9,79.9 38.9,82.4 38.4,86.6 38.9,92.4 39.6,95.4 41.4,98.4 42.4,99.4 45.9,100.6 47.6,100.6 51.6,99.4 56.6,96.9 66.4,89.6 70.4,85.1 72.6,80.1 72.6,78.4 71.6,75.6Z"/><path fill="#1eb6a9" d="M70.1,74.4 63.1,70.9 53.4,70.9 45.4,74.1 40.4,79.9 38.9,83.9 38.6,89.1 39.1,93.4 41.6,98.6 43.4,99.9 46.4,100.6 50.9,99.6 57.4,96.4 66.1,89.6 69.4,86.1 72.1,80.1Z"/><path fill="#28baa7" d="M69.6,74.9 62.1,71.4 53.9,71.4 45.1,74.9 39.9,81.1 39.1,83.4 39.1,92.6 39.6,94.9 41.4,98.1 44.4,100.1 46.9,100.6 54.4,98.1 63.9,91.4 68.4,87.1 71.4,81.4 71.4,78.9Z"/><path fill="#33bea5" d="M68.9,75.1 62.9,72.1 52.9,72.1 45.1,75.4 40.1,81.4 39.1,84.9 38.9,88.6 39.4,93.4 41.6,98.4 42.6,99.4 44.6,100.1 48.1,100.4 55.1,97.6 63.1,91.9 67.9,87.4 70.9,81.6 70.9,79.4Z"/><path fill="#3ec1a4" d="M69.1,76.4 62.4,72.6 53.1,72.6 45.1,75.9 40.4,81.6 39.4,84.4 39.4,92.9 40.1,95.6 41.9,98.6 45.6,100.4 48.9,100.1 55.1,97.6 62.4,92.4 67.6,87.4 70.4,82.1 70.6,80.6Z"/><path fill="#49c5a2" d="M68.9,77.1 67.6,75.9 61.6,73.1 53.4,73.1 45.1,76.4 40.4,82.1 39.4,85.9 39.6,93.9 42.1,98.9 45.9,100.4 48.6,100.1 54.1,98.1 60.4,93.9 63.4,91.4 68.1,86.1 70.1,81.6Z"/><path fill="#54c8a1" d="M68.1,77.1 62.1,73.9 52.4,73.9 45.1,76.9 40.6,82.4 39.6,85.1 39.6,93.1 41.6,98.1 43.4,99.6 47.6,100.4 52.9,98.6 59.4,94.6 65.9,88.9 68.1,85.6 69.6,82.1Z"/><path fill="#62cca1" d="M67.9,77.9 61.6,74.4 52.6,74.4 45.1,77.4 40.6,82.9 39.9,84.9 39.6,92.6 40.1,95.1 41.9,98.4 43.6,99.6 47.4,100.4 53.4,98.4 59.6,94.4 65.9,88.6 68.1,85.1 69.1,81.6Z"/><path fill="#73d2a2" d="M67.6,78.6 66.6,77.6 60.9,74.9 52.9,74.9 45.1,77.9 40.9,83.1 39.9,85.9 39.9,93.6 42.1,98.6 45.4,100.1 48.4,100.1 53.4,98.4 58.6,95.1 65.6,88.6 68.6,83.1Z"/><path fill="#84d6a3" d="M66.9,78.6 61.4,75.6 59.9,75.4 51.9,75.6 45.1,78.4 40.9,83.6 40.1,85.6 39.9,93.1 41.6,97.9 43.9,99.6 48.1,100.1 52.6,98.6 58.9,94.9 65.6,88.4 67.9,84.4 68.1,82.1Z"/><path fill="#94dca4" d="M66.1,78.9 60.9,76.1 52.1,76.1 45.1,78.9 40.6,84.6 40.1,86.6 40.1,94.1 41.9,98.1 42.9,99.1 45.6,100.1 48.1,100.1 53.1,98.4 58.1,95.4 64.1,89.9 67.4,84.9 67.6,82.4Z"/><path fill="#a5e0a5" d="M66.4,80.1 60.4,76.6 52.4,76.6 45.1,79.4 41.6,83.6 40.4,86.1 40.1,93.6 42.1,98.4 44.9,99.9 47.9,100.1 53.6,98.1 58.1,95.4 64.1,89.6 67.1,84.6Z"/><path fill="#b5e5a8" d="M65.9,80.6 60.6,77.4 51.6,77.4 45.1,79.9 41.1,84.9 40.4,87.1 40.4,94.6 42.4,98.6 45.1,99.9 47.9,100.1 54.1,97.9 58.4,95.1 62.9,90.9 66.1,86.1 66.6,83.1Z"/><path fill="#c4eaab" d="M65.4,81.1 59.9,77.9 51.9,77.9 45.6,80.1 42.4,83.6 40.6,86.9 40.4,94.1 41.9,97.9 43.6,99.4 47.6,100.1 52.9,98.4 57.6,95.6 63.1,90.4 65.1,87.4 66.1,85.1Z"/><path fill="#d4efaf" d="M64.9,82.1 59.6,78.6 51.4,78.6 45.4,80.9 41.6,85.1 40.6,87.6 40.4,93.6 42.1,98.1 43.9,99.4 47.4,100.1 53.4,98.1 57.6,95.6 61.9,91.6 64.4,88.1 65.4,85.9Z"/><path fill="#e3f4b2" d="M63.9,82.4 58.4,79.1 50.9,79.4 45.1,81.6 41.6,85.6 40.6,88.6 40.6,94.6 42.4,98.4 43.9,99.4 47.1,100.1 53.4,98.1 57.9,95.4 62.1,91.1 64.1,87.9 64.6,84.9Z"/><path fill="#eef7b6" d="M63.4,83.4 58.4,79.9 51.6,79.9 46.1,81.6 42.9,84.4 40.9,88.1 40.6,94.4 41.6,97.1 43.4,99.1 45.6,99.9 48.1,99.9 52.6,98.4 58.1,95.1 62.6,90.1 63.9,87.1Z"/><path fill="#f3f8b9" d="M62.6,84.1 57.4,80.4 49.6,80.9 44.4,83.4 41.9,86.1 40.9,89.1 40.6,93.6 42.1,97.9 44.1,99.4 48.1,99.9 53.1,98.1 57.4,95.6 60.1,93.1 62.6,89.4 63.1,87.9Z"/><path fill="#f9f9bc" d="M62.1,85.1 57.1,81.1 48.9,81.6 45.6,83.1 42.4,85.9 41.1,88.6 40.9,94.9 41.9,97.4 43.6,99.1 47.9,99.9 53.1,98.1 58.6,94.6 61.4,91.4 62.4,88.6Z"/><path fill="#fcf7b7" d="M61.1,85.4 57.1,81.9 55.9,81.6 48.4,82.4 44.6,84.4 42.4,86.4 41.1,89.6 40.9,94.4 42.6,98.4 45.1,99.6 47.9,99.9 53.6,97.9 56.6,96.1 61.1,91.4 61.6,89.6 61.6,86.6Z"/><path fill="#fdf0a9" d="M60.6,86.4 56.1,82.4 48.9,82.9 46.4,83.9 43.4,85.9 41.9,87.9 41.1,90.6 41.1,95.1 41.9,97.1 43.4,98.9 46.1,99.9 48.6,99.6 54.9,97.1 57.6,95.4 60.9,91.4Z"/><path fill="#fde99b" d="M59.9,86.9 56.6,83.6 55.4,83.1 48.4,83.6 42.9,86.9 41.4,90.4 41.1,94.9 42.4,97.9 44.6,99.4 47.6,99.9 52.9,98.1 56.9,95.9 60.4,92.1 60.6,89.9Z"/><path fill="#fee28d" d="M59.4,87.4 55.4,84.1 48.4,84.4 46.6,85.1 42.4,88.4 41.1,93.4 41.9,96.9 43.1,98.6 46.6,99.9 54.4,97.4 58.1,94.9 59.9,92.9 60.4,91.1Z"/><path fill="#fed682" d="M58.9,87.9 56.1,85.6 53.9,84.9 48.6,85.1 45.6,86.4 42.6,88.9 41.6,91.1 41.4,95.1 42.4,97.6 43.6,98.9 47.1,99.9 55.1,96.9 58.6,94.4 59.9,92.6 59.9,90.1Z"/><path fill="#fdca78" d="M58.9,88.9 56.4,86.6 53.6,85.6 49.1,85.6 47.4,86.1 43.9,88.1 42.1,90.4 41.4,93.1 41.6,95.9 43.4,98.6 45.9,99.6 48.1,99.6 53.1,97.9 57.4,95.4 59.4,93.4 59.9,91.4Z"/><path fill="#fdbe6d" d="M58.6,89.1 56.4,87.1 53.9,86.1 49.9,85.9 47.6,86.4 44.4,88.1 42.9,89.6 41.6,92.4 42.1,96.9 43.1,98.4 45.9,99.6 48.1,99.6 53.1,97.9 56.6,95.9 59.1,93.6 59.6,91.1Z"/><path fill="#fcb362" d="M58.9,89.9 56.6,87.6 53.9,86.4 49.9,86.1 45.1,87.9 42.6,90.4 41.6,93.4 42.1,96.6 43.6,98.6 46.1,99.6 47.9,99.6 53.6,97.6 58.9,93.9 59.6,92.4Z"/><path fill="#fba55b" d="M58.6,89.9 56.6,87.9 53.9,86.6 49.6,86.4 47.6,86.9 45.1,88.1 42.9,90.4 41.9,92.6 42.1,96.4 43.4,98.4 46.4,99.6 51.6,98.4 56.1,96.1 58.6,94.1 59.4,92.9Z"/><path fill="#f99755" d="M57.6,88.9 53.1,86.6 49.1,86.6 45.4,88.1 43.6,89.6 42.1,92.4 41.9,95.1 42.9,97.6 44.9,99.1 47.6,99.6 54.4,97.1 57.1,95.4 59.1,93.1 58.9,90.6Z"/><path fill="#f8884f" d="M57.9,89.4 55.6,87.6 52.4,86.6 48.6,86.9 44.6,88.9 42.6,91.4 42.1,92.9 42.6,97.1 43.6,98.4 46.9,99.6 53.9,97.4 57.1,95.4 58.9,93.6 59.1,91.9Z"/><path fill="#f67a49" d="M57.9,89.6 55.4,87.6 53.1,86.9 49.4,86.9 46.9,87.6 43.6,90.1 42.4,92.4 42.1,95.1 42.6,96.9 44.1,98.6 45.9,99.4 48.4,99.4 52.6,97.9 58.6,93.9 59.1,92.6Z"/><path fill="#f26c46" d="M57.9,89.9 55.9,88.1 53.6,87.1 50.1,86.9 46.6,87.9 43.4,90.6 42.6,92.1 42.6,96.6 43.9,98.4 46.1,99.4 48.1,99.4 53.1,97.6 56.6,95.6 58.6,93.6 58.9,91.9Z"/><path fill="#ed5f46" d="M57.9,90.1 56.1,88.4 52.9,87.1 47.6,87.6 45.6,88.6 43.4,90.9 42.4,93.4 42.9,96.9 44.4,98.6 46.4,99.4 48.9,99.1 53.6,97.4 56.9,95.4 58.6,93.6 58.9,92.6Z"/><path fill="#e85146" d="M57.4,89.6 54.4,87.6 52.1,87.1 48.9,87.4 45.9,88.6 43.9,90.4 42.6,92.9 42.6,95.9 43.1,97.1 45.6,99.1 47.9,99.4 54.9,96.6 58.6,93.4 58.6,92.1Z"/><path fill="#e34446" d="M57.4,89.9 55.6,88.4 52.9,87.4 47.6,87.9 45.4,89.1 43.4,91.4 42.6,93.4 42.9,96.1 44.4,98.4 46.6,99.4 52.9,97.6 58.1,94.1 58.6,92.6Z"/><path fill="#de3646" d="M57.6,90.4 54.4,87.9 52.1,87.4 47.9,87.9 45.9,88.9 43.4,91.6 42.9,92.9 42.9,95.9 43.6,97.4 46.1,99.1 48.4,99.1 51.4,98.1 55.9,95.9 58.1,93.9 58.4,92.1Z"/><path fill="#d72b45" d="M57.6,90.6 55.9,88.9 53.9,87.9 49.4,87.6 47.6,88.1 45.1,89.6 43.4,91.9 42.9,93.6 43.1,96.1 44.4,98.1 46.4,99.1 48.1,99.1 51.9,97.9 55.4,96.1 58.1,93.9 58.4,92.6Z"/><path fill="#d02244" d="M57.6,90.9 56.4,89.4 53.4,87.9 50.1,87.6 47.4,88.4 45.6,89.4 43.9,91.4 43.1,93.1 43.4,96.4 44.9,98.4 46.6,99.1 51.1,98.1 54.9,96.4 57.9,94.1 58.1,92.1Z"/><path fill="#c91843" d="M57.1,90.4 55.4,88.9 52.9,87.9 49.4,87.9 47.1,88.6 44.1,91.1 43.4,92.6 43.1,94.9 43.6,96.6 45.1,98.4 46.9,99.1 52.9,97.4 56.4,95.4 57.9,93.9 58.1,92.9Z"/><path fill="#c20f42" d="M56.9,90.4 53.4,88.1 50.6,87.9 48.1,88.4 46.1,89.4 43.9,91.9 43.4,93.4 43.6,96.1 44.1,97.1 46.4,98.9 48.4,98.9 52.6,97.4 57.6,94.1 57.9,92.4Z"/><path fill="#bd0841" d="M56.9,90.6 53.6,88.4 49.9,88.1 47.9,88.6 44.4,91.4 43.6,92.9 43.9,96.4 46.6,98.9 52.4,97.4 57.6,93.9 57.6,92.1Z"/><path fill="#bc0541" d="M56.6,90.6 54.9,89.1 52.6,88.4 47.9,88.9 44.6,91.4 43.6,94.1 43.9,95.9 46.4,98.6 48.4,98.6 52.6,97.1 57.1,94.4 57.4,92.1Z"/><path fill="#ba0241" d="M56.6,91.1 55.1,89.6 52.4,88.6 48.1,89.1 46.6,89.9 44.4,92.4 44.1,95.6 45.4,97.6 47.4,98.6 53.4,96.6 57.1,93.9Z"/><path fill="#b90041" d="M54.4,93.4 52.9,91.9 50.9,91.1 48.1,92.6 46.9,94.4 49.1,96.1Z"/></g></g><path fill="none" stroke="#1c1c30" stroke-width="0.60" stroke-opacity="0.85" stroke-linejoin="round" d="M36.40,76.90C37.22,74.10 38.48,70.85 40.60,68.50C42.72,66.15 46.05,64.22 49.10,62.80C52.15,61.38 55.62,60.35 58.90,60.00C62.18,59.65 65.75,59.75 68.80,60.70C71.85,61.65 75.22,63.70 77.20,65.70C79.18,67.70 80.47,70.13 80.70,72.70C80.93,75.27 80.12,78.52 78.60,81.10C77.08,83.68 74.42,85.97 71.60,88.20C68.78,90.43 64.98,92.52 61.70,94.50C58.42,96.48 54.70,98.93 51.90,100.10C49.10,101.27 46.78,101.62 44.90,101.50C43.02,101.38 41.90,100.68 40.60,99.40C39.30,98.12 37.92,96.15 37.10,93.80C36.28,91.45 35.82,88.12 35.70,85.30C35.58,82.48 35.58,79.70 36.40,76.90Z"/><path fill="none" stroke="#1c1c30" stroke-width="0.50" stroke-opacity="0.70" stroke-linejoin="round" d="M39.20,81.10C40.27,78.87 42.55,75.85 44.90,74.10C47.25,72.35 50.27,71.18 53.30,70.60C56.33,70.02 60.28,70.02 63.10,70.60C65.92,71.18 68.67,72.58 70.20,74.10C71.73,75.62 72.53,77.58 72.30,79.70C72.07,81.82 70.52,84.67 68.80,86.80C67.08,88.93 64.47,90.72 62.00,92.50C59.53,94.28 56.50,96.25 54.00,97.50C51.50,98.75 48.92,99.75 47.00,100.00C45.08,100.25 43.75,99.92 42.50,99.00C41.25,98.08 40.17,96.42 39.50,94.50C38.83,92.58 38.55,89.73 38.50,87.50C38.45,85.27 38.13,83.33 39.20,81.10Z"/><path fill="none" stroke="#4a4a30" stroke-width="0.55" stroke-opacity="0.80" stroke-linejoin="round" d="M42.00,86.80C43.15,85.50 45.35,83.92 47.70,83.20C50.05,82.48 54.00,81.90 56.10,82.50C58.20,83.10 59.57,85.22 60.30,86.80C61.03,88.38 60.62,90.55 60.50,92.00C60.38,93.45 60.52,94.25 59.60,95.50C58.68,96.75 56.93,98.58 55.00,99.50C53.07,100.42 49.92,100.83 48.00,101.00C46.08,101.17 44.67,101.25 43.50,100.50C42.33,99.75 41.45,98.08 41.00,96.50C40.55,94.92 40.63,92.62 40.80,91.00C40.97,89.38 40.85,88.10 42.00,86.80Z"/><rect x="5.1" y="6.3" width="5.8" height="27.5" fill="url(#cb)"/><text x="6.0" y="4.9" class="dose">Dose</text><text x="11.7" y="8.1" class="lt">150</text><text x="11.7" y="17.8" class="lt">100</text><text x="11.7" y="28.5" class="lt">50</text><line x1="-2.3" y1="0" x2="-2.3" y2="113.0" class="ax"/><line x1="0" y1="114.9" x2="93.6" y2="114.9" class="ax"/><text x="14.5" y="120.0" class="tl" text-anchor="middle">-50</text><text x="45.0" y="120.0" class="tl" text-anchor="middle">0</text><text x="75.5" y="120.0" class="tl" text-anchor="middle">50</text><text x="-4.6" y="23.6" class="tl" text-anchor="end">100</text><text x="-4.6" y="62.1" class="tl" text-anchor="end">50</text><text x="-4.6" y="100.6" class="tl" text-anchor="end">0</text></g><g transform="translate(235.5,267.0)"><rect width="93.6" height="113.0" fill="#6450a5"/><g clip-path="url(#pc)"><g filter="url(#bl)"><path fill="#5d55a9" d="M70.4,28.4 63.4,27.1 60.4,27.1 50.4,29.4 42.1,34.4 36.1,43.1 32.4,56.1 31.1,66.4 31.1,78.1 34.4,86.6 39.1,96.6 42.9,102.4 46.9,104.4 49.1,104.4 52.4,103.4 69.6,90.9 77.4,79.4 81.6,68.1 83.9,56.4 83.9,52.9 82.4,43.9 77.6,34.4 71.9,29.1Z"/><path fill="#5958ac" d="M69.9,28.6 60.9,27.4 49.6,30.1 42.4,34.6 36.9,42.6 35.4,46.4 32.9,55.1 31.9,63.1 31.6,78.9 39.4,96.4 42.6,101.6 44.1,102.9 47.1,104.1 51.9,103.4 69.4,90.6 77.4,78.6 81.4,67.6 83.6,55.6 82.1,44.4 77.1,34.4 71.6,29.4Z"/><path fill="#555bae" d="M70.6,29.1 61.4,27.6 50.9,29.9 42.4,35.1 36.6,43.6 33.1,55.4 32.1,63.4 31.9,78.6 39.4,95.9 42.9,101.6 46.9,103.9 49.4,103.9 52.4,102.9 69.6,89.9 76.6,79.4 81.1,67.6 83.4,55.4 81.9,44.6 77.1,34.9Z"/><path fill="#505eb1" d="M70.4,29.4 63.4,28.1 60.1,28.1 50.4,30.4 43.6,34.4 42.1,35.9 37.1,43.4 35.6,47.4 33.4,55.6 32.1,65.6 32.1,78.6 38.4,93.4 42.9,101.4 44.4,102.6 47.4,103.9 52.1,102.9 69.4,89.9 76.4,79.4 80.9,67.4 83.1,55.1 81.4,43.9 76.4,34.4Z"/><path fill="#4b62b3" d="M69.9,29.6 60.6,28.4 50.6,30.6 43.9,34.6 42.4,36.1 37.1,43.9 33.9,54.4 32.4,65.9 32.4,78.6 35.6,86.9 41.4,98.6 43.9,102.1 47.1,103.6 49.4,103.6 51.9,102.9 69.1,89.9 76.1,79.4 80.6,67.4 82.6,56.6 82.6,53.1 81.1,44.1 76.1,34.6 71.4,30.4Z"/><path fill="#4665b6" d="M69.6,30.1 61.4,28.9 49.9,31.6 44.1,35.1 42.1,37.1 37.6,43.9 36.4,46.9 34.1,54.6 32.6,66.1 32.6,78.6 39.1,94.1 42.4,100.1 44.1,102.1 47.4,103.6 51.6,102.9 68.9,89.9 75.9,79.4 80.1,68.1 82.4,55.9 80.9,45.1 75.9,35.1 71.1,30.9Z"/><path fill="#4168b8" d="M69.6,31.4 60.9,30.1 51.4,32.1 43.9,36.4 42.4,37.9 37.9,44.4 36.4,48.1 34.1,56.1 32.9,66.4 32.9,78.4 36.6,88.1 42.4,99.9 43.9,101.9 46.9,103.4 49.6,103.4 51.9,102.6 68.6,89.9 75.6,79.4 79.1,70.4 81.9,56.6 80.4,45.6 76.1,36.9 72.9,33.6Z"/><path fill="#3c6bba" d="M69.4,32.6 63.1,31.6 59.6,31.6 50.4,33.6 44.1,37.4 42.4,39.1 37.6,45.9 36.6,48.6 33.9,60.1 33.1,67.1 33.1,78.1 36.6,87.6 42.6,100.1 44.4,102.1 47.1,103.4 49.1,103.4 52.1,102.4 68.4,89.9 75.9,78.6 78.6,71.1 81.1,58.6 81.1,54.9 79.9,46.9 75.9,38.1 71.9,34.1Z"/><path fill="#376ebd" d="M68.9,33.9 59.9,32.9 50.4,34.9 45.1,37.9 42.6,40.1 38.4,45.9 36.9,49.4 34.1,60.6 33.4,68.1 33.6,79.1 37.4,88.9 42.9,100.4 43.9,101.6 46.6,103.1 48.6,103.4 51.9,102.4 67.1,90.9 74.6,80.4 77.4,74.4 79.1,67.9 80.6,58.6 79.4,48.1 75.1,38.9 72.1,35.6Z"/><path fill="#3272bf" d="M68.6,35.1 60.4,34.1 50.4,36.1 45.4,38.9 42.6,41.4 38.6,46.6 36.9,50.9 34.4,61.4 33.6,69.1 33.9,78.9 36.6,86.6 43.1,100.6 46.9,103.1 51.4,102.6 66.6,91.1 73.6,81.6 77.1,74.4 79.9,60.4 79.9,56.4 78.6,48.4 74.4,39.6 71.4,36.4Z"/><path fill="#2f76c1" d="M68.6,36.4 59.1,35.6 50.6,37.4 47.1,38.9 44.4,40.9 39.6,46.4 36.9,52.4 34.6,61.9 33.9,70.4 34.1,78.9 37.4,87.9 43.4,100.9 47.1,103.1 51.6,102.4 66.4,91.1 74.4,80.1 76.9,74.4 79.4,60.4 78.1,49.9 77.1,46.6 73.9,40.6 70.9,37.4Z"/><path fill="#2c79c3" d="M68.1,37.6 59.4,36.9 51.6,38.4 47.4,39.9 42.9,43.6 39.4,47.9 37.9,50.6 34.9,62.4 34.1,72.1 34.4,78.6 38.6,90.4 43.4,100.6 44.6,101.9 47.6,103.1 51.9,102.1 66.1,91.1 73.9,80.6 76.4,75.1 78.6,62.1 78.6,58.1 77.6,51.1 76.6,47.6 73.4,41.6 70.6,38.6Z"/><path fill="#297dc4" d="M70.4,39.6 66.6,38.6 59.6,38.1 49.1,40.4 46.9,41.4 44.1,43.6 39.6,48.6 38.1,51.4 35.1,63.1 34.4,73.9 34.6,78.6 37.6,87.4 43.1,100.1 44.1,101.4 46.9,102.9 49.6,102.9 52.1,101.9 65.6,91.4 70.1,85.9 75.4,77.4 78.1,62.1 77.9,57.9 76.1,48.4 73.6,43.6Z"/><path fill="#2681c6" d="M69.6,40.6 60.1,39.4 48.1,41.9 46.4,42.9 40.6,48.6 38.6,51.4 35.4,63.6 34.6,75.1 34.9,78.9 38.6,89.4 43.4,100.4 47.1,102.9 51.1,102.4 65.4,91.4 69.4,86.6 75.1,77.6 77.4,64.1 77.4,59.9 76.4,52.6 74.9,47.6 72.6,43.9Z"/><path fill="#2384c8" d="M69.6,41.9 63.4,40.9 58.6,40.9 47.9,43.1 42.9,47.4 38.6,52.6 35.6,63.9 34.9,75.6 35.1,78.9 39.1,90.1 43.6,100.6 47.4,102.9 51.4,102.1 65.1,91.4 67.4,89.1 74.6,78.4 75.9,72.9 76.9,64.1 76.4,57.6 74.9,49.6 72.1,44.9Z"/><path fill="#2088ca" d="M68.9,42.6 59.4,41.9 47.9,44.1 39.4,52.1 38.6,53.6 35.9,63.9 35.1,77.6 36.4,82.1 43.6,100.4 46.9,102.6 48.4,102.9 51.6,101.9 64.6,91.6 67.4,88.9 74.6,77.9 76.4,65.1 75.1,52.9 73.4,48.4 70.6,44.1Z"/><path fill="#1d8ccb" d="M69.1,43.4 58.6,42.6 47.4,44.9 39.6,52.4 38.9,53.9 36.1,63.9 35.4,78.1 42.6,98.1 43.9,100.6 47.1,102.6 50.4,102.4 51.9,101.6 64.4,91.6 67.9,87.9 74.4,78.1 76.1,64.4 74.9,53.6 74.1,50.6 70.1,44.1Z"/><path fill="#1b8fca" d="M69.1,43.6 58.9,42.9 47.6,45.1 39.1,53.9 36.4,63.6 35.6,78.4 43.4,99.6 44.9,101.4 46.9,102.4 48.9,102.6 51.6,101.6 64.1,91.6 67.1,88.6 74.1,78.1 75.9,64.1 74.6,53.6 73.6,50.4Z"/><path fill="#1a92ca" d="M68.9,43.9 58.9,43.1 47.6,45.4 39.4,53.9 36.4,65.4 35.9,78.6 43.4,99.4 44.4,100.9 47.1,102.4 48.4,102.6 51.1,101.9 65.9,89.9 73.9,78.4 75.6,64.9 74.4,53.4 72.6,49.1 69.9,44.6Z"/><path fill="#1796c9" d="M68.4,43.9 58.6,43.4 48.1,45.4 39.6,53.6 36.6,64.6 36.1,78.9 43.4,99.1 44.9,101.1 47.4,102.4 51.4,101.6 65.4,90.1 73.9,77.9 75.4,65.4 74.1,52.9 70.1,45.4Z"/><path fill="#159bc9" d="M68.9,44.4 58.9,43.6 48.4,45.6 47.4,46.1 39.6,54.4 36.9,64.9 36.4,78.6 43.4,98.6 44.9,100.9 47.1,102.1 49.4,102.1 51.4,101.4 64.1,90.9 67.1,87.6 73.6,77.9 75.1,65.1 73.9,52.9Z"/><path fill="#12a1c7" d="M68.6,44.6 59.1,43.9 47.9,46.1 39.9,54.4 37.1,65.1 36.6,78.6 43.9,99.4 44.9,100.6 47.1,101.9 48.6,102.1 51.9,100.9 64.9,89.9 73.4,77.9 74.9,64.9 73.6,52.9Z"/><path fill="#15a6c0" d="M68.6,44.9 59.1,44.1 48.6,46.1 40.1,54.4 37.4,65.1 36.9,78.6 43.9,98.9 44.6,100.1 47.6,101.9 48.9,101.9 51.9,100.6 63.1,91.1 66.9,87.1 73.1,77.6 74.6,65.1 73.6,54.4 72.6,51.1Z"/><path fill="#18acb8" d="M68.6,45.1 59.1,44.4 48.6,46.4 41.1,53.4 40.1,55.1 37.6,65.1 37.1,78.6 43.6,97.9 45.4,100.4 47.6,101.6 49.9,101.4 51.9,100.4 65.9,88.1 72.9,77.6 74.4,65.1 73.4,54.1 72.4,51.1Z"/><path fill="#1bb1b0" d="M67.9,45.1 58.9,44.6 48.6,46.6 44.6,50.1 40.4,55.1 37.9,65.1 37.4,78.6 44.1,98.6 45.4,100.1 47.6,101.4 49.1,101.4 51.6,100.4 64.6,89.1 72.6,77.6 74.1,65.4 73.1,53.6 69.6,46.9Z"/><path fill="#1eb6a9" d="M67.9,45.4 58.9,44.9 48.6,46.9 46.6,48.4 40.6,55.1 38.1,64.9 37.4,77.4 43.9,97.6 45.1,99.6 47.6,101.1 49.1,101.1 52.4,99.6 65.9,87.4 72.4,77.6 73.9,65.6 72.9,53.4 69.4,46.9Z"/><path fill="#28baa7" d="M67.9,45.6 58.9,45.1 48.6,47.1 40.9,55.1 38.4,64.9 37.6,77.4 44.1,97.9 45.1,99.4 47.6,100.9 49.4,100.9 52.1,99.6 63.1,89.9 66.1,86.6 72.1,77.6 73.6,65.6 72.9,55.1 72.1,52.1 69.1,46.9Z"/><path fill="#33bea5" d="M67.9,45.9 58.9,45.4 48.1,47.6 40.9,55.6 38.6,64.9 37.9,77.6 44.1,97.6 45.9,99.6 47.6,100.6 49.4,100.6 51.9,99.6 57.9,94.6 65.1,87.6 71.9,77.4 73.4,65.9 72.6,54.6 71.9,52.1Z"/><path fill="#3ec1a4" d="M67.9,46.1 58.6,45.6 48.9,47.6 46.1,49.9 41.1,55.6 38.9,64.9 38.1,77.6 44.1,97.4 44.9,98.6 47.6,100.4 48.6,100.6 51.6,99.6 57.4,94.9 65.4,86.9 71.6,77.4 73.1,65.9 72.4,54.1Z"/><path fill="#49c5a2" d="M67.6,46.4 58.6,45.9 48.9,47.9 47.4,48.9 41.4,55.6 39.1,64.9 38.4,77.9 44.1,97.1 45.4,98.9 47.4,100.1 49.1,100.4 51.4,99.6 56.9,95.1 65.1,86.9 71.4,77.4 72.9,66.1 72.1,53.9Z"/><path fill="#54c8a1" d="M67.6,46.6 58.6,46.1 48.9,48.1 41.6,55.6 39.4,64.9 38.6,77.9 44.6,97.9 47.1,99.9 49.6,100.1 51.6,99.4 57.6,94.4 65.1,86.6 71.1,77.4 72.6,66.1 71.9,53.9Z"/><path fill="#62cca1" d="M67.4,46.9 58.6,46.4 48.9,48.4 41.9,55.6 39.6,64.9 38.6,77.4 44.6,97.6 47.4,99.9 49.1,100.1 51.9,99.1 56.9,94.9 64.9,86.6 70.9,77.4 72.4,66.1 71.9,55.4 70.6,51.9Z"/><path fill="#73d2a2" d="M67.4,47.1 58.9,46.6 49.1,48.6 41.9,56.4 39.9,64.9 38.9,77.6 44.4,97.1 47.6,99.9 49.9,99.9 52.1,98.9 57.4,94.4 64.9,86.4 70.6,77.1 72.1,65.9 71.6,55.4 70.9,52.9Z"/><path fill="#84d6a3" d="M66.9,47.4 58.4,47.1 48.9,49.1 42.1,56.6 40.1,64.9 38.9,77.1 44.4,96.9 45.1,98.1 47.9,99.9 51.6,99.1 62.4,89.1 64.9,86.1 70.4,76.9 71.9,65.4 71.1,54.4 68.1,48.6Z"/><path fill="#94dca4" d="M66.4,48.1 58.4,47.9 49.1,49.9 42.4,57.4 40.1,66.6 39.1,77.6 44.4,96.9 45.6,98.4 48.1,99.9 51.9,98.9 61.4,90.1 64.9,85.9 69.9,77.1 71.4,65.1 70.4,54.4 67.4,48.9Z"/><path fill="#a5e0a5" d="M65.4,50.4 58.1,49.9 49.1,52.1 44.9,55.9 42.4,59.4 40.4,66.6 39.1,77.1 44.4,96.6 45.4,98.1 47.6,99.6 48.6,99.9 51.4,99.1 55.9,95.4 64.4,86.4 68.9,78.4 70.4,68.9 69.9,58.6 67.1,52.1Z"/><path fill="#b5e5a8" d="M64.6,52.9 57.6,52.1 49.4,54.4 47.9,55.1 44.4,58.6 41.9,62.6 40.4,68.6 39.4,77.9 44.6,97.1 47.9,99.6 51.6,98.9 61.9,89.4 64.4,86.1 68.1,79.1 69.4,71.1 68.9,61.6 68.4,59.4 65.6,53.9Z"/><path fill="#c4eaab" d="M63.6,55.1 55.4,54.6 48.4,57.1 43.9,61.4 41.4,65.9 39.4,76.4 39.6,78.9 44.9,97.4 47.4,99.4 49.6,99.6 51.1,99.1 56.9,94.4 63.9,86.6 67.4,79.9 68.4,73.4 67.9,64.4 67.1,61.4Z"/><path fill="#d4efaf" d="M62.4,57.4 54.4,56.9 47.1,60.1 44.1,63.1 41.6,67.1 39.6,75.6 39.9,79.6 44.6,96.9 45.6,98.1 48.1,99.6 51.9,98.6 57.1,94.1 62.9,87.9 66.4,81.4 67.4,75.4 66.9,67.4 65.4,62.4 63.9,59.1Z"/><path fill="#e3f4b2" d="M60.9,59.6 53.9,59.1 51.4,60.1 45.6,63.6 43.1,66.6 41.1,70.4 39.6,76.4 39.9,79.4 44.4,96.1 45.1,97.6 47.6,99.4 48.9,99.6 51.4,98.9 56.1,94.9 61.6,89.4 63.6,86.6 65.4,82.9 66.4,77.4 65.6,68.6 62.4,60.9Z"/><path fill="#eef7b6" d="M60.1,61.9 53.1,61.4 46.6,65.1 44.1,67.4 40.6,73.4 39.9,75.9 39.9,78.9 44.9,97.1 47.9,99.4 49.9,99.4 51.6,98.6 56.4,94.6 62.9,87.6 64.9,83.1 65.4,76.1 64.6,71.1 62.4,65.4Z"/><path fill="#f3f8b9" d="M59.1,63.6 52.1,63.1 43.9,69.1 40.1,75.6 40.1,79.9 44.6,96.6 47.9,99.4 51.6,98.6 56.6,94.4 61.9,88.9 63.9,85.4 64.6,81.9 64.1,73.6 60.4,64.4Z"/><path fill="#f9f9bc" d="M59.4,64.4 53.4,63.6 51.4,64.1 44.1,69.6 40.1,76.1 40.1,79.6 44.6,96.4 45.6,97.9 48.1,99.4 51.1,98.9 57.1,93.9 61.6,89.1 63.6,85.4 64.4,80.6 63.6,73.9 60.6,66.1Z"/><path fill="#fcf7b7" d="M58.6,64.6 54.1,64.1 51.4,64.6 44.4,69.9 40.1,76.9 41.1,83.9 44.6,96.4 45.4,97.6 48.1,99.4 51.4,98.6 55.9,94.9 61.1,89.6 63.4,85.6 63.9,82.1 63.4,74.6 59.9,65.4Z"/><path fill="#fdf0a9" d="M58.6,65.1 51.6,64.9 44.4,70.4 40.4,76.6 40.6,81.4 44.9,96.9 48.4,99.4 51.4,98.6 56.4,94.4 61.9,88.6 63.1,86.1 63.6,79.1 62.9,74.1 59.9,66.4Z"/><path fill="#fde99b" d="M58.4,65.9 53.1,65.1 51.4,65.6 46.1,69.1 44.1,71.1 40.4,77.1 41.1,83.4 44.6,96.1 45.9,97.9 47.9,99.1 50.6,98.9 52.9,97.4 61.6,88.9 62.9,86.4 63.4,79.6 62.6,74.6 60.4,68.9Z"/><path fill="#fee28d" d="M57.4,66.9 52.1,66.1 48.6,67.9 44.6,70.9 41.4,75.4 40.4,77.6 41.1,83.1 44.9,96.6 47.9,99.1 50.6,98.9 53.1,97.1 61.4,89.1 62.9,86.1 63.1,79.6 62.4,75.4 59.1,68.1Z"/><path fill="#fed682" d="M54.6,67.4 50.9,67.4 45.9,70.1 43.1,73.1 40.6,77.4 41.4,84.1 44.6,95.9 45.6,97.6 48.1,99.1 51.1,98.6 55.6,94.9 60.9,89.6 62.6,86.6 62.9,79.9 61.4,74.1 58.4,68.9Z"/><path fill="#fdca78" d="M53.1,68.1 49.4,68.6 45.1,71.1 42.6,74.1 40.6,77.9 41.4,83.9 44.9,96.4 48.1,99.1 51.4,98.4 56.1,94.4 61.4,88.9 62.6,86.1 62.6,79.9 61.9,76.6 60.4,73.4 57.6,69.9Z"/><path fill="#fdbe6d" d="M53.4,68.9 50.4,68.9 46.6,70.4 43.6,73.1 40.6,78.4 41.4,83.6 44.9,96.4 46.1,97.9 48.4,99.1 51.4,98.4 56.4,94.1 61.1,89.1 62.4,86.6 62.4,79.9 60.1,73.9 56.9,70.4Z"/><path fill="#fcb362" d="M53.6,69.4 49.9,69.4 46.9,70.6 44.1,72.9 40.9,77.9 41.4,83.6 44.9,96.1 45.9,97.6 48.4,99.1 50.9,98.6 56.6,93.9 61.6,88.4 62.4,86.1 62.1,79.6 59.9,74.1 56.9,70.9Z"/><path fill="#fba55b" d="M52.9,69.6 49.4,69.9 45.9,71.6 42.6,75.1 40.9,78.4 41.4,83.4 44.9,96.1 45.6,97.4 47.9,98.9 50.6,98.6 53.4,96.6 60.6,89.6 62.1,86.9 62.1,80.9 60.1,75.1 56.6,71.1Z"/><path fill="#f99755" d="M53.6,70.1 49.9,70.1 46.4,71.6 43.9,73.9 41.1,78.1 41.4,83.1 45.1,96.6 47.9,98.9 49.9,98.9 52.1,97.6 59.9,90.4 61.9,87.4 62.1,82.1 60.6,76.6 57.4,72.1Z"/><path fill="#f8884f" d="M53.4,70.4 49.1,70.6 45.9,72.4 42.6,75.9 41.1,78.9 41.6,84.1 44.9,95.9 46.1,97.6 48.1,98.9 50.4,98.6 52.4,97.4 59.6,90.6 61.9,87.1 61.9,81.6 59.9,75.6 56.6,71.9Z"/><path fill="#f67a49" d="M53.1,70.6 49.4,70.9 46.4,72.4 43.1,75.6 41.1,79.6 41.6,83.9 45.1,96.4 48.1,98.9 50.4,98.6 52.6,97.1 59.1,91.1 61.6,87.6 61.9,83.4 60.4,77.1 57.1,72.6Z"/><path fill="#f26c46" d="M52.6,70.9 49.6,71.1 45.9,73.1 43.6,75.4 41.4,79.4 41.6,83.6 45.1,96.1 45.9,97.4 48.4,98.9 50.9,98.4 56.9,93.4 60.1,89.9 61.6,87.1 61.4,81.1 59.6,76.1 56.4,72.4Z"/><path fill="#ed5f46" d="M53.6,71.4 49.9,71.4 46.6,72.9 43.4,76.1 41.4,80.1 41.6,83.4 45.1,96.1 46.6,97.9 48.6,98.9 51.1,98.1 55.6,94.4 59.6,90.4 61.4,87.6 61.4,82.1 59.9,77.1 56.9,73.1Z"/><path fill="#e85146" d="M53.4,71.6 50.1,71.6 46.1,73.6 43.4,76.6 41.6,79.9 41.6,83.1 45.4,96.6 47.9,98.6 49.9,98.6 52.4,97.1 59.4,90.6 61.4,87.1 61.1,81.6 59.4,76.6 56.1,72.9Z"/><path fill="#e34446" d="M53.1,71.9 50.4,71.9 46.9,73.4 43.6,76.6 41.6,80.6 41.9,84.1 45.1,95.9 46.1,97.4 48.1,98.6 50.4,98.4 52.6,96.9 58.6,91.4 61.1,87.6 61.1,82.6 59.1,76.6 56.4,73.4Z"/><path fill="#de3646" d="M52.9,72.1 49.6,72.4 46.6,73.9 44.1,76.4 41.9,80.4 41.9,83.9 45.4,96.4 48.1,98.6 50.4,98.4 51.6,97.6 59.6,90.1 60.9,88.1 61.1,84.6 59.9,78.6 56.6,73.9Z"/><path fill="#d72b45" d="M52.9,72.4 49.6,72.6 46.4,74.4 43.9,77.1 41.9,80.9 42.1,84.6 45.4,96.1 48.4,98.6 51.1,97.9 59.4,90.4 60.9,87.6 60.6,81.9 58.6,76.6 55.9,73.6Z"/><path fill="#d02244" d="M53.1,72.6 49.6,72.9 46.1,74.9 43.1,78.6 41.9,81.6 42.1,84.4 45.4,96.1 47.9,98.4 51.1,97.9 58.4,91.4 60.6,88.1 60.6,82.9 59.4,78.4 57.9,75.9 55.9,73.9Z"/><path fill="#c91843" d="M53.1,72.9 50.4,72.9 47.1,74.4 44.1,77.4 42.1,81.1 42.1,83.9 45.4,95.9 48.1,98.4 49.6,98.4 51.6,97.4 55.4,94.1 60.4,88.6 60.6,84.4 59.4,78.9 57.9,76.1 55.9,74.1Z"/><path fill="#c20f42" d="M53.4,73.1 50.1,73.1 47.1,74.6 44.4,77.4 42.1,81.9 42.1,83.6 45.4,95.6 46.4,97.1 48.4,98.4 51.1,97.6 58.9,90.6 60.4,87.9 60.4,83.6 59.4,79.4 57.6,76.1 55.9,74.4Z"/><path fill="#bd0841" d="M53.4,73.4 50.1,73.4 47.1,74.9 44.6,77.4 42.4,81.6 42.4,84.1 45.6,95.9 48.1,98.1 49.9,98.1 51.6,97.1 59.1,90.1 60.1,88.4 60.1,83.1 58.9,78.6 55.9,74.6Z"/><path fill="#bc0541" d="M53.4,73.6 50.1,73.6 47.1,75.1 43.6,79.4 42.4,82.6 45.6,95.6 46.4,96.9 48.4,98.1 50.1,97.9 56.6,92.6 59.9,88.4 59.9,83.1 58.6,78.6 56.4,75.4Z"/><path fill="#ba0241" d="M53.1,73.9 50.4,73.9 47.4,75.4 44.1,79.1 42.6,82.6 46.4,96.6 48.1,97.9 50.4,97.6 58.9,89.9 59.6,88.1 59.6,83.6 58.4,78.9 55.9,75.4Z"/><path fill="#b90041" d="M51.9,76.6 50.4,77.1 47.9,79.4 44.9,84.9 47.6,94.6 49.1,95.6 56.9,88.6 57.4,86.1 55.9,80.6 54.4,78.4Z"/></g></g><path fill="none" stroke="#1c1c30" stroke-width="0.60" stroke-opacity="0.85" stroke-linejoin="round" d="M61.30,28.00C64.62,27.87 67.95,28.35 70.50,29.50C73.05,30.65 74.82,32.47 76.60,34.90C78.38,37.33 80.17,40.78 81.20,44.10C82.23,47.42 82.92,50.97 82.80,54.80C82.68,58.63 81.53,63.23 80.50,67.10C79.47,70.97 78.57,74.18 76.60,78.00C74.63,81.82 71.72,86.80 68.70,90.00C65.68,93.20 61.37,95.13 58.50,97.20C55.63,99.27 53.33,101.40 51.50,102.40C49.67,103.40 48.83,103.37 47.50,103.20C46.17,103.03 44.83,102.77 43.50,101.40C42.17,100.03 40.85,97.57 39.50,95.00C38.15,92.43 36.62,88.83 35.40,86.00C34.18,83.17 32.73,81.15 32.20,78.00C31.67,74.85 31.95,70.97 32.20,67.10C32.45,63.23 32.93,58.63 33.70,54.80C34.47,50.97 35.27,47.42 36.80,44.10C38.33,40.78 40.60,37.20 42.90,34.90C45.20,32.60 47.53,31.45 50.60,30.30C53.67,29.15 57.98,28.13 61.30,28.00Z"/><path fill="none" stroke="#1c1c30" stroke-width="0.50" stroke-opacity="0.70" stroke-linejoin="round" d="M59.80,43.30C63.38,43.05 66.70,42.70 69.00,44.10C71.30,45.50 72.58,48.38 73.60,51.70C74.62,55.02 75.10,59.62 75.10,64.00C75.10,68.38 75.12,73.83 73.60,78.00C72.08,82.17 68.68,85.92 66.00,89.00C63.32,92.08 60.00,94.40 57.50,96.50C55.00,98.60 52.67,100.58 51.00,101.60C49.33,102.62 48.67,102.78 47.50,102.60C46.33,102.42 45.33,102.93 44.00,100.50C42.67,98.07 40.83,91.75 39.50,88.00C38.17,84.25 36.45,82.00 36.00,78.00C35.55,74.00 36.17,68.12 36.80,64.00C37.43,59.88 38.02,56.37 39.80,53.30C41.58,50.23 44.17,47.27 47.50,45.60C50.83,43.93 56.22,43.55 59.80,43.30Z"/><path fill="none" stroke="#6a5a3a" stroke-width="0.50" stroke-opacity="0.70" stroke-linejoin="round" d="M52.10,63.20C54.67,62.43 57.88,62.33 59.80,64.00C61.72,65.67 62.82,70.53 63.60,73.20C64.38,75.87 64.55,77.53 64.50,80.00C64.45,82.47 64.38,85.33 63.30,88.00C62.22,90.67 59.97,93.70 58.00,96.00C56.03,98.30 53.25,100.72 51.50,101.80C49.75,102.88 48.83,102.72 47.50,102.50C46.17,102.28 44.95,102.25 43.50,100.50C42.05,98.75 39.80,94.75 38.80,92.00C37.80,89.25 37.38,86.67 37.50,84.00C37.62,81.33 38.35,78.57 39.50,76.00C40.65,73.43 42.30,70.73 44.40,68.60C46.50,66.47 49.53,63.97 52.10,63.20Z"/><rect x="5.1" y="6.3" width="5.8" height="27.5" fill="url(#cb)"/><text x="6.0" y="4.9" class="dose">Dose</text><text x="11.7" y="8.1" class="lt">150</text><text x="11.7" y="17.8" class="lt">100</text><text x="11.7" y="28.5" class="lt">50</text><line x1="-2.3" y1="0" x2="-2.3" y2="113.0" class="ax"/><line x1="0" y1="114.9" x2="93.6" y2="114.9" class="ax"/><text x="14.5" y="120.0" class="tl" text-anchor="middle">-50</text><text x="45.0" y="120.0" class="tl" text-anchor="middle">0</text><text x="75.5" y="120.0" class="tl" text-anchor="middle">50</text><text x="-4.6" y="23.6" class="tl" text-anchor="end">100</text><text x="-4.6" y="62.1" class="tl" text-anchor="end">50</text><text x="-4.6" y="100.6" class="tl" text-anchor="end">0</text></g><g transform="translate(342.0,267.0)"><rect width="93.6" height="113.0" fill="#6450a5"/><g clip-path="url(#pc)"><g filter="url(#bl)"><path fill="#5d55a9" d="M71.6,24.4 70.4,24.1 62.1,28.9 35.4,53.4 21.1,64.6 19.1,68.6 19.6,80.6 20.9,83.1 26.4,90.4 40.1,96.1 55.6,95.6 63.9,90.9 68.9,87.1 72.9,79.4 74.4,67.9 74.4,41.4 73.9,31.4Z"/><path fill="#5958ac" d="M71.1,24.6 65.6,26.9 61.9,29.6 35.1,54.1 21.6,64.6 19.4,69.1 20.1,80.9 27.4,90.6 40.9,95.9 55.9,95.1 67.4,88.1 68.9,86.4 72.4,79.6 73.9,68.6 73.6,32.9 72.1,26.1Z"/><path fill="#555bae" d="M71.1,25.1 69.9,25.1 65.9,27.1 61.1,30.6 35.6,54.1 21.9,64.9 19.6,69.6 20.4,80.6 21.9,83.4 26.9,89.9 40.9,95.6 55.6,94.9 64.1,89.9 68.1,86.9 71.9,80.1 73.6,68.1 73.1,31.4Z"/><path fill="#505eb1" d="M70.9,25.4 65.6,27.6 61.6,30.6 36.4,53.9 22.4,64.6 20.1,68.9 20.6,80.6 23.6,85.4 27.6,90.1 40.9,95.4 52.9,94.9 56.9,94.1 67.6,87.1 71.9,79.1 73.4,67.9 72.9,31.6Z"/><path fill="#4b62b3" d="M70.6,25.9 65.1,28.4 59.4,32.9 35.9,54.6 22.1,65.4 20.4,68.9 20.9,80.6 22.4,83.4 27.6,89.9 40.4,95.1 54.4,94.6 57.4,93.6 66.4,87.9 67.9,86.4 71.6,79.1 73.1,67.9 72.9,35.6 72.4,31.1Z"/><path fill="#4665b6" d="M70.4,26.9 68.6,27.1 64.9,29.1 59.1,33.6 36.9,54.1 22.6,65.1 20.4,69.9 20.9,79.9 21.9,82.4 27.9,89.9 40.9,95.1 52.4,94.6 56.6,93.9 67.6,86.4 71.4,79.1 72.9,68.1 72.9,40.4 72.1,32.1Z"/><path fill="#4168b8" d="M69.4,28.6 68.4,28.6 64.4,30.6 58.9,34.6 36.6,54.6 26.1,62.4 22.4,65.9 20.6,69.6 21.1,80.4 22.4,82.9 27.4,89.4 40.4,94.9 55.6,94.1 66.4,87.4 67.9,85.6 71.1,79.1 72.6,68.4 72.9,46.6 72.4,37.4 70.9,31.1Z"/><path fill="#3c6bba" d="M68.6,30.6 66.9,30.9 62.9,32.9 57.6,36.6 37.6,54.1 26.1,62.6 22.9,65.6 20.9,69.6 21.4,80.6 24.1,85.1 27.9,89.6 40.9,94.9 55.1,94.1 57.4,93.1 65.1,88.1 67.6,85.6 71.1,78.4 72.4,68.9 72.6,61.6 72.1,38.6 71.4,35.4Z"/><path fill="#376ebd" d="M67.9,32.6 65.1,33.1 57.4,37.9 38.6,53.6 30.9,59.1 23.1,65.6 21.1,69.4 21.4,80.1 24.6,85.6 28.1,89.6 41.4,94.9 55.6,93.9 66.9,86.4 70.9,78.6 72.4,65.6 72.4,46.1 71.9,39.9 70.6,36.1Z"/><path fill="#3272bf" d="M67.6,34.9 66.6,34.4 64.6,34.9 56.4,39.6 38.4,54.1 27.9,61.6 22.9,66.4 21.1,70.4 21.6,80.6 24.4,85.1 27.9,89.4 40.6,94.6 55.4,93.9 65.4,87.6 66.9,86.1 70.6,78.9 72.1,66.6 72.1,46.4 71.6,40.9 70.6,37.9Z"/><path fill="#2f76c1" d="M69.6,38.4 66.1,36.4 64.9,36.4 58.1,39.6 30.6,59.6 23.9,65.4 21.4,70.1 21.6,80.4 27.4,88.9 31.6,91.1 40.9,94.6 52.6,94.1 56.4,93.4 64.1,88.4 66.9,85.9 70.4,78.9 71.9,67.1 71.9,46.9 71.1,40.4Z"/><path fill="#2c79c3" d="M69.6,39.6 66.1,38.4 64.1,38.4 55.4,42.4 39.1,54.1 33.1,57.9 24.1,65.4 21.6,69.9 21.6,79.6 22.4,81.9 27.9,89.1 39.6,94.1 44.4,94.6 55.6,93.6 65.9,86.9 68.1,83.6 70.1,79.1 71.6,67.4 71.6,47.6 70.9,41.6Z"/><path fill="#297dc4" d="M69.4,40.6 64.1,40.1 55.6,43.4 33.6,57.6 24.1,65.6 22.1,68.9 21.6,70.9 21.9,80.4 23.1,82.9 27.6,88.9 31.4,90.9 40.4,94.4 47.6,94.4 55.4,93.6 62.4,89.4 66.4,86.1 70.1,78.4 71.4,66.9 71.4,49.4 70.4,41.9Z"/><path fill="#2681c6" d="M68.6,42.6 62.9,42.4 54.1,45.4 34.1,57.4 27.4,62.6 24.1,65.9 21.9,70.4 21.9,80.1 22.9,82.4 28.1,89.1 40.6,94.4 55.1,93.6 58.9,91.6 64.4,87.9 66.4,85.9 69.6,79.4 70.9,69.1 70.6,50.6 69.6,44.6Z"/><path fill="#2384c8" d="M66.6,45.1 60.6,44.9 53.1,47.1 34.6,57.1 28.1,62.1 24.1,66.1 22.6,68.6 21.9,71.4 21.9,79.4 23.1,82.6 28.1,89.1 40.9,94.4 52.6,93.9 57.1,92.6 65.9,86.4 69.4,79.4 70.4,70.4 70.4,62.1 69.1,52.4 67.6,46.6Z"/><path fill="#2088ca" d="M64.9,47.9 62.6,47.1 58.4,47.4 53.9,48.4 45.1,51.6 34.4,57.4 24.9,65.4 22.1,70.9 22.1,80.4 27.6,88.6 30.6,90.4 41.1,94.4 52.1,93.9 55.4,93.4 63.4,88.4 66.1,85.9 68.1,82.4 69.4,77.6 69.6,63.6 67.6,54.9Z"/><path fill="#1d8ccb" d="M62.9,50.4 60.9,49.6 57.4,49.6 51.6,50.6 42.9,53.1 34.9,57.1 28.4,62.1 24.6,65.9 22.4,70.4 22.1,79.9 25.4,85.6 28.4,89.1 40.4,94.1 47.9,94.1 55.9,93.1 65.4,86.6 67.1,84.1 68.6,80.4 69.1,67.9 68.9,64.9 66.1,56.9Z"/><path fill="#1b8fca" d="M60.9,52.9 57.4,51.9 52.9,52.1 41.4,54.1 34.6,57.4 25.6,64.9 23.9,67.1 22.6,70.1 22.1,78.9 23.1,82.1 28.1,88.9 40.6,94.1 47.4,94.1 55.6,93.1 60.4,90.4 65.9,85.9 67.9,82.4 68.4,80.4 68.4,67.9 67.6,64.9 64.1,57.9Z"/><path fill="#1a92ca" d="M35.1,57.1 28.6,62.1 25.1,65.6 22.6,70.6 22.4,80.4 27.9,88.6 31.6,90.6 40.9,94.1 46.1,94.1 55.6,93.1 65.1,86.6 66.9,84.1 68.1,80.6 67.6,67.4 65.6,63.9 58.9,55.1 56.4,54.1 44.1,54.1 39.9,54.9Z"/><path fill="#1796c9" d="M37.6,55.9 31.1,60.1 27.9,62.9 24.1,67.1 22.9,70.1 22.4,73.6 22.4,79.6 23.1,81.9 28.6,89.1 40.9,94.1 54.4,93.4 59.1,91.1 65.4,86.1 67.6,82.4 67.9,73.9 67.4,68.1 66.6,66.4 61.1,59.4 57.1,55.4 50.1,54.6 42.6,54.6Z"/><path fill="#159bc9" d="M35.1,57.4 30.4,60.9 25.6,65.4 23.1,69.9 22.6,80.4 27.4,87.9 31.9,90.6 39.6,93.6 44.4,94.1 55.1,93.1 59.4,90.9 63.6,87.6 66.4,84.4 67.6,81.1 67.1,69.4 65.9,66.1 58.9,57.6 56.1,55.6 50.1,55.1 39.6,55.4Z"/><path fill="#12a1c7" d="M34.9,57.6 29.4,61.9 25.6,65.6 23.4,69.6 22.9,72.9 22.9,80.6 27.1,87.4 28.6,88.9 31.4,90.4 41.9,94.1 54.6,93.1 59.1,90.9 63.1,87.9 65.1,85.9 67.1,82.4 66.9,70.1 66.1,67.1 58.9,58.1 56.6,56.1 47.9,55.4 39.4,55.6Z"/><path fill="#15a6c0" d="M35.9,57.1 27.6,63.6 24.9,66.9 23.6,69.4 22.9,79.9 23.9,82.4 27.4,87.6 31.6,90.4 40.9,93.9 45.9,93.9 55.1,92.9 58.6,91.1 62.4,88.4 65.1,85.6 66.9,82.6 66.9,73.6 66.1,67.6 61.1,61.1 56.9,56.6 55.6,56.1 43.1,55.6 39.4,55.9Z"/><path fill="#18acb8" d="M35.6,57.4 28.9,62.6 25.6,66.1 23.9,69.1 23.1,80.4 27.1,87.1 30.6,89.9 41.1,93.9 54.9,92.9 58.9,90.9 63.6,87.1 65.9,84.1 66.9,81.6 66.1,68.4 63.9,64.9 58.6,58.6 56.4,56.6 52.6,56.1 39.1,56.1Z"/><path fill="#1bb1b0" d="M35.4,57.6 29.6,62.1 26.6,65.1 24.1,68.9 23.4,75.1 23.4,80.6 27.6,87.6 31.9,90.4 41.6,93.9 55.4,92.6 59.1,90.6 62.9,87.6 65.6,84.1 66.6,81.9 65.9,68.4 63.4,64.6 57.6,57.9 55.6,56.6 47.4,56.1 38.6,56.4Z"/><path fill="#1eb6a9" d="M35.1,57.9 30.6,61.4 26.6,65.4 24.4,68.9 23.6,74.6 23.6,80.9 27.4,87.1 29.1,88.9 32.1,90.4 42.4,93.9 55.1,92.6 58.6,90.9 61.9,88.4 64.4,85.6 66.4,81.9 65.9,70.1 65.1,67.4 58.9,59.6 56.4,57.1 53.4,56.6 41.9,56.4 38.4,56.6Z"/><path fill="#28baa7" d="M34.9,58.1 26.6,65.6 24.4,69.6 23.6,79.9 24.4,82.1 27.9,87.6 31.6,90.1 41.1,93.6 54.6,92.6 59.9,89.9 63.4,86.6 66.1,82.1 65.4,68.4 63.4,65.4 55.9,57.1 41.4,56.6 38.1,56.9Z"/><path fill="#33bea5" d="M35.1,58.1 31.9,60.6 26.9,65.6 24.9,68.4 23.9,80.4 27.6,87.1 29.4,88.9 41.4,93.6 54.1,92.6 59.1,90.4 63.1,86.6 65.9,82.1 65.6,72.4 64.6,67.4 55.9,57.4 40.6,56.9 37.9,57.1Z"/><path fill="#3ec1a4" d="M25.9,67.1 24.6,70.9 24.4,81.1 28.9,88.4 35.9,91.6 42.1,93.6 54.6,92.4 59.6,89.9 62.9,86.6 65.6,82.1 64.9,68.4 60.1,62.1 55.9,57.6 50.4,57.1 39.6,57.1 36.4,57.6 32.4,60.4Z"/><path fill="#49c5a2" d="M26.1,67.1 25.1,68.9 24.6,81.4 27.9,87.1 29.4,88.6 35.4,91.4 41.1,93.4 45.9,93.4 55.1,92.1 58.4,90.6 61.1,88.4 65.4,82.1 64.6,68.4 55.9,57.9 51.1,57.4 36.9,57.6 33.1,59.9Z"/><path fill="#54c8a1" d="M26.4,67.1 25.1,70.4 24.6,80.6 28.4,87.6 32.4,90.1 41.4,93.4 47.9,93.1 54.6,92.1 59.6,89.6 62.4,86.6 65.1,82.1 65.1,75.4 64.4,68.4 55.9,58.1 51.6,57.6 36.6,57.9 33.6,59.6Z"/><path fill="#62cca1" d="M34.4,59.1 28.6,64.9 25.6,68.9 24.9,80.6 28.4,87.4 31.9,89.9 42.1,93.4 53.9,92.1 59.1,89.9 61.4,87.6 64.9,82.1 64.4,69.1 61.1,64.4 56.9,59.4 55.1,58.1 37.9,57.9 36.1,58.1Z"/><path fill="#73d2a2" d="M34.6,59.1 27.4,66.6 25.6,69.9 25.1,80.6 28.4,87.1 30.1,88.9 41.1,93.1 51.9,92.4 58.6,90.1 62.4,85.9 64.9,81.1 64.1,68.9 62.9,66.9 55.1,58.4 37.1,58.1Z"/><path fill="#84d6a3" d="M34.9,59.1 28.1,66.1 25.9,69.6 25.4,80.6 29.1,87.9 31.6,89.6 41.6,93.1 50.9,92.4 58.4,90.1 61.4,86.9 64.6,81.4 63.9,68.9 57.4,60.6 55.6,58.9 54.4,58.4 36.6,58.4Z"/><path fill="#94dca4" d="M35.1,59.1 28.6,65.9 26.1,69.6 25.4,79.4 25.6,80.9 29.1,87.6 31.9,89.6 42.6,93.1 51.4,92.1 55.6,91.1 58.9,89.6 64.4,81.6 63.9,70.1 62.9,67.6 56.9,60.4 54.6,58.6 42.9,58.4 36.4,58.6Z"/><path fill="#a5e0a5" d="M35.1,59.4 27.4,67.6 26.4,69.6 25.6,79.9 29.4,87.6 32.1,89.6 41.6,92.9 50.4,92.1 56.6,90.6 58.6,89.6 64.1,81.6 63.6,69.9 62.6,67.6 56.4,60.1 54.6,58.9 40.9,58.6 36.1,58.9Z"/><path fill="#b5e5a8" d="M35.1,59.6 26.6,69.4 25.9,79.9 29.4,87.4 32.4,89.6 42.6,92.9 51.9,91.6 58.4,89.6 63.9,81.6 63.4,69.6 62.1,67.4 57.4,61.6 54.6,59.1 40.1,58.9Z"/><path fill="#c4eaab" d="M26.9,69.4 26.1,79.9 29.6,87.4 32.6,89.6 42.1,92.6 47.1,92.4 56.1,90.4 58.4,89.4 63.6,81.6 63.1,69.6 61.6,67.1 54.6,59.4 39.9,59.1 35.9,59.4Z"/><path fill="#d4efaf" d="M35.6,59.9 27.9,68.1 27.1,69.6 26.4,79.9 30.1,87.6 31.4,88.9 33.6,89.9 43.1,92.6 49.9,91.6 57.6,89.6 63.4,81.6 62.9,69.6 62.1,68.1 54.6,59.6 40.1,59.4Z"/><path fill="#e3f4b2" d="M27.4,69.6 26.6,79.6 30.4,87.6 32.6,89.4 42.9,92.4 50.1,91.4 57.6,89.4 63.1,81.6 62.6,69.9 61.4,67.6 54.4,59.9 41.6,59.6 36.1,59.9Z"/><path fill="#eef7b6" d="M35.6,60.6 29.1,67.6 27.6,70.1 27.1,80.4 30.9,87.9 33.1,89.4 42.9,92.1 50.4,91.1 58.1,88.6 62.9,81.6 62.4,69.9 60.4,66.9 54.1,60.1 36.6,60.1Z"/><path fill="#f3f8b9" d="M35.9,61.1 28.1,69.9 27.4,79.6 31.4,87.9 33.9,89.4 42.9,91.9 49.4,91.1 57.6,88.6 62.6,81.4 62.1,70.4 60.9,68.1 53.9,60.6 36.9,60.6Z"/><path fill="#f9f9bc" d="M36.4,62.1 30.4,68.1 28.6,70.9 28.1,80.4 31.9,87.4 33.6,88.9 43.4,91.6 49.6,90.9 57.4,88.4 62.4,81.4 62.4,74.6 61.6,70.4 60.6,68.6 56.9,64.4 53.6,61.6 40.9,61.4Z"/><path fill="#fcf7b7" d="M30.4,69.9 28.9,74.6 28.9,80.4 30.6,84.1 33.1,87.6 36.4,89.4 42.6,91.1 46.9,91.1 52.9,89.9 57.1,88.1 61.9,81.9 62.4,76.6 61.4,71.1 58.9,67.6 53.6,63.1 47.4,62.4 38.6,62.9 35.4,64.9Z"/><path fill="#fdf0a9" d="M30.9,71.1 29.4,76.6 29.6,80.4 30.4,82.4 32.6,85.9 34.6,87.9 39.9,90.1 42.9,90.9 47.1,90.9 55.6,88.6 59.1,85.6 61.9,80.9 62.1,76.1 60.6,70.9 56.9,66.9 52.9,64.4 48.6,63.6 43.1,63.6 38.9,64.4 34.9,66.9Z"/><path fill="#fde99b" d="M32.6,70.1 30.1,75.1 30.1,80.1 32.9,85.4 34.9,87.4 38.6,89.4 43.4,90.6 47.4,90.6 54.4,88.9 56.6,87.6 59.6,84.6 61.4,81.6 61.9,75.9 61.1,72.9 59.9,70.6 57.1,67.9 53.4,65.6 47.9,64.4 41.1,64.9 35.6,67.4Z"/><path fill="#fee28d" d="M35.4,68.1 32.6,70.9 31.1,73.4 30.4,75.9 30.4,79.4 31.9,83.4 35.9,87.6 42.1,90.1 49.4,90.1 55.4,88.1 56.9,87.1 60.4,83.1 61.6,79.9 61.4,74.6 60.1,71.6 56.1,67.6 49.9,65.1 44.1,64.9 39.6,65.9Z"/><path fill="#fed682" d="M40.6,65.9 37.1,67.4 34.1,69.6 31.4,73.6 30.6,76.4 30.6,79.1 31.6,82.4 32.9,84.4 36.9,87.9 43.6,90.1 49.6,89.9 56.1,87.4 59.6,83.9 61.4,79.9 61.4,75.6 59.4,71.1 55.9,67.9 50.6,65.6 44.9,65.1Z"/><path fill="#fdca78" d="M36.9,67.9 32.6,71.9 30.9,76.4 31.4,81.1 33.6,84.9 36.1,87.1 42.1,89.6 48.4,89.9 52.6,88.9 55.6,87.4 59.4,83.9 61.1,80.1 61.1,75.4 59.6,71.9 56.1,68.4 52.9,66.6 47.4,65.4 42.9,65.6Z"/><path fill="#fdbe6d" d="M39.4,66.9 36.1,68.6 33.9,70.6 31.4,75.1 31.4,80.4 34.4,85.4 38.9,88.4 43.4,89.6 50.1,89.4 53.9,88.1 56.4,86.6 59.6,83.1 61.1,79.1 60.9,75.1 58.4,70.6 55.4,68.1 49.4,65.9 44.9,65.6Z"/><path fill="#fcb362" d="M36.1,68.9 34.4,70.4 32.1,73.6 31.4,76.1 31.4,79.4 33.4,83.9 37.4,87.4 43.1,89.4 49.1,89.4 54.9,87.4 59.4,83.1 60.9,79.4 60.6,75.1 58.9,71.6 55.4,68.4 49.6,66.1 44.4,65.9 40.6,66.6Z"/><path fill="#fba55b" d="M33.4,71.9 31.6,75.9 31.6,79.6 32.4,81.9 35.9,86.1 41.6,88.9 47.6,89.4 52.9,88.1 56.4,86.1 58.6,83.9 60.4,80.6 60.6,75.9 58.9,71.9 55.4,68.6 50.9,66.6 48.4,66.1 41.4,66.6 36.9,68.6Z"/><path fill="#f99755" d="M36.1,69.4 33.1,72.6 32.1,74.6 31.6,78.4 33.1,82.9 36.9,86.6 42.4,88.9 49.9,88.9 55.4,86.6 59.4,82.4 60.6,78.4 59.9,74.1 58.6,71.9 54.6,68.4 50.1,66.6 43.6,66.4 40.4,67.1Z"/><path fill="#f8884f" d="M37.1,68.9 33.9,71.9 31.9,76.4 32.4,80.9 33.9,83.6 36.1,85.9 42.1,88.6 48.9,88.9 54.6,86.9 58.4,83.6 60.1,80.1 60.4,76.4 58.4,71.9 55.1,68.9 50.4,66.9 46.9,66.4 41.9,66.9Z"/><path fill="#f67a49" d="M36.4,69.6 33.9,72.1 32.6,74.4 32.1,79.4 34.1,83.6 37.1,86.4 42.9,88.6 49.4,88.6 55.1,86.4 59.1,82.1 60.1,79.4 59.6,74.4 58.4,72.1 54.4,68.6 49.6,66.9 44.4,66.6 40.1,67.6Z"/><path fill="#f26c46" d="M34.1,72.1 32.4,75.6 32.1,78.1 32.6,80.6 34.1,83.4 36.4,85.6 39.4,87.4 44.1,88.6 50.6,88.1 55.9,85.6 58.1,83.4 59.6,80.6 60.1,77.4 58.6,72.9 55.6,69.6 52.4,67.9 48.6,66.9 42.4,67.1 37.4,69.1Z"/><path fill="#ed5f46" d="M38.1,68.9 34.1,72.4 32.4,76.6 32.9,80.9 34.1,83.1 36.6,85.6 42.1,88.1 48.9,88.4 54.9,86.1 58.1,83.1 59.6,80.1 59.9,76.6 58.6,73.1 55.6,69.9 51.9,67.9 46.9,66.9 43.1,67.1Z"/><path fill="#e85146" d="M35.1,71.4 32.9,75.1 32.9,80.4 34.4,83.1 36.6,85.4 39.6,87.1 44.9,88.4 49.4,88.1 52.6,87.1 55.6,85.4 57.9,83.1 59.4,80.4 59.6,76.1 58.9,73.9 56.6,70.9 52.1,68.1 47.9,67.1 42.6,67.4 37.6,69.4Z"/><path fill="#e34446" d="M34.1,72.9 32.6,77.1 32.9,79.6 33.9,82.1 36.9,85.4 41.6,87.6 48.4,88.1 52.1,87.1 56.9,84.1 59.1,80.6 59.6,77.1 58.1,72.9 55.1,69.9 50.9,67.9 48.6,67.4 41.4,67.9 37.1,69.9Z"/><path fill="#de3646" d="M36.4,70.6 33.4,74.6 32.9,76.4 33.1,80.1 35.4,83.9 39.9,86.9 43.4,87.9 50.1,87.6 55.1,85.4 58.6,81.4 59.4,78.9 58.9,74.6 57.4,72.1 53.1,68.9 49.1,67.6 45.1,67.4 40.4,68.4Z"/><path fill="#d72b45" d="M34.9,72.4 33.1,76.1 33.4,80.4 35.1,83.4 39.6,86.6 44.6,87.9 50.4,87.4 53.6,86.1 56.1,84.4 58.9,80.4 59.1,76.1 57.9,73.1 55.6,70.6 52.1,68.6 48.1,67.6 42.6,67.9 38.1,69.6Z"/><path fill="#d02244" d="M34.4,73.4 33.1,77.1 34.1,81.6 37.4,85.1 41.6,87.1 48.4,87.6 52.1,86.6 57.1,83.1 58.9,79.6 59.1,77.1 57.9,73.4 54.6,70.1 50.9,68.4 48.6,67.9 41.4,68.4 37.6,70.1Z"/><path fill="#c91843" d="M36.9,70.9 35.1,72.6 33.6,75.4 33.4,78.9 35.4,83.1 39.4,86.1 43.4,87.4 50.1,87.1 55.6,84.4 58.4,80.6 58.9,76.4 57.6,73.4 55.4,70.9 51.9,68.9 47.1,67.9 43.1,68.1 40.4,68.9Z"/><path fill="#c20f42" d="M35.4,72.6 33.6,76.1 34.1,80.9 36.6,84.1 41.1,86.6 47.4,87.4 51.9,86.4 56.6,83.1 58.6,79.4 58.6,76.1 56.9,72.6 54.4,70.4 50.4,68.6 47.9,68.1 41.9,68.6 37.9,70.4Z"/><path fill="#bd0841" d="M34.9,73.6 33.9,76.1 33.9,79.4 34.6,81.4 37.6,84.6 42.9,86.9 47.9,87.1 51.9,86.1 56.4,83.1 58.4,79.4 58.1,75.1 56.6,72.6 53.1,69.9 49.6,68.6 43.9,68.4 40.9,69.1 37.9,70.6Z"/><path fill="#bc0541" d="M34.9,74.1 34.1,76.1 34.1,79.4 35.4,82.1 37.6,84.4 42.9,86.6 47.9,86.9 51.9,85.9 54.6,84.4 56.9,82.1 58.1,79.4 58.1,76.1 56.9,73.4 53.9,70.6 49.6,68.9 43.9,68.6 40.9,69.4 37.6,71.1Z"/><path fill="#ba0241" d="M35.6,73.6 34.4,76.4 34.6,79.9 35.6,81.9 37.9,84.1 41.4,85.9 43.4,86.4 48.9,86.4 50.9,85.9 54.4,84.1 56.6,81.9 57.6,79.9 57.9,76.4 56.6,73.6 53.6,70.9 50.1,69.4 47.4,68.9 42.1,69.4 38.6,70.9Z"/><path fill="#b90041" d="M45.1,71.6 40.1,73.9 38.1,75.9 37.4,78.1 40.6,81.9 44.4,83.6 46.9,83.9 52.9,80.9 54.6,78.6 54.9,77.1 54.1,75.9 50.9,73.1 48.1,71.9Z"/></g></g><path fill="none" stroke="#2a2a3a" stroke-width="0.55" stroke-opacity="0.90" stroke-linejoin="round" d="M19.10,69.10C19.35,66.30 19.87,66.17 21.40,64.50C22.93,62.83 25.93,60.98 28.30,59.10C30.67,57.22 33.12,55.37 35.60,53.20C38.08,51.03 40.65,48.45 43.20,46.10C45.75,43.75 48.33,41.43 50.90,39.10C53.47,36.77 56.25,34.12 58.60,32.10C60.95,30.08 62.87,28.38 65.00,27.00C67.13,25.62 70.02,23.17 71.40,23.80C72.78,24.43 72.88,27.50 73.30,30.80C73.72,34.10 73.80,39.33 73.90,43.60C74.00,47.87 73.90,52.33 73.90,56.40C73.90,60.47 74.17,64.07 73.90,68.00C73.63,71.93 73.25,76.75 72.30,80.00C71.35,83.25 70.92,84.98 68.20,87.50C65.48,90.02 60.60,93.70 56.00,95.10C51.40,96.50 45.47,96.67 40.60,95.90C35.73,95.13 30.25,92.93 26.80,90.50C23.35,88.07 21.18,84.87 19.90,81.30C18.62,77.73 18.85,71.90 19.10,69.10Z"/><path fill="none" stroke="#4a4a30" stroke-width="0.55" stroke-opacity="0.80" stroke-linejoin="round" d="M36.00,59.90C40.47,58.37 50.05,58.37 54.40,59.90C58.75,61.43 60.70,65.53 62.10,69.10C63.50,72.67 63.57,77.98 62.80,81.30C62.03,84.62 60.68,87.20 57.50,89.00C54.32,90.80 48.05,92.10 43.70,92.10C39.35,92.10 34.22,91.05 31.40,89.00C28.58,86.95 27.43,83.12 26.80,79.80C26.17,76.48 26.07,72.42 27.60,69.10C29.13,65.78 31.53,61.43 36.00,59.90Z"/><rect x="5.1" y="6.3" width="5.8" height="27.5" fill="url(#cb)"/><text x="6.0" y="4.9" class="dose">Dose</text><text x="11.7" y="8.1" class="lt">150</text><text x="11.7" y="17.8" class="lt">100</text><text x="11.7" y="28.5" class="lt">50</text><line x1="-2.3" y1="0" x2="-2.3" y2="113.0" class="ax"/><line x1="0" y1="114.9" x2="93.6" y2="114.9" class="ax"/><text x="14.5" y="120.0" class="tl" text-anchor="middle">-50</text><text x="45.0" y="120.0" class="tl" text-anchor="middle">0</text><text x="75.5" y="120.0" class="tl" text-anchor="middle">50</text><text x="-4.6" y="23.6" class="tl" text-anchor="end">100</text><text x="-4.6" y="62.1" class="tl" text-anchor="end">50</text><text x="-4.6" y="100.6" class="tl" text-anchor="end">0</text></g><g transform="translate(448.2,267.0)"><rect width="93.6" height="113.0" fill="#6450a5"/><g clip-path="url(#pc)"><g filter="url(#bl)"><path fill="#5d55a9" d="M90.6,31.6 89.4,29.4 86.4,26.6 83.9,25.6 80.4,25.6 72.6,27.4 57.9,27.6 41.9,29.4 24.6,33.4 4.6,38.9 0.1,39.4 0.1,72.4 15.6,73.6 19.9,75.1 24.1,79.6 29.1,91.6 31.4,95.6 33.6,97.9 35.6,98.9 38.6,98.9 39.9,98.4 47.4,92.1 56.4,87.4 60.1,84.6 72.6,71.9 78.9,66.4 87.6,57.1 90.1,52.9 91.9,44.9 91.9,38.9Z"/><path fill="#5958ac" d="M89.6,31.6 86.9,28.1 83.9,26.6 80.1,26.6 72.1,28.4 56.9,28.6 39.1,30.9 5.6,39.6 0.1,40.4 0.1,71.6 15.1,72.6 20.1,74.1 24.6,78.6 29.4,89.9 32.4,95.4 35.9,97.9 39.1,97.6 46.9,91.4 55.4,86.9 59.9,83.6 74.1,69.1 83.6,60.4 87.6,55.6 89.4,52.1 90.9,44.9 90.6,35.9Z"/><path fill="#555bae" d="M89.4,32.9 87.9,30.1 86.4,28.6 82.6,27.1 71.1,29.1 56.1,29.4 38.9,31.6 6.4,40.1 0.1,40.9 0.1,70.9 16.6,72.1 20.9,73.9 25.4,78.6 29.9,89.4 32.9,94.9 35.9,97.1 38.4,97.1 40.4,96.1 47.9,89.9 55.4,86.1 59.1,83.4 72.6,69.6 78.1,64.9 86.4,56.1 88.4,52.9 90.1,45.4 90.4,40.9Z"/><path fill="#505eb1" d="M88.6,32.6 86.4,29.4 83.6,27.9 80.1,27.9 71.9,29.6 54.1,30.1 39.1,32.1 5.6,40.9 0.1,41.6 0.1,70.4 15.1,71.4 18.1,71.9 20.9,73.1 24.9,76.9 26.4,79.1 30.4,89.1 33.4,94.6 35.6,96.4 38.6,96.4 41.4,94.6 46.1,90.4 54.6,85.9 59.1,82.6 72.9,68.6 78.1,64.1 85.9,55.9 87.9,52.6 89.6,44.9 89.6,38.4Z"/><path fill="#4b62b3" d="M87.9,32.1 85.9,29.6 83.4,28.4 80.1,28.4 72.1,30.1 57.1,30.4 45.4,31.6 31.6,34.4 6.9,41.1 0.1,42.1 0.1,69.9 17.1,71.1 21.4,72.9 26.4,78.1 33.1,93.4 35.9,95.9 38.4,95.9 39.9,95.1 45.9,89.9 53.6,85.9 58.6,82.4 71.9,68.9 77.6,63.9 85.4,55.6 87.4,52.4 89.1,44.9 89.1,38.6Z"/><path fill="#4665b6" d="M87.6,32.9 85.6,30.1 83.1,28.9 80.4,28.9 72.1,30.6 57.1,30.9 45.4,32.1 30.6,35.1 5.9,41.9 0.1,42.6 0.1,69.4 17.1,70.6 19.9,71.4 21.9,72.6 24.9,75.4 27.4,78.9 33.4,92.9 35.6,95.1 38.1,95.4 46.9,88.6 54.4,84.9 57.9,82.4 76.6,64.1 85.1,55.1 87.1,51.6 88.6,44.6 88.6,38.6Z"/><path fill="#4168b8" d="M87.1,33.1 85.1,30.4 82.9,29.4 80.6,29.4 72.4,31.1 57.4,31.4 47.6,32.4 36.1,34.4 8.1,41.9 0.1,43.1 0.1,68.9 17.4,70.1 21.4,71.6 27.4,77.9 33.9,92.6 35.9,94.6 38.6,94.6 44.9,89.4 54.6,84.1 58.9,80.9 73.1,66.4 79.9,60.4 84.9,54.6 87.1,49.9 88.1,44.6 88.1,38.9Z"/><path fill="#3c6bba" d="M86.6,33.4 85.1,31.1 82.4,29.9 73.1,31.6 58.1,31.9 46.1,33.1 31.1,36.1 6.4,42.9 0.1,43.6 0.1,68.1 18.9,69.9 21.6,71.1 27.4,76.9 34.4,92.4 36.4,94.1 38.1,94.1 44.6,88.9 54.4,83.6 58.6,80.4 84.4,54.4 86.4,50.4 87.6,43.9 87.4,36.9Z"/><path fill="#376ebd" d="M85.9,33.4 84.6,31.6 82.6,30.6 72.4,32.4 53.1,32.9 40.6,34.6 7.1,43.4 0.1,44.4 0.1,67.6 6.4,67.9 9.1,68.9 17.4,68.9 21.6,70.4 26.6,74.9 28.4,77.4 34.9,91.9 36.6,93.4 38.6,93.1 44.9,87.9 53.6,83.4 57.4,80.6 76.9,61.6 83.1,54.9 85.6,50.6 86.9,44.6 86.9,38.9Z"/><path fill="#3272bf" d="M85.1,34.1 83.6,32.1 82.4,31.6 71.6,33.4 54.4,33.1 33.9,37.1 5.9,44.6 0.1,45.1 0.1,66.6 5.9,66.9 9.1,68.6 18.1,68.1 22.1,69.6 28.4,76.1 31.4,83.6 35.4,90.9 36.6,92.1 38.1,92.1 43.9,87.6 52.4,83.4 57.1,79.9 82.1,54.6 84.6,50.6 85.9,45.1 86.1,41.1Z"/><path fill="#2f76c1" d="M84.6,36.1 83.4,34.4 81.6,33.6 79.4,34.1 76.6,36.6 70.9,36.6 64.6,33.9 51.9,33.9 38.9,38.1 30.1,42.6 12.6,49.4 5.4,51.4 0.1,51.4 0.1,60.4 4.9,60.9 5.4,61.4 5.9,64.9 8.1,68.1 10.4,68.4 16.4,67.4 21.1,67.4 23.1,68.1 27.9,73.9 32.4,84.9 36.6,89.1 38.9,89.4 49.6,84.4 55.1,80.6 81.6,53.1 83.4,50.4 85.1,44.1Z"/><path fill="#2c79c3" d="M84.1,36.1 82.6,34.6 80.1,34.6 74.6,43.1 70.1,37.9 65.6,34.6 64.1,34.1 54.4,33.6 45.1,36.4 37.6,39.6 31.9,43.6 27.6,50.1 23.4,53.6 15.1,55.9 8.9,60.1 6.6,63.6 7.1,66.6 8.6,68.1 19.1,66.9 22.9,66.9 24.9,67.9 27.1,69.9 31.6,82.9 33.1,85.4 37.1,88.6 39.1,88.6 43.4,87.1 51.4,83.1 59.6,75.9 69.9,63.4 75.4,58.6 82.4,51.4 84.9,43.4Z"/><path fill="#297dc4" d="M82.9,35.1 80.9,34.6 79.6,35.4 77.1,40.4 74.6,43.6 70.9,38.9 66.4,35.4 64.1,34.4 53.6,33.9 40.4,38.6 32.4,43.6 30.9,45.1 27.6,50.6 24.6,53.1 22.1,54.6 15.4,56.1 9.4,60.1 7.1,62.9 7.4,66.6 9.1,68.1 19.1,66.6 23.1,66.6 26.6,68.6 27.6,70.1 32.4,84.1 37.4,88.4 38.9,88.4 44.1,86.6 51.4,82.9 55.9,79.1 59.9,75.1 63.9,69.4 69.6,62.9 76.6,57.1 81.9,51.6 84.6,43.4 84.1,36.9Z"/><path fill="#2681c6" d="M82.9,35.4 80.9,34.9 79.4,36.1 78.1,39.1 74.9,43.9 73.4,42.9 71.9,40.4 69.6,38.1 64.4,34.6 53.1,34.1 43.9,37.4 38.1,39.9 32.4,43.9 27.9,50.6 24.6,53.4 21.1,55.1 15.9,56.1 9.4,60.4 7.1,63.6 7.6,66.6 8.6,67.9 19.6,66.4 23.1,66.4 25.1,67.4 27.6,69.4 32.1,83.1 35.1,86.6 37.4,88.1 39.1,88.1 44.9,86.1 51.9,82.4 59.6,75.1 63.9,68.9 71.4,60.9 74.9,58.4 81.6,51.6 84.4,43.6 83.9,36.9Z"/><path fill="#2384c8" d="M83.6,36.6 82.6,35.4 80.6,35.1 74.9,44.1 73.9,43.9 71.9,40.6 69.6,38.4 64.6,34.9 53.9,34.1 46.1,36.6 37.6,40.4 32.6,43.9 28.1,50.6 23.1,54.6 15.6,56.4 9.4,60.6 7.4,63.4 7.6,66.4 9.4,67.9 20.6,66.1 22.9,66.1 26.6,68.1 28.1,70.1 32.1,82.9 33.1,84.6 36.6,87.6 38.1,88.1 43.9,86.4 51.6,82.4 59.4,75.1 63.6,68.9 68.1,63.9 74.9,58.1 81.4,51.6 84.1,44.1Z"/><path fill="#2088ca" d="M82.4,35.4 81.1,35.1 80.1,35.6 77.6,40.6 74.9,44.4 73.1,43.1 70.4,39.1 65.9,35.6 64.1,34.9 53.1,34.4 44.6,37.4 38.4,40.1 32.9,43.9 31.4,45.4 27.9,51.1 23.4,54.6 15.4,56.6 9.9,60.4 7.6,63.1 7.9,66.6 8.9,67.6 19.1,66.1 23.4,66.1 25.4,67.1 28.1,69.6 32.4,83.1 34.4,85.6 37.6,87.9 45.4,85.6 51.4,82.4 59.6,74.6 63.6,68.6 68.1,63.6 76.1,56.9 81.4,51.4 84.1,43.4 83.6,37.1Z"/><path fill="#1d8ccb" d="M83.4,36.6 81.9,35.4 80.4,35.6 77.1,41.6 74.6,44.6 73.1,43.4 70.1,39.1 65.6,35.6 63.6,34.9 53.9,34.4 44.4,37.6 38.6,40.1 33.1,43.9 31.4,45.6 28.6,50.4 23.6,54.6 15.9,56.6 10.1,60.4 8.1,62.4 7.6,63.6 8.1,66.9 9.9,67.6 15.4,66.4 23.1,65.9 25.6,67.1 28.1,69.4 32.9,83.9 37.4,87.6 39.1,87.6 43.9,86.1 51.9,81.9 59.6,74.4 63.6,68.4 68.6,62.9 75.4,57.4 81.6,50.9 83.9,43.9Z"/><path fill="#1b8fca" d="M82.6,35.9 80.6,35.6 77.9,40.6 74.9,44.6 74.1,44.6 73.1,43.6 71.4,40.6 69.6,38.9 64.1,35.1 53.1,34.6 38.9,40.1 32.6,44.4 28.4,50.9 23.9,54.6 15.6,56.9 9.4,61.1 7.9,63.1 8.1,66.6 8.9,67.4 10.6,67.4 16.4,66.1 22.1,65.6 24.1,66.1 28.1,69.1 32.1,81.9 33.9,84.9 37.6,87.6 45.4,85.4 51.4,82.1 59.1,74.9 63.9,67.9 67.1,64.4 80.9,51.6 81.9,50.1 83.9,43.4 83.4,37.1Z"/><path fill="#1a92ca" d="M83.1,36.6 81.9,35.6 80.9,35.6 74.9,44.9 73.4,44.1 70.4,39.6 64.6,35.4 53.6,34.6 45.6,37.4 37.9,40.9 32.9,44.4 28.4,51.1 23.6,54.9 15.9,56.9 9.9,60.9 8.1,62.9 8.1,66.1 9.1,67.4 20.6,65.6 24.4,66.1 26.9,67.6 28.4,69.4 33.1,83.9 37.4,87.4 39.4,87.4 43.9,85.9 51.1,82.1 59.4,74.4 63.4,68.4 68.1,63.1 74.4,57.9 81.1,51.1 83.6,44.1Z"/><path fill="#1796c9" d="M83.1,37.1 82.1,35.9 80.4,36.1 77.9,41.1 74.6,45.1 73.4,44.4 69.9,39.4 64.1,35.4 53.1,34.9 46.6,37.1 38.1,40.9 33.4,44.1 31.6,45.9 28.9,50.6 23.9,54.9 15.6,57.1 10.4,60.6 8.1,63.1 8.4,66.4 8.9,67.1 10.9,67.1 19.1,65.6 23.6,65.6 27.4,67.9 28.4,69.1 33.1,83.6 37.6,87.4 43.6,85.9 51.4,81.9 58.6,75.1 63.6,67.9 69.1,61.9 75.1,57.1 81.1,50.9 83.6,43.4Z"/><path fill="#159bc9" d="M82.9,37.1 81.4,35.9 80.1,36.9 78.1,41.1 74.9,45.4 73.1,44.4 69.9,39.6 64.4,35.6 54.1,34.9 47.1,37.1 38.9,40.6 33.4,44.4 31.6,46.1 28.4,51.6 23.9,55.1 16.1,57.1 10.4,60.9 8.4,63.1 8.4,65.9 9.1,66.9 11.1,66.9 17.1,65.6 23.4,65.4 27.4,67.6 28.6,69.4 33.4,83.6 37.6,87.1 43.1,85.9 50.6,82.1 58.6,74.9 62.9,68.6 71.4,59.6 75.4,56.6 80.9,50.9 83.4,43.6Z"/><path fill="#12a1c7" d="M82.6,37.1 81.4,36.1 80.4,36.9 78.4,41.1 74.9,45.6 74.1,45.6 72.9,44.4 71.1,41.4 68.9,39.1 64.4,35.9 53.9,35.1 47.1,37.4 38.9,40.9 33.4,44.6 31.9,46.1 28.6,51.6 23.9,55.4 16.1,57.4 11.1,60.6 8.6,63.1 8.6,65.9 9.1,66.6 11.1,66.6 17.4,65.4 23.4,65.1 25.9,66.4 28.1,68.1 33.4,83.4 37.4,86.9 39.4,86.9 43.4,85.6 50.6,81.9 54.9,78.4 58.6,74.6 62.9,68.4 67.6,63.1 80.6,50.9 83.1,43.9Z"/><path fill="#15a6c0" d="M82.4,37.1 81.9,36.6 80.6,37.1 78.4,41.6 75.1,45.9 73.6,45.6 70.6,41.1 64.4,36.1 54.1,35.4 45.9,38.1 38.1,41.6 33.4,44.9 28.9,51.6 24.4,55.4 22.1,56.4 16.1,57.6 10.9,61.1 8.9,63.4 8.9,65.6 9.4,66.4 11.1,66.4 19.9,64.9 23.4,64.9 24.6,65.4 28.6,68.6 30.6,75.6 33.6,83.4 37.4,86.6 39.6,86.6 44.1,85.1 51.1,81.4 58.6,74.4 63.1,67.9 67.9,62.6 74.4,56.9 80.6,50.4 82.9,43.6Z"/><path fill="#18acb8" d="M81.9,37.1 80.9,37.4 79.1,41.1 75.1,46.4 73.6,46.1 70.1,41.1 63.9,36.4 53.6,35.9 47.6,37.9 38.4,41.9 33.9,44.9 32.1,46.6 27.6,53.4 23.4,56.4 15.1,58.6 9.4,63.1 9.1,65.1 9.9,66.1 21.1,64.4 24.9,65.1 27.1,66.6 28.9,68.9 31.4,77.4 33.9,83.4 37.6,86.4 39.9,86.4 43.6,85.1 50.4,81.6 54.4,78.4 58.6,74.1 62.4,68.6 68.4,61.9 80.4,50.1 82.6,42.9Z"/><path fill="#1bb1b0" d="M67.1,40.6 63.4,39.4 52.1,38.9 45.6,39.9 40.6,41.4 34.1,45.1 32.4,46.9 27.6,54.1 26.6,56.9 25.4,64.1 29.1,69.1 30.6,74.9 33.9,82.9 37.6,86.1 39.9,86.1 44.4,84.6 52.4,79.9 58.4,74.1 63.9,66.6 74.4,55.1 74.9,54.1 74.9,51.6 73.9,47.9 71.1,44.1Z"/><path fill="#1eb6a9" d="M66.1,41.6 64.1,40.9 52.4,40.1 47.9,40.6 40.9,42.1 34.9,45.1 32.6,47.1 28.6,54.1 27.4,61.1 27.4,65.4 28.9,68.1 32.6,79.9 33.9,82.4 36.4,84.9 38.1,85.9 41.1,85.6 47.4,82.9 51.4,80.4 58.4,73.9 62.9,67.6 70.9,58.6 72.9,54.4 72.1,47.6 71.1,45.9Z"/><path fill="#28baa7" d="M66.4,42.4 62.4,41.1 54.1,40.6 47.9,41.1 40.9,42.6 34.9,45.6 32.9,47.4 29.1,54.1 27.9,61.4 27.9,65.1 32.9,80.1 34.4,82.6 36.6,84.6 38.4,85.6 41.1,85.4 47.4,82.6 50.9,80.4 58.1,73.9 63.1,67.1 69.6,59.9 72.1,55.1 72.1,49.9 70.9,46.4Z"/><path fill="#33bea5" d="M66.1,42.6 63.6,41.6 56.9,41.1 46.9,41.6 40.6,43.1 35.1,45.9 32.9,47.9 29.4,54.4 28.1,64.1 29.9,71.4 32.9,79.6 34.1,81.9 37.1,84.6 38.6,85.4 42.6,84.6 47.4,82.4 53.1,78.4 57.9,73.9 69.4,59.9 71.9,54.6 71.6,49.1 70.6,46.6Z"/><path fill="#3ec1a4" d="M65.6,42.6 63.4,41.9 50.6,41.4 44.1,42.4 40.1,43.6 35.6,45.9 32.9,48.4 30.1,53.1 29.4,55.6 28.4,63.1 28.6,65.9 30.1,71.9 33.9,81.1 37.6,84.6 40.4,85.1 47.4,82.1 53.1,78.1 57.4,74.1 68.6,60.6 71.6,54.4 71.6,50.9 70.6,47.1Z"/><path fill="#49c5a2" d="M65.9,43.1 63.4,42.1 48.6,41.9 41.4,43.4 35.6,46.1 33.4,48.1 29.9,54.6 28.6,62.9 28.9,65.9 30.1,71.4 33.1,79.4 34.1,81.1 37.4,84.1 38.9,84.9 42.1,84.4 47.4,81.9 53.1,77.9 58.9,72.1 67.9,61.4 70.9,55.9 71.4,50.9 70.1,46.9Z"/><path fill="#54c8a1" d="M66.6,43.9 63.4,42.4 50.1,41.9 41.4,43.6 36.1,46.1 33.6,48.1 30.1,54.6 28.9,63.9 30.1,70.9 32.4,77.1 34.4,81.1 37.4,83.9 38.9,84.6 42.1,84.1 47.4,81.6 51.4,78.9 56.1,74.9 67.9,61.1 71.1,54.4 71.1,50.9 69.9,46.9Z"/><path fill="#62cca1" d="M65.1,43.1 57.6,42.1 48.1,42.4 40.6,44.1 35.6,46.6 33.9,48.1 30.4,54.4 29.1,64.4 30.6,72.1 32.9,77.9 34.9,81.4 37.4,83.6 38.9,84.4 41.6,84.1 46.1,82.1 53.1,77.4 58.6,71.9 67.1,61.9 70.9,54.4 70.9,50.4 69.6,46.9Z"/><path fill="#73d2a2" d="M66.6,44.4 64.6,43.1 62.4,42.6 51.9,42.1 42.6,43.6 34.4,47.9 31.6,52.1 30.4,55.1 29.4,61.4 29.4,64.9 30.6,71.6 34.4,80.4 37.4,83.4 38.6,84.1 42.4,83.6 46.6,81.6 52.1,77.9 58.6,71.6 66.4,62.6 68.9,58.6 70.9,53.4 70.1,48.1Z"/><path fill="#84d6a3" d="M65.6,43.9 62.9,42.9 49.1,42.6 41.6,44.1 35.6,47.1 33.6,49.1 30.9,54.1 29.6,60.9 29.6,65.4 30.9,71.9 33.4,78.1 35.4,81.4 37.4,83.1 39.6,84.1 41.9,83.6 46.6,81.4 52.1,77.6 58.6,71.4 67.1,61.4 70.4,54.9 70.6,51.6 69.6,47.6Z"/><path fill="#94dca4" d="M65.6,44.1 63.1,43.1 56.4,42.6 47.1,43.1 39.9,45.1 36.4,46.9 33.9,49.1 30.6,55.9 29.9,60.6 29.9,65.9 30.9,71.4 34.6,80.1 37.4,82.9 39.4,83.9 41.9,83.4 47.1,80.9 52.9,76.9 58.6,71.1 66.9,61.4 69.9,55.6 70.4,51.1 69.4,47.6Z"/><path fill="#a5e0a5" d="M65.6,44.4 61.4,43.1 48.4,43.1 40.9,44.9 36.4,47.1 34.1,49.1 31.1,54.6 29.9,64.1 30.9,70.6 32.4,74.9 34.9,80.1 37.4,82.6 39.1,83.6 41.4,83.4 45.9,81.4 51.9,77.4 58.6,70.9 66.9,61.1 69.9,55.1 70.1,50.6 69.1,47.6Z"/><path fill="#b5e5a8" d="M65.6,44.6 61.9,43.4 53.1,42.9 48.1,43.4 41.4,44.9 36.4,47.4 34.4,49.1 31.1,55.4 30.1,64.6 31.1,70.9 34.6,79.4 37.4,82.4 39.1,83.4 42.1,82.9 46.4,80.9 52.6,76.6 58.9,70.4 66.6,61.1 69.9,54.4 69.9,50.4 68.9,47.6Z"/><path fill="#c4eaab" d="M65.6,44.9 62.1,43.6 54.4,43.1 46.4,43.9 41.4,45.1 36.4,47.6 34.1,49.9 31.4,55.4 30.4,61.4 30.4,65.1 31.4,71.1 35.4,80.1 39.1,83.1 42.1,82.6 46.4,80.6 51.6,77.1 56.6,72.6 65.9,61.9 68.9,56.4 69.9,52.1 69.1,48.4Z"/><path fill="#d4efaf" d="M65.9,45.4 62.4,43.9 49.6,43.6 41.4,45.4 36.9,47.6 34.6,49.6 31.6,55.4 30.6,61.1 30.6,65.4 31.6,71.1 35.4,79.6 38.1,82.4 39.1,82.9 42.1,82.4 46.4,80.4 52.4,76.4 57.4,71.6 65.6,61.9 68.9,55.9 69.6,53.4 69.1,49.1 68.1,47.4Z"/><path fill="#e3f4b2" d="M65.1,45.1 62.1,44.1 49.6,43.9 42.1,45.4 35.1,49.4 31.9,55.4 30.9,61.4 30.9,65.4 31.6,70.1 32.9,73.9 35.6,79.6 37.6,81.6 39.4,82.6 41.4,82.4 45.9,80.4 51.4,76.9 57.6,71.1 65.1,62.1 68.4,56.4 69.4,53.4 69.1,50.1 68.4,48.1Z"/><path fill="#eef7b6" d="M64.9,45.4 61.4,44.4 50.1,44.1 41.9,45.9 35.4,49.6 32.4,54.9 31.1,61.6 31.1,64.9 32.9,73.1 35.4,78.6 37.9,81.4 39.1,82.1 43.1,81.4 51.4,76.6 57.9,70.6 66.4,59.9 68.9,54.4 68.4,48.9Z"/><path fill="#f3f8b9" d="M64.9,45.9 62.1,44.9 54.9,44.4 49.9,44.6 41.9,46.4 37.4,48.6 35.6,50.1 32.6,55.6 31.4,63.6 32.4,70.6 35.6,78.4 38.6,81.4 41.1,81.6 44.6,80.4 52.1,75.9 57.9,70.4 64.9,61.6 68.6,53.9 68.1,49.4Z"/><path fill="#f9f9bc" d="M64.6,46.6 62.1,45.6 51.6,45.1 42.6,47.1 36.6,50.6 33.4,55.9 32.1,61.4 32.1,66.1 33.4,72.1 36.1,78.4 39.6,80.9 42.1,80.9 44.4,80.1 52.1,75.6 57.9,70.1 65.6,59.9 67.9,54.4 68.1,52.6 67.4,49.4Z"/><path fill="#fcf7b7" d="M63.9,48.4 62.4,47.6 58.9,47.1 54.4,47.1 48.9,48.1 41.6,51.6 36.6,56.1 34.4,59.4 33.4,61.9 33.1,66.9 33.9,70.9 35.9,75.4 36.1,77.4 37.4,78.9 41.4,80.4 44.6,79.6 52.1,75.4 57.9,69.9 64.1,61.4 66.6,55.6 66.4,51.9Z"/><path fill="#fdf0a9" d="M62.9,48.9 61.4,48.4 57.4,48.4 48.1,50.6 41.6,54.4 36.6,59.4 34.9,62.4 34.6,68.6 35.4,73.1 37.4,78.4 41.6,79.9 46.1,78.6 52.4,74.9 57.9,69.6 63.6,61.1 65.4,56.1 65.1,52.1Z"/><path fill="#fde99b" d="M62.6,49.4 61.1,48.9 56.1,49.1 49.1,51.1 42.9,54.6 37.4,59.6 35.4,63.4 35.4,69.6 35.9,72.9 36.9,74.9 36.9,76.9 37.6,78.1 41.1,79.4 43.1,79.4 47.6,77.6 52.4,74.6 57.9,69.4 62.4,62.4 64.6,56.1 64.6,52.4Z"/><path fill="#fee28d" d="M62.6,49.9 61.6,49.4 55.9,49.6 48.1,52.1 42.1,55.9 37.1,60.6 35.9,63.1 35.9,70.6 37.1,74.6 37.1,76.6 38.1,78.1 41.4,79.1 45.1,78.4 49.9,76.1 56.4,70.9 60.9,64.4 63.9,57.1 64.4,53.1Z"/><path fill="#fed682" d="M62.4,50.1 60.9,49.6 56.6,49.9 49.1,52.1 43.1,55.6 37.6,60.6 36.1,64.1 36.1,68.6 37.4,76.6 38.1,77.9 42.4,78.9 46.9,77.4 52.6,73.9 57.4,69.4 61.6,62.1 63.6,56.6 64.1,53.9 63.6,51.9Z"/><path fill="#fdca78" d="M62.1,50.4 57.1,50.1 49.4,52.4 42.6,56.4 37.6,61.1 36.6,63.1 36.6,71.1 38.1,77.6 39.6,78.4 42.6,78.6 46.9,77.1 52.9,73.4 57.4,69.1 61.4,61.9 63.6,55.4 63.6,52.9Z"/><path fill="#fdbe6d" d="M61.9,50.6 57.4,50.4 50.1,52.4 43.1,56.4 37.6,61.6 36.9,63.4 36.9,70.6 37.9,73.9 37.9,76.9 38.9,77.9 42.9,78.4 46.9,76.9 51.9,73.9 57.1,69.1 60.6,62.9 63.1,55.9 63.4,53.1Z"/><path fill="#fcb362" d="M61.6,50.9 56.1,50.9 49.1,53.1 43.6,56.4 38.4,61.1 37.1,63.6 37.1,69.6 38.1,73.6 37.9,76.1 39.1,77.9 41.9,78.4 45.9,77.1 50.1,74.9 56.6,69.4 60.6,62.1 62.6,56.6 63.1,53.6Z"/><path fill="#fba55b" d="M61.6,51.4 60.1,50.9 56.6,51.1 49.9,53.1 44.1,56.4 38.4,61.6 37.4,64.1 37.4,68.1 38.4,73.4 38.1,76.4 39.1,77.6 42.6,78.1 46.1,76.9 50.1,74.6 55.9,69.9 59.9,63.1 62.1,57.1 62.6,53.1Z"/><path fill="#f99755" d="M61.1,51.6 55.9,51.6 48.9,53.9 44.6,56.4 38.9,61.4 37.9,63.4 37.9,69.9 38.6,72.6 38.4,76.6 39.4,77.6 41.9,78.1 47.4,76.1 51.1,73.6 56.1,69.1 59.9,62.4 62.1,55.9 62.4,53.9Z"/><path fill="#f8884f" d="M61.1,52.4 60.1,51.9 56.9,51.9 49.6,53.9 43.4,57.6 39.6,60.9 38.1,63.9 38.4,69.9 39.1,72.1 38.4,74.9 38.9,77.1 40.4,77.9 42.6,77.9 44.9,77.1 49.9,74.4 55.9,68.9 58.9,63.9 61.1,57.9 61.9,54.6Z"/><path fill="#f67a49" d="M59.9,52.9 55.4,52.6 50.1,54.1 42.1,58.9 39.6,61.4 38.6,63.6 38.9,68.6 40.1,71.6 38.6,74.4 38.6,76.4 39.1,77.1 42.1,77.9 46.9,76.1 50.6,73.6 55.9,68.1 59.4,61.9 60.4,58.9 60.9,53.9Z"/><path fill="#f26c46" d="M58.6,54.4 56.9,53.6 53.9,53.6 50.1,54.6 42.9,58.6 39.9,61.4 39.4,62.4 39.6,66.6 40.6,68.9 41.9,69.9 41.9,70.6 38.9,74.1 38.6,75.9 39.4,77.1 42.6,77.6 46.1,76.4 50.1,73.9 52.9,71.1 58.6,62.6 59.9,58.1 59.9,56.1Z"/><path fill="#ed5f46" d="M56.9,55.9 54.6,54.9 50.1,55.4 42.9,58.9 40.4,61.1 39.9,64.1 41.9,66.9 44.4,69.1 39.1,73.9 38.9,76.1 39.6,77.1 42.4,77.6 45.9,76.4 49.6,74.1 52.4,71.4 53.4,69.6 53.6,67.6 57.4,64.1 58.4,62.1 58.4,57.9Z"/><path fill="#e85146" d="M55.6,57.6 53.6,56.6 48.9,56.9 44.9,58.1 40.9,60.9 40.1,62.4 40.6,64.4 42.4,65.9 47.6,67.9 41.9,71.4 39.6,73.4 38.9,75.6 39.9,77.1 42.9,77.4 45.1,76.6 49.1,74.4 51.4,72.4 52.9,69.9 52.6,68.6 51.4,67.4 56.6,64.4 57.9,62.1 57.9,60.4Z"/><path fill="#e34446" d="M52.4,69.1 50.1,68.1 44.1,70.1 39.6,73.6 39.1,76.1 40.6,77.4 42.6,77.4 47.4,75.4 51.4,72.1 52.4,70.4ZM57.4,60.6 55.9,58.9 53.9,57.9 49.1,57.4 43.6,58.9 41.1,60.9 40.4,62.9 41.6,64.9 43.9,66.1 49.1,66.9 52.9,66.1 55.4,64.9 57.1,63.1Z"/><path fill="#de3646" d="M51.9,69.1 48.6,68.6 42.4,71.4 39.6,73.9 39.1,75.4 39.6,76.6 41.9,77.4 47.6,75.1 51.4,71.9 52.1,70.4ZM40.9,61.6 40.9,63.4 42.1,64.9 46.1,66.4 50.6,66.4 53.4,65.6 55.6,64.4 57.1,62.1 56.9,60.6 55.9,59.4 52.4,57.9 46.1,58.1 43.1,59.4Z"/><path fill="#d72b45" d="M51.6,69.4 50.9,68.9 48.4,68.9 43.9,70.6 39.6,74.1 39.6,76.4 40.9,77.1 42.6,77.1 46.6,75.6 50.6,72.6 51.9,70.4ZM56.6,60.9 55.4,59.4 53.1,58.4 50.1,57.9 47.1,58.1 42.4,60.1 41.1,61.6 41.1,63.4 42.6,64.9 44.9,65.9 50.6,66.1 54.9,64.6 56.6,62.6Z"/><path fill="#d02244" d="M51.4,69.6 50.6,69.1 48.1,69.1 43.6,70.9 40.1,73.6 39.6,76.1 42.1,77.1 46.9,75.4 50.6,72.4 51.6,70.6ZM41.4,61.6 41.4,63.1 42.6,64.6 44.6,65.6 47.4,66.1 52.9,65.4 54.9,64.4 56.4,62.6 56.4,61.1 54.9,59.4 50.9,58.1 44.9,58.9 42.6,60.1Z"/><path fill="#c91843" d="M51.4,70.1 49.6,69.1 45.4,70.1 41.6,72.4 40.1,73.9 39.6,75.6 40.9,76.9 45.1,76.1 48.6,74.1 50.9,71.9ZM41.6,61.6 41.6,63.1 42.9,64.6 46.6,65.9 50.1,65.9 53.1,65.1 54.9,64.1 56.1,62.6 56.1,61.1 54.9,59.6 51.6,58.4 46.1,58.6 43.6,59.6Z"/><path fill="#c20f42" d="M50.9,69.9 48.4,69.4 44.1,70.9 40.1,74.1 39.9,75.9 40.6,76.6 42.4,76.9 47.4,74.9 50.6,71.9 51.1,70.9ZM41.9,61.6 42.1,63.6 45.9,65.6 51.9,65.4 54.9,63.9 55.9,62.6 55.9,61.1 54.9,59.9 52.9,58.9 50.1,58.4 44.4,59.4Z"/><path fill="#bd0841" d="M50.9,70.4 50.1,69.6 47.6,69.6 43.9,71.1 40.6,73.6 40.1,75.9 41.1,76.6 43.1,76.6 47.1,74.9 50.1,72.4ZM42.1,61.6 42.1,63.1 42.9,64.1 46.9,65.6 49.9,65.6 52.9,64.9 55.6,62.6 55.6,61.1 54.9,60.1 51.1,58.6 45.4,59.1 43.4,60.1Z"/><path fill="#bc0541" d="M50.4,70.1 48.9,69.6 44.1,71.1 40.6,73.9 40.1,74.9 40.4,75.9 42.4,76.6 47.4,74.6 50.1,72.1 50.6,71.1ZM42.1,62.4 43.1,64.1 45.1,65.1 50.6,65.4 54.4,63.9 55.4,62.6 55.4,61.1 53.4,59.4 48.6,58.6 43.6,60.1Z"/><path fill="#ba0241" d="M50.4,70.6 49.4,69.9 47.9,69.9 43.9,71.4 40.6,74.1 40.6,75.9 43.1,76.4 47.1,74.6 49.9,72.1ZM42.4,62.1 42.9,63.6 44.9,64.9 49.9,65.4 54.4,63.6 55.1,62.6 55.1,61.1 52.1,59.1 47.6,58.9 44.4,59.9Z"/><path fill="#b90041" d="M49.9,70.4 47.4,70.1 44.1,71.4 40.9,74.1 40.6,75.4 41.4,76.1 43.4,76.1 46.9,74.6 49.4,72.6 50.1,71.1ZM42.6,62.1 42.9,63.1 44.6,64.6 46.4,65.1 50.6,65.1 54.1,63.6 54.9,62.6 54.9,61.1 53.1,59.6 48.6,58.9 44.6,59.9Z"/></g></g><path fill="none" stroke="#1c1c30" stroke-width="0.60" stroke-opacity="0.85" stroke-linejoin="round" d="M7.70,63.60C7.80,62.60 7.73,62.68 9.00,61.60C10.27,60.52 12.97,58.17 15.30,57.10C17.63,56.03 20.87,56.15 23.00,55.20C25.13,54.25 26.60,53.10 28.10,51.40C29.60,49.70 30.28,46.82 32.00,45.00C33.72,43.18 36.07,41.78 38.40,40.50C40.73,39.22 43.45,38.30 46.00,37.30C48.55,36.30 50.62,34.83 53.70,34.50C56.78,34.17 61.68,34.40 64.50,35.30C67.32,36.20 68.95,38.12 70.60,39.90C72.25,41.68 73.12,46.00 74.40,46.00C75.68,46.00 77.27,41.68 78.30,39.90C79.33,38.12 79.83,35.95 80.60,35.30C81.37,34.65 82.40,34.73 82.90,36.00C83.40,37.27 83.87,40.47 83.60,42.90C83.33,45.33 82.70,48.30 81.30,50.60C79.90,52.90 77.23,54.92 75.20,56.70C73.17,58.48 71.13,59.50 69.10,61.30C67.07,63.10 64.77,65.25 63.00,67.50C61.23,69.75 60.42,72.47 58.50,74.80C56.58,77.13 53.83,79.77 51.50,81.50C49.17,83.23 46.82,84.20 44.50,85.20C42.18,86.20 39.52,87.75 37.60,87.50C35.68,87.25 34.15,85.62 33.00,83.70C31.85,81.78 31.47,78.57 30.70,76.00C29.93,73.43 29.68,70.08 28.40,68.30C27.12,66.52 25.18,65.68 23.00,65.30C20.82,64.92 17.73,65.62 15.30,66.00C12.87,66.38 9.67,68.00 8.40,67.60C7.13,67.20 7.60,64.60 7.70,63.60Z"/><path fill="none" stroke="#2a3a30" stroke-width="0.55" stroke-opacity="0.80" stroke-linejoin="round" d="M30.70,53.90C31.55,51.32 32.58,49.20 34.50,47.50C36.42,45.80 39.62,44.55 42.20,43.70C44.78,42.85 48.33,42.65 50.00,42.40C51.67,42.15 49.78,42.10 52.20,42.20C54.62,42.30 61.57,42.12 64.50,43.00C67.43,43.88 68.78,45.72 69.80,47.50C70.82,49.28 71.10,51.40 70.60,53.70C70.10,56.00 68.58,58.75 66.80,61.30C65.02,63.85 62.08,66.55 59.90,69.00C57.72,71.45 56.02,73.93 53.70,76.00C51.38,78.07 48.43,80.00 46.00,81.40C43.57,82.80 41.02,84.53 39.10,84.40C37.18,84.27 35.90,82.77 34.50,80.60C33.10,78.43 31.55,74.33 30.70,71.40C29.85,68.47 29.40,65.92 29.40,63.00C29.40,60.08 29.85,56.48 30.70,53.90Z"/><path fill="none" stroke="#5a3a2a" stroke-width="0.50" stroke-opacity="0.70" stroke-linejoin="round" d="M56.00,50.60C58.18,50.08 60.92,49.28 62.20,49.80C63.48,50.32 64.08,51.52 63.70,53.70C63.32,55.88 61.07,60.20 59.90,62.90C58.73,65.60 58.50,67.72 56.70,69.90C54.90,72.08 51.65,74.47 49.10,76.00C46.55,77.53 43.45,79.60 41.40,79.10C39.35,78.60 37.57,75.82 36.80,73.00C36.03,70.18 35.77,64.92 36.80,62.20C37.83,59.48 40.95,58.25 43.00,56.70C45.05,55.15 46.93,53.92 49.10,52.90C51.27,51.88 53.82,51.12 56.00,50.60Z"/><rect x="5.1" y="6.3" width="5.8" height="27.5" fill="url(#cb)"/><text x="6.0" y="4.9" class="dose">Dose</text><text x="11.7" y="8.1" class="lt">150</text><text x="11.7" y="17.8" class="lt">100</text><text x="11.7" y="28.5" class="lt">50</text><line x1="-2.3" y1="0" x2="-2.3" y2="113.0" class="ax"/><line x1="0" y1="114.9" x2="93.6" y2="114.9" class="ax"/><text x="14.5" y="120.0" class="tl" text-anchor="middle">-50</text><text x="45.0" y="120.0" class="tl" text-anchor="middle">0</text><text x="75.5" y="120.0" class="tl" text-anchor="middle">50</text><text x="-4.6" y="23.6" class="tl" text-anchor="end">100</text><text x="-4.6" y="62.1" class="tl" text-anchor="end">50</text><text x="-4.6" y="100.6" class="tl" text-anchor="end">0</text></g><rect x="332.4" y="13.0" width="105.4" height="374.6" fill="none" stroke="#ee5a6a" stroke-width="1.5"/></svg></body></html>
